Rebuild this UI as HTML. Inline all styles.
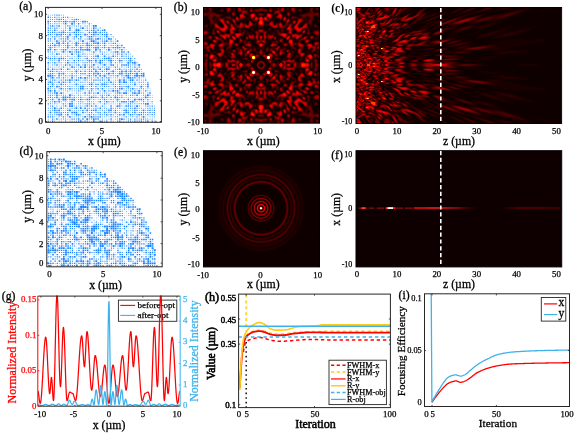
<!DOCTYPE html>
<html><head><meta charset="utf-8"><title>Figure</title>
<style>html,body{margin:0;padding:0;background:#fff}svg{display:block}text{font-family:"Liberation Serif", "Times New Roman", serif}</style>
</head><body>
<svg width="575" height="433" viewBox="0 0 575 433">
<rect width="575" height="433" fill="#fff"/>
<path fill="#1a84ff" d="M47.98 120.92h.6v.6h-.6zM56.64 120.92h.6v.6h-.6zM63.14 120.92h.6v.6h-.6zM67.47 120.92h.6v.6h-.6zM91.28 120.92h.6v.6h-.6zM108.6 120.92h.6v.6h-.6zM115.1 120.92h.6v.6h-.6zM149.74 120.92h.6v.6h-.6zM50.15 118.75h.6v.6h-.6zM84.79 118.75h.6v.6h-.6zM99.94 118.75h.6v.6h-.6zM104.27 118.75h.6v.6h-.6zM112.93 118.75h.6v.6h-.6zM132.42 118.75h.6v.6h-.6zM154.07 118.75h.6v.6h-.6zM56.64 116.59h.6v.6h-.6zM80.46 116.59h.6v.6h-.6zM119.43 116.59h.6v.6h-.6zM128.09 116.59h.6v.6h-.6zM130.25 116.59h.6v.6h-.6zM147.57 116.59h.6v.6h-.6zM63.14 114.42h.6v.6h-.6zM69.63 114.42h.6v.6h-.6zM82.62 114.42h.6v.6h-.6zM84.79 114.42h.6v.6h-.6zM115.1 114.42h.6v.6h-.6zM125.92 114.42h.6v.6h-.6zM47.98 112.26h.6v.6h-.6zM52.31 112.26h.6v.6h-.6zM69.63 112.26h.6v.6h-.6zM78.29 112.26h.6v.6h-.6zM80.46 112.26h.6v.6h-.6zM93.45 112.26h.6v.6h-.6zM102.11 112.26h.6v.6h-.6zM121.59 112.26h.6v.6h-.6zM130.25 112.26h.6v.6h-.6zM63.14 110.09h.6v.6h-.6zM65.3 110.09h.6v.6h-.6zM112.93 110.09h.6v.6h-.6zM119.43 110.09h.6v.6h-.6zM121.59 110.09h.6v.6h-.6zM138.91 110.09h.6v.6h-.6zM65.3 107.93h.6v.6h-.6zM78.29 107.93h.6v.6h-.6zM82.62 107.93h.6v.6h-.6zM91.28 107.93h.6v.6h-.6zM102.11 107.93h.6v.6h-.6zM108.6 107.93h.6v.6h-.6zM121.59 107.93h.6v.6h-.6zM143.24 107.93h.6v.6h-.6zM47.98 105.76h.6v.6h-.6zM54.48 105.76h.6v.6h-.6zM58.81 105.76h.6v.6h-.6zM67.47 105.76h.6v.6h-.6zM97.78 105.76h.6v.6h-.6zM106.44 105.76h.6v.6h-.6zM108.6 105.76h.6v.6h-.6zM112.93 105.76h.6v.6h-.6zM115.1 105.76h.6v.6h-.6zM141.08 105.76h.6v.6h-.6zM143.24 105.76h.6v.6h-.6zM58.81 103.6h.6v.6h-.6zM60.97 103.6h.6v.6h-.6zM76.13 103.6h.6v.6h-.6zM95.61 103.6h.6v.6h-.6zM97.78 103.6h.6v.6h-.6zM99.94 103.6h.6v.6h-.6zM102.11 103.6h.6v.6h-.6zM115.1 103.6h.6v.6h-.6zM149.74 103.6h.6v.6h-.6zM47.98 101.43h.6v.6h-.6zM63.14 101.43h.6v.6h-.6zM67.47 101.43h.6v.6h-.6zM73.96 101.43h.6v.6h-.6zM76.13 101.43h.6v.6h-.6zM84.79 101.43h.6v.6h-.6zM95.61 101.43h.6v.6h-.6zM102.11 101.43h.6v.6h-.6zM115.1 101.43h.6v.6h-.6zM138.91 101.43h.6v.6h-.6zM141.08 101.43h.6v.6h-.6zM145.41 101.43h.6v.6h-.6zM149.74 101.43h.6v.6h-.6zM54.48 99.27h.6v.6h-.6zM56.64 99.27h.6v.6h-.6zM76.13 99.27h.6v.6h-.6zM91.28 99.27h.6v.6h-.6zM95.61 99.27h.6v.6h-.6zM115.1 99.27h.6v.6h-.6zM121.59 99.27h.6v.6h-.6zM125.92 99.27h.6v.6h-.6zM130.25 99.27h.6v.6h-.6zM132.42 99.27h.6v.6h-.6zM145.41 99.27h.6v.6h-.6zM149.74 99.27h.6v.6h-.6zM151.9 99.27h.6v.6h-.6zM86.95 97.1h.6v.6h-.6zM99.94 97.1h.6v.6h-.6zM108.6 97.1h.6v.6h-.6zM112.93 97.1h.6v.6h-.6zM128.09 97.1h.6v.6h-.6zM134.58 97.1h.6v.6h-.6zM138.91 97.1h.6v.6h-.6zM141.08 97.1h.6v.6h-.6zM67.47 94.94h.6v.6h-.6zM76.13 94.94h.6v.6h-.6zM82.62 94.94h.6v.6h-.6zM91.28 94.94h.6v.6h-.6zM97.78 94.94h.6v.6h-.6zM110.77 94.94h.6v.6h-.6zM123.76 94.94h.6v.6h-.6zM128.09 94.94h.6v.6h-.6zM138.91 94.94h.6v.6h-.6zM141.08 94.94h.6v.6h-.6zM151.9 94.94h.6v.6h-.6zM65.3 92.77h.6v.6h-.6zM67.47 92.77h.6v.6h-.6zM69.63 92.77h.6v.6h-.6zM73.96 92.77h.6v.6h-.6zM86.95 92.77h.6v.6h-.6zM112.93 92.77h.6v.6h-.6zM130.25 92.77h.6v.6h-.6zM145.41 92.77h.6v.6h-.6zM56.64 90.61h.6v.6h-.6zM60.97 90.61h.6v.6h-.6zM86.95 90.61h.6v.6h-.6zM93.45 90.61h.6v.6h-.6zM97.78 90.61h.6v.6h-.6zM121.59 90.61h.6v.6h-.6zM132.42 90.61h.6v.6h-.6zM141.08 90.61h.6v.6h-.6zM52.31 88.44h.6v.6h-.6zM56.64 88.44h.6v.6h-.6zM89.12 88.44h.6v.6h-.6zM99.94 88.44h.6v.6h-.6zM104.27 88.44h.6v.6h-.6zM106.44 88.44h.6v.6h-.6zM145.41 88.44h.6v.6h-.6zM149.74 88.44h.6v.6h-.6zM54.48 86.28h.6v.6h-.6zM60.97 86.28h.6v.6h-.6zM73.96 86.28h.6v.6h-.6zM93.45 86.28h.6v.6h-.6zM97.78 86.28h.6v.6h-.6zM110.77 86.28h.6v.6h-.6zM130.25 86.28h.6v.6h-.6zM132.42 86.28h.6v.6h-.6zM134.58 86.28h.6v.6h-.6zM138.91 86.28h.6v.6h-.6zM143.24 86.28h.6v.6h-.6zM50.15 84.11h.6v.6h-.6zM54.48 84.11h.6v.6h-.6zM67.47 84.11h.6v.6h-.6zM93.45 84.11h.6v.6h-.6zM108.6 84.11h.6v.6h-.6zM117.26 84.11h.6v.6h-.6zM128.09 84.11h.6v.6h-.6zM132.42 84.11h.6v.6h-.6zM136.75 84.11h.6v.6h-.6zM71.8 81.95h.6v.6h-.6zM76.13 81.95h.6v.6h-.6zM78.29 81.95h.6v.6h-.6zM95.61 81.95h.6v.6h-.6zM97.78 81.95h.6v.6h-.6zM102.11 81.95h.6v.6h-.6zM117.26 81.95h.6v.6h-.6zM128.09 81.95h.6v.6h-.6zM136.75 81.95h.6v.6h-.6zM145.41 81.95h.6v.6h-.6zM80.46 79.78h.6v.6h-.6zM110.77 79.78h.6v.6h-.6zM112.93 79.78h.6v.6h-.6zM134.58 79.78h.6v.6h-.6zM47.98 77.62h.6v.6h-.6zM60.97 77.62h.6v.6h-.6zM69.63 77.62h.6v.6h-.6zM73.96 77.62h.6v.6h-.6zM119.43 77.62h.6v.6h-.6zM141.08 77.62h.6v.6h-.6zM143.24 77.62h.6v.6h-.6zM145.41 77.62h.6v.6h-.6zM56.64 75.45h.6v.6h-.6zM78.29 75.45h.6v.6h-.6zM82.62 75.45h.6v.6h-.6zM84.79 75.45h.6v.6h-.6zM97.78 75.45h.6v.6h-.6zM119.43 75.45h.6v.6h-.6zM65.3 73.29h.6v.6h-.6zM67.47 73.29h.6v.6h-.6zM69.63 73.29h.6v.6h-.6zM86.95 73.29h.6v.6h-.6zM102.11 73.29h.6v.6h-.6zM63.14 71.12h.6v.6h-.6zM65.3 71.12h.6v.6h-.6zM73.96 71.12h.6v.6h-.6zM78.29 71.12h.6v.6h-.6zM82.62 71.12h.6v.6h-.6zM86.95 71.12h.6v.6h-.6zM93.45 71.12h.6v.6h-.6zM108.6 71.12h.6v.6h-.6zM115.1 71.12h.6v.6h-.6zM117.26 71.12h.6v.6h-.6zM141.08 71.12h.6v.6h-.6zM50.15 68.96h.6v.6h-.6zM65.3 68.96h.6v.6h-.6zM71.8 68.96h.6v.6h-.6zM80.46 68.96h.6v.6h-.6zM102.11 68.96h.6v.6h-.6zM110.77 68.96h.6v.6h-.6zM112.93 68.96h.6v.6h-.6zM56.64 66.79h.6v.6h-.6zM60.97 66.79h.6v.6h-.6zM65.3 66.79h.6v.6h-.6zM67.47 66.79h.6v.6h-.6zM86.95 66.79h.6v.6h-.6zM95.61 66.79h.6v.6h-.6zM99.94 66.79h.6v.6h-.6zM112.93 66.79h.6v.6h-.6zM119.43 66.79h.6v.6h-.6zM123.76 66.79h.6v.6h-.6zM50.15 64.63h.6v.6h-.6zM80.46 64.63h.6v.6h-.6zM115.1 64.63h.6v.6h-.6zM119.43 64.63h.6v.6h-.6zM63.14 62.46h.6v.6h-.6zM80.46 62.46h.6v.6h-.6zM112.93 62.46h.6v.6h-.6zM123.76 62.46h.6v.6h-.6zM125.92 62.46h.6v.6h-.6zM47.98 60.3h.6v.6h-.6zM60.97 60.3h.6v.6h-.6zM63.14 60.3h.6v.6h-.6zM71.8 60.3h.6v.6h-.6zM84.79 60.3h.6v.6h-.6zM97.78 60.3h.6v.6h-.6zM117.26 60.3h.6v.6h-.6zM123.76 60.3h.6v.6h-.6zM134.58 60.3h.6v.6h-.6zM73.96 58.13h.6v.6h-.6zM82.62 58.13h.6v.6h-.6zM89.12 58.13h.6v.6h-.6zM99.94 58.13h.6v.6h-.6zM115.1 58.13h.6v.6h-.6zM132.42 58.13h.6v.6h-.6zM50.15 55.97h.6v.6h-.6zM58.81 55.97h.6v.6h-.6zM63.14 55.97h.6v.6h-.6zM71.8 55.97h.6v.6h-.6zM76.13 55.97h.6v.6h-.6zM89.12 55.97h.6v.6h-.6zM99.94 55.97h.6v.6h-.6zM102.11 55.97h.6v.6h-.6zM106.44 55.97h.6v.6h-.6zM119.43 55.97h.6v.6h-.6zM130.25 55.97h.6v.6h-.6zM47.98 53.8h.6v.6h-.6zM54.48 53.8h.6v.6h-.6zM63.14 53.8h.6v.6h-.6zM65.3 53.8h.6v.6h-.6zM67.47 53.8h.6v.6h-.6zM69.63 53.8h.6v.6h-.6zM97.78 53.8h.6v.6h-.6zM104.27 53.8h.6v.6h-.6zM110.77 53.8h.6v.6h-.6zM84.79 51.64h.6v.6h-.6zM86.95 51.64h.6v.6h-.6zM97.78 51.64h.6v.6h-.6zM108.6 51.64h.6v.6h-.6zM119.43 51.64h.6v.6h-.6zM125.92 51.64h.6v.6h-.6zM52.31 49.47h.6v.6h-.6zM58.81 49.47h.6v.6h-.6zM91.28 49.47h.6v.6h-.6zM93.45 49.47h.6v.6h-.6zM102.11 49.47h.6v.6h-.6zM104.27 49.47h.6v.6h-.6zM112.93 49.47h.6v.6h-.6zM117.26 49.47h.6v.6h-.6zM125.92 49.47h.6v.6h-.6zM56.64 47.31h.6v.6h-.6zM58.81 47.31h.6v.6h-.6zM60.97 47.31h.6v.6h-.6zM69.63 47.31h.6v.6h-.6zM78.29 47.31h.6v.6h-.6zM73.96 45.14h.6v.6h-.6zM102.11 45.14h.6v.6h-.6zM106.44 45.14h.6v.6h-.6zM108.6 45.14h.6v.6h-.6zM54.48 42.98h.6v.6h-.6zM69.63 42.98h.6v.6h-.6zM106.44 42.98h.6v.6h-.6zM117.26 42.98h.6v.6h-.6zM119.43 42.98h.6v.6h-.6zM52.31 40.81h.6v.6h-.6zM71.8 40.81h.6v.6h-.6zM73.96 40.81h.6v.6h-.6zM84.79 40.81h.6v.6h-.6zM86.95 40.81h.6v.6h-.6zM52.31 38.65h.6v.6h-.6zM56.64 38.65h.6v.6h-.6zM69.63 38.65h.6v.6h-.6zM76.13 38.65h.6v.6h-.6zM82.62 38.65h.6v.6h-.6zM112.93 38.65h.6v.6h-.6zM50.15 36.48h.6v.6h-.6zM69.63 36.48h.6v.6h-.6zM78.29 36.48h.6v.6h-.6zM82.62 36.48h.6v.6h-.6zM84.79 36.48h.6v.6h-.6zM110.77 36.48h.6v.6h-.6zM71.8 34.32h.6v.6h-.6zM82.62 34.32h.6v.6h-.6zM89.12 34.32h.6v.6h-.6zM108.6 34.32h.6v.6h-.6zM84.79 32.15h.6v.6h-.6zM86.95 32.15h.6v.6h-.6zM58.81 29.99h.6v.6h-.6zM67.47 29.99h.6v.6h-.6zM71.8 29.99h.6v.6h-.6zM73.96 29.99h.6v.6h-.6zM82.62 29.99h.6v.6h-.6zM63.14 27.82h.6v.6h-.6zM67.47 27.82h.6v.6h-.6zM71.8 27.82h.6v.6h-.6zM73.96 27.82h.6v.6h-.6zM78.29 27.82h.6v.6h-.6zM91.28 27.82h.6v.6h-.6zM97.78 27.82h.6v.6h-.6zM60.97 25.66h.6v.6h-.6zM63.14 25.66h.6v.6h-.6zM82.62 25.66h.6v.6h-.6zM91.28 25.66h.6v.6h-.6zM67.47 23.49h.6v.6h-.6zM69.63 23.49h.6v.6h-.6zM76.13 23.49h.6v.6h-.6zM80.46 23.49h.6v.6h-.6zM86.95 23.49h.6v.6h-.6zM91.28 23.49h.6v.6h-.6zM52.31 21.33h.6v.6h-.6zM47.98 19.16h.6v.6h-.6zM65.3 19.16h.6v.6h-.6zM67.47 19.16h.6v.6h-.6zM69.63 19.16h.6v.6h-.6zM80.46 19.16h.6v.6h-.6zM69.63 17h.6v.6h-.6zM73.96 17h.6v.6h-.6zM50.15 14.83h.6v.6h-.6z"/>
<path fill="#1a84ff" d="M50.07 120.84h.8v.8h-.8zM82.55 120.84h.8v.8h-.8zM89.04 120.84h.8v.8h-.8zM95.54 120.84h.8v.8h-.8zM97.7 120.84h.8v.8h-.8zM121.52 120.84h.8v.8h-.8zM125.85 120.84h.8v.8h-.8zM132.34 120.84h.8v.8h-.8zM47.91 118.68h.8v.8h-.8zM54.4 118.68h.8v.8h-.8zM58.73 118.68h.8v.8h-.8zM67.39 118.68h.8v.8h-.8zM69.56 118.68h.8v.8h-.8zM80.38 118.68h.8v.8h-.8zM106.36 118.68h.8v.8h-.8zM108.53 118.68h.8v.8h-.8zM115.02 118.68h.8v.8h-.8zM125.85 118.68h.8v.8h-.8zM149.66 118.68h.8v.8h-.8zM60.9 116.51h.8v.8h-.8zM102.03 116.51h.8v.8h-.8zM108.53 116.51h.8v.8h-.8zM112.86 116.51h.8v.8h-.8zM138.84 116.51h.8v.8h-.8zM141 116.51h.8v.8h-.8zM145.33 116.51h.8v.8h-.8zM149.66 116.51h.8v.8h-.8zM151.83 116.51h.8v.8h-.8zM153.99 116.51h.8v.8h-.8zM50.07 114.35h.8v.8h-.8zM73.89 114.35h.8v.8h-.8zM91.21 114.35h.8v.8h-.8zM97.7 114.35h.8v.8h-.8zM102.03 114.35h.8v.8h-.8zM149.66 114.35h.8v.8h-.8zM86.88 112.18h.8v.8h-.8zM112.86 112.18h.8v.8h-.8zM117.19 112.18h.8v.8h-.8zM136.67 112.18h.8v.8h-.8zM50.07 110.02h.8v.8h-.8zM60.9 110.02h.8v.8h-.8zM71.72 110.02h.8v.8h-.8zM73.89 110.02h.8v.8h-.8zM76.05 110.02h.8v.8h-.8zM84.71 110.02h.8v.8h-.8zM104.2 110.02h.8v.8h-.8zM117.19 110.02h.8v.8h-.8zM141 110.02h.8v.8h-.8zM52.24 107.85h.8v.8h-.8zM58.73 107.85h.8v.8h-.8zM63.06 107.85h.8v.8h-.8zM69.56 107.85h.8v.8h-.8zM86.88 107.85h.8v.8h-.8zM115.02 107.85h.8v.8h-.8zM117.19 107.85h.8v.8h-.8zM123.68 107.85h.8v.8h-.8zM125.85 107.85h.8v.8h-.8zM128.01 107.85h.8v.8h-.8zM138.84 107.85h.8v.8h-.8zM141 107.85h.8v.8h-.8zM145.33 107.85h.8v.8h-.8zM151.83 107.85h.8v.8h-.8zM60.9 105.69h.8v.8h-.8zM78.22 105.69h.8v.8h-.8zM82.55 105.69h.8v.8h-.8zM93.37 105.69h.8v.8h-.8zM99.87 105.69h.8v.8h-.8zM104.2 105.69h.8v.8h-.8zM123.68 105.69h.8v.8h-.8zM153.99 105.69h.8v.8h-.8zM73.89 103.52h.8v.8h-.8zM91.21 103.52h.8v.8h-.8zM112.86 103.52h.8v.8h-.8zM117.19 103.52h.8v.8h-.8zM121.52 103.52h.8v.8h-.8zM125.85 103.52h.8v.8h-.8zM50.07 101.36h.8v.8h-.8zM69.56 101.36h.8v.8h-.8zM86.88 101.36h.8v.8h-.8zM93.37 101.36h.8v.8h-.8zM97.7 101.36h.8v.8h-.8zM110.69 101.36h.8v.8h-.8zM119.35 101.36h.8v.8h-.8zM50.07 99.19h.8v.8h-.8zM60.9 99.19h.8v.8h-.8zM67.39 99.19h.8v.8h-.8zM97.7 99.19h.8v.8h-.8zM102.03 99.19h.8v.8h-.8zM108.53 99.19h.8v.8h-.8zM112.86 99.19h.8v.8h-.8zM119.35 99.19h.8v.8h-.8zM58.73 97.03h.8v.8h-.8zM76.05 97.03h.8v.8h-.8zM82.55 97.03h.8v.8h-.8zM84.71 97.03h.8v.8h-.8zM123.68 97.03h.8v.8h-.8zM130.18 97.03h.8v.8h-.8zM132.34 97.03h.8v.8h-.8zM143.17 97.03h.8v.8h-.8zM151.83 97.03h.8v.8h-.8zM54.4 94.86h.8v.8h-.8zM58.73 94.86h.8v.8h-.8zM65.23 94.86h.8v.8h-.8zM80.38 94.86h.8v.8h-.8zM95.54 94.86h.8v.8h-.8zM104.2 94.86h.8v.8h-.8zM112.86 94.86h.8v.8h-.8zM115.02 94.86h.8v.8h-.8zM125.85 94.86h.8v.8h-.8zM134.51 94.86h.8v.8h-.8zM58.73 92.7h.8v.8h-.8zM71.72 92.7h.8v.8h-.8zM78.22 92.7h.8v.8h-.8zM80.38 92.7h.8v.8h-.8zM82.55 92.7h.8v.8h-.8zM99.87 92.7h.8v.8h-.8zM102.03 92.7h.8v.8h-.8zM108.53 92.7h.8v.8h-.8zM110.69 92.7h.8v.8h-.8zM128.01 92.7h.8v.8h-.8zM63.06 90.53h.8v.8h-.8zM76.05 90.53h.8v.8h-.8zM82.55 90.53h.8v.8h-.8zM84.71 90.53h.8v.8h-.8zM95.54 90.53h.8v.8h-.8zM102.03 90.53h.8v.8h-.8zM106.36 90.53h.8v.8h-.8zM123.68 90.53h.8v.8h-.8zM50.07 88.37h.8v.8h-.8zM73.89 88.37h.8v.8h-.8zM76.05 88.37h.8v.8h-.8zM84.71 88.37h.8v.8h-.8zM110.69 88.37h.8v.8h-.8zM115.02 88.37h.8v.8h-.8zM125.85 88.37h.8v.8h-.8zM138.84 88.37h.8v.8h-.8zM147.5 88.37h.8v.8h-.8zM47.91 86.2h.8v.8h-.8zM63.06 86.2h.8v.8h-.8zM71.72 86.2h.8v.8h-.8zM76.05 86.2h.8v.8h-.8zM78.22 86.2h.8v.8h-.8zM112.86 86.2h.8v.8h-.8zM136.67 86.2h.8v.8h-.8zM58.73 84.04h.8v.8h-.8zM71.72 84.04h.8v.8h-.8zM78.22 84.04h.8v.8h-.8zM80.38 84.04h.8v.8h-.8zM99.87 84.04h.8v.8h-.8zM123.68 84.04h.8v.8h-.8zM138.84 84.04h.8v.8h-.8zM141 84.04h.8v.8h-.8zM145.33 84.04h.8v.8h-.8zM56.57 81.87h.8v.8h-.8zM60.9 81.87h.8v.8h-.8zM67.39 81.87h.8v.8h-.8zM86.88 81.87h.8v.8h-.8zM99.87 81.87h.8v.8h-.8zM47.91 79.71h.8v.8h-.8zM115.02 79.71h.8v.8h-.8zM117.19 79.71h.8v.8h-.8zM128.01 79.71h.8v.8h-.8zM141 79.71h.8v.8h-.8zM143.17 79.71h.8v.8h-.8zM54.4 77.54h.8v.8h-.8zM65.23 77.54h.8v.8h-.8zM99.87 77.54h.8v.8h-.8zM112.86 77.54h.8v.8h-.8zM115.02 77.54h.8v.8h-.8zM117.19 77.54h.8v.8h-.8zM136.67 77.54h.8v.8h-.8zM63.06 75.38h.8v.8h-.8zM67.39 75.38h.8v.8h-.8zM106.36 75.38h.8v.8h-.8zM47.91 73.21h.8v.8h-.8zM73.89 73.21h.8v.8h-.8zM78.22 73.21h.8v.8h-.8zM104.2 73.21h.8v.8h-.8zM115.02 73.21h.8v.8h-.8zM117.19 73.21h.8v.8h-.8zM47.91 71.05h.8v.8h-.8zM54.4 71.05h.8v.8h-.8zM67.39 71.05h.8v.8h-.8zM69.56 71.05h.8v.8h-.8zM104.2 71.05h.8v.8h-.8zM128.01 71.05h.8v.8h-.8zM132.34 71.05h.8v.8h-.8zM136.67 71.05h.8v.8h-.8zM63.06 68.88h.8v.8h-.8zM76.05 68.88h.8v.8h-.8zM84.71 68.88h.8v.8h-.8zM86.88 68.88h.8v.8h-.8zM91.21 68.88h.8v.8h-.8zM121.52 68.88h.8v.8h-.8zM128.01 68.88h.8v.8h-.8zM138.84 68.88h.8v.8h-.8zM52.24 66.72h.8v.8h-.8zM54.4 66.72h.8v.8h-.8zM69.56 66.72h.8v.8h-.8zM76.05 66.72h.8v.8h-.8zM78.22 66.72h.8v.8h-.8zM104.2 66.72h.8v.8h-.8zM110.69 66.72h.8v.8h-.8zM132.34 66.72h.8v.8h-.8zM136.67 66.72h.8v.8h-.8zM58.73 64.55h.8v.8h-.8zM63.06 64.55h.8v.8h-.8zM73.89 64.55h.8v.8h-.8zM95.54 64.55h.8v.8h-.8zM97.7 64.55h.8v.8h-.8zM102.03 64.55h.8v.8h-.8zM106.36 64.55h.8v.8h-.8zM108.53 64.55h.8v.8h-.8zM50.07 62.39h.8v.8h-.8zM78.22 62.39h.8v.8h-.8zM93.37 62.39h.8v.8h-.8zM104.2 62.39h.8v.8h-.8zM106.36 62.39h.8v.8h-.8zM108.53 62.39h.8v.8h-.8zM117.19 62.39h.8v.8h-.8zM50.07 60.22h.8v.8h-.8zM52.24 60.22h.8v.8h-.8zM69.56 60.22h.8v.8h-.8zM76.05 60.22h.8v.8h-.8zM104.2 60.22h.8v.8h-.8zM106.36 60.22h.8v.8h-.8zM128.01 60.22h.8v.8h-.8zM132.34 60.22h.8v.8h-.8zM67.39 58.06h.8v.8h-.8zM76.05 58.06h.8v.8h-.8zM80.38 58.06h.8v.8h-.8zM102.03 58.06h.8v.8h-.8zM112.86 58.06h.8v.8h-.8zM52.24 55.89h.8v.8h-.8zM56.57 55.89h.8v.8h-.8zM65.23 55.89h.8v.8h-.8zM69.56 55.89h.8v.8h-.8zM73.89 55.89h.8v.8h-.8zM82.55 55.89h.8v.8h-.8zM91.21 55.89h.8v.8h-.8zM110.69 55.89h.8v.8h-.8zM50.07 53.73h.8v.8h-.8zM60.9 53.73h.8v.8h-.8zM73.89 53.73h.8v.8h-.8zM80.38 53.73h.8v.8h-.8zM89.04 53.73h.8v.8h-.8zM91.21 53.73h.8v.8h-.8zM95.54 53.73h.8v.8h-.8zM123.68 53.73h.8v.8h-.8zM128.01 53.73h.8v.8h-.8zM56.57 51.56h.8v.8h-.8zM58.73 51.56h.8v.8h-.8zM60.9 51.56h.8v.8h-.8zM65.23 51.56h.8v.8h-.8zM89.04 51.56h.8v.8h-.8zM91.21 51.56h.8v.8h-.8zM95.54 51.56h.8v.8h-.8zM106.36 51.56h.8v.8h-.8zM67.39 49.4h.8v.8h-.8zM69.56 49.4h.8v.8h-.8zM123.68 49.4h.8v.8h-.8zM47.91 47.23h.8v.8h-.8zM65.23 47.23h.8v.8h-.8zM99.87 47.23h.8v.8h-.8zM60.9 45.07h.8v.8h-.8zM63.06 45.07h.8v.8h-.8zM71.72 45.07h.8v.8h-.8zM78.22 45.07h.8v.8h-.8zM84.71 45.07h.8v.8h-.8zM115.02 45.07h.8v.8h-.8zM119.35 45.07h.8v.8h-.8zM47.91 42.9h.8v.8h-.8zM50.07 42.9h.8v.8h-.8zM60.9 42.9h.8v.8h-.8zM65.23 42.9h.8v.8h-.8zM73.89 42.9h.8v.8h-.8zM80.38 42.9h.8v.8h-.8zM60.9 40.74h.8v.8h-.8zM76.05 40.74h.8v.8h-.8zM89.04 40.74h.8v.8h-.8zM97.7 40.74h.8v.8h-.8zM99.87 40.74h.8v.8h-.8zM108.53 40.74h.8v.8h-.8zM115.02 40.74h.8v.8h-.8zM71.72 38.57h.8v.8h-.8zM47.91 36.41h.8v.8h-.8zM71.72 36.41h.8v.8h-.8zM97.7 36.41h.8v.8h-.8zM102.03 36.41h.8v.8h-.8zM108.53 36.41h.8v.8h-.8zM73.89 34.24h.8v.8h-.8zM56.57 32.08h.8v.8h-.8zM82.55 32.08h.8v.8h-.8zM91.21 32.08h.8v.8h-.8zM97.7 32.08h.8v.8h-.8zM102.03 32.08h.8v.8h-.8zM52.24 29.91h.8v.8h-.8zM60.9 29.91h.8v.8h-.8zM80.38 29.91h.8v.8h-.8zM84.71 29.91h.8v.8h-.8zM99.87 29.91h.8v.8h-.8zM52.24 27.75h.8v.8h-.8zM58.73 27.75h.8v.8h-.8zM60.9 27.75h.8v.8h-.8zM84.71 27.75h.8v.8h-.8zM89.04 27.75h.8v.8h-.8zM71.72 25.58h.8v.8h-.8zM89.04 25.58h.8v.8h-.8zM52.24 23.42h.8v.8h-.8zM60.9 23.42h.8v.8h-.8zM84.71 23.42h.8v.8h-.8zM80.38 21.25h.8v.8h-.8zM50.07 19.09h.8v.8h-.8zM52.24 19.09h.8v.8h-.8zM54.4 19.09h.8v.8h-.8zM52.24 16.92h.8v.8h-.8zM60.9 16.92h.8v.8h-.8zM71.72 16.92h.8v.8h-.8zM52.24 14.76h.8v.8h-.8zM63.06 14.76h.8v.8h-.8z"/>
<path fill="#1a84ff" d="M58.66 120.77h.9v.9h-.9zM60.82 120.77h.9v.9h-.9zM69.48 120.77h.9v.9h-.9zM73.81 120.77h.9v.9h-.9zM104.12 120.77h.9v.9h-.9zM112.78 120.77h.9v.9h-.9zM143.09 120.77h.9v.9h-.9zM153.92 120.77h.9v.9h-.9zM62.99 118.6h.9v.9h-.9zM101.96 118.6h.9v.9h-.9zM117.11 118.6h.9v.9h-.9zM136.6 118.6h.9v.9h-.9zM151.75 118.6h.9v.9h-.9zM54.33 116.44h.9v.9h-.9zM65.15 116.44h.9v.9h-.9zM67.32 116.44h.9v.9h-.9zM71.65 116.44h.9v.9h-.9zM73.81 116.44h.9v.9h-.9zM75.98 116.44h.9v.9h-.9zM78.14 116.44h.9v.9h-.9zM104.12 116.44h.9v.9h-.9zM106.29 116.44h.9v.9h-.9zM121.44 116.44h.9v.9h-.9zM123.61 116.44h.9v.9h-.9zM134.43 116.44h.9v.9h-.9zM52.16 114.27h.9v.9h-.9zM54.33 114.27h.9v.9h-.9zM86.8 114.27h.9v.9h-.9zM95.46 114.27h.9v.9h-.9zM104.12 114.27h.9v.9h-.9zM108.45 114.27h.9v.9h-.9zM117.11 114.27h.9v.9h-.9zM127.94 114.27h.9v.9h-.9zM62.99 112.11h.9v.9h-.9zM65.15 112.11h.9v.9h-.9zM84.64 112.11h.9v.9h-.9zM88.97 112.11h.9v.9h-.9zM95.46 112.11h.9v.9h-.9zM106.29 112.11h.9v.9h-.9zM108.45 112.11h.9v.9h-.9zM138.76 112.11h.9v.9h-.9zM145.26 112.11h.9v.9h-.9zM151.75 112.11h.9v.9h-.9zM47.83 109.94h.9v.9h-.9zM80.31 109.94h.9v.9h-.9zM88.97 109.94h.9v.9h-.9zM97.63 109.94h.9v.9h-.9zM130.1 109.94h.9v.9h-.9zM145.26 109.94h.9v.9h-.9zM47.83 107.78h.9v.9h-.9zM67.32 107.78h.9v.9h-.9zM71.65 107.78h.9v.9h-.9zM73.81 107.78h.9v.9h-.9zM93.3 107.78h.9v.9h-.9zM104.12 107.78h.9v.9h-.9zM112.78 107.78h.9v.9h-.9zM153.92 107.78h.9v.9h-.9zM50 105.61h.9v.9h-.9zM56.49 105.61h.9v.9h-.9zM73.81 105.61h.9v.9h-.9zM75.98 105.61h.9v.9h-.9zM121.44 105.61h.9v.9h-.9zM52.16 103.45h.9v.9h-.9zM56.49 103.45h.9v.9h-.9zM65.15 103.45h.9v.9h-.9zM67.32 103.45h.9v.9h-.9zM78.14 103.45h.9v.9h-.9zM82.47 103.45h.9v.9h-.9zM106.29 103.45h.9v.9h-.9zM108.45 103.45h.9v.9h-.9zM110.62 103.45h.9v.9h-.9zM123.61 103.45h.9v.9h-.9zM132.27 103.45h.9v.9h-.9zM136.6 103.45h.9v.9h-.9zM151.75 103.45h.9v.9h-.9zM52.16 101.28h.9v.9h-.9zM60.82 101.28h.9v.9h-.9zM65.15 101.28h.9v.9h-.9zM91.13 101.28h.9v.9h-.9zM117.11 101.28h.9v.9h-.9zM127.94 101.28h.9v.9h-.9zM134.43 101.28h.9v.9h-.9zM47.83 99.12h.9v.9h-.9zM78.14 99.12h.9v.9h-.9zM84.64 99.12h.9v.9h-.9zM106.29 99.12h.9v.9h-.9zM123.61 99.12h.9v.9h-.9zM52.16 96.95h.9v.9h-.9zM60.82 96.95h.9v.9h-.9zM71.65 96.95h.9v.9h-.9zM78.14 96.95h.9v.9h-.9zM104.12 96.95h.9v.9h-.9zM125.77 96.95h.9v.9h-.9zM136.6 96.95h.9v.9h-.9zM149.59 96.95h.9v.9h-.9zM47.83 94.79h.9v.9h-.9zM52.16 94.79h.9v.9h-.9zM60.82 94.79h.9v.9h-.9zM62.99 94.79h.9v.9h-.9zM73.81 94.79h.9v.9h-.9zM78.14 94.79h.9v.9h-.9zM84.64 94.79h.9v.9h-.9zM86.8 94.79h.9v.9h-.9zM93.3 94.79h.9v.9h-.9zM99.79 94.79h.9v.9h-.9zM119.28 94.79h.9v.9h-.9zM143.09 94.79h.9v.9h-.9zM52.16 92.62h.9v.9h-.9zM62.99 92.62h.9v.9h-.9zM75.98 92.62h.9v.9h-.9zM91.13 92.62h.9v.9h-.9zM121.44 92.62h.9v.9h-.9zM140.93 92.62h.9v.9h-.9zM147.42 92.62h.9v.9h-.9zM52.16 90.46h.9v.9h-.9zM65.15 90.46h.9v.9h-.9zM69.48 90.46h.9v.9h-.9zM71.65 90.46h.9v.9h-.9zM73.81 90.46h.9v.9h-.9zM127.94 90.46h.9v.9h-.9zM136.6 90.46h.9v.9h-.9zM143.09 90.46h.9v.9h-.9zM147.42 90.46h.9v.9h-.9zM149.59 90.46h.9v.9h-.9zM58.66 88.29h.9v.9h-.9zM93.3 88.29h.9v.9h-.9zM108.45 88.29h.9v.9h-.9zM123.61 88.29h.9v.9h-.9zM136.6 88.29h.9v.9h-.9zM65.15 86.13h.9v.9h-.9zM84.64 86.13h.9v.9h-.9zM86.8 86.13h.9v.9h-.9zM88.97 86.13h.9v.9h-.9zM99.79 86.13h.9v.9h-.9zM101.96 86.13h.9v.9h-.9zM117.11 86.13h.9v.9h-.9zM145.26 86.13h.9v.9h-.9zM56.49 83.96h.9v.9h-.9zM69.48 83.96h.9v.9h-.9zM73.81 83.96h.9v.9h-.9zM82.47 83.96h.9v.9h-.9zM84.64 83.96h.9v.9h-.9zM86.8 83.96h.9v.9h-.9zM110.62 83.96h.9v.9h-.9zM121.44 83.96h.9v.9h-.9zM125.77 83.96h.9v.9h-.9zM130.1 83.96h.9v.9h-.9zM143.09 83.96h.9v.9h-.9zM54.33 81.8h.9v.9h-.9zM73.81 81.8h.9v.9h-.9zM82.47 81.8h.9v.9h-.9zM84.64 81.8h.9v.9h-.9zM104.12 81.8h.9v.9h-.9zM112.78 81.8h.9v.9h-.9zM114.95 81.8h.9v.9h-.9zM132.27 81.8h.9v.9h-.9zM143.09 81.8h.9v.9h-.9zM56.49 79.63h.9v.9h-.9zM58.66 79.63h.9v.9h-.9zM82.47 79.63h.9v.9h-.9zM88.97 79.63h.9v.9h-.9zM106.29 79.63h.9v.9h-.9zM67.32 77.47h.9v.9h-.9zM75.98 77.47h.9v.9h-.9zM93.3 77.47h.9v.9h-.9zM95.46 77.47h.9v.9h-.9zM104.12 77.47h.9v.9h-.9zM110.62 77.47h.9v.9h-.9zM121.44 77.47h.9v.9h-.9zM125.77 77.47h.9v.9h-.9zM60.82 75.3h.9v.9h-.9zM73.81 75.3h.9v.9h-.9zM80.31 75.3h.9v.9h-.9zM91.13 75.3h.9v.9h-.9zM108.45 75.3h.9v.9h-.9zM123.61 75.3h.9v.9h-.9zM130.1 75.3h.9v.9h-.9zM132.27 75.3h.9v.9h-.9zM54.33 73.14h.9v.9h-.9zM56.49 73.14h.9v.9h-.9zM91.13 73.14h.9v.9h-.9zM123.61 73.14h.9v.9h-.9zM138.76 73.14h.9v.9h-.9zM58.66 70.97h.9v.9h-.9zM99.79 70.97h.9v.9h-.9zM73.81 68.81h.9v.9h-.9zM82.47 68.81h.9v.9h-.9zM97.63 68.81h.9v.9h-.9zM104.12 68.81h.9v.9h-.9zM114.95 68.81h.9v.9h-.9zM123.61 68.81h.9v.9h-.9zM125.77 68.81h.9v.9h-.9zM134.43 68.81h.9v.9h-.9zM50 66.64h.9v.9h-.9zM82.47 66.64h.9v.9h-.9zM125.77 66.64h.9v.9h-.9zM47.83 64.48h.9v.9h-.9zM52.16 64.48h.9v.9h-.9zM54.33 64.48h.9v.9h-.9zM60.82 64.48h.9v.9h-.9zM71.65 64.48h.9v.9h-.9zM86.8 64.48h.9v.9h-.9zM91.13 64.48h.9v.9h-.9zM99.79 64.48h.9v.9h-.9zM117.11 64.48h.9v.9h-.9zM130.1 64.48h.9v.9h-.9zM132.27 64.48h.9v.9h-.9zM136.6 64.48h.9v.9h-.9zM52.16 62.31h.9v.9h-.9zM56.49 62.31h.9v.9h-.9zM65.15 62.31h.9v.9h-.9zM69.48 62.31h.9v.9h-.9zM88.97 62.31h.9v.9h-.9zM114.95 62.31h.9v.9h-.9zM121.44 62.31h.9v.9h-.9zM54.33 60.15h.9v.9h-.9zM56.49 60.15h.9v.9h-.9zM65.15 60.15h.9v.9h-.9zM80.31 60.15h.9v.9h-.9zM93.3 60.15h.9v.9h-.9zM114.95 60.15h.9v.9h-.9zM125.77 60.15h.9v.9h-.9zM65.15 57.98h.9v.9h-.9zM84.64 57.98h.9v.9h-.9zM91.13 57.98h.9v.9h-.9zM117.11 57.98h.9v.9h-.9zM121.44 57.98h.9v.9h-.9zM125.77 57.98h.9v.9h-.9zM47.83 55.82h.9v.9h-.9zM60.82 55.82h.9v.9h-.9zM86.8 55.82h.9v.9h-.9zM123.61 55.82h.9v.9h-.9zM127.94 55.82h.9v.9h-.9zM132.27 55.82h.9v.9h-.9zM86.8 53.65h.9v.9h-.9zM99.79 53.65h.9v.9h-.9zM106.29 53.65h.9v.9h-.9zM108.45 53.65h.9v.9h-.9zM114.95 53.65h.9v.9h-.9zM130.1 53.65h.9v.9h-.9zM50 51.49h.9v.9h-.9zM54.33 51.49h.9v.9h-.9zM67.32 51.49h.9v.9h-.9zM82.47 51.49h.9v.9h-.9zM104.12 51.49h.9v.9h-.9zM110.62 51.49h.9v.9h-.9zM73.81 49.32h.9v.9h-.9zM119.28 49.32h.9v.9h-.9zM52.16 47.16h.9v.9h-.9zM62.99 47.16h.9v.9h-.9zM75.98 47.16h.9v.9h-.9zM84.64 47.16h.9v.9h-.9zM91.13 47.16h.9v.9h-.9zM106.29 47.16h.9v.9h-.9zM110.62 47.16h.9v.9h-.9zM121.44 47.16h.9v.9h-.9zM52.16 44.99h.9v.9h-.9zM65.15 44.99h.9v.9h-.9zM69.48 44.99h.9v.9h-.9zM80.31 44.99h.9v.9h-.9zM93.3 44.99h.9v.9h-.9zM95.46 44.99h.9v.9h-.9zM99.79 44.99h.9v.9h-.9zM112.78 44.99h.9v.9h-.9zM71.65 42.83h.9v.9h-.9zM84.64 42.83h.9v.9h-.9zM91.13 42.83h.9v.9h-.9zM99.79 42.83h.9v.9h-.9zM101.96 42.83h.9v.9h-.9zM108.45 42.83h.9v.9h-.9zM110.62 42.83h.9v.9h-.9zM54.33 40.66h.9v.9h-.9zM67.32 40.66h.9v.9h-.9zM78.14 40.66h.9v.9h-.9zM112.78 40.66h.9v.9h-.9zM58.66 38.5h.9v.9h-.9zM84.64 38.5h.9v.9h-.9zM93.3 38.5h.9v.9h-.9zM104.12 38.5h.9v.9h-.9zM114.95 38.5h.9v.9h-.9zM65.15 36.33h.9v.9h-.9zM86.8 36.33h.9v.9h-.9zM93.3 36.33h.9v.9h-.9zM104.12 36.33h.9v.9h-.9zM112.78 36.33h.9v.9h-.9zM52.16 34.17h.9v.9h-.9zM67.32 34.17h.9v.9h-.9zM99.79 34.17h.9v.9h-.9zM50 32h.9v.9h-.9zM65.15 32h.9v.9h-.9zM71.65 32h.9v.9h-.9zM78.14 32h.9v.9h-.9zM80.31 32h.9v.9h-.9zM104.12 32h.9v.9h-.9zM56.49 29.84h.9v.9h-.9zM95.46 29.84h.9v.9h-.9zM75.98 27.67h.9v.9h-.9zM47.83 25.51h.9v.9h-.9zM73.81 25.51h.9v.9h-.9zM78.14 25.51h.9v.9h-.9zM84.64 25.51h.9v.9h-.9zM86.8 25.51h.9v.9h-.9zM56.49 23.34h.9v.9h-.9zM58.66 23.34h.9v.9h-.9zM82.47 23.34h.9v.9h-.9zM75.98 21.18h.9v.9h-.9zM78.14 21.18h.9v.9h-.9zM71.65 19.01h.9v.9h-.9zM78.14 19.01h.9v.9h-.9zM50 16.85h.9v.9h-.9zM56.49 16.85h.9v.9h-.9zM65.15 16.85h.9v.9h-.9zM47.83 14.68h.9v.9h-.9zM60.82 14.68h.9v.9h-.9z"/>
<path fill="#1a84ff" d="M54.25 120.69h1v1h-1zM71.57 120.69h1v1h-1zM75.9 120.69h1v1h-1zM101.88 120.69h1v1h-1zM123.53 120.69h1v1h-1zM60.75 118.53h1v1h-1zM65.08 118.53h1v1h-1zM75.9 118.53h1v1h-1zM88.89 118.53h1v1h-1zM91.06 118.53h1v1h-1zM127.86 118.53h1v1h-1zM138.69 118.53h1v1h-1zM145.18 118.53h1v1h-1zM147.35 118.53h1v1h-1zM58.58 116.36h1v1h-1zM82.4 116.36h1v1h-1zM86.73 116.36h1v1h-1zM110.54 116.36h1v1h-1zM114.87 116.36h1v1h-1zM117.04 116.36h1v1h-1zM132.19 116.36h1v1h-1zM47.76 114.2h1v1h-1zM65.08 114.2h1v1h-1zM71.57 114.2h1v1h-1zM80.23 114.2h1v1h-1zM112.71 114.2h1v1h-1zM121.37 114.2h1v1h-1zM134.36 114.2h1v1h-1zM143.02 114.2h1v1h-1zM145.18 114.2h1v1h-1zM153.84 114.2h1v1h-1zM110.54 112.03h1v1h-1zM119.2 112.03h1v1h-1zM123.53 112.03h1v1h-1zM132.19 112.03h1v1h-1zM147.35 112.03h1v1h-1zM52.09 109.87h1v1h-1zM78.07 109.87h1v1h-1zM99.72 109.87h1v1h-1zM101.88 109.87h1v1h-1zM106.21 109.87h1v1h-1zM127.86 109.87h1v1h-1zM132.19 109.87h1v1h-1zM151.68 109.87h1v1h-1zM49.92 107.7h1v1h-1zM97.55 107.7h1v1h-1zM106.21 107.7h1v1h-1zM132.19 107.7h1v1h-1zM147.35 107.7h1v1h-1zM62.91 105.54h1v1h-1zM80.23 105.54h1v1h-1zM84.56 105.54h1v1h-1zM88.89 105.54h1v1h-1zM132.19 105.54h1v1h-1zM134.36 105.54h1v1h-1zM138.69 105.54h1v1h-1zM145.18 105.54h1v1h-1zM149.51 105.54h1v1h-1zM49.92 103.37h1v1h-1zM54.25 103.37h1v1h-1zM80.23 103.37h1v1h-1zM84.56 103.37h1v1h-1zM134.36 103.37h1v1h-1zM138.69 103.37h1v1h-1zM140.85 103.37h1v1h-1zM143.02 103.37h1v1h-1zM78.07 101.21h1v1h-1zM82.4 101.21h1v1h-1zM104.05 101.21h1v1h-1zM136.52 101.21h1v1h-1zM147.35 101.21h1v1h-1zM82.4 99.04h1v1h-1zM93.22 99.04h1v1h-1zM99.72 99.04h1v1h-1zM110.54 99.04h1v1h-1zM136.52 99.04h1v1h-1zM47.76 96.88h1v1h-1zM54.25 96.88h1v1h-1zM97.55 96.88h1v1h-1zM119.2 96.88h1v1h-1zM88.89 94.71h1v1h-1zM117.04 94.71h1v1h-1zM121.37 94.71h1v1h-1zM149.51 94.71h1v1h-1zM47.76 92.55h1v1h-1zM49.92 92.55h1v1h-1zM95.39 92.55h1v1h-1zM104.05 92.55h1v1h-1zM106.21 92.55h1v1h-1zM114.87 92.55h1v1h-1zM143.02 92.55h1v1h-1zM58.58 90.38h1v1h-1zM67.24 90.38h1v1h-1zM80.23 90.38h1v1h-1zM99.72 90.38h1v1h-1zM110.54 90.38h1v1h-1zM119.2 90.38h1v1h-1zM54.25 88.22h1v1h-1zM62.91 88.22h1v1h-1zM65.08 88.22h1v1h-1zM78.07 88.22h1v1h-1zM117.04 88.22h1v1h-1zM127.86 88.22h1v1h-1zM134.36 88.22h1v1h-1zM143.02 88.22h1v1h-1zM52.09 86.05h1v1h-1zM67.24 86.05h1v1h-1zM69.41 86.05h1v1h-1zM91.06 86.05h1v1h-1zM104.05 86.05h1v1h-1zM106.21 86.05h1v1h-1zM108.38 86.05h1v1h-1zM121.37 86.05h1v1h-1zM123.53 86.05h1v1h-1zM62.91 83.89h1v1h-1zM65.08 83.89h1v1h-1zM114.87 83.89h1v1h-1zM52.09 81.72h1v1h-1zM88.89 81.72h1v1h-1zM108.38 81.72h1v1h-1zM130.03 81.72h1v1h-1zM140.85 81.72h1v1h-1zM49.92 79.56h1v1h-1zM62.91 79.56h1v1h-1zM73.74 79.56h1v1h-1zM86.73 79.56h1v1h-1zM91.06 79.56h1v1h-1zM104.05 79.56h1v1h-1zM121.37 79.56h1v1h-1zM125.7 79.56h1v1h-1zM138.69 79.56h1v1h-1zM49.92 77.39h1v1h-1zM82.4 77.39h1v1h-1zM88.89 77.39h1v1h-1zM91.06 77.39h1v1h-1zM69.41 75.23h1v1h-1zM93.22 75.23h1v1h-1zM101.88 75.23h1v1h-1zM112.71 75.23h1v1h-1zM114.87 75.23h1v1h-1zM75.9 73.06h1v1h-1zM110.54 73.06h1v1h-1zM132.19 73.06h1v1h-1zM60.75 70.9h1v1h-1zM71.57 70.9h1v1h-1zM97.55 70.9h1v1h-1zM106.21 70.9h1v1h-1zM110.54 70.9h1v1h-1zM119.2 70.9h1v1h-1zM123.53 70.9h1v1h-1zM58.58 68.73h1v1h-1zM69.41 68.73h1v1h-1zM78.07 68.73h1v1h-1zM132.19 68.73h1v1h-1zM140.85 68.73h1v1h-1zM47.76 66.57h1v1h-1zM58.58 66.57h1v1h-1zM93.22 66.57h1v1h-1zM101.88 66.57h1v1h-1zM106.21 66.57h1v1h-1zM117.04 66.57h1v1h-1zM121.37 66.57h1v1h-1zM130.03 66.57h1v1h-1zM67.24 64.4h1v1h-1zM75.9 64.4h1v1h-1zM82.4 64.4h1v1h-1zM88.89 64.4h1v1h-1zM58.58 62.24h1v1h-1zM60.75 62.24h1v1h-1zM75.9 62.24h1v1h-1zM82.4 62.24h1v1h-1zM97.55 62.24h1v1h-1zM101.88 62.24h1v1h-1zM119.2 62.24h1v1h-1zM130.03 62.24h1v1h-1zM136.52 62.24h1v1h-1zM82.4 60.07h1v1h-1zM86.73 60.07h1v1h-1zM112.71 60.07h1v1h-1zM52.09 57.91h1v1h-1zM56.42 57.91h1v1h-1zM69.41 57.91h1v1h-1zM78.07 57.91h1v1h-1zM95.39 57.91h1v1h-1zM97.55 57.91h1v1h-1zM119.2 57.91h1v1h-1zM123.53 57.91h1v1h-1zM134.36 57.91h1v1h-1zM54.25 55.74h1v1h-1zM93.22 55.74h1v1h-1zM108.38 55.74h1v1h-1zM114.87 55.74h1v1h-1zM117.04 55.74h1v1h-1zM52.09 53.58h1v1h-1zM75.9 53.58h1v1h-1zM84.56 53.58h1v1h-1zM93.22 53.58h1v1h-1zM112.71 53.58h1v1h-1zM119.2 53.58h1v1h-1zM52.09 51.41h1v1h-1zM73.74 51.41h1v1h-1zM80.23 51.41h1v1h-1zM101.88 51.41h1v1h-1zM112.71 51.41h1v1h-1zM56.42 49.25h1v1h-1zM71.57 49.25h1v1h-1zM78.07 49.25h1v1h-1zM97.55 49.25h1v1h-1zM106.21 49.25h1v1h-1zM110.54 49.25h1v1h-1zM114.87 49.25h1v1h-1zM54.25 47.08h1v1h-1zM73.74 47.08h1v1h-1zM82.4 47.08h1v1h-1zM88.89 47.08h1v1h-1zM101.88 47.08h1v1h-1zM47.76 44.92h1v1h-1zM56.42 44.92h1v1h-1zM82.4 44.92h1v1h-1zM97.55 44.92h1v1h-1zM110.54 44.92h1v1h-1zM88.89 42.75h1v1h-1zM49.92 40.59h1v1h-1zM58.58 40.59h1v1h-1zM80.23 40.59h1v1h-1zM86.73 38.42h1v1h-1zM101.88 38.42h1v1h-1zM106.21 38.42h1v1h-1zM52.09 36.26h1v1h-1zM56.42 36.26h1v1h-1zM58.58 36.26h1v1h-1zM60.75 36.26h1v1h-1zM62.91 36.26h1v1h-1zM95.39 36.26h1v1h-1zM99.72 36.26h1v1h-1zM54.25 34.09h1v1h-1zM62.91 34.09h1v1h-1zM65.08 34.09h1v1h-1zM80.23 34.09h1v1h-1zM110.54 34.09h1v1h-1zM67.24 31.93h1v1h-1zM69.41 31.93h1v1h-1zM106.21 31.93h1v1h-1zM49.92 29.76h1v1h-1zM62.91 29.76h1v1h-1zM65.08 29.76h1v1h-1zM88.89 29.76h1v1h-1zM65.08 27.6h1v1h-1zM86.73 27.6h1v1h-1zM99.72 27.6h1v1h-1zM54.25 25.43h1v1h-1zM65.08 25.43h1v1h-1zM75.9 25.43h1v1h-1zM80.23 25.43h1v1h-1zM49.92 23.27h1v1h-1zM54.25 23.27h1v1h-1zM62.91 23.27h1v1h-1zM49.92 21.1h1v1h-1zM56.42 21.1h1v1h-1zM60.75 21.1h1v1h-1zM67.24 21.1h1v1h-1zM62.91 18.94h1v1h-1zM73.74 18.94h1v1h-1zM58.58 16.77h1v1h-1zM54.25 14.61h1v1h-1z"/>
<path fill="#1a84ff" d="M65 120.62h1.2v1.2h-1.2zM77.99 120.62h1.2v1.2h-1.2zM84.49 120.62h1.2v1.2h-1.2zM86.65 120.62h1.2v1.2h-1.2zM110.47 120.62h1.2v1.2h-1.2zM116.96 120.62h1.2v1.2h-1.2zM127.79 120.62h1.2v1.2h-1.2zM129.95 120.62h1.2v1.2h-1.2zM136.45 120.62h1.2v1.2h-1.2zM138.61 120.62h1.2v1.2h-1.2zM145.11 120.62h1.2v1.2h-1.2zM52.01 118.45h1.2v1.2h-1.2zM71.5 118.45h1.2v1.2h-1.2zM73.66 118.45h1.2v1.2h-1.2zM123.46 118.45h1.2v1.2h-1.2zM129.95 118.45h1.2v1.2h-1.2zM134.28 118.45h1.2v1.2h-1.2zM140.78 118.45h1.2v1.2h-1.2zM142.94 118.45h1.2v1.2h-1.2zM49.85 116.29h1.2v1.2h-1.2zM62.84 116.29h1.2v1.2h-1.2zM88.82 116.29h1.2v1.2h-1.2zM95.31 116.29h1.2v1.2h-1.2zM125.62 116.29h1.2v1.2h-1.2zM136.45 116.29h1.2v1.2h-1.2zM56.34 114.12h1.2v1.2h-1.2zM93.15 114.12h1.2v1.2h-1.2zM99.64 114.12h1.2v1.2h-1.2zM132.12 114.12h1.2v1.2h-1.2zM136.45 114.12h1.2v1.2h-1.2zM140.78 114.12h1.2v1.2h-1.2zM147.27 114.12h1.2v1.2h-1.2zM151.6 114.12h1.2v1.2h-1.2zM54.18 111.96h1.2v1.2h-1.2zM58.51 111.96h1.2v1.2h-1.2zM60.67 111.96h1.2v1.2h-1.2zM67.17 111.96h1.2v1.2h-1.2zM90.98 111.96h1.2v1.2h-1.2zM97.48 111.96h1.2v1.2h-1.2zM99.64 111.96h1.2v1.2h-1.2zM140.78 111.96h1.2v1.2h-1.2zM142.94 111.96h1.2v1.2h-1.2zM149.44 111.96h1.2v1.2h-1.2zM153.77 111.96h1.2v1.2h-1.2zM56.34 109.79h1.2v1.2h-1.2zM114.8 109.79h1.2v1.2h-1.2zM136.45 109.79h1.2v1.2h-1.2zM147.27 109.79h1.2v1.2h-1.2zM153.77 109.79h1.2v1.2h-1.2zM56.34 107.63h1.2v1.2h-1.2zM88.82 107.63h1.2v1.2h-1.2zM95.31 107.63h1.2v1.2h-1.2zM119.13 107.63h1.2v1.2h-1.2zM129.95 107.63h1.2v1.2h-1.2zM136.45 107.63h1.2v1.2h-1.2zM149.44 107.63h1.2v1.2h-1.2zM52.01 105.46h1.2v1.2h-1.2zM101.81 105.46h1.2v1.2h-1.2zM129.95 105.46h1.2v1.2h-1.2zM147.27 105.46h1.2v1.2h-1.2zM151.6 105.46h1.2v1.2h-1.2zM47.68 103.3h1.2v1.2h-1.2zM86.65 103.3h1.2v1.2h-1.2zM93.15 103.3h1.2v1.2h-1.2zM127.79 103.3h1.2v1.2h-1.2zM129.95 103.3h1.2v1.2h-1.2zM56.34 101.13h1.2v1.2h-1.2zM80.16 101.13h1.2v1.2h-1.2zM88.82 101.13h1.2v1.2h-1.2zM108.3 101.13h1.2v1.2h-1.2zM112.63 101.13h1.2v1.2h-1.2zM142.94 101.13h1.2v1.2h-1.2zM151.6 101.13h1.2v1.2h-1.2zM69.33 98.97h1.2v1.2h-1.2zM142.94 98.97h1.2v1.2h-1.2zM147.27 98.97h1.2v1.2h-1.2zM49.85 96.8h1.2v1.2h-1.2zM73.66 96.8h1.2v1.2h-1.2zM80.16 96.8h1.2v1.2h-1.2zM95.31 96.8h1.2v1.2h-1.2zM106.14 96.8h1.2v1.2h-1.2zM110.47 96.8h1.2v1.2h-1.2zM116.96 96.8h1.2v1.2h-1.2zM121.29 96.8h1.2v1.2h-1.2zM147.27 96.8h1.2v1.2h-1.2zM49.85 94.64h1.2v1.2h-1.2zM71.5 94.64h1.2v1.2h-1.2zM101.81 94.64h1.2v1.2h-1.2zM106.14 94.64h1.2v1.2h-1.2zM129.95 94.64h1.2v1.2h-1.2zM132.12 94.64h1.2v1.2h-1.2zM145.11 94.64h1.2v1.2h-1.2zM93.15 92.47h1.2v1.2h-1.2zM136.45 92.47h1.2v1.2h-1.2zM47.68 90.31h1.2v1.2h-1.2zM77.99 90.31h1.2v1.2h-1.2zM88.82 90.31h1.2v1.2h-1.2zM90.98 90.31h1.2v1.2h-1.2zM108.3 90.31h1.2v1.2h-1.2zM114.8 90.31h1.2v1.2h-1.2zM125.62 90.31h1.2v1.2h-1.2zM129.95 90.31h1.2v1.2h-1.2zM134.28 90.31h1.2v1.2h-1.2zM67.17 88.14h1.2v1.2h-1.2zM71.5 88.14h1.2v1.2h-1.2zM86.65 88.14h1.2v1.2h-1.2zM95.31 88.14h1.2v1.2h-1.2zM112.63 88.14h1.2v1.2h-1.2zM129.95 88.14h1.2v1.2h-1.2zM140.78 88.14h1.2v1.2h-1.2zM95.31 85.98h1.2v1.2h-1.2zM114.8 85.98h1.2v1.2h-1.2zM125.62 85.98h1.2v1.2h-1.2zM47.68 83.81h1.2v1.2h-1.2zM88.82 83.81h1.2v1.2h-1.2zM106.14 83.81h1.2v1.2h-1.2zM112.63 83.81h1.2v1.2h-1.2zM47.68 81.65h1.2v1.2h-1.2zM65 81.65h1.2v1.2h-1.2zM80.16 81.65h1.2v1.2h-1.2zM90.98 81.65h1.2v1.2h-1.2zM93.15 81.65h1.2v1.2h-1.2zM106.14 81.65h1.2v1.2h-1.2zM121.29 81.65h1.2v1.2h-1.2zM134.28 81.65h1.2v1.2h-1.2zM138.61 81.65h1.2v1.2h-1.2zM147.27 81.65h1.2v1.2h-1.2zM52.01 79.48h1.2v1.2h-1.2zM60.67 79.48h1.2v1.2h-1.2zM67.17 79.48h1.2v1.2h-1.2zM77.99 79.48h1.2v1.2h-1.2zM84.49 79.48h1.2v1.2h-1.2zM97.48 79.48h1.2v1.2h-1.2zM99.64 79.48h1.2v1.2h-1.2zM101.81 79.48h1.2v1.2h-1.2zM145.11 79.48h1.2v1.2h-1.2zM56.34 77.32h1.2v1.2h-1.2zM77.99 77.32h1.2v1.2h-1.2zM86.65 77.32h1.2v1.2h-1.2zM106.14 77.32h1.2v1.2h-1.2zM123.46 77.32h1.2v1.2h-1.2zM138.61 77.32h1.2v1.2h-1.2zM54.18 75.15h1.2v1.2h-1.2zM65 75.15h1.2v1.2h-1.2zM75.83 75.15h1.2v1.2h-1.2zM86.65 75.15h1.2v1.2h-1.2zM110.47 75.15h1.2v1.2h-1.2zM121.29 75.15h1.2v1.2h-1.2zM52.01 72.99h1.2v1.2h-1.2zM60.67 72.99h1.2v1.2h-1.2zM71.5 72.99h1.2v1.2h-1.2zM80.16 72.99h1.2v1.2h-1.2zM82.32 72.99h1.2v1.2h-1.2zM95.31 72.99h1.2v1.2h-1.2zM99.64 72.99h1.2v1.2h-1.2zM106.14 72.99h1.2v1.2h-1.2zM127.79 72.99h1.2v1.2h-1.2zM134.28 72.99h1.2v1.2h-1.2zM140.78 72.99h1.2v1.2h-1.2zM56.34 70.82h1.2v1.2h-1.2zM88.82 70.82h1.2v1.2h-1.2zM54.18 68.66h1.2v1.2h-1.2zM56.34 68.66h1.2v1.2h-1.2zM88.82 68.66h1.2v1.2h-1.2zM95.31 68.66h1.2v1.2h-1.2zM116.96 68.66h1.2v1.2h-1.2zM129.95 68.66h1.2v1.2h-1.2zM62.84 66.49h1.2v1.2h-1.2zM73.66 66.49h1.2v1.2h-1.2zM88.82 66.49h1.2v1.2h-1.2zM108.3 66.49h1.2v1.2h-1.2zM114.8 66.49h1.2v1.2h-1.2zM127.79 66.49h1.2v1.2h-1.2zM138.61 66.49h1.2v1.2h-1.2zM134.28 64.33h1.2v1.2h-1.2zM71.5 62.16h1.2v1.2h-1.2zM73.66 62.16h1.2v1.2h-1.2zM84.49 62.16h1.2v1.2h-1.2zM86.65 62.16h1.2v1.2h-1.2zM90.98 62.16h1.2v1.2h-1.2zM95.31 62.16h1.2v1.2h-1.2zM67.17 60h1.2v1.2h-1.2zM77.99 60h1.2v1.2h-1.2zM101.81 60h1.2v1.2h-1.2zM47.68 57.83h1.2v1.2h-1.2zM71.5 57.83h1.2v1.2h-1.2zM93.15 57.83h1.2v1.2h-1.2zM110.47 57.83h1.2v1.2h-1.2zM127.79 57.83h1.2v1.2h-1.2zM67.17 55.67h1.2v1.2h-1.2zM80.16 55.67h1.2v1.2h-1.2zM84.49 55.67h1.2v1.2h-1.2zM125.62 55.67h1.2v1.2h-1.2zM58.51 53.5h1.2v1.2h-1.2zM77.99 53.5h1.2v1.2h-1.2zM82.32 53.5h1.2v1.2h-1.2zM101.81 53.5h1.2v1.2h-1.2zM125.62 53.5h1.2v1.2h-1.2zM47.68 51.34h1.2v1.2h-1.2zM71.5 51.34h1.2v1.2h-1.2zM99.64 51.34h1.2v1.2h-1.2zM60.67 49.17h1.2v1.2h-1.2zM71.5 47.01h1.2v1.2h-1.2zM86.65 47.01h1.2v1.2h-1.2zM93.15 47.01h1.2v1.2h-1.2zM49.85 44.84h1.2v1.2h-1.2zM90.98 44.84h1.2v1.2h-1.2zM52.01 42.68h1.2v1.2h-1.2zM77.99 42.68h1.2v1.2h-1.2zM82.32 42.68h1.2v1.2h-1.2zM112.63 42.68h1.2v1.2h-1.2zM114.8 42.68h1.2v1.2h-1.2zM47.68 40.51h1.2v1.2h-1.2zM65 40.51h1.2v1.2h-1.2zM95.31 40.51h1.2v1.2h-1.2zM101.81 40.51h1.2v1.2h-1.2zM110.47 40.51h1.2v1.2h-1.2zM47.68 38.35h1.2v1.2h-1.2zM49.85 38.35h1.2v1.2h-1.2zM60.67 38.35h1.2v1.2h-1.2zM62.84 38.35h1.2v1.2h-1.2zM65 38.35h1.2v1.2h-1.2zM73.66 38.35h1.2v1.2h-1.2zM77.99 38.35h1.2v1.2h-1.2zM80.16 38.35h1.2v1.2h-1.2zM99.64 38.35h1.2v1.2h-1.2zM54.18 36.18h1.2v1.2h-1.2zM73.66 36.18h1.2v1.2h-1.2zM49.85 34.02h1.2v1.2h-1.2zM77.99 34.02h1.2v1.2h-1.2zM86.65 34.02h1.2v1.2h-1.2zM95.31 34.02h1.2v1.2h-1.2zM103.97 34.02h1.2v1.2h-1.2zM47.68 31.85h1.2v1.2h-1.2zM52.01 31.85h1.2v1.2h-1.2zM54.18 31.85h1.2v1.2h-1.2zM58.51 31.85h1.2v1.2h-1.2zM60.67 31.85h1.2v1.2h-1.2zM75.83 31.85h1.2v1.2h-1.2zM47.68 29.69h1.2v1.2h-1.2zM86.65 29.69h1.2v1.2h-1.2zM90.98 29.69h1.2v1.2h-1.2zM101.81 29.69h1.2v1.2h-1.2zM49.85 27.52h1.2v1.2h-1.2zM54.18 27.52h1.2v1.2h-1.2zM56.34 27.52h1.2v1.2h-1.2zM80.16 27.52h1.2v1.2h-1.2zM95.31 27.52h1.2v1.2h-1.2zM49.85 25.36h1.2v1.2h-1.2zM56.34 25.36h1.2v1.2h-1.2zM67.17 25.36h1.2v1.2h-1.2zM69.33 25.36h1.2v1.2h-1.2zM47.68 23.19h1.2v1.2h-1.2zM73.66 23.19h1.2v1.2h-1.2zM88.82 23.19h1.2v1.2h-1.2zM54.18 21.03h1.2v1.2h-1.2zM58.51 21.03h1.2v1.2h-1.2zM62.84 21.03h1.2v1.2h-1.2zM69.33 21.03h1.2v1.2h-1.2zM71.5 21.03h1.2v1.2h-1.2zM86.65 21.03h1.2v1.2h-1.2zM56.34 18.86h1.2v1.2h-1.2zM60.67 18.86h1.2v1.2h-1.2zM54.18 16.7h1.2v1.2h-1.2zM62.84 16.7h1.2v1.2h-1.2zM67.17 16.7h1.2v1.2h-1.2zM56.34 14.53h1.2v1.2h-1.2zM58.51 14.53h1.2v1.2h-1.2z"/>
<path fill="#1a84ff" d="M51.91 120.52h1.4v1.4h-1.4zM106.04 120.52h1.4v1.4h-1.4zM134.18 120.52h1.4v1.4h-1.4zM140.68 120.52h1.4v1.4h-1.4zM151.5 120.52h1.4v1.4h-1.4zM82.22 118.35h1.4v1.4h-1.4zM95.21 118.35h1.4v1.4h-1.4zM97.38 118.35h1.4v1.4h-1.4zM110.37 118.35h1.4v1.4h-1.4zM119.03 118.35h1.4v1.4h-1.4zM47.58 116.19h1.4v1.4h-1.4zM51.91 116.19h1.4v1.4h-1.4zM93.05 116.19h1.4v1.4h-1.4zM97.38 116.19h1.4v1.4h-1.4zM99.54 116.19h1.4v1.4h-1.4zM75.73 114.02h1.4v1.4h-1.4zM88.72 114.02h1.4v1.4h-1.4zM106.04 114.02h1.4v1.4h-1.4zM110.37 114.02h1.4v1.4h-1.4zM129.85 114.02h1.4v1.4h-1.4zM56.24 111.86h1.4v1.4h-1.4zM103.87 111.86h1.4v1.4h-1.4zM67.07 109.69h1.4v1.4h-1.4zM82.22 109.69h1.4v1.4h-1.4zM90.88 109.69h1.4v1.4h-1.4zM93.05 109.69h1.4v1.4h-1.4zM123.36 109.69h1.4v1.4h-1.4zM134.18 109.69h1.4v1.4h-1.4zM149.34 109.69h1.4v1.4h-1.4zM99.54 107.53h1.4v1.4h-1.4zM110.37 107.53h1.4v1.4h-1.4zM64.9 105.36h1.4v1.4h-1.4zM90.88 105.36h1.4v1.4h-1.4zM110.37 105.36h1.4v1.4h-1.4zM119.03 105.36h1.4v1.4h-1.4zM127.69 105.36h1.4v1.4h-1.4zM62.74 103.2h1.4v1.4h-1.4zM88.72 103.2h1.4v1.4h-1.4zM103.87 103.2h1.4v1.4h-1.4zM119.03 103.2h1.4v1.4h-1.4zM58.41 101.03h1.4v1.4h-1.4zM71.4 101.03h1.4v1.4h-1.4zM125.52 101.03h1.4v1.4h-1.4zM129.85 101.03h1.4v1.4h-1.4zM86.55 98.87h1.4v1.4h-1.4zM103.87 98.87h1.4v1.4h-1.4zM127.69 98.87h1.4v1.4h-1.4zM67.07 96.7h1.4v1.4h-1.4zM88.72 96.7h1.4v1.4h-1.4zM93.05 96.7h1.4v1.4h-1.4zM108.2 94.54h1.4v1.4h-1.4zM54.08 92.37h1.4v1.4h-1.4zM116.86 92.37h1.4v1.4h-1.4zM132.02 92.37h1.4v1.4h-1.4zM145.01 90.21h1.4v1.4h-1.4zM97.38 88.04h1.4v1.4h-1.4zM119.03 88.04h1.4v1.4h-1.4zM49.75 85.88h1.4v1.4h-1.4zM58.41 85.88h1.4v1.4h-1.4zM119.03 85.88h1.4v1.4h-1.4zM95.21 83.71h1.4v1.4h-1.4zM97.38 83.71h1.4v1.4h-1.4zM119.03 83.71h1.4v1.4h-1.4zM69.23 81.55h1.4v1.4h-1.4zM54.08 79.38h1.4v1.4h-1.4zM64.9 79.38h1.4v1.4h-1.4zM71.4 79.38h1.4v1.4h-1.4zM93.05 79.38h1.4v1.4h-1.4zM95.21 79.38h1.4v1.4h-1.4zM136.35 79.38h1.4v1.4h-1.4zM58.41 77.22h1.4v1.4h-1.4zM62.74 77.22h1.4v1.4h-1.4zM97.38 77.22h1.4v1.4h-1.4zM101.71 77.22h1.4v1.4h-1.4zM108.2 77.22h1.4v1.4h-1.4zM132.02 77.22h1.4v1.4h-1.4zM134.18 77.22h1.4v1.4h-1.4zM51.91 75.05h1.4v1.4h-1.4zM58.41 75.05h1.4v1.4h-1.4zM71.4 75.05h1.4v1.4h-1.4zM88.72 75.05h1.4v1.4h-1.4zM138.51 75.05h1.4v1.4h-1.4zM49.75 72.89h1.4v1.4h-1.4zM84.39 72.89h1.4v1.4h-1.4zM88.72 72.89h1.4v1.4h-1.4zM112.53 72.89h1.4v1.4h-1.4zM125.52 72.89h1.4v1.4h-1.4zM129.85 72.89h1.4v1.4h-1.4zM49.75 70.72h1.4v1.4h-1.4zM51.91 70.72h1.4v1.4h-1.4zM80.06 70.72h1.4v1.4h-1.4zM84.39 70.72h1.4v1.4h-1.4zM90.88 70.72h1.4v1.4h-1.4zM101.71 70.72h1.4v1.4h-1.4zM134.18 70.72h1.4v1.4h-1.4zM138.51 70.72h1.4v1.4h-1.4zM51.91 68.56h1.4v1.4h-1.4zM60.57 68.56h1.4v1.4h-1.4zM119.03 68.56h1.4v1.4h-1.4zM136.35 68.56h1.4v1.4h-1.4zM90.88 66.39h1.4v1.4h-1.4zM97.38 66.39h1.4v1.4h-1.4zM134.18 66.39h1.4v1.4h-1.4zM56.24 64.23h1.4v1.4h-1.4zM64.9 64.23h1.4v1.4h-1.4zM69.23 64.23h1.4v1.4h-1.4zM121.19 64.23h1.4v1.4h-1.4zM123.36 64.23h1.4v1.4h-1.4zM127.69 64.23h1.4v1.4h-1.4zM47.58 62.06h1.4v1.4h-1.4zM54.08 62.06h1.4v1.4h-1.4zM110.37 62.06h1.4v1.4h-1.4zM73.56 59.9h1.4v1.4h-1.4zM90.88 59.9h1.4v1.4h-1.4zM108.2 59.9h1.4v1.4h-1.4zM121.19 59.9h1.4v1.4h-1.4zM49.75 57.73h1.4v1.4h-1.4zM54.08 57.73h1.4v1.4h-1.4zM60.57 57.73h1.4v1.4h-1.4zM62.74 57.73h1.4v1.4h-1.4zM106.04 57.73h1.4v1.4h-1.4zM95.21 55.57h1.4v1.4h-1.4zM121.19 55.57h1.4v1.4h-1.4zM116.86 53.4h1.4v1.4h-1.4zM121.19 53.4h1.4v1.4h-1.4zM75.73 51.24h1.4v1.4h-1.4zM114.7 51.24h1.4v1.4h-1.4zM123.36 51.24h1.4v1.4h-1.4zM49.75 49.07h1.4v1.4h-1.4zM62.74 49.07h1.4v1.4h-1.4zM64.9 49.07h1.4v1.4h-1.4zM80.06 49.07h1.4v1.4h-1.4zM82.22 49.07h1.4v1.4h-1.4zM84.39 49.07h1.4v1.4h-1.4zM99.54 49.07h1.4v1.4h-1.4zM121.19 49.07h1.4v1.4h-1.4zM103.87 46.91h1.4v1.4h-1.4zM108.2 46.91h1.4v1.4h-1.4zM112.53 46.91h1.4v1.4h-1.4zM114.7 46.91h1.4v1.4h-1.4zM119.03 46.91h1.4v1.4h-1.4zM123.36 46.91h1.4v1.4h-1.4zM58.41 44.74h1.4v1.4h-1.4zM103.87 44.74h1.4v1.4h-1.4zM116.86 44.74h1.4v1.4h-1.4zM121.19 44.74h1.4v1.4h-1.4zM67.07 42.58h1.4v1.4h-1.4zM95.21 42.58h1.4v1.4h-1.4zM62.74 40.41h1.4v1.4h-1.4zM69.23 40.41h1.4v1.4h-1.4zM103.87 40.41h1.4v1.4h-1.4zM54.08 38.25h1.4v1.4h-1.4zM67.07 38.25h1.4v1.4h-1.4zM95.21 38.25h1.4v1.4h-1.4zM75.73 36.08h1.4v1.4h-1.4zM90.88 36.08h1.4v1.4h-1.4zM47.58 33.92h1.4v1.4h-1.4zM58.41 33.92h1.4v1.4h-1.4zM90.88 33.92h1.4v1.4h-1.4zM97.38 33.92h1.4v1.4h-1.4zM101.71 33.92h1.4v1.4h-1.4zM88.72 31.75h1.4v1.4h-1.4zM99.54 31.75h1.4v1.4h-1.4zM93.05 29.59h1.4v1.4h-1.4zM97.38 29.59h1.4v1.4h-1.4zM47.58 27.42h1.4v1.4h-1.4zM77.89 23.09h1.4v1.4h-1.4zM58.41 18.76h1.4v1.4h-1.4zM47.58 16.6h1.4v1.4h-1.4z"/>
<path fill="#1a84ff" d="M99.44 120.42h1.6v1.6h-1.6zM118.93 120.42h1.6v1.6h-1.6zM147.07 120.42h1.6v1.6h-1.6zM56.14 118.25h1.6v1.6h-1.6zM77.79 118.25h1.6v1.6h-1.6zM69.13 116.09h1.6v1.6h-1.6zM84.29 116.09h1.6v1.6h-1.6zM142.74 116.09h1.6v1.6h-1.6zM58.31 113.92h1.6v1.6h-1.6zM66.97 113.92h1.6v1.6h-1.6zM77.79 113.92h1.6v1.6h-1.6zM118.93 113.92h1.6v1.6h-1.6zM138.41 113.92h1.6v1.6h-1.6zM49.65 111.76h1.6v1.6h-1.6zM71.3 111.76h1.6v1.6h-1.6zM73.46 111.76h1.6v1.6h-1.6zM82.12 111.76h1.6v1.6h-1.6zM114.6 111.76h1.6v1.6h-1.6zM125.42 111.76h1.6v1.6h-1.6zM127.59 111.76h1.6v1.6h-1.6zM134.08 111.76h1.6v1.6h-1.6zM53.98 109.59h1.6v1.6h-1.6zM58.31 109.59h1.6v1.6h-1.6zM86.45 109.59h1.6v1.6h-1.6zM95.11 109.59h1.6v1.6h-1.6zM108.1 109.59h1.6v1.6h-1.6zM110.27 109.59h1.6v1.6h-1.6zM142.74 109.59h1.6v1.6h-1.6zM60.47 107.43h1.6v1.6h-1.6zM84.29 107.43h1.6v1.6h-1.6zM134.08 107.43h1.6v1.6h-1.6zM86.45 105.26h1.6v1.6h-1.6zM95.11 105.26h1.6v1.6h-1.6zM125.42 105.26h1.6v1.6h-1.6zM71.3 103.1h1.6v1.6h-1.6zM144.91 103.1h1.6v1.6h-1.6zM53.98 100.93h1.6v1.6h-1.6zM99.44 100.93h1.6v1.6h-1.6zM105.94 100.93h1.6v1.6h-1.6zM121.09 100.93h1.6v1.6h-1.6zM123.26 100.93h1.6v1.6h-1.6zM51.81 98.77h1.6v1.6h-1.6zM71.3 98.77h1.6v1.6h-1.6zM79.96 98.77h1.6v1.6h-1.6zM88.62 98.77h1.6v1.6h-1.6zM138.41 98.77h1.6v1.6h-1.6zM140.58 98.77h1.6v1.6h-1.6zM56.14 96.6h1.6v1.6h-1.6zM64.8 96.6h1.6v1.6h-1.6zM69.13 96.6h1.6v1.6h-1.6zM90.78 96.6h1.6v1.6h-1.6zM101.61 96.6h1.6v1.6h-1.6zM56.14 94.44h1.6v1.6h-1.6zM136.25 94.44h1.6v1.6h-1.6zM84.29 92.27h1.6v1.6h-1.6zM88.62 92.27h1.6v1.6h-1.6zM118.93 92.27h1.6v1.6h-1.6zM149.24 92.27h1.6v1.6h-1.6zM49.65 90.11h1.6v1.6h-1.6zM53.98 90.11h1.6v1.6h-1.6zM103.77 90.11h1.6v1.6h-1.6zM116.76 90.11h1.6v1.6h-1.6zM69.13 87.94h1.6v1.6h-1.6zM79.96 87.94h1.6v1.6h-1.6zM82.12 87.94h1.6v1.6h-1.6zM90.78 87.94h1.6v1.6h-1.6zM101.61 87.94h1.6v1.6h-1.6zM131.92 87.94h1.6v1.6h-1.6zM56.14 85.78h1.6v1.6h-1.6zM79.96 85.78h1.6v1.6h-1.6zM147.07 85.78h1.6v1.6h-1.6zM51.81 83.61h1.6v1.6h-1.6zM60.47 83.61h1.6v1.6h-1.6zM75.63 83.61h1.6v1.6h-1.6zM103.77 83.61h1.6v1.6h-1.6zM147.07 83.61h1.6v1.6h-1.6zM58.31 81.45h1.6v1.6h-1.6zM62.64 81.45h1.6v1.6h-1.6zM110.27 81.45h1.6v1.6h-1.6zM125.42 81.45h1.6v1.6h-1.6zM69.13 79.28h1.6v1.6h-1.6zM75.63 79.28h1.6v1.6h-1.6zM108.1 79.28h1.6v1.6h-1.6zM123.26 79.28h1.6v1.6h-1.6zM129.75 79.28h1.6v1.6h-1.6zM131.92 79.28h1.6v1.6h-1.6zM71.3 77.12h1.6v1.6h-1.6zM79.96 77.12h1.6v1.6h-1.6zM129.75 77.12h1.6v1.6h-1.6zM95.11 74.95h1.6v1.6h-1.6zM99.44 74.95h1.6v1.6h-1.6zM116.76 74.95h1.6v1.6h-1.6zM125.42 74.95h1.6v1.6h-1.6zM134.08 74.95h1.6v1.6h-1.6zM140.58 74.95h1.6v1.6h-1.6zM58.31 72.79h1.6v1.6h-1.6zM62.64 72.79h1.6v1.6h-1.6zM92.95 72.79h1.6v1.6h-1.6zM121.09 72.79h1.6v1.6h-1.6zM121.09 70.62h1.6v1.6h-1.6zM47.48 68.46h1.6v1.6h-1.6zM66.97 68.46h1.6v1.6h-1.6zM92.95 68.46h1.6v1.6h-1.6zM99.44 68.46h1.6v1.6h-1.6zM108.1 68.46h1.6v1.6h-1.6zM71.3 66.29h1.6v1.6h-1.6zM79.96 66.29h1.6v1.6h-1.6zM77.79 64.13h1.6v1.6h-1.6zM84.29 64.13h1.6v1.6h-1.6zM110.27 64.13h1.6v1.6h-1.6zM112.43 64.13h1.6v1.6h-1.6zM125.42 64.13h1.6v1.6h-1.6zM66.97 61.96h1.6v1.6h-1.6zM131.92 61.96h1.6v1.6h-1.6zM58.31 59.8h1.6v1.6h-1.6zM88.62 59.8h1.6v1.6h-1.6zM99.44 59.8h1.6v1.6h-1.6zM58.31 57.63h1.6v1.6h-1.6zM86.45 57.63h1.6v1.6h-1.6zM103.77 57.63h1.6v1.6h-1.6zM129.75 57.63h1.6v1.6h-1.6zM103.77 55.47h1.6v1.6h-1.6zM112.43 55.47h1.6v1.6h-1.6zM56.14 53.3h1.6v1.6h-1.6zM77.79 51.14h1.6v1.6h-1.6zM92.95 51.14h1.6v1.6h-1.6zM121.09 51.14h1.6v1.6h-1.6zM127.59 51.14h1.6v1.6h-1.6zM47.48 48.97h1.6v1.6h-1.6zM53.98 48.97h1.6v1.6h-1.6zM75.63 48.97h1.6v1.6h-1.6zM66.97 46.81h1.6v1.6h-1.6zM95.11 46.81h1.6v1.6h-1.6zM97.28 46.81h1.6v1.6h-1.6zM116.76 46.81h1.6v1.6h-1.6zM66.97 44.64h1.6v1.6h-1.6zM88.62 44.64h1.6v1.6h-1.6zM56.14 42.48h1.6v1.6h-1.6zM62.64 42.48h1.6v1.6h-1.6zM86.45 42.48h1.6v1.6h-1.6zM92.95 42.48h1.6v1.6h-1.6zM103.77 42.48h1.6v1.6h-1.6zM56.14 40.31h1.6v1.6h-1.6zM116.76 40.31h1.6v1.6h-1.6zM88.62 38.15h1.6v1.6h-1.6zM90.78 38.15h1.6v1.6h-1.6zM110.27 38.15h1.6v1.6h-1.6zM79.96 35.98h1.6v1.6h-1.6zM88.62 35.98h1.6v1.6h-1.6zM105.94 35.98h1.6v1.6h-1.6zM56.14 33.82h1.6v1.6h-1.6zM60.47 33.82h1.6v1.6h-1.6zM92.95 33.82h1.6v1.6h-1.6zM73.46 31.65h1.6v1.6h-1.6zM53.98 29.49h1.6v1.6h-1.6zM69.13 29.49h1.6v1.6h-1.6zM69.13 27.32h1.6v1.6h-1.6zM92.95 27.32h1.6v1.6h-1.6zM51.81 25.16h1.6v1.6h-1.6zM58.31 25.16h1.6v1.6h-1.6zM64.8 22.99h1.6v1.6h-1.6zM47.48 20.83h1.6v1.6h-1.6zM82.12 20.83h1.6v1.6h-1.6zM84.29 20.83h1.6v1.6h-1.6zM75.63 18.66h1.6v1.6h-1.6z"/>
<path fill="#1a84ff" d="M79.83 120.29h1.8v1.8h-1.8zM92.82 120.29h1.8v1.8h-1.8zM86.33 118.13h1.8v1.8h-1.8zM92.82 118.13h1.8v1.8h-1.8zM120.97 118.13h1.8v1.8h-1.8zM90.66 115.96h1.8v1.8h-1.8zM60.35 113.8h1.8v1.8h-1.8zM123.13 113.8h1.8v1.8h-1.8zM75.5 111.63h1.8v1.8h-1.8zM69.01 109.47h1.8v1.8h-1.8zM125.3 109.47h1.8v1.8h-1.8zM53.85 107.3h1.8v1.8h-1.8zM75.5 107.3h1.8v1.8h-1.8zM79.83 107.3h1.8v1.8h-1.8zM69.01 105.14h1.8v1.8h-1.8zM71.17 105.14h1.8v1.8h-1.8zM116.64 105.14h1.8v1.8h-1.8zM136.12 105.14h1.8v1.8h-1.8zM69.01 102.97h1.8v1.8h-1.8zM146.95 102.97h1.8v1.8h-1.8zM131.79 100.81h1.8v1.8h-1.8zM58.18 98.64h1.8v1.8h-1.8zM62.51 98.64h1.8v1.8h-1.8zM64.68 98.64h1.8v1.8h-1.8zM73.34 98.64h1.8v1.8h-1.8zM116.64 98.64h1.8v1.8h-1.8zM133.96 98.64h1.8v1.8h-1.8zM62.51 96.48h1.8v1.8h-1.8zM114.47 96.48h1.8v1.8h-1.8zM144.78 96.48h1.8v1.8h-1.8zM69.01 94.31h1.8v1.8h-1.8zM146.95 94.31h1.8v1.8h-1.8zM56.02 92.15h1.8v1.8h-1.8zM60.35 92.15h1.8v1.8h-1.8zM97.15 92.15h1.8v1.8h-1.8zM123.13 92.15h1.8v1.8h-1.8zM125.3 92.15h1.8v1.8h-1.8zM133.96 92.15h1.8v1.8h-1.8zM138.29 92.15h1.8v1.8h-1.8zM112.31 89.98h1.8v1.8h-1.8zM138.29 89.98h1.8v1.8h-1.8zM47.36 87.82h1.8v1.8h-1.8zM60.35 87.82h1.8v1.8h-1.8zM120.97 87.82h1.8v1.8h-1.8zM82 85.65h1.8v1.8h-1.8zM127.46 85.65h1.8v1.8h-1.8zM140.45 85.65h1.8v1.8h-1.8zM90.66 83.49h1.8v1.8h-1.8zM101.48 83.49h1.8v1.8h-1.8zM133.96 83.49h1.8v1.8h-1.8zM49.52 81.32h1.8v1.8h-1.8zM118.8 81.32h1.8v1.8h-1.8zM123.13 81.32h1.8v1.8h-1.8zM118.8 79.16h1.8v1.8h-1.8zM51.69 76.99h1.8v1.8h-1.8zM84.16 76.99h1.8v1.8h-1.8zM127.46 76.99h1.8v1.8h-1.8zM47.36 74.83h1.8v1.8h-1.8zM49.52 74.83h1.8v1.8h-1.8zM103.65 74.83h1.8v1.8h-1.8zM127.46 74.83h1.8v1.8h-1.8zM136.12 74.83h1.8v1.8h-1.8zM142.62 74.83h1.8v1.8h-1.8zM97.15 72.66h1.8v1.8h-1.8zM107.98 72.66h1.8v1.8h-1.8zM118.8 72.66h1.8v1.8h-1.8zM136.12 72.66h1.8v1.8h-1.8zM142.62 72.66h1.8v1.8h-1.8zM75.5 70.5h1.8v1.8h-1.8zM94.99 70.5h1.8v1.8h-1.8zM112.31 70.5h1.8v1.8h-1.8zM125.3 70.5h1.8v1.8h-1.8zM129.63 70.5h1.8v1.8h-1.8zM105.81 68.33h1.8v1.8h-1.8zM84.16 66.17h1.8v1.8h-1.8zM92.82 64h1.8v1.8h-1.8zM103.65 64h1.8v1.8h-1.8zM138.29 64h1.8v1.8h-1.8zM99.32 61.84h1.8v1.8h-1.8zM127.46 61.84h1.8v1.8h-1.8zM133.96 61.84h1.8v1.8h-1.8zM94.99 59.67h1.8v1.8h-1.8zM110.14 59.67h1.8v1.8h-1.8zM118.8 59.67h1.8v1.8h-1.8zM129.63 59.67h1.8v1.8h-1.8zM107.98 57.51h1.8v1.8h-1.8zM77.67 55.34h1.8v1.8h-1.8zM97.15 55.34h1.8v1.8h-1.8zM71.17 53.18h1.8v1.8h-1.8zM62.51 51.01h1.8v1.8h-1.8zM69.01 51.01h1.8v1.8h-1.8zM116.64 51.01h1.8v1.8h-1.8zM86.33 48.85h1.8v1.8h-1.8zM88.49 48.85h1.8v1.8h-1.8zM94.99 48.85h1.8v1.8h-1.8zM107.98 48.85h1.8v1.8h-1.8zM49.52 46.68h1.8v1.8h-1.8zM79.83 46.68h1.8v1.8h-1.8zM53.85 44.52h1.8v1.8h-1.8zM75.5 44.52h1.8v1.8h-1.8zM86.33 44.52h1.8v1.8h-1.8zM58.18 42.35h1.8v1.8h-1.8zM75.5 42.35h1.8v1.8h-1.8zM97.15 42.35h1.8v1.8h-1.8zM82 40.19h1.8v1.8h-1.8zM90.66 40.19h1.8v1.8h-1.8zM92.82 40.19h1.8v1.8h-1.8zM105.81 40.19h1.8v1.8h-1.8zM97.15 38.02h1.8v1.8h-1.8zM107.98 38.02h1.8v1.8h-1.8zM66.84 35.86h1.8v1.8h-1.8zM69.01 33.69h1.8v1.8h-1.8zM75.5 33.69h1.8v1.8h-1.8zM84.16 33.69h1.8v1.8h-1.8zM105.81 33.69h1.8v1.8h-1.8zM62.51 31.53h1.8v1.8h-1.8zM92.82 31.53h1.8v1.8h-1.8zM94.99 31.53h1.8v1.8h-1.8zM75.5 29.36h1.8v1.8h-1.8zM77.67 29.36h1.8v1.8h-1.8zM103.65 29.36h1.8v1.8h-1.8zM82 27.2h1.8v1.8h-1.8zM92.82 25.03h1.8v1.8h-1.8zM94.99 25.03h1.8v1.8h-1.8zM71.17 22.87h1.8v1.8h-1.8zM64.68 20.7h1.8v1.8h-1.8zM73.34 20.7h1.8v1.8h-1.8z"/>
<rect x="45.5" y="7.4" width="115.9" height="114.9" fill="none" stroke="#262626" stroke-width="1"/>
<path d="M48.2 122.3v-1.6M48.2 7.4v1.6M102.05 122.3v-1.6M102.05 7.4v1.6M155.9 122.3v-1.6M155.9 7.4v1.6M45.5 121.5h1.6M161.4 121.5h-1.6M45.5 100.8h1.6M161.4 100.8h-1.6M45.5 79.5h1.6M161.4 79.5h-1.6M45.5 57.8h1.6M161.4 57.8h-1.6M45.5 35.7h1.6M161.4 35.7h-1.6M45.5 14.3h1.6M161.4 14.3h-1.6" stroke="#262626" stroke-width=".8" fill="none"/>
<text x="48.2" y="133.5" font-size="8.8" text-anchor="middle" fill="#000" stroke="#000" stroke-width="0.25">0</text>
<text x="102.05" y="133.5" font-size="8.8" text-anchor="middle" fill="#000" stroke="#000" stroke-width="0.25">5</text>
<text x="155.9" y="133.5" font-size="8.8" text-anchor="middle" fill="#000" stroke="#000" stroke-width="0.25">10</text>
<text x="42.8" y="124.4" font-size="8.8" text-anchor="end" fill="#000" stroke="#000" stroke-width="0.25">0</text>
<text x="42.8" y="103.7" font-size="8.8" text-anchor="end" fill="#000" stroke="#000" stroke-width="0.25">2</text>
<text x="42.8" y="82.4" font-size="8.8" text-anchor="end" fill="#000" stroke="#000" stroke-width="0.25">4</text>
<text x="42.8" y="60.7" font-size="8.8" text-anchor="end" fill="#000" stroke="#000" stroke-width="0.25">6</text>
<text x="42.8" y="38.6" font-size="8.8" text-anchor="end" fill="#000" stroke="#000" stroke-width="0.25">8</text>
<text x="42.8" y="17.2" font-size="8.8" text-anchor="end" fill="#000" stroke="#000" stroke-width="0.25">10</text>
<text x="19.2" y="10.39" font-size="11.8" text-anchor="start" fill="#000" stroke="#000" stroke-width="0.28">(a)</text>
<text x="30.99" y="64.8" font-size="11.8" text-anchor="middle" fill="#000" transform="rotate(-90 30.99 64.8)" stroke="#000" stroke-width="0.28">y (µm)</text>
<text x="104.45" y="144.69" font-size="11.8" text-anchor="middle" fill="#000" stroke="#000" stroke-width="0.28">x (µm)</text>
<path fill="#1a84ff" d="M52.79 265.29h.4v.4h-.4zM54.95 265.29h.4v.4h-.4zM59.28 265.29h.4v.4h-.4zM89.59 265.29h.4v.4h-.4zM102.58 265.29h.4v.4h-.4zM104.75 265.29h.4v.4h-.4zM141.55 265.29h.4v.4h-.4zM109.08 263.13h.4v.4h-.4zM128.56 263.13h.4v.4h-.4zM130.73 263.13h.4v.4h-.4zM139.39 263.13h.4v.4h-.4zM141.55 263.13h.4v.4h-.4zM48.46 260.96h.4v.4h-.4zM52.79 260.96h.4v.4h-.4zM57.12 260.96h.4v.4h-.4zM74.44 260.96h.4v.4h-.4zM91.76 260.96h.4v.4h-.4zM98.25 260.96h.4v.4h-.4zM111.24 260.96h.4v.4h-.4zM126.4 260.96h.4v.4h-.4zM135.06 260.96h.4v.4h-.4zM48.46 258.8h.4v.4h-.4zM59.28 258.8h.4v.4h-.4zM74.44 258.8h.4v.4h-.4zM83.1 258.8h.4v.4h-.4zM87.43 258.8h.4v.4h-.4zM102.58 258.8h.4v.4h-.4zM104.75 258.8h.4v.4h-.4zM124.23 258.8h.4v.4h-.4zM132.89 258.8h.4v.4h-.4zM141.55 258.8h.4v.4h-.4zM52.79 256.63h.4v.4h-.4zM61.45 256.63h.4v.4h-.4zM89.59 256.63h.4v.4h-.4zM91.76 256.63h.4v.4h-.4zM96.09 256.63h.4v.4h-.4zM98.25 256.63h.4v.4h-.4zM132.89 256.63h.4v.4h-.4zM137.22 256.63h.4v.4h-.4zM48.46 254.47h.4v.4h-.4zM54.95 254.47h.4v.4h-.4zM59.28 254.47h.4v.4h-.4zM70.11 254.47h.4v.4h-.4zM72.27 254.47h.4v.4h-.4zM87.43 254.47h.4v.4h-.4zM91.76 254.47h.4v.4h-.4zM100.42 254.47h.4v.4h-.4zM117.74 254.47h.4v.4h-.4zM124.23 254.47h.4v.4h-.4zM135.06 254.47h.4v.4h-.4zM141.55 254.47h.4v.4h-.4zM57.12 252.3h.4v.4h-.4zM111.24 252.3h.4v.4h-.4zM113.41 252.3h.4v.4h-.4zM124.23 252.3h.4v.4h-.4zM141.55 252.3h.4v.4h-.4zM74.44 250.14h.4v.4h-.4zM80.93 250.14h.4v.4h-.4zM89.59 250.14h.4v.4h-.4zM91.76 250.14h.4v.4h-.4zM113.41 250.14h.4v.4h-.4zM115.57 250.14h.4v.4h-.4zM119.9 250.14h.4v.4h-.4zM122.07 250.14h.4v.4h-.4zM124.23 250.14h.4v.4h-.4zM130.73 250.14h.4v.4h-.4zM74.44 247.97h.4v.4h-.4zM91.76 247.97h.4v.4h-.4zM93.92 247.97h.4v.4h-.4zM96.09 247.97h.4v.4h-.4zM109.08 247.97h.4v.4h-.4zM115.57 247.97h.4v.4h-.4zM126.4 247.97h.4v.4h-.4zM145.88 247.97h.4v.4h-.4zM150.21 247.97h.4v.4h-.4zM76.6 245.81h.4v.4h-.4zM78.77 245.81h.4v.4h-.4zM91.76 245.81h.4v.4h-.4zM98.25 245.81h.4v.4h-.4zM141.55 245.81h.4v.4h-.4zM143.72 245.81h.4v.4h-.4zM59.28 243.64h.4v.4h-.4zM70.11 243.64h.4v.4h-.4zM113.41 243.64h.4v.4h-.4zM126.4 243.64h.4v.4h-.4zM59.28 241.48h.4v.4h-.4zM72.27 241.48h.4v.4h-.4zM76.6 241.48h.4v.4h-.4zM83.1 241.48h.4v.4h-.4zM111.24 241.48h.4v.4h-.4zM128.56 241.48h.4v.4h-.4zM52.79 239.31h.4v.4h-.4zM54.95 239.31h.4v.4h-.4zM63.61 239.31h.4v.4h-.4zM65.78 239.31h.4v.4h-.4zM124.23 239.31h.4v.4h-.4zM126.4 239.31h.4v.4h-.4zM67.94 237.15h.4v.4h-.4zM72.27 237.15h.4v.4h-.4zM85.26 237.15h.4v.4h-.4zM100.42 237.15h.4v.4h-.4zM102.58 237.15h.4v.4h-.4zM109.08 237.15h.4v.4h-.4zM124.23 237.15h.4v.4h-.4zM141.55 237.15h.4v.4h-.4zM150.21 237.15h.4v.4h-.4zM67.94 234.98h.4v.4h-.4zM78.77 234.98h.4v.4h-.4zM80.93 234.98h.4v.4h-.4zM113.41 234.98h.4v.4h-.4zM124.23 234.98h.4v.4h-.4zM139.39 234.98h.4v.4h-.4zM150.21 234.98h.4v.4h-.4zM63.61 232.82h.4v.4h-.4zM78.77 232.82h.4v.4h-.4zM113.41 232.82h.4v.4h-.4zM122.07 232.82h.4v.4h-.4zM128.56 232.82h.4v.4h-.4zM132.89 232.82h.4v.4h-.4zM135.06 232.82h.4v.4h-.4zM54.95 230.65h.4v.4h-.4zM72.27 230.65h.4v.4h-.4zM98.25 230.65h.4v.4h-.4zM122.07 230.65h.4v.4h-.4zM124.23 230.65h.4v.4h-.4zM143.72 230.65h.4v.4h-.4zM76.6 228.49h.4v.4h-.4zM100.42 228.49h.4v.4h-.4zM102.58 228.49h.4v.4h-.4zM126.4 228.49h.4v.4h-.4zM128.56 228.49h.4v.4h-.4zM135.06 228.49h.4v.4h-.4zM137.22 228.49h.4v.4h-.4zM141.55 228.49h.4v.4h-.4zM54.95 226.32h.4v.4h-.4zM59.28 226.32h.4v.4h-.4zM122.07 226.32h.4v.4h-.4zM128.56 226.32h.4v.4h-.4zM135.06 226.32h.4v.4h-.4zM48.46 224.16h.4v.4h-.4zM57.12 224.16h.4v.4h-.4zM63.61 224.16h.4v.4h-.4zM89.59 224.16h.4v.4h-.4zM91.76 224.16h.4v.4h-.4zM104.75 224.16h.4v.4h-.4zM106.91 224.16h.4v.4h-.4zM124.23 224.16h.4v.4h-.4zM126.4 224.16h.4v.4h-.4zM52.79 221.99h.4v.4h-.4zM57.12 221.99h.4v.4h-.4zM59.28 221.99h.4v.4h-.4zM63.61 221.99h.4v.4h-.4zM65.78 221.99h.4v.4h-.4zM67.94 221.99h.4v.4h-.4zM89.59 221.99h.4v.4h-.4zM93.92 221.99h.4v.4h-.4zM98.25 221.99h.4v.4h-.4zM102.58 221.99h.4v.4h-.4zM104.75 221.99h.4v.4h-.4zM119.9 221.99h.4v.4h-.4zM124.23 221.99h.4v.4h-.4zM128.56 221.99h.4v.4h-.4zM139.39 221.99h.4v.4h-.4zM65.78 219.83h.4v.4h-.4zM91.76 219.83h.4v.4h-.4zM96.09 219.83h.4v.4h-.4zM98.25 219.83h.4v.4h-.4zM115.57 219.83h.4v.4h-.4zM117.74 219.83h.4v.4h-.4zM126.4 219.83h.4v.4h-.4zM135.06 219.83h.4v.4h-.4zM139.39 219.83h.4v.4h-.4zM57.12 217.66h.4v.4h-.4zM65.78 217.66h.4v.4h-.4zM93.92 217.66h.4v.4h-.4zM98.25 217.66h.4v.4h-.4zM109.08 217.66h.4v.4h-.4zM111.24 217.66h.4v.4h-.4zM115.57 217.66h.4v.4h-.4zM117.74 217.66h.4v.4h-.4zM119.9 217.66h.4v.4h-.4zM122.07 217.66h.4v.4h-.4zM126.4 217.66h.4v.4h-.4zM128.56 217.66h.4v.4h-.4zM52.79 215.5h.4v.4h-.4zM57.12 215.5h.4v.4h-.4zM67.94 215.5h.4v.4h-.4zM83.1 215.5h.4v.4h-.4zM91.76 215.5h.4v.4h-.4zM93.92 215.5h.4v.4h-.4zM96.09 215.5h.4v.4h-.4zM111.24 215.5h.4v.4h-.4zM124.23 215.5h.4v.4h-.4zM126.4 215.5h.4v.4h-.4zM137.22 215.5h.4v.4h-.4zM139.39 215.5h.4v.4h-.4zM141.55 215.5h.4v.4h-.4zM59.28 213.33h.4v.4h-.4zM76.6 213.33h.4v.4h-.4zM85.26 213.33h.4v.4h-.4zM109.08 213.33h.4v.4h-.4zM111.24 213.33h.4v.4h-.4zM124.23 213.33h.4v.4h-.4zM126.4 213.33h.4v.4h-.4zM135.06 213.33h.4v.4h-.4zM48.46 211.17h.4v.4h-.4zM54.95 211.17h.4v.4h-.4zM76.6 211.17h.4v.4h-.4zM85.26 211.17h.4v.4h-.4zM91.76 211.17h.4v.4h-.4zM124.23 211.17h.4v.4h-.4zM128.56 211.17h.4v.4h-.4zM132.89 211.17h.4v.4h-.4zM135.06 211.17h.4v.4h-.4zM48.46 209h.4v.4h-.4zM54.95 209h.4v.4h-.4zM89.59 209h.4v.4h-.4zM91.76 209h.4v.4h-.4zM117.74 209h.4v.4h-.4zM122.07 209h.4v.4h-.4zM126.4 209h.4v.4h-.4zM135.06 209h.4v.4h-.4zM89.59 206.84h.4v.4h-.4zM111.24 206.84h.4v.4h-.4zM117.74 206.84h.4v.4h-.4zM137.22 206.84h.4v.4h-.4zM50.62 204.67h.4v.4h-.4zM65.78 204.67h.4v.4h-.4zM76.6 204.67h.4v.4h-.4zM96.09 204.67h.4v.4h-.4zM100.42 204.67h.4v.4h-.4zM111.24 204.67h.4v.4h-.4zM113.41 204.67h.4v.4h-.4zM135.06 204.67h.4v.4h-.4zM52.79 202.51h.4v.4h-.4zM61.45 202.51h.4v.4h-.4zM72.27 202.51h.4v.4h-.4zM96.09 202.51h.4v.4h-.4zM98.25 202.51h.4v.4h-.4zM100.42 202.51h.4v.4h-.4zM106.91 202.51h.4v.4h-.4zM109.08 202.51h.4v.4h-.4zM115.57 202.51h.4v.4h-.4zM124.23 202.51h.4v.4h-.4zM130.73 202.51h.4v.4h-.4zM135.06 202.51h.4v.4h-.4zM61.45 200.34h.4v.4h-.4zM63.61 200.34h.4v.4h-.4zM70.11 200.34h.4v.4h-.4zM78.77 200.34h.4v.4h-.4zM80.93 200.34h.4v.4h-.4zM109.08 200.34h.4v.4h-.4zM63.61 198.18h.4v.4h-.4zM65.78 198.18h.4v.4h-.4zM93.92 198.18h.4v.4h-.4zM96.09 198.18h.4v.4h-.4zM111.24 198.18h.4v.4h-.4zM115.57 198.18h.4v.4h-.4zM59.28 196.01h.4v.4h-.4zM93.92 196.01h.4v.4h-.4zM96.09 196.01h.4v.4h-.4zM104.75 196.01h.4v.4h-.4zM106.91 196.01h.4v.4h-.4zM63.61 193.85h.4v.4h-.4zM91.76 193.85h.4v.4h-.4zM96.09 193.85h.4v.4h-.4zM63.61 191.68h.4v.4h-.4zM80.93 191.68h.4v.4h-.4zM83.1 191.68h.4v.4h-.4zM87.43 191.68h.4v.4h-.4zM96.09 191.68h.4v.4h-.4zM104.75 191.68h.4v.4h-.4zM54.95 189.52h.4v.4h-.4zM59.28 189.52h.4v.4h-.4zM61.45 189.52h.4v.4h-.4zM63.61 189.52h.4v.4h-.4zM74.44 189.52h.4v.4h-.4zM76.6 189.52h.4v.4h-.4zM78.77 189.52h.4v.4h-.4zM83.1 189.52h.4v.4h-.4zM89.59 189.52h.4v.4h-.4zM91.76 189.52h.4v.4h-.4zM98.25 189.52h.4v.4h-.4zM100.42 189.52h.4v.4h-.4zM102.58 189.52h.4v.4h-.4zM111.24 189.52h.4v.4h-.4zM52.79 187.35h.4v.4h-.4zM65.78 187.35h.4v.4h-.4zM70.11 187.35h.4v.4h-.4zM74.44 187.35h.4v.4h-.4zM85.26 187.35h.4v.4h-.4zM89.59 187.35h.4v.4h-.4zM93.92 187.35h.4v.4h-.4zM96.09 187.35h.4v.4h-.4zM98.25 187.35h.4v.4h-.4zM100.42 187.35h.4v.4h-.4zM104.75 187.35h.4v.4h-.4zM50.62 185.19h.4v.4h-.4zM72.27 185.19h.4v.4h-.4zM80.93 185.19h.4v.4h-.4zM85.26 185.19h.4v.4h-.4zM87.43 185.19h.4v.4h-.4zM91.76 185.19h.4v.4h-.4zM96.09 185.19h.4v.4h-.4zM102.58 185.19h.4v.4h-.4zM50.62 183.02h.4v.4h-.4zM63.61 183.02h.4v.4h-.4zM111.24 183.02h.4v.4h-.4zM54.95 180.86h.4v.4h-.4zM57.12 180.86h.4v.4h-.4zM80.93 180.86h.4v.4h-.4zM102.58 180.86h.4v.4h-.4zM52.79 178.69h.4v.4h-.4zM59.28 178.69h.4v.4h-.4zM80.93 178.69h.4v.4h-.4zM85.26 178.69h.4v.4h-.4zM87.43 178.69h.4v.4h-.4zM93.92 178.69h.4v.4h-.4zM100.42 178.69h.4v.4h-.4zM102.58 178.69h.4v.4h-.4zM104.75 178.69h.4v.4h-.4zM109.08 178.69h.4v.4h-.4zM111.24 178.69h.4v.4h-.4zM57.12 176.53h.4v.4h-.4zM85.26 176.53h.4v.4h-.4zM98.25 176.53h.4v.4h-.4zM106.91 176.53h.4v.4h-.4zM50.62 174.36h.4v.4h-.4zM78.77 174.36h.4v.4h-.4zM91.76 174.36h.4v.4h-.4zM93.92 174.36h.4v.4h-.4zM98.25 174.36h.4v.4h-.4zM48.46 172.2h.4v.4h-.4zM50.62 172.2h.4v.4h-.4zM54.95 172.2h.4v.4h-.4zM59.28 172.2h.4v.4h-.4zM61.45 172.2h.4v.4h-.4zM67.94 172.2h.4v.4h-.4zM76.6 172.2h.4v.4h-.4zM85.26 172.2h.4v.4h-.4zM98.25 172.2h.4v.4h-.4zM67.94 170.03h.4v.4h-.4zM83.1 170.03h.4v.4h-.4zM65.78 167.87h.4v.4h-.4zM65.78 163.54h.4v.4h-.4zM76.6 163.54h.4v.4h-.4zM78.77 163.54h.4v.4h-.4z"/>
<path fill="#1a84ff" d="M78.67 265.19h.6v.6h-.6zM85.16 265.19h.6v.6h-.6zM91.66 265.19h.6v.6h-.6zM113.31 265.19h.6v.6h-.6zM119.8 265.19h.6v.6h-.6zM137.12 265.19h.6v.6h-.6zM139.29 265.19h.6v.6h-.6zM54.85 263.03h.6v.6h-.6zM59.18 263.03h.6v.6h-.6zM76.5 263.03h.6v.6h-.6zM91.66 263.03h.6v.6h-.6zM102.48 263.03h.6v.6h-.6zM117.64 263.03h.6v.6h-.6zM126.3 263.03h.6v.6h-.6zM85.16 260.86h.6v.6h-.6zM108.98 260.86h.6v.6h-.6zM113.31 260.86h.6v.6h-.6zM124.13 260.86h.6v.6h-.6zM152.28 260.86h.6v.6h-.6zM50.52 258.7h.6v.6h-.6zM78.67 258.7h.6v.6h-.6zM85.16 258.7h.6v.6h-.6zM117.64 258.7h.6v.6h-.6zM126.3 258.7h.6v.6h-.6zM150.11 258.7h.6v.6h-.6zM76.5 256.53h.6v.6h-.6zM87.33 256.53h.6v.6h-.6zM115.47 256.53h.6v.6h-.6zM126.3 256.53h.6v.6h-.6zM130.63 256.53h.6v.6h-.6zM139.29 256.53h.6v.6h-.6zM143.62 256.53h.6v.6h-.6zM154.44 256.53h.6v.6h-.6zM50.52 254.37h.6v.6h-.6zM83 254.37h.6v.6h-.6zM89.49 254.37h.6v.6h-.6zM93.82 254.37h.6v.6h-.6zM95.99 254.37h.6v.6h-.6zM98.15 254.37h.6v.6h-.6zM104.65 254.37h.6v.6h-.6zM128.46 254.37h.6v.6h-.6zM143.62 254.37h.6v.6h-.6zM152.28 254.37h.6v.6h-.6zM85.16 252.2h.6v.6h-.6zM102.48 252.2h.6v.6h-.6zM115.47 252.2h.6v.6h-.6zM132.79 252.2h.6v.6h-.6zM139.29 252.2h.6v.6h-.6zM70.01 250.04h.6v.6h-.6zM76.5 250.04h.6v.6h-.6zM126.3 250.04h.6v.6h-.6zM143.62 250.04h.6v.6h-.6zM147.95 250.04h.6v.6h-.6zM150.11 250.04h.6v.6h-.6zM106.81 247.87h.6v.6h-.6zM137.12 247.87h.6v.6h-.6zM85.16 245.71h.6v.6h-.6zM87.33 245.71h.6v.6h-.6zM104.65 245.71h.6v.6h-.6zM132.79 245.71h.6v.6h-.6zM137.12 245.71h.6v.6h-.6zM63.51 243.54h.6v.6h-.6zM145.78 243.54h.6v.6h-.6zM80.83 241.38h.6v.6h-.6zM102.48 241.38h.6v.6h-.6zM108.98 241.38h.6v.6h-.6zM113.31 241.38h.6v.6h-.6zM141.45 241.38h.6v.6h-.6zM143.62 241.38h.6v.6h-.6zM152.28 241.38h.6v.6h-.6zM113.31 239.21h.6v.6h-.6zM147.95 239.21h.6v.6h-.6zM50.52 237.05h.6v.6h-.6zM57.02 237.05h.6v.6h-.6zM63.51 237.05h.6v.6h-.6zM83 237.05h.6v.6h-.6zM106.81 237.05h.6v.6h-.6zM132.79 237.05h.6v.6h-.6zM139.29 237.05h.6v.6h-.6zM143.62 237.05h.6v.6h-.6zM48.36 234.88h.6v.6h-.6zM54.85 234.88h.6v.6h-.6zM83 234.88h.6v.6h-.6zM85.16 234.88h.6v.6h-.6zM95.99 234.88h.6v.6h-.6zM119.8 234.88h.6v.6h-.6zM128.46 234.88h.6v.6h-.6zM134.96 234.88h.6v.6h-.6zM72.17 232.72h.6v.6h-.6zM87.33 232.72h.6v.6h-.6zM102.48 232.72h.6v.6h-.6zM147.95 232.72h.6v.6h-.6zM59.18 230.55h.6v.6h-.6zM76.5 230.55h.6v.6h-.6zM78.67 230.55h.6v.6h-.6zM95.99 230.55h.6v.6h-.6zM128.46 230.55h.6v.6h-.6zM134.96 230.55h.6v.6h-.6zM48.36 228.39h.6v.6h-.6zM52.69 228.39h.6v.6h-.6zM54.85 228.39h.6v.6h-.6zM61.35 228.39h.6v.6h-.6zM67.84 228.39h.6v.6h-.6zM78.67 228.39h.6v.6h-.6zM104.65 228.39h.6v.6h-.6zM130.63 228.39h.6v.6h-.6zM143.62 228.39h.6v.6h-.6zM57.02 226.22h.6v.6h-.6zM67.84 226.22h.6v.6h-.6zM80.83 226.22h.6v.6h-.6zM100.32 226.22h.6v.6h-.6zM130.63 226.22h.6v.6h-.6zM137.12 226.22h.6v.6h-.6zM59.18 224.06h.6v.6h-.6zM48.36 221.89h.6v.6h-.6zM50.52 221.89h.6v.6h-.6zM108.98 221.89h.6v.6h-.6zM117.64 221.89h.6v.6h-.6zM59.18 219.73h.6v.6h-.6zM104.65 219.73h.6v.6h-.6zM108.98 219.73h.6v.6h-.6zM128.46 219.73h.6v.6h-.6zM132.79 219.73h.6v.6h-.6zM59.18 217.56h.6v.6h-.6zM78.67 217.56h.6v.6h-.6zM83 217.56h.6v.6h-.6zM95.99 217.56h.6v.6h-.6zM130.63 217.56h.6v.6h-.6zM59.18 215.4h.6v.6h-.6zM87.33 213.23h.6v.6h-.6zM102.48 213.23h.6v.6h-.6zM132.79 213.23h.6v.6h-.6zM50.52 211.07h.6v.6h-.6zM61.35 211.07h.6v.6h-.6zM72.17 211.07h.6v.6h-.6zM80.83 211.07h.6v.6h-.6zM100.32 211.07h.6v.6h-.6zM108.98 211.07h.6v.6h-.6zM59.18 208.9h.6v.6h-.6zM67.84 208.9h.6v.6h-.6zM85.16 208.9h.6v.6h-.6zM93.82 208.9h.6v.6h-.6zM108.98 208.9h.6v.6h-.6zM65.68 206.74h.6v.6h-.6zM76.5 206.74h.6v.6h-.6zM52.69 204.57h.6v.6h-.6zM72.17 204.57h.6v.6h-.6zM91.66 204.57h.6v.6h-.6zM93.82 204.57h.6v.6h-.6zM102.48 204.57h.6v.6h-.6zM104.65 204.57h.6v.6h-.6zM108.98 204.57h.6v.6h-.6zM130.63 204.57h.6v.6h-.6zM48.36 200.24h.6v.6h-.6zM52.69 200.24h.6v.6h-.6zM72.17 200.24h.6v.6h-.6zM74.34 200.24h.6v.6h-.6zM115.47 200.24h.6v.6h-.6zM117.64 200.24h.6v.6h-.6zM57.02 198.08h.6v.6h-.6zM61.35 198.08h.6v.6h-.6zM113.31 198.08h.6v.6h-.6zM126.3 198.08h.6v.6h-.6zM50.52 195.91h.6v.6h-.6zM54.85 195.91h.6v.6h-.6zM91.66 195.91h.6v.6h-.6zM113.31 195.91h.6v.6h-.6zM48.36 193.75h.6v.6h-.6zM78.67 193.75h.6v.6h-.6zM52.69 189.42h.6v.6h-.6zM50.52 187.25h.6v.6h-.6zM54.85 187.25h.6v.6h-.6zM57.02 187.25h.6v.6h-.6zM63.51 187.25h.6v.6h-.6zM115.47 187.25h.6v.6h-.6zM59.18 185.09h.6v.6h-.6zM78.67 185.09h.6v.6h-.6zM83 185.09h.6v.6h-.6zM93.82 185.09h.6v.6h-.6zM57.02 182.92h.6v.6h-.6zM85.16 182.92h.6v.6h-.6zM87.33 182.92h.6v.6h-.6zM95.99 182.92h.6v.6h-.6zM108.98 182.92h.6v.6h-.6zM61.35 180.76h.6v.6h-.6zM67.84 180.76h.6v.6h-.6zM76.5 180.76h.6v.6h-.6zM93.82 180.76h.6v.6h-.6zM100.32 180.76h.6v.6h-.6zM78.67 178.59h.6v.6h-.6zM83 178.59h.6v.6h-.6zM48.36 176.43h.6v.6h-.6zM65.68 176.43h.6v.6h-.6zM67.84 176.43h.6v.6h-.6zM87.33 176.43h.6v.6h-.6zM48.36 174.26h.6v.6h-.6zM57.02 174.26h.6v.6h-.6zM61.35 174.26h.6v.6h-.6zM76.5 174.26h.6v.6h-.6zM72.17 172.1h.6v.6h-.6zM57.02 169.93h.6v.6h-.6zM59.18 169.93h.6v.6h-.6zM63.51 169.93h.6v.6h-.6zM72.17 169.93h.6v.6h-.6zM76.5 169.93h.6v.6h-.6zM85.16 169.93h.6v.6h-.6zM70.01 167.77h.6v.6h-.6zM63.51 165.6h.6v.6h-.6zM74.34 165.6h.6v.6h-.6zM80.83 165.6h.6v.6h-.6zM54.85 163.44h.6v.6h-.6zM63.51 163.44h.6v.6h-.6zM52.69 161.27h.6v.6h-.6zM59.18 161.27h.6v.6h-.6zM72.17 161.27h.6v.6h-.6zM57.02 159.11h.6v.6h-.6z"/>
<path fill="#1a84ff" d="M82.9 265.09h.8v.8h-.8zM117.54 265.09h.8v.8h-.8zM126.2 265.09h.8v.8h-.8zM154.34 265.09h.8v.8h-.8zM67.74 262.93h.8v.8h-.8zM85.06 262.93h.8v.8h-.8zM61.25 260.76h.8v.8h-.8zM145.68 260.76h.8v.8h-.8zM65.58 256.43h.8v.8h-.8zM104.55 256.43h.8v.8h-.8zM111.04 256.43h.8v.8h-.8zM147.85 256.43h.8v.8h-.8zM74.24 254.27h.8v.8h-.8zM115.37 254.27h.8v.8h-.8zM145.68 254.27h.8v.8h-.8zM147.85 254.27h.8v.8h-.8zM52.59 252.1h.8v.8h-.8zM100.22 252.1h.8v.8h-.8zM143.52 252.1h.8v.8h-.8zM147.85 252.1h.8v.8h-.8zM67.74 249.94h.8v.8h-.8zM102.38 249.94h.8v.8h-.8zM152.18 249.94h.8v.8h-.8zM56.92 247.77h.8v.8h-.8zM76.4 247.77h.8v.8h-.8zM102.38 247.77h.8v.8h-.8zM119.7 247.77h.8v.8h-.8zM50.42 245.61h.8v.8h-.8zM63.41 245.61h.8v.8h-.8zM74.24 243.44h.8v.8h-.8zM76.4 243.44h.8v.8h-.8zM98.05 243.44h.8v.8h-.8zM134.86 243.44h.8v.8h-.8zM95.89 241.28h.8v.8h-.8zM117.54 241.28h.8v.8h-.8zM126.2 241.28h.8v.8h-.8zM130.53 241.28h.8v.8h-.8zM147.85 241.28h.8v.8h-.8zM59.08 239.11h.8v.8h-.8zM69.91 239.11h.8v.8h-.8zM80.73 239.11h.8v.8h-.8zM115.37 239.11h.8v.8h-.8zM65.58 236.95h.8v.8h-.8zM69.91 236.95h.8v.8h-.8zM78.57 236.95h.8v.8h-.8zM98.05 236.95h.8v.8h-.8zM128.36 236.95h.8v.8h-.8zM76.4 234.78h.8v.8h-.8zM91.56 234.78h.8v.8h-.8zM108.88 234.78h.8v.8h-.8zM74.24 232.62h.8v.8h-.8zM93.72 232.62h.8v.8h-.8zM98.05 232.62h.8v.8h-.8zM111.04 232.62h.8v.8h-.8zM48.26 230.45h.8v.8h-.8zM111.04 230.45h.8v.8h-.8zM145.68 230.45h.8v.8h-.8zM50.42 228.29h.8v.8h-.8zM108.88 228.29h.8v.8h-.8zM121.87 228.29h.8v.8h-.8zM89.39 226.12h.8v.8h-.8zM145.68 226.12h.8v.8h-.8zM87.23 223.96h.8v.8h-.8zM130.53 223.96h.8v.8h-.8zM78.57 221.79h.8v.8h-.8zM100.22 221.79h.8v.8h-.8zM121.87 221.79h.8v.8h-.8zM80.73 219.63h.8v.8h-.8zM93.72 219.63h.8v.8h-.8zM100.22 219.63h.8v.8h-.8zM124.03 219.63h.8v.8h-.8zM72.07 217.46h.8v.8h-.8zM69.91 215.3h.8v.8h-.8zM76.4 215.3h.8v.8h-.8zM80.73 215.3h.8v.8h-.8zM106.71 215.3h.8v.8h-.8zM128.36 215.3h.8v.8h-.8zM61.25 213.13h.8v.8h-.8zM91.56 213.13h.8v.8h-.8zM93.72 213.13h.8v.8h-.8zM128.36 213.13h.8v.8h-.8zM63.41 210.97h.8v.8h-.8zM65.58 210.97h.8v.8h-.8zM126.2 210.97h.8v.8h-.8zM56.92 208.8h.8v.8h-.8zM128.36 208.8h.8v.8h-.8zM130.53 208.8h.8v.8h-.8zM98.05 206.64h.8v.8h-.8zM78.57 204.47h.8v.8h-.8zM85.06 204.47h.8v.8h-.8zM56.92 202.31h.8v.8h-.8zM80.73 202.31h.8v.8h-.8zM82.9 202.31h.8v.8h-.8zM119.7 200.14h.8v.8h-.8zM59.08 197.98h.8v.8h-.8zM74.24 197.98h.8v.8h-.8zM128.36 197.98h.8v.8h-.8zM48.26 195.81h.8v.8h-.8zM72.07 195.81h.8v.8h-.8zM65.58 193.65h.8v.8h-.8zM113.21 193.65h.8v.8h-.8zM85.06 191.48h.8v.8h-.8zM91.56 191.48h.8v.8h-.8zM93.72 189.32h.8v.8h-.8zM48.26 187.15h.8v.8h-.8zM72.07 187.15h.8v.8h-.8zM102.38 187.15h.8v.8h-.8zM76.4 184.99h.8v.8h-.8zM98.05 184.99h.8v.8h-.8zM100.22 184.99h.8v.8h-.8zM104.55 184.99h.8v.8h-.8zM115.37 184.99h.8v.8h-.8zM72.07 182.82h.8v.8h-.8zM89.39 182.82h.8v.8h-.8zM104.55 182.82h.8v.8h-.8zM69.91 178.49h.8v.8h-.8zM61.25 169.83h.8v.8h-.8zM52.59 167.67h.8v.8h-.8zM59.08 167.67h.8v.8h-.8zM82.9 167.67h.8v.8h-.8zM87.23 167.67h.8v.8h-.8zM56.92 165.5h.8v.8h-.8zM59.08 165.5h.8v.8h-.8zM61.25 165.5h.8v.8h-.8zM72.07 165.5h.8v.8h-.8zM63.41 161.17h.8v.8h-.8zM48.26 159.01h.8v.8h-.8z"/>
<path fill="#1a84ff" d="M56.82 264.99h1v1h-1zM134.76 264.99h1v1h-1zM143.42 264.99h1v1h-1zM149.91 264.99h1v1h-1zM152.08 264.99h1v1h-1zM61.15 262.83h1v1h-1zM71.97 262.83h1v1h-1zM104.45 262.83h1v1h-1zM71.97 260.66h1v1h-1zM102.28 260.66h1v1h-1zM104.45 260.66h1v1h-1zM132.59 260.66h1v1h-1zM154.24 260.66h1v1h-1zM54.65 258.5h1v1h-1zM56.82 258.5h1v1h-1zM65.48 258.5h1v1h-1zM69.81 258.5h1v1h-1zM71.97 258.5h1v1h-1zM95.79 258.5h1v1h-1zM97.95 258.5h1v1h-1zM115.27 258.5h1v1h-1zM134.76 258.5h1v1h-1zM48.16 256.33h1v1h-1zM54.65 256.33h1v1h-1zM67.64 256.33h1v1h-1zM78.47 256.33h1v1h-1zM152.08 256.33h1v1h-1zM61.15 254.17h1v1h-1zM67.64 254.17h1v1h-1zM78.47 254.17h1v1h-1zM102.28 254.17h1v1h-1zM110.94 254.17h1v1h-1zM50.32 252h1v1h-1zM58.98 252h1v1h-1zM61.15 252h1v1h-1zM74.14 252h1v1h-1zM78.47 252h1v1h-1zM91.46 252h1v1h-1zM93.62 252h1v1h-1zM121.77 252h1v1h-1zM136.92 252h1v1h-1zM154.24 252h1v1h-1zM110.94 249.84h1v1h-1zM54.65 247.67h1v1h-1zM65.48 247.67h1v1h-1zM71.97 247.67h1v1h-1zM113.11 247.67h1v1h-1zM117.44 247.67h1v1h-1zM123.93 247.67h1v1h-1zM56.82 245.51h1v1h-1zM58.98 245.51h1v1h-1zM110.94 245.51h1v1h-1zM115.27 245.51h1v1h-1zM123.93 245.51h1v1h-1zM128.26 245.51h1v1h-1zM54.65 243.34h1v1h-1zM80.63 243.34h1v1h-1zM50.32 241.18h1v1h-1zM52.49 241.18h1v1h-1zM54.65 241.18h1v1h-1zM65.48 241.18h1v1h-1zM74.14 241.18h1v1h-1zM78.47 241.18h1v1h-1zM87.13 241.18h1v1h-1zM97.95 241.18h1v1h-1zM145.58 241.18h1v1h-1zM61.15 239.01h1v1h-1zM71.97 239.01h1v1h-1zM84.96 239.01h1v1h-1zM100.12 239.01h1v1h-1zM139.09 239.01h1v1h-1zM104.45 236.85h1v1h-1zM56.82 234.68h1v1h-1zM58.98 234.68h1v1h-1zM61.15 234.68h1v1h-1zM71.97 234.68h1v1h-1zM102.28 234.68h1v1h-1zM106.61 234.68h1v1h-1zM69.81 232.52h1v1h-1zM80.63 232.52h1v1h-1zM89.29 232.52h1v1h-1zM100.12 232.52h1v1h-1zM126.1 232.52h1v1h-1zM130.43 232.52h1v1h-1zM145.58 232.52h1v1h-1zM130.43 230.35h1v1h-1zM74.14 228.19h1v1h-1zM89.29 228.19h1v1h-1zM132.59 228.19h1v1h-1zM71.97 226.02h1v1h-1zM119.6 226.02h1v1h-1zM147.75 226.02h1v1h-1zM80.63 223.86h1v1h-1zM84.96 223.86h1v1h-1zM93.62 223.86h1v1h-1zM102.28 223.86h1v1h-1zM108.78 223.86h1v1h-1zM110.94 223.86h1v1h-1zM145.58 223.86h1v1h-1zM61.15 221.69h1v1h-1zM91.46 221.69h1v1h-1zM136.92 221.69h1v1h-1zM61.15 219.53h1v1h-1zM89.29 219.53h1v1h-1zM119.6 219.53h1v1h-1zM136.92 219.53h1v1h-1zM54.65 217.36h1v1h-1zM100.12 217.36h1v1h-1zM123.93 217.36h1v1h-1zM141.25 217.36h1v1h-1zM54.65 215.2h1v1h-1zM71.97 215.2h1v1h-1zM97.95 215.2h1v1h-1zM117.44 215.2h1v1h-1zM130.43 215.2h1v1h-1zM74.14 213.03h1v1h-1zM80.63 213.03h1v1h-1zM95.79 213.03h1v1h-1zM119.6 213.03h1v1h-1zM121.77 213.03h1v1h-1zM136.92 213.03h1v1h-1zM52.49 210.87h1v1h-1zM58.98 210.87h1v1h-1zM78.47 210.87h1v1h-1zM89.29 210.87h1v1h-1zM117.44 210.87h1v1h-1zM121.77 210.87h1v1h-1zM139.09 210.87h1v1h-1zM50.32 208.7h1v1h-1zM52.49 208.7h1v1h-1zM76.3 208.7h1v1h-1zM113.11 208.7h1v1h-1zM115.27 208.7h1v1h-1zM119.6 208.7h1v1h-1zM78.47 206.54h1v1h-1zM113.11 206.54h1v1h-1zM121.77 206.54h1v1h-1zM123.93 206.54h1v1h-1zM89.29 204.37h1v1h-1zM117.44 204.37h1v1h-1zM58.98 202.21h1v1h-1zM63.31 202.21h1v1h-1zM67.64 202.21h1v1h-1zM89.29 202.21h1v1h-1zM128.26 202.21h1v1h-1zM132.59 202.21h1v1h-1zM65.48 200.04h1v1h-1zM104.45 200.04h1v1h-1zM106.61 200.04h1v1h-1zM54.65 197.88h1v1h-1zM67.64 197.88h1v1h-1zM104.45 197.88h1v1h-1zM119.6 197.88h1v1h-1zM65.48 195.71h1v1h-1zM97.95 195.71h1v1h-1zM102.28 195.71h1v1h-1zM108.78 195.71h1v1h-1zM87.13 193.55h1v1h-1zM93.62 193.55h1v1h-1zM100.12 193.55h1v1h-1zM104.45 193.55h1v1h-1zM115.27 193.55h1v1h-1zM61.15 191.38h1v1h-1zM100.12 191.38h1v1h-1zM102.28 191.38h1v1h-1zM106.61 191.38h1v1h-1zM65.48 189.22h1v1h-1zM67.64 189.22h1v1h-1zM95.79 189.22h1v1h-1zM106.61 189.22h1v1h-1zM80.63 187.05h1v1h-1zM67.64 184.89h1v1h-1zM110.94 184.89h1v1h-1zM80.63 182.72h1v1h-1zM82.8 182.72h1v1h-1zM97.95 182.72h1v1h-1zM52.49 180.56h1v1h-1zM84.96 180.56h1v1h-1zM110.94 180.56h1v1h-1zM48.16 178.39h1v1h-1zM54.65 178.39h1v1h-1zM61.15 176.23h1v1h-1zM91.46 176.23h1v1h-1zM93.62 176.23h1v1h-1zM100.12 176.23h1v1h-1zM74.14 174.06h1v1h-1zM102.28 174.06h1v1h-1zM95.79 171.9h1v1h-1zM48.16 169.73h1v1h-1zM71.97 167.57h1v1h-1zM80.63 167.57h1v1h-1zM89.29 167.57h1v1h-1zM87.13 165.4h1v1h-1zM48.16 163.24h1v1h-1zM48.16 161.07h1v1h-1zM56.82 161.07h1v1h-1zM52.49 158.91h1v1h-1zM61.15 158.91h1v1h-1z"/>
<path fill="#1a84ff" d="M48.06 264.89h1.2v1.2h-1.2zM65.38 264.89h1.2v1.2h-1.2zM69.71 264.89h1.2v1.2h-1.2zM71.87 264.89h1.2v1.2h-1.2zM74.04 264.89h1.2v1.2h-1.2zM115.17 264.89h1.2v1.2h-1.2zM145.48 264.89h1.2v1.2h-1.2zM56.72 262.73h1.2v1.2h-1.2zM65.38 262.73h1.2v1.2h-1.2zM78.37 262.73h1.2v1.2h-1.2zM80.53 262.73h1.2v1.2h-1.2zM93.52 262.73h1.2v1.2h-1.2zM95.69 262.73h1.2v1.2h-1.2zM113.01 262.73h1.2v1.2h-1.2zM121.67 262.73h1.2v1.2h-1.2zM132.49 262.73h1.2v1.2h-1.2zM69.71 260.56h1.2v1.2h-1.2zM93.52 260.56h1.2v1.2h-1.2zM106.51 260.56h1.2v1.2h-1.2zM115.17 260.56h1.2v1.2h-1.2zM119.5 260.56h1.2v1.2h-1.2zM130.33 260.56h1.2v1.2h-1.2zM136.82 260.56h1.2v1.2h-1.2zM141.15 260.56h1.2v1.2h-1.2zM76.2 258.4h1.2v1.2h-1.2zM93.52 258.4h1.2v1.2h-1.2zM100.02 258.4h1.2v1.2h-1.2zM108.68 258.4h1.2v1.2h-1.2zM113.01 258.4h1.2v1.2h-1.2zM121.67 258.4h1.2v1.2h-1.2zM136.82 258.4h1.2v1.2h-1.2zM50.22 256.23h1.2v1.2h-1.2zM56.72 256.23h1.2v1.2h-1.2zM108.68 256.23h1.2v1.2h-1.2zM117.34 256.23h1.2v1.2h-1.2zM80.53 254.07h1.2v1.2h-1.2zM84.86 254.07h1.2v1.2h-1.2zM126 254.07h1.2v1.2h-1.2zM138.99 254.07h1.2v1.2h-1.2zM63.21 251.9h1.2v1.2h-1.2zM87.03 251.9h1.2v1.2h-1.2zM95.69 251.9h1.2v1.2h-1.2zM134.66 251.9h1.2v1.2h-1.2zM61.05 249.74h1.2v1.2h-1.2zM63.21 249.74h1.2v1.2h-1.2zM71.87 249.74h1.2v1.2h-1.2zM93.52 249.74h1.2v1.2h-1.2zM134.66 249.74h1.2v1.2h-1.2zM48.06 247.57h1.2v1.2h-1.2zM50.22 247.57h1.2v1.2h-1.2zM97.85 247.57h1.2v1.2h-1.2zM100.02 247.57h1.2v1.2h-1.2zM110.84 247.57h1.2v1.2h-1.2zM134.66 247.57h1.2v1.2h-1.2zM147.65 247.57h1.2v1.2h-1.2zM69.71 245.41h1.2v1.2h-1.2zM71.87 245.41h1.2v1.2h-1.2zM74.04 245.41h1.2v1.2h-1.2zM82.7 245.41h1.2v1.2h-1.2zM95.69 245.41h1.2v1.2h-1.2zM106.51 245.41h1.2v1.2h-1.2zM108.68 245.41h1.2v1.2h-1.2zM117.34 245.41h1.2v1.2h-1.2zM126 245.41h1.2v1.2h-1.2zM134.66 245.41h1.2v1.2h-1.2zM138.99 245.41h1.2v1.2h-1.2zM48.06 243.24h1.2v1.2h-1.2zM52.39 243.24h1.2v1.2h-1.2zM67.54 243.24h1.2v1.2h-1.2zM82.7 243.24h1.2v1.2h-1.2zM84.86 243.24h1.2v1.2h-1.2zM89.19 243.24h1.2v1.2h-1.2zM91.36 243.24h1.2v1.2h-1.2zM95.69 243.24h1.2v1.2h-1.2zM108.68 243.24h1.2v1.2h-1.2zM123.83 243.24h1.2v1.2h-1.2zM141.15 243.24h1.2v1.2h-1.2zM48.06 241.08h1.2v1.2h-1.2zM63.21 241.08h1.2v1.2h-1.2zM67.54 241.08h1.2v1.2h-1.2zM84.86 241.08h1.2v1.2h-1.2zM89.19 241.08h1.2v1.2h-1.2zM48.06 238.91h1.2v1.2h-1.2zM67.54 238.91h1.2v1.2h-1.2zM82.7 238.91h1.2v1.2h-1.2zM87.03 238.91h1.2v1.2h-1.2zM102.18 238.91h1.2v1.2h-1.2zM104.35 238.91h1.2v1.2h-1.2zM119.5 238.91h1.2v1.2h-1.2zM54.55 236.75h1.2v1.2h-1.2zM76.2 236.75h1.2v1.2h-1.2zM110.84 236.75h1.2v1.2h-1.2zM113.01 236.75h1.2v1.2h-1.2zM126 236.75h1.2v1.2h-1.2zM130.33 236.75h1.2v1.2h-1.2zM50.22 234.58h1.2v1.2h-1.2zM130.33 234.58h1.2v1.2h-1.2zM132.49 234.58h1.2v1.2h-1.2zM141.15 234.58h1.2v1.2h-1.2zM143.32 234.58h1.2v1.2h-1.2zM50.22 232.42h1.2v1.2h-1.2zM58.88 232.42h1.2v1.2h-1.2zM95.69 232.42h1.2v1.2h-1.2zM119.5 232.42h1.2v1.2h-1.2zM123.83 232.42h1.2v1.2h-1.2zM136.82 232.42h1.2v1.2h-1.2zM67.54 230.25h1.2v1.2h-1.2zM69.71 230.25h1.2v1.2h-1.2zM74.04 230.25h1.2v1.2h-1.2zM89.19 230.25h1.2v1.2h-1.2zM126 230.25h1.2v1.2h-1.2zM132.49 230.25h1.2v1.2h-1.2zM136.82 230.25h1.2v1.2h-1.2zM58.88 228.09h1.2v1.2h-1.2zM69.71 228.09h1.2v1.2h-1.2zM71.87 228.09h1.2v1.2h-1.2zM97.85 228.09h1.2v1.2h-1.2zM117.34 228.09h1.2v1.2h-1.2zM119.5 228.09h1.2v1.2h-1.2zM123.83 228.09h1.2v1.2h-1.2zM61.05 225.92h1.2v1.2h-1.2zM74.04 225.92h1.2v1.2h-1.2zM102.18 225.92h1.2v1.2h-1.2zM138.99 225.92h1.2v1.2h-1.2zM69.71 223.76h1.2v1.2h-1.2zM71.87 223.76h1.2v1.2h-1.2zM82.7 223.76h1.2v1.2h-1.2zM97.85 223.76h1.2v1.2h-1.2zM100.02 223.76h1.2v1.2h-1.2zM121.67 223.76h1.2v1.2h-1.2zM132.49 223.76h1.2v1.2h-1.2zM136.82 223.76h1.2v1.2h-1.2zM143.32 223.76h1.2v1.2h-1.2zM69.71 221.59h1.2v1.2h-1.2zM95.69 221.59h1.2v1.2h-1.2zM132.49 221.59h1.2v1.2h-1.2zM134.66 221.59h1.2v1.2h-1.2zM143.32 221.59h1.2v1.2h-1.2zM50.22 219.43h1.2v1.2h-1.2zM52.39 219.43h1.2v1.2h-1.2zM54.55 219.43h1.2v1.2h-1.2zM63.21 219.43h1.2v1.2h-1.2zM102.18 219.43h1.2v1.2h-1.2zM121.67 219.43h1.2v1.2h-1.2zM130.33 219.43h1.2v1.2h-1.2zM143.32 219.43h1.2v1.2h-1.2zM50.22 217.26h1.2v1.2h-1.2zM61.05 217.26h1.2v1.2h-1.2zM67.54 217.26h1.2v1.2h-1.2zM69.71 217.26h1.2v1.2h-1.2zM80.53 217.26h1.2v1.2h-1.2zM91.36 217.26h1.2v1.2h-1.2zM136.82 217.26h1.2v1.2h-1.2zM143.32 217.26h1.2v1.2h-1.2zM65.38 215.1h1.2v1.2h-1.2zM84.86 215.1h1.2v1.2h-1.2zM89.19 215.1h1.2v1.2h-1.2zM108.68 215.1h1.2v1.2h-1.2zM115.17 215.1h1.2v1.2h-1.2zM119.5 215.1h1.2v1.2h-1.2zM121.67 215.1h1.2v1.2h-1.2zM132.49 215.1h1.2v1.2h-1.2zM54.55 212.93h1.2v1.2h-1.2zM65.38 212.93h1.2v1.2h-1.2zM89.19 212.93h1.2v1.2h-1.2zM100.02 212.93h1.2v1.2h-1.2zM130.33 212.93h1.2v1.2h-1.2zM74.04 210.77h1.2v1.2h-1.2zM87.03 210.77h1.2v1.2h-1.2zM93.52 210.77h1.2v1.2h-1.2zM113.01 210.77h1.2v1.2h-1.2zM74.04 208.6h1.2v1.2h-1.2zM123.83 208.6h1.2v1.2h-1.2zM52.39 206.44h1.2v1.2h-1.2zM67.54 206.44h1.2v1.2h-1.2zM108.68 206.44h1.2v1.2h-1.2zM126 206.44h1.2v1.2h-1.2zM54.55 204.27h1.2v1.2h-1.2zM56.72 204.27h1.2v1.2h-1.2zM67.54 204.27h1.2v1.2h-1.2zM69.71 204.27h1.2v1.2h-1.2zM97.85 204.27h1.2v1.2h-1.2zM106.51 204.27h1.2v1.2h-1.2zM115.17 204.27h1.2v1.2h-1.2zM119.5 204.27h1.2v1.2h-1.2zM121.67 204.27h1.2v1.2h-1.2zM126 204.27h1.2v1.2h-1.2zM128.16 204.27h1.2v1.2h-1.2zM132.49 204.27h1.2v1.2h-1.2zM65.38 202.11h1.2v1.2h-1.2zM76.2 202.11h1.2v1.2h-1.2zM110.84 202.11h1.2v1.2h-1.2zM113.01 202.11h1.2v1.2h-1.2zM50.22 199.94h1.2v1.2h-1.2zM54.55 199.94h1.2v1.2h-1.2zM76.2 199.94h1.2v1.2h-1.2zM102.18 199.94h1.2v1.2h-1.2zM110.84 199.94h1.2v1.2h-1.2zM113.01 199.94h1.2v1.2h-1.2zM48.06 197.78h1.2v1.2h-1.2zM52.39 197.78h1.2v1.2h-1.2zM97.85 197.78h1.2v1.2h-1.2zM108.68 197.78h1.2v1.2h-1.2zM56.72 195.61h1.2v1.2h-1.2zM67.54 195.61h1.2v1.2h-1.2zM84.86 195.61h1.2v1.2h-1.2zM128.16 195.61h1.2v1.2h-1.2zM52.39 193.45h1.2v1.2h-1.2zM74.04 193.45h1.2v1.2h-1.2zM80.53 193.45h1.2v1.2h-1.2zM84.86 193.45h1.2v1.2h-1.2zM97.85 193.45h1.2v1.2h-1.2zM108.68 193.45h1.2v1.2h-1.2zM50.22 191.28h1.2v1.2h-1.2zM54.55 191.28h1.2v1.2h-1.2zM89.19 191.28h1.2v1.2h-1.2zM93.52 191.28h1.2v1.2h-1.2zM97.85 191.28h1.2v1.2h-1.2zM108.68 191.28h1.2v1.2h-1.2zM123.83 191.28h1.2v1.2h-1.2zM69.71 189.12h1.2v1.2h-1.2zM80.53 189.12h1.2v1.2h-1.2zM84.86 189.12h1.2v1.2h-1.2zM104.35 189.12h1.2v1.2h-1.2zM121.67 189.12h1.2v1.2h-1.2zM58.88 186.95h1.2v1.2h-1.2zM67.54 186.95h1.2v1.2h-1.2zM76.2 186.95h1.2v1.2h-1.2zM82.7 186.95h1.2v1.2h-1.2zM106.51 186.95h1.2v1.2h-1.2zM108.68 186.95h1.2v1.2h-1.2zM108.68 184.79h1.2v1.2h-1.2zM117.34 184.79h1.2v1.2h-1.2zM52.39 182.62h1.2v1.2h-1.2zM76.2 182.62h1.2v1.2h-1.2zM78.37 182.62h1.2v1.2h-1.2zM93.52 182.62h1.2v1.2h-1.2zM100.02 182.62h1.2v1.2h-1.2zM50.22 180.46h1.2v1.2h-1.2zM78.37 180.46h1.2v1.2h-1.2zM82.7 180.46h1.2v1.2h-1.2zM89.19 180.46h1.2v1.2h-1.2zM91.36 180.46h1.2v1.2h-1.2zM97.85 180.46h1.2v1.2h-1.2zM108.68 180.46h1.2v1.2h-1.2zM61.05 178.29h1.2v1.2h-1.2zM63.21 178.29h1.2v1.2h-1.2zM65.38 178.29h1.2v1.2h-1.2zM67.54 178.29h1.2v1.2h-1.2zM91.36 178.29h1.2v1.2h-1.2zM52.39 176.13h1.2v1.2h-1.2zM54.55 176.13h1.2v1.2h-1.2zM80.53 176.13h1.2v1.2h-1.2zM82.7 176.13h1.2v1.2h-1.2zM89.19 176.13h1.2v1.2h-1.2zM95.69 176.13h1.2v1.2h-1.2zM58.88 173.96h1.2v1.2h-1.2zM67.54 173.96h1.2v1.2h-1.2zM87.03 173.96h1.2v1.2h-1.2zM52.39 171.8h1.2v1.2h-1.2zM69.71 171.8h1.2v1.2h-1.2zM78.37 171.8h1.2v1.2h-1.2zM78.37 169.63h1.2v1.2h-1.2zM89.19 169.63h1.2v1.2h-1.2zM91.36 169.63h1.2v1.2h-1.2zM93.52 169.63h1.2v1.2h-1.2zM95.69 169.63h1.2v1.2h-1.2zM48.06 167.47h1.2v1.2h-1.2zM65.38 165.3h1.2v1.2h-1.2z"/>
<path fill="#1a84ff" d="M93.42 264.79h1.4v1.4h-1.4zM99.92 264.79h1.4v1.4h-1.4zM106.41 264.79h1.4v1.4h-1.4zM108.58 264.79h1.4v1.4h-1.4zM50.12 262.63h1.4v1.4h-1.4zM52.29 262.63h1.4v1.4h-1.4zM73.94 262.63h1.4v1.4h-1.4zM99.92 262.63h1.4v1.4h-1.4zM106.41 262.63h1.4v1.4h-1.4zM110.74 262.63h1.4v1.4h-1.4zM123.73 262.63h1.4v1.4h-1.4zM136.72 262.63h1.4v1.4h-1.4zM145.38 262.63h1.4v1.4h-1.4zM50.12 260.46h1.4v1.4h-1.4zM54.45 260.46h1.4v1.4h-1.4zM78.27 260.46h1.4v1.4h-1.4zM89.09 260.46h1.4v1.4h-1.4zM99.92 260.46h1.4v1.4h-1.4zM117.24 260.46h1.4v1.4h-1.4zM121.57 260.46h1.4v1.4h-1.4zM128.06 260.46h1.4v1.4h-1.4zM138.89 260.46h1.4v1.4h-1.4zM149.71 260.46h1.4v1.4h-1.4zM52.29 258.3h1.4v1.4h-1.4zM67.44 258.3h1.4v1.4h-1.4zM80.43 258.3h1.4v1.4h-1.4zM106.41 258.3h1.4v1.4h-1.4zM110.74 258.3h1.4v1.4h-1.4zM119.4 258.3h1.4v1.4h-1.4zM130.23 258.3h1.4v1.4h-1.4zM143.22 258.3h1.4v1.4h-1.4zM151.88 258.3h1.4v1.4h-1.4zM58.78 256.13h1.4v1.4h-1.4zM71.77 256.13h1.4v1.4h-1.4zM80.43 256.13h1.4v1.4h-1.4zM93.42 256.13h1.4v1.4h-1.4zM99.92 256.13h1.4v1.4h-1.4zM102.08 256.13h1.4v1.4h-1.4zM112.91 256.13h1.4v1.4h-1.4zM119.4 256.13h1.4v1.4h-1.4zM128.06 256.13h1.4v1.4h-1.4zM141.05 256.13h1.4v1.4h-1.4zM145.38 256.13h1.4v1.4h-1.4zM56.62 253.97h1.4v1.4h-1.4zM63.11 253.97h1.4v1.4h-1.4zM119.4 253.97h1.4v1.4h-1.4zM121.57 253.97h1.4v1.4h-1.4zM136.72 253.97h1.4v1.4h-1.4zM69.61 251.8h1.4v1.4h-1.4zM71.77 251.8h1.4v1.4h-1.4zM76.1 251.8h1.4v1.4h-1.4zM104.25 251.8h1.4v1.4h-1.4zM108.58 251.8h1.4v1.4h-1.4zM117.24 251.8h1.4v1.4h-1.4zM119.4 251.8h1.4v1.4h-1.4zM125.9 251.8h1.4v1.4h-1.4zM130.23 251.8h1.4v1.4h-1.4zM151.88 251.8h1.4v1.4h-1.4zM58.78 249.64h1.4v1.4h-1.4zM78.27 249.64h1.4v1.4h-1.4zM84.76 249.64h1.4v1.4h-1.4zM106.41 249.64h1.4v1.4h-1.4zM117.24 249.64h1.4v1.4h-1.4zM145.38 249.64h1.4v1.4h-1.4zM78.27 247.47h1.4v1.4h-1.4zM80.43 247.47h1.4v1.4h-1.4zM86.93 247.47h1.4v1.4h-1.4zM89.09 247.47h1.4v1.4h-1.4zM121.57 247.47h1.4v1.4h-1.4zM143.22 247.47h1.4v1.4h-1.4zM54.45 245.31h1.4v1.4h-1.4zM67.44 245.31h1.4v1.4h-1.4zM93.42 245.31h1.4v1.4h-1.4zM145.38 245.31h1.4v1.4h-1.4zM60.95 243.14h1.4v1.4h-1.4zM78.27 243.14h1.4v1.4h-1.4zM106.41 243.14h1.4v1.4h-1.4zM117.24 243.14h1.4v1.4h-1.4zM128.06 243.14h1.4v1.4h-1.4zM136.72 243.14h1.4v1.4h-1.4zM138.89 243.14h1.4v1.4h-1.4zM143.22 243.14h1.4v1.4h-1.4zM147.55 243.14h1.4v1.4h-1.4zM56.62 240.98h1.4v1.4h-1.4zM60.95 240.98h1.4v1.4h-1.4zM115.07 240.98h1.4v1.4h-1.4zM121.57 240.98h1.4v1.4h-1.4zM123.73 240.98h1.4v1.4h-1.4zM138.89 240.98h1.4v1.4h-1.4zM50.12 238.81h1.4v1.4h-1.4zM78.27 238.81h1.4v1.4h-1.4zM93.42 238.81h1.4v1.4h-1.4zM106.41 238.81h1.4v1.4h-1.4zM128.06 238.81h1.4v1.4h-1.4zM132.39 238.81h1.4v1.4h-1.4zM141.05 238.81h1.4v1.4h-1.4zM149.71 238.81h1.4v1.4h-1.4zM151.88 238.81h1.4v1.4h-1.4zM60.95 236.65h1.4v1.4h-1.4zM145.38 236.65h1.4v1.4h-1.4zM52.29 234.48h1.4v1.4h-1.4zM63.11 234.48h1.4v1.4h-1.4zM65.28 234.48h1.4v1.4h-1.4zM69.61 234.48h1.4v1.4h-1.4zM73.94 234.48h1.4v1.4h-1.4zM89.09 234.48h1.4v1.4h-1.4zM93.42 234.48h1.4v1.4h-1.4zM97.75 234.48h1.4v1.4h-1.4zM99.92 234.48h1.4v1.4h-1.4zM110.74 234.48h1.4v1.4h-1.4zM115.07 234.48h1.4v1.4h-1.4zM121.57 234.48h1.4v1.4h-1.4zM125.9 234.48h1.4v1.4h-1.4zM136.72 234.48h1.4v1.4h-1.4zM147.55 234.48h1.4v1.4h-1.4zM54.45 232.32h1.4v1.4h-1.4zM56.62 232.32h1.4v1.4h-1.4zM65.28 232.32h1.4v1.4h-1.4zM82.6 232.32h1.4v1.4h-1.4zM84.76 232.32h1.4v1.4h-1.4zM108.58 232.32h1.4v1.4h-1.4zM115.07 232.32h1.4v1.4h-1.4zM143.22 232.32h1.4v1.4h-1.4zM80.43 230.15h1.4v1.4h-1.4zM86.93 230.15h1.4v1.4h-1.4zM99.92 230.15h1.4v1.4h-1.4zM104.25 230.15h1.4v1.4h-1.4zM115.07 230.15h1.4v1.4h-1.4zM117.24 230.15h1.4v1.4h-1.4zM138.89 230.15h1.4v1.4h-1.4zM141.05 230.15h1.4v1.4h-1.4zM147.55 230.15h1.4v1.4h-1.4zM63.11 227.99h1.4v1.4h-1.4zM80.43 227.99h1.4v1.4h-1.4zM138.89 227.99h1.4v1.4h-1.4zM65.28 225.82h1.4v1.4h-1.4zM82.6 225.82h1.4v1.4h-1.4zM91.26 225.82h1.4v1.4h-1.4zM97.75 225.82h1.4v1.4h-1.4zM123.73 225.82h1.4v1.4h-1.4zM132.39 225.82h1.4v1.4h-1.4zM141.05 225.82h1.4v1.4h-1.4zM52.29 223.66h1.4v1.4h-1.4zM65.28 223.66h1.4v1.4h-1.4zM78.27 223.66h1.4v1.4h-1.4zM95.59 223.66h1.4v1.4h-1.4zM128.06 223.66h1.4v1.4h-1.4zM86.93 221.49h1.4v1.4h-1.4zM106.41 221.49h1.4v1.4h-1.4zM125.9 221.49h1.4v1.4h-1.4zM141.05 221.49h1.4v1.4h-1.4zM145.38 221.49h1.4v1.4h-1.4zM47.96 219.33h1.4v1.4h-1.4zM56.62 219.33h1.4v1.4h-1.4zM67.44 219.33h1.4v1.4h-1.4zM73.94 219.33h1.4v1.4h-1.4zM78.27 219.33h1.4v1.4h-1.4zM112.91 219.33h1.4v1.4h-1.4zM89.09 217.16h1.4v1.4h-1.4zM104.25 217.16h1.4v1.4h-1.4zM112.91 217.16h1.4v1.4h-1.4zM132.39 217.16h1.4v1.4h-1.4zM134.56 217.16h1.4v1.4h-1.4zM78.27 215h1.4v1.4h-1.4zM86.93 215h1.4v1.4h-1.4zM99.92 215h1.4v1.4h-1.4zM102.08 215h1.4v1.4h-1.4zM47.96 212.83h1.4v1.4h-1.4zM50.12 212.83h1.4v1.4h-1.4zM52.29 212.83h1.4v1.4h-1.4zM56.62 212.83h1.4v1.4h-1.4zM78.27 212.83h1.4v1.4h-1.4zM82.6 212.83h1.4v1.4h-1.4zM97.75 212.83h1.4v1.4h-1.4zM106.41 212.83h1.4v1.4h-1.4zM141.05 212.83h1.4v1.4h-1.4zM56.62 210.67h1.4v1.4h-1.4zM97.75 210.67h1.4v1.4h-1.4zM110.74 210.67h1.4v1.4h-1.4zM115.07 210.67h1.4v1.4h-1.4zM119.4 210.67h1.4v1.4h-1.4zM136.72 210.67h1.4v1.4h-1.4zM60.95 208.5h1.4v1.4h-1.4zM82.6 208.5h1.4v1.4h-1.4zM95.59 208.5h1.4v1.4h-1.4zM132.39 208.5h1.4v1.4h-1.4zM136.72 208.5h1.4v1.4h-1.4zM47.96 206.34h1.4v1.4h-1.4zM50.12 206.34h1.4v1.4h-1.4zM54.45 206.34h1.4v1.4h-1.4zM63.11 206.34h1.4v1.4h-1.4zM69.61 206.34h1.4v1.4h-1.4zM73.94 206.34h1.4v1.4h-1.4zM91.26 206.34h1.4v1.4h-1.4zM99.92 206.34h1.4v1.4h-1.4zM106.41 206.34h1.4v1.4h-1.4zM115.07 206.34h1.4v1.4h-1.4zM119.4 206.34h1.4v1.4h-1.4zM130.23 206.34h1.4v1.4h-1.4zM47.96 204.17h1.4v1.4h-1.4zM60.95 204.17h1.4v1.4h-1.4zM80.43 204.17h1.4v1.4h-1.4zM50.12 202.01h1.4v1.4h-1.4zM54.45 202.01h1.4v1.4h-1.4zM78.27 202.01h1.4v1.4h-1.4zM102.08 202.01h1.4v1.4h-1.4zM56.62 199.84h1.4v1.4h-1.4zM93.42 199.84h1.4v1.4h-1.4zM95.59 199.84h1.4v1.4h-1.4zM125.9 199.84h1.4v1.4h-1.4zM128.06 199.84h1.4v1.4h-1.4zM130.23 199.84h1.4v1.4h-1.4zM132.39 199.84h1.4v1.4h-1.4zM71.77 197.68h1.4v1.4h-1.4zM78.27 197.68h1.4v1.4h-1.4zM80.43 197.68h1.4v1.4h-1.4zM82.6 197.68h1.4v1.4h-1.4zM102.08 197.68h1.4v1.4h-1.4zM106.41 197.68h1.4v1.4h-1.4zM117.24 197.68h1.4v1.4h-1.4zM130.23 197.68h1.4v1.4h-1.4zM52.29 195.51h1.4v1.4h-1.4zM60.95 195.51h1.4v1.4h-1.4zM63.11 195.51h1.4v1.4h-1.4zM69.61 195.51h1.4v1.4h-1.4zM82.6 195.51h1.4v1.4h-1.4zM115.07 195.51h1.4v1.4h-1.4zM54.45 193.35h1.4v1.4h-1.4zM56.62 193.35h1.4v1.4h-1.4zM58.78 193.35h1.4v1.4h-1.4zM60.95 193.35h1.4v1.4h-1.4zM102.08 193.35h1.4v1.4h-1.4zM106.41 193.35h1.4v1.4h-1.4zM123.73 193.35h1.4v1.4h-1.4zM125.9 193.35h1.4v1.4h-1.4zM52.29 191.18h1.4v1.4h-1.4zM58.78 191.18h1.4v1.4h-1.4zM65.28 191.18h1.4v1.4h-1.4zM71.77 191.18h1.4v1.4h-1.4zM78.27 191.18h1.4v1.4h-1.4zM121.57 191.18h1.4v1.4h-1.4zM50.12 189.02h1.4v1.4h-1.4zM71.77 189.02h1.4v1.4h-1.4zM86.93 189.02h1.4v1.4h-1.4zM119.4 189.02h1.4v1.4h-1.4zM60.95 186.85h1.4v1.4h-1.4zM78.27 186.85h1.4v1.4h-1.4zM91.26 186.85h1.4v1.4h-1.4zM112.91 186.85h1.4v1.4h-1.4zM119.4 186.85h1.4v1.4h-1.4zM52.29 184.69h1.4v1.4h-1.4zM56.62 184.69h1.4v1.4h-1.4zM69.61 184.69h1.4v1.4h-1.4zM73.94 184.69h1.4v1.4h-1.4zM89.09 184.69h1.4v1.4h-1.4zM112.91 184.69h1.4v1.4h-1.4zM54.45 182.52h1.4v1.4h-1.4zM60.95 182.52h1.4v1.4h-1.4zM106.41 182.52h1.4v1.4h-1.4zM112.91 182.52h1.4v1.4h-1.4zM115.07 182.52h1.4v1.4h-1.4zM73.94 180.36h1.4v1.4h-1.4zM86.93 180.36h1.4v1.4h-1.4zM95.59 180.36h1.4v1.4h-1.4zM104.25 180.36h1.4v1.4h-1.4zM112.91 180.36h1.4v1.4h-1.4zM95.59 178.19h1.4v1.4h-1.4zM50.12 176.03h1.4v1.4h-1.4zM58.78 176.03h1.4v1.4h-1.4zM69.61 176.03h1.4v1.4h-1.4zM78.27 176.03h1.4v1.4h-1.4zM102.08 176.03h1.4v1.4h-1.4zM104.25 176.03h1.4v1.4h-1.4zM52.29 173.86h1.4v1.4h-1.4zM69.61 173.86h1.4v1.4h-1.4zM71.77 173.86h1.4v1.4h-1.4zM82.6 173.86h1.4v1.4h-1.4zM84.76 173.86h1.4v1.4h-1.4zM56.62 171.7h1.4v1.4h-1.4zM73.94 171.7h1.4v1.4h-1.4zM82.6 171.7h1.4v1.4h-1.4zM86.93 171.7h1.4v1.4h-1.4zM91.26 171.7h1.4v1.4h-1.4zM99.92 171.7h1.4v1.4h-1.4zM54.45 169.53h1.4v1.4h-1.4zM65.28 169.53h1.4v1.4h-1.4zM69.61 169.53h1.4v1.4h-1.4zM80.43 169.53h1.4v1.4h-1.4zM50.12 167.37h1.4v1.4h-1.4zM56.62 167.37h1.4v1.4h-1.4zM63.11 167.37h1.4v1.4h-1.4zM67.44 167.37h1.4v1.4h-1.4zM76.1 167.37h1.4v1.4h-1.4zM91.26 167.37h1.4v1.4h-1.4zM69.61 165.2h1.4v1.4h-1.4zM78.27 165.2h1.4v1.4h-1.4zM82.6 165.2h1.4v1.4h-1.4zM52.29 163.04h1.4v1.4h-1.4zM73.94 163.04h1.4v1.4h-1.4zM54.45 160.87h1.4v1.4h-1.4zM60.95 160.87h1.4v1.4h-1.4zM73.94 160.87h1.4v1.4h-1.4z"/>
<path fill="#1a84ff" d="M50.02 264.69h1.6v1.6h-1.6zM80.33 264.69h1.6v1.6h-1.6zM97.65 264.69h1.6v1.6h-1.6zM110.64 264.69h1.6v1.6h-1.6zM121.47 264.69h1.6v1.6h-1.6zM123.63 264.69h1.6v1.6h-1.6zM127.96 264.69h1.6v1.6h-1.6zM130.13 264.69h1.6v1.6h-1.6zM132.29 264.69h1.6v1.6h-1.6zM147.45 264.69h1.6v1.6h-1.6zM47.86 262.53h1.6v1.6h-1.6zM63.01 262.53h1.6v1.6h-1.6zM69.51 262.53h1.6v1.6h-1.6zM88.99 262.53h1.6v1.6h-1.6zM114.97 262.53h1.6v1.6h-1.6zM58.68 260.36h1.6v1.6h-1.6zM67.34 260.36h1.6v1.6h-1.6zM82.5 260.36h1.6v1.6h-1.6zM86.83 260.36h1.6v1.6h-1.6zM143.12 260.36h1.6v1.6h-1.6zM60.85 258.2h1.6v1.6h-1.6zM88.99 258.2h1.6v1.6h-1.6zM91.16 258.2h1.6v1.6h-1.6zM138.79 258.2h1.6v1.6h-1.6zM145.28 258.2h1.6v1.6h-1.6zM153.94 258.2h1.6v1.6h-1.6zM63.01 256.03h1.6v1.6h-1.6zM69.51 256.03h1.6v1.6h-1.6zM82.5 256.03h1.6v1.6h-1.6zM106.31 256.03h1.6v1.6h-1.6zM121.47 256.03h1.6v1.6h-1.6zM123.63 256.03h1.6v1.6h-1.6zM52.19 253.87h1.6v1.6h-1.6zM76 253.87h1.6v1.6h-1.6zM106.31 253.87h1.6v1.6h-1.6zM108.48 253.87h1.6v1.6h-1.6zM112.81 253.87h1.6v1.6h-1.6zM130.13 253.87h1.6v1.6h-1.6zM132.29 253.87h1.6v1.6h-1.6zM149.61 253.87h1.6v1.6h-1.6zM54.35 251.7h1.6v1.6h-1.6zM67.34 251.7h1.6v1.6h-1.6zM80.33 251.7h1.6v1.6h-1.6zM88.99 251.7h1.6v1.6h-1.6zM127.96 251.7h1.6v1.6h-1.6zM145.28 251.7h1.6v1.6h-1.6zM149.61 251.7h1.6v1.6h-1.6zM50.02 249.54h1.6v1.6h-1.6zM56.52 249.54h1.6v1.6h-1.6zM82.5 249.54h1.6v1.6h-1.6zM86.83 249.54h1.6v1.6h-1.6zM95.49 249.54h1.6v1.6h-1.6zM99.82 249.54h1.6v1.6h-1.6zM104.15 249.54h1.6v1.6h-1.6zM127.96 249.54h1.6v1.6h-1.6zM132.29 249.54h1.6v1.6h-1.6zM136.62 249.54h1.6v1.6h-1.6zM138.79 249.54h1.6v1.6h-1.6zM67.34 247.37h1.6v1.6h-1.6zM69.51 247.37h1.6v1.6h-1.6zM82.5 247.37h1.6v1.6h-1.6zM104.15 247.37h1.6v1.6h-1.6zM127.96 247.37h1.6v1.6h-1.6zM130.13 247.37h1.6v1.6h-1.6zM138.79 247.37h1.6v1.6h-1.6zM140.95 247.37h1.6v1.6h-1.6zM52.19 245.21h1.6v1.6h-1.6zM60.85 245.21h1.6v1.6h-1.6zM65.18 245.21h1.6v1.6h-1.6zM80.33 245.21h1.6v1.6h-1.6zM88.99 245.21h1.6v1.6h-1.6zM121.47 245.21h1.6v1.6h-1.6zM130.13 245.21h1.6v1.6h-1.6zM151.78 245.21h1.6v1.6h-1.6zM50.02 243.04h1.6v1.6h-1.6zM56.52 243.04h1.6v1.6h-1.6zM65.18 243.04h1.6v1.6h-1.6zM71.67 243.04h1.6v1.6h-1.6zM86.83 243.04h1.6v1.6h-1.6zM101.98 243.04h1.6v1.6h-1.6zM104.15 243.04h1.6v1.6h-1.6zM110.64 243.04h1.6v1.6h-1.6zM114.97 243.04h1.6v1.6h-1.6zM130.13 243.04h1.6v1.6h-1.6zM149.61 243.04h1.6v1.6h-1.6zM69.51 240.88h1.6v1.6h-1.6zM93.32 240.88h1.6v1.6h-1.6zM99.82 240.88h1.6v1.6h-1.6zM119.3 240.88h1.6v1.6h-1.6zM136.62 240.88h1.6v1.6h-1.6zM149.61 240.88h1.6v1.6h-1.6zM73.84 238.71h1.6v1.6h-1.6zM108.48 238.71h1.6v1.6h-1.6zM110.64 238.71h1.6v1.6h-1.6zM121.47 238.71h1.6v1.6h-1.6zM130.13 238.71h1.6v1.6h-1.6zM134.46 238.71h1.6v1.6h-1.6zM136.62 238.71h1.6v1.6h-1.6zM143.12 238.71h1.6v1.6h-1.6zM145.28 238.71h1.6v1.6h-1.6zM58.68 236.55h1.6v1.6h-1.6zM86.83 236.55h1.6v1.6h-1.6zM91.16 236.55h1.6v1.6h-1.6zM95.49 236.55h1.6v1.6h-1.6zM114.97 236.55h1.6v1.6h-1.6zM119.3 236.55h1.6v1.6h-1.6zM136.62 236.55h1.6v1.6h-1.6zM145.28 234.38h1.6v1.6h-1.6zM47.86 232.22h1.6v1.6h-1.6zM60.85 232.22h1.6v1.6h-1.6zM67.34 232.22h1.6v1.6h-1.6zM117.14 232.22h1.6v1.6h-1.6zM138.79 232.22h1.6v1.6h-1.6zM149.61 232.22h1.6v1.6h-1.6zM52.19 230.05h1.6v1.6h-1.6zM56.52 230.05h1.6v1.6h-1.6zM63.01 230.05h1.6v1.6h-1.6zM65.18 230.05h1.6v1.6h-1.6zM84.66 230.05h1.6v1.6h-1.6zM91.16 230.05h1.6v1.6h-1.6zM93.32 230.05h1.6v1.6h-1.6zM108.48 230.05h1.6v1.6h-1.6zM112.81 230.05h1.6v1.6h-1.6zM119.3 230.05h1.6v1.6h-1.6zM82.5 227.89h1.6v1.6h-1.6zM84.66 227.89h1.6v1.6h-1.6zM86.83 227.89h1.6v1.6h-1.6zM52.19 225.72h1.6v1.6h-1.6zM63.01 225.72h1.6v1.6h-1.6zM69.51 225.72h1.6v1.6h-1.6zM76 225.72h1.6v1.6h-1.6zM84.66 225.72h1.6v1.6h-1.6zM108.48 225.72h1.6v1.6h-1.6zM114.97 225.72h1.6v1.6h-1.6zM117.14 225.72h1.6v1.6h-1.6zM125.8 225.72h1.6v1.6h-1.6zM143.12 225.72h1.6v1.6h-1.6zM50.02 223.56h1.6v1.6h-1.6zM54.35 223.56h1.6v1.6h-1.6zM60.85 223.56h1.6v1.6h-1.6zM67.34 223.56h1.6v1.6h-1.6zM114.97 223.56h1.6v1.6h-1.6zM117.14 223.56h1.6v1.6h-1.6zM134.46 223.56h1.6v1.6h-1.6zM138.79 223.56h1.6v1.6h-1.6zM140.95 223.56h1.6v1.6h-1.6zM54.35 221.39h1.6v1.6h-1.6zM76 221.39h1.6v1.6h-1.6zM82.5 221.39h1.6v1.6h-1.6zM110.64 221.39h1.6v1.6h-1.6zM112.81 221.39h1.6v1.6h-1.6zM114.97 221.39h1.6v1.6h-1.6zM71.67 219.23h1.6v1.6h-1.6zM82.5 219.23h1.6v1.6h-1.6zM106.31 219.23h1.6v1.6h-1.6zM110.64 219.23h1.6v1.6h-1.6zM140.95 219.23h1.6v1.6h-1.6zM63.01 217.06h1.6v1.6h-1.6zM76 217.06h1.6v1.6h-1.6zM101.98 217.06h1.6v1.6h-1.6zM138.79 217.06h1.6v1.6h-1.6zM47.86 214.9h1.6v1.6h-1.6zM112.81 214.9h1.6v1.6h-1.6zM134.46 214.9h1.6v1.6h-1.6zM63.01 212.73h1.6v1.6h-1.6zM71.67 212.73h1.6v1.6h-1.6zM104.15 212.73h1.6v1.6h-1.6zM114.97 212.73h1.6v1.6h-1.6zM117.14 212.73h1.6v1.6h-1.6zM69.51 210.57h1.6v1.6h-1.6zM95.49 210.57h1.6v1.6h-1.6zM101.98 210.57h1.6v1.6h-1.6zM104.15 210.57h1.6v1.6h-1.6zM130.13 210.57h1.6v1.6h-1.6zM63.01 208.4h1.6v1.6h-1.6zM65.18 208.4h1.6v1.6h-1.6zM69.51 208.4h1.6v1.6h-1.6zM99.82 208.4h1.6v1.6h-1.6zM101.98 208.4h1.6v1.6h-1.6zM106.31 208.4h1.6v1.6h-1.6zM110.64 208.4h1.6v1.6h-1.6zM56.52 206.24h1.6v1.6h-1.6zM58.68 206.24h1.6v1.6h-1.6zM93.32 206.24h1.6v1.6h-1.6zM104.15 206.24h1.6v1.6h-1.6zM132.29 206.24h1.6v1.6h-1.6zM134.46 206.24h1.6v1.6h-1.6zM58.68 204.07h1.6v1.6h-1.6zM73.84 204.07h1.6v1.6h-1.6zM82.5 204.07h1.6v1.6h-1.6zM86.83 204.07h1.6v1.6h-1.6zM47.86 201.91h1.6v1.6h-1.6zM69.51 201.91h1.6v1.6h-1.6zM73.84 201.91h1.6v1.6h-1.6zM91.16 201.91h1.6v1.6h-1.6zM93.32 201.91h1.6v1.6h-1.6zM104.15 201.91h1.6v1.6h-1.6zM121.47 201.91h1.6v1.6h-1.6zM125.8 201.91h1.6v1.6h-1.6zM58.68 199.74h1.6v1.6h-1.6zM82.5 199.74h1.6v1.6h-1.6zM91.16 199.74h1.6v1.6h-1.6zM97.65 199.74h1.6v1.6h-1.6zM121.47 199.74h1.6v1.6h-1.6zM123.63 199.74h1.6v1.6h-1.6zM50.02 197.58h1.6v1.6h-1.6zM69.51 197.58h1.6v1.6h-1.6zM76 197.58h1.6v1.6h-1.6zM86.83 197.58h1.6v1.6h-1.6zM88.99 197.58h1.6v1.6h-1.6zM91.16 197.58h1.6v1.6h-1.6zM99.82 197.58h1.6v1.6h-1.6zM80.33 195.41h1.6v1.6h-1.6zM86.83 195.41h1.6v1.6h-1.6zM88.99 195.41h1.6v1.6h-1.6zM99.82 195.41h1.6v1.6h-1.6zM117.14 195.41h1.6v1.6h-1.6zM123.63 195.41h1.6v1.6h-1.6zM71.67 193.25h1.6v1.6h-1.6zM76 193.25h1.6v1.6h-1.6zM82.5 193.25h1.6v1.6h-1.6zM119.3 193.25h1.6v1.6h-1.6zM47.86 191.08h1.6v1.6h-1.6zM56.52 191.08h1.6v1.6h-1.6zM67.34 191.08h1.6v1.6h-1.6zM73.84 191.08h1.6v1.6h-1.6zM110.64 191.08h1.6v1.6h-1.6zM112.81 191.08h1.6v1.6h-1.6zM47.86 188.92h1.6v1.6h-1.6zM56.52 188.92h1.6v1.6h-1.6zM112.81 188.92h1.6v1.6h-1.6zM117.14 188.92h1.6v1.6h-1.6zM86.83 186.75h1.6v1.6h-1.6zM110.64 186.75h1.6v1.6h-1.6zM47.86 184.59h1.6v1.6h-1.6zM60.85 184.59h1.6v1.6h-1.6zM63.01 184.59h1.6v1.6h-1.6zM65.18 184.59h1.6v1.6h-1.6zM47.86 182.42h1.6v1.6h-1.6zM58.68 182.42h1.6v1.6h-1.6zM65.18 182.42h1.6v1.6h-1.6zM67.34 182.42h1.6v1.6h-1.6zM69.51 182.42h1.6v1.6h-1.6zM73.84 182.42h1.6v1.6h-1.6zM101.98 182.42h1.6v1.6h-1.6zM47.86 180.26h1.6v1.6h-1.6zM58.68 180.26h1.6v1.6h-1.6zM63.01 180.26h1.6v1.6h-1.6zM106.31 180.26h1.6v1.6h-1.6zM73.84 178.09h1.6v1.6h-1.6zM88.99 178.09h1.6v1.6h-1.6zM97.65 178.09h1.6v1.6h-1.6zM106.31 178.09h1.6v1.6h-1.6zM63.01 175.93h1.6v1.6h-1.6zM71.67 175.93h1.6v1.6h-1.6zM73.84 175.93h1.6v1.6h-1.6zM76 175.93h1.6v1.6h-1.6zM54.35 173.76h1.6v1.6h-1.6zM63.01 173.76h1.6v1.6h-1.6zM65.18 173.76h1.6v1.6h-1.6zM80.33 173.76h1.6v1.6h-1.6zM88.99 173.76h1.6v1.6h-1.6zM95.49 173.76h1.6v1.6h-1.6zM65.18 171.6h1.6v1.6h-1.6zM88.99 171.6h1.6v1.6h-1.6zM93.32 171.6h1.6v1.6h-1.6zM52.19 169.43h1.6v1.6h-1.6zM73.84 169.43h1.6v1.6h-1.6zM86.83 169.43h1.6v1.6h-1.6zM54.35 167.27h1.6v1.6h-1.6zM60.85 167.27h1.6v1.6h-1.6zM73.84 167.27h1.6v1.6h-1.6zM78.17 167.27h1.6v1.6h-1.6zM47.86 165.1h1.6v1.6h-1.6zM58.68 162.94h1.6v1.6h-1.6zM60.85 162.94h1.6v1.6h-1.6zM69.51 162.94h1.6v1.6h-1.6zM71.67 162.94h1.6v1.6h-1.6zM80.33 162.94h1.6v1.6h-1.6zM67.34 160.77h1.6v1.6h-1.6zM54.35 158.61h1.6v1.6h-1.6z"/>
<path fill="#1a84ff" d="M67.24 264.59h1.8v1.8h-1.8zM75.9 264.59h1.8v1.8h-1.8zM95.39 264.59h1.8v1.8h-1.8zM82.4 262.43h1.8v1.8h-1.8zM86.73 262.43h1.8v1.8h-1.8zM119.2 262.43h1.8v1.8h-1.8zM134.36 262.43h1.8v1.8h-1.8zM149.51 262.43h1.8v1.8h-1.8zM151.68 262.43h1.8v1.8h-1.8zM153.84 262.43h1.8v1.8h-1.8zM62.91 260.26h1.8v1.8h-1.8zM80.23 260.26h1.8v1.8h-1.8zM95.39 260.26h1.8v1.8h-1.8zM147.35 260.26h1.8v1.8h-1.8zM127.86 258.1h1.8v1.8h-1.8zM147.35 258.1h1.8v1.8h-1.8zM73.74 255.93h1.8v1.8h-1.8zM84.56 255.93h1.8v1.8h-1.8zM134.36 255.93h1.8v1.8h-1.8zM149.51 255.93h1.8v1.8h-1.8zM65.08 253.77h1.8v1.8h-1.8zM65.08 251.6h1.8v1.8h-1.8zM82.4 251.6h1.8v1.8h-1.8zM97.55 251.6h1.8v1.8h-1.8zM52.09 249.44h1.8v1.8h-1.8zM65.08 249.44h1.8v1.8h-1.8zM108.38 249.44h1.8v1.8h-1.8zM140.85 249.44h1.8v1.8h-1.8zM58.58 247.27h1.8v1.8h-1.8zM60.75 247.27h1.8v1.8h-1.8zM62.91 247.27h1.8v1.8h-1.8zM84.56 247.27h1.8v1.8h-1.8zM47.76 245.11h1.8v1.8h-1.8zM99.72 245.11h1.8v1.8h-1.8zM101.88 245.11h1.8v1.8h-1.8zM112.71 245.11h1.8v1.8h-1.8zM119.2 245.11h1.8v1.8h-1.8zM93.22 242.94h1.8v1.8h-1.8zM119.2 242.94h1.8v1.8h-1.8zM132.19 242.94h1.8v1.8h-1.8zM151.68 242.94h1.8v1.8h-1.8zM104.05 240.78h1.8v1.8h-1.8zM106.21 240.78h1.8v1.8h-1.8zM132.19 240.78h1.8v1.8h-1.8zM134.36 240.78h1.8v1.8h-1.8zM56.42 238.61h1.8v1.8h-1.8zM95.39 238.61h1.8v1.8h-1.8zM97.55 238.61h1.8v1.8h-1.8zM117.04 238.61h1.8v1.8h-1.8zM47.76 236.45h1.8v1.8h-1.8zM80.23 236.45h1.8v1.8h-1.8zM88.89 236.45h1.8v1.8h-1.8zM93.22 236.45h1.8v1.8h-1.8zM134.36 236.45h1.8v1.8h-1.8zM147.35 236.45h1.8v1.8h-1.8zM104.05 234.28h1.8v1.8h-1.8zM117.04 234.28h1.8v1.8h-1.8zM52.09 232.12h1.8v1.8h-1.8zM75.9 232.12h1.8v1.8h-1.8zM91.06 232.12h1.8v1.8h-1.8zM104.05 232.12h1.8v1.8h-1.8zM140.85 232.12h1.8v1.8h-1.8zM49.92 229.95h1.8v1.8h-1.8zM60.75 229.95h1.8v1.8h-1.8zM101.88 229.95h1.8v1.8h-1.8zM56.42 227.79h1.8v1.8h-1.8zM65.08 227.79h1.8v1.8h-1.8zM95.39 227.79h1.8v1.8h-1.8zM110.54 227.79h1.8v1.8h-1.8zM112.71 227.79h1.8v1.8h-1.8zM114.87 227.79h1.8v1.8h-1.8zM145.18 227.79h1.8v1.8h-1.8zM147.35 227.79h1.8v1.8h-1.8zM49.92 225.62h1.8v1.8h-1.8zM86.73 225.62h1.8v1.8h-1.8zM104.05 225.62h1.8v1.8h-1.8zM106.21 225.62h1.8v1.8h-1.8zM75.9 223.46h1.8v1.8h-1.8zM119.2 223.46h1.8v1.8h-1.8zM80.23 221.29h1.8v1.8h-1.8zM130.03 221.29h1.8v1.8h-1.8zM69.41 219.13h1.8v1.8h-1.8zM75.9 219.13h1.8v1.8h-1.8zM47.76 216.96h1.8v1.8h-1.8zM52.09 216.96h1.8v1.8h-1.8zM73.74 216.96h1.8v1.8h-1.8zM84.56 216.96h1.8v1.8h-1.8zM60.75 214.8h1.8v1.8h-1.8zM73.74 214.8h1.8v1.8h-1.8zM104.05 214.8h1.8v1.8h-1.8zM67.24 212.63h1.8v1.8h-1.8zM112.71 212.63h1.8v1.8h-1.8zM138.69 212.63h1.8v1.8h-1.8zM67.24 210.47h1.8v1.8h-1.8zM82.4 210.47h1.8v1.8h-1.8zM71.57 208.3h1.8v1.8h-1.8zM78.07 208.3h1.8v1.8h-1.8zM80.23 208.3h1.8v1.8h-1.8zM86.73 208.3h1.8v1.8h-1.8zM97.55 208.3h1.8v1.8h-1.8zM104.05 208.3h1.8v1.8h-1.8zM71.57 206.14h1.8v1.8h-1.8zM86.73 206.14h1.8v1.8h-1.8zM127.86 206.14h1.8v1.8h-1.8zM62.91 203.97h1.8v1.8h-1.8zM123.53 203.97h1.8v1.8h-1.8zM84.56 201.81h1.8v1.8h-1.8zM119.2 201.81h1.8v1.8h-1.8zM67.24 199.64h1.8v1.8h-1.8zM84.56 199.64h1.8v1.8h-1.8zM99.72 199.64h1.8v1.8h-1.8zM84.56 197.48h1.8v1.8h-1.8zM121.37 197.48h1.8v1.8h-1.8zM73.74 195.31h1.8v1.8h-1.8zM78.07 195.31h1.8v1.8h-1.8zM119.2 195.31h1.8v1.8h-1.8zM125.7 195.31h1.8v1.8h-1.8zM49.92 193.15h1.8v1.8h-1.8zM67.24 193.15h1.8v1.8h-1.8zM69.41 193.15h1.8v1.8h-1.8zM88.89 193.15h1.8v1.8h-1.8zM110.54 193.15h1.8v1.8h-1.8zM117.04 193.15h1.8v1.8h-1.8zM114.87 190.98h1.8v1.8h-1.8zM108.38 188.82h1.8v1.8h-1.8zM117.04 186.65h1.8v1.8h-1.8zM54.25 184.49h1.8v1.8h-1.8zM106.21 184.49h1.8v1.8h-1.8zM91.06 182.32h1.8v1.8h-1.8zM69.41 180.16h1.8v1.8h-1.8zM71.57 180.16h1.8v1.8h-1.8zM49.92 177.99h1.8v1.8h-1.8zM56.42 177.99h1.8v1.8h-1.8zM71.57 177.99h1.8v1.8h-1.8zM75.9 177.99h1.8v1.8h-1.8zM99.72 173.66h1.8v1.8h-1.8zM62.91 171.5h1.8v1.8h-1.8zM80.23 171.5h1.8v1.8h-1.8zM84.56 167.17h1.8v1.8h-1.8zM52.09 165h1.8v1.8h-1.8zM54.25 165h1.8v1.8h-1.8zM75.9 165h1.8v1.8h-1.8zM84.56 165h1.8v1.8h-1.8zM49.92 162.84h1.8v1.8h-1.8zM56.42 162.84h1.8v1.8h-1.8zM49.92 160.67h1.8v1.8h-1.8zM69.41 160.67h1.8v1.8h-1.8zM49.92 158.51h1.8v1.8h-1.8z"/>
<path fill="#1a84ff" d="M60.65 264.49h2v2h-2zM62.81 264.49h2v2h-2zM86.63 264.49h2v2h-2zM97.45 262.33h2v2h-2zM142.92 262.33h2v2h-2zM147.25 262.33h2v2h-2zM64.98 260.16h2v2h-2zM75.8 260.16h2v2h-2zM62.81 258h2v2h-2zM153.74 253.67h2v2h-2zM47.66 251.5h2v2h-2zM106.11 251.5h2v2h-2zM47.66 249.34h2v2h-2zM54.15 249.34h2v2h-2zM97.45 249.34h2v2h-2zM153.74 249.34h2v2h-2zM51.99 247.17h2v2h-2zM132.09 247.17h2v2h-2zM151.58 247.17h2v2h-2zM147.25 245.01h2v2h-2zM149.41 245.01h2v2h-2zM99.62 242.84h2v2h-2zM121.27 242.84h2v2h-2zM90.96 240.68h2v2h-2zM75.8 238.51h2v2h-2zM88.79 238.51h2v2h-2zM90.96 238.51h2v2h-2zM51.99 236.35h2v2h-2zM73.64 236.35h2v2h-2zM116.94 236.35h2v2h-2zM121.27 236.35h2v2h-2zM86.63 234.18h2v2h-2zM106.11 232.02h2v2h-2zM82.3 229.85h2v2h-2zM106.11 229.85h2v2h-2zM90.96 227.69h2v2h-2zM93.12 227.69h2v2h-2zM106.11 227.69h2v2h-2zM47.66 225.52h2v2h-2zM77.97 225.52h2v2h-2zM93.12 225.52h2v2h-2zM95.29 225.52h2v2h-2zM110.44 225.52h2v2h-2zM112.61 225.52h2v2h-2zM73.64 223.36h2v2h-2zM112.61 223.36h2v2h-2zM71.47 221.19h2v2h-2zM73.64 221.19h2v2h-2zM84.46 221.19h2v2h-2zM84.46 219.03h2v2h-2zM86.63 219.03h2v2h-2zM86.63 216.86h2v2h-2zM106.11 216.86h2v2h-2zM49.82 214.7h2v2h-2zM62.81 214.7h2v2h-2zM69.31 212.53h2v2h-2zM106.11 210.37h2v2h-2zM138.59 208.2h2v2h-2zM60.65 206.04h2v2h-2zM80.13 206.04h2v2h-2zM82.3 206.04h2v2h-2zM84.46 206.04h2v2h-2zM95.29 206.04h2v2h-2zM101.78 206.04h2v2h-2zM86.63 201.71h2v2h-2zM116.94 201.71h2v2h-2zM86.63 199.54h2v2h-2zM88.79 199.54h2v2h-2zM123.43 197.38h2v2h-2zM75.8 195.21h2v2h-2zM110.44 195.21h2v2h-2zM121.27 195.21h2v2h-2zM121.27 193.05h2v2h-2zM69.31 190.88h2v2h-2zM75.8 190.88h2v2h-2zM116.94 190.88h2v2h-2zM119.1 190.88h2v2h-2zM114.77 188.72h2v2h-2zM64.98 180.06h2v2h-2zM103.95 173.56h2v2h-2zM49.82 169.23h2v2h-2zM49.82 164.9h2v2h-2zM67.14 164.9h2v2h-2zM67.14 162.74h2v2h-2zM64.98 160.57h2v2h-2zM58.48 158.41h2v2h-2zM62.81 158.41h2v2h-2z"/>
<rect x="46.8" y="151.6" width="115.4" height="115.2" fill="none" stroke="#262626" stroke-width="1"/>
<path d="M49.4 266.8v-1.6M49.4 151.6v1.6M103.15 266.8v-1.6M103.15 151.6v1.6M156.9 266.8v-1.6M156.9 151.6v1.6M46.8 263.1h1.6M162.2 263.1h-1.6M46.8 243.6h1.6M162.2 243.6h-1.6M46.8 221.8h1.6M162.2 221.8h-1.6M46.8 200h1.6M162.2 200h-1.6M46.8 178.2h1.6M162.2 178.2h-1.6M46.8 155.7h1.6M162.2 155.7h-1.6" stroke="#262626" stroke-width=".8" fill="none"/>
<text x="49.4" y="277.4" font-size="8.8" text-anchor="middle" fill="#000" stroke="#000" stroke-width="0.25">0</text>
<text x="103.15" y="277.4" font-size="8.8" text-anchor="middle" fill="#000" stroke="#000" stroke-width="0.25">5</text>
<text x="156.9" y="277.4" font-size="8.8" text-anchor="middle" fill="#000" stroke="#000" stroke-width="0.25">10</text>
<text x="43.4" y="266" font-size="8.8" text-anchor="end" fill="#000" stroke="#000" stroke-width="0.25">0</text>
<text x="43.4" y="246.5" font-size="8.8" text-anchor="end" fill="#000" stroke="#000" stroke-width="0.25">2</text>
<text x="43.4" y="224.7" font-size="8.8" text-anchor="end" fill="#000" stroke="#000" stroke-width="0.25">4</text>
<text x="43.4" y="202.9" font-size="8.8" text-anchor="end" fill="#000" stroke="#000" stroke-width="0.25">6</text>
<text x="43.4" y="181.1" font-size="8.8" text-anchor="end" fill="#000" stroke="#000" stroke-width="0.25">8</text>
<text x="43.4" y="158.6" font-size="8.8" text-anchor="end" fill="#000" stroke="#000" stroke-width="0.25">10</text>
<text x="19.4" y="155.49" font-size="11.8" text-anchor="start" fill="#000" stroke="#000" stroke-width="0.28">(d)</text>
<text x="30.99" y="206.5" font-size="11.8" text-anchor="middle" fill="#000" transform="rotate(-90 30.99 206.5)" stroke="#000" stroke-width="0.28">y (µm)</text>
<text x="105.5" y="288.69" font-size="11.8" text-anchor="middle" fill="#000" stroke="#000" stroke-width="0.28">x (µm)</text>
<rect x="203" y="7" width="116" height="116" fill="#0f0000"/>
<defs><g id="qb" shape-rendering="crispEdges" stroke-width="1" fill="none">
<path stroke="#190000" d="M1 0.5h1M5 0.5h1M30 0.5h2M0 1.5h1M4 1.5h3M30 1.5h1M5 2.5h2M14 2.5h2M18 2.5h1M48 2.5h1M57 2.5h1M3 3.5h4M14 3.5h1M18 3.5h2M35 3.5h1M37 3.5h1M41 3.5h1M43 3.5h1M49 3.5h1M52 3.5h1M1 4.5h1M3 4.5h3M15 4.5h1M34 4.5h1M38 4.5h1M42 4.5h1M50 4.5h3M0 5.5h5M18 5.5h1M21 5.5h1M24 5.5h2M30 5.5h1M37 5.5h1M42 5.5h2M52 5.5h1M56 5.5h1M1 6.5h3M19 6.5h1M22 6.5h1M30 6.5h1M35 6.5h2M38 6.5h1M57 6.5h1M11 7.5h2M19 7.5h1M23 7.5h1M31 7.5h1M33 7.5h1M52 7.5h1M55 7.5h2M12 8.5h2M18 8.5h1M32 8.5h2M37 8.5h2M43 8.5h1M52 8.5h1M12 9.5h1M22 9.5h2M33 9.5h1M44 9.5h1M17 10.5h1M24 10.5h1M35 10.5h2M45 10.5h1M51 10.5h1M7 11.5h1M24 11.5h2M32 11.5h1M36 11.5h1M45 11.5h3M51 11.5h2M7 12.5h3M15 12.5h1M25 12.5h1M33 12.5h1M43 12.5h2M52 12.5h1M55 12.5h1M8 13.5h1M15 13.5h1M17 13.5h1M24 13.5h1M29 13.5h1M44 13.5h1M48 13.5h2M2 14.5h2M29 14.5h1M32 14.5h1M35 14.5h1M42 14.5h1M46 14.5h3M56 14.5h1M2 15.5h1M4 15.5h1M12 15.5h2M32 15.5h1M50 15.5h1M55 15.5h2M25 16.5h1M29 16.5h1M42 16.5h1M10 17.5h1M13 17.5h1M25 17.5h4M36 17.5h2M42 17.5h1M2 18.5h2M5 18.5h1M8 18.5h1M21 18.5h1M27 18.5h1M34 18.5h2M43 18.5h2M3 19.5h1M6 19.5h2M19 19.5h1M21 20.5h1M27 20.5h1M43 20.5h2M52 20.5h1M5 21.5h1M18 21.5h1M20 21.5h1M44 21.5h1M52 21.5h1M6 22.5h1M9 22.5h1M23 22.5h2M40 22.5h1M48 22.5h1M52 22.5h1M7 23.5h1M9 23.5h1M22 23.5h1M26 23.5h1M32 23.5h1M34 23.5h1M36 23.5h1M40 23.5h1M53 23.5h1M5 24.5h1M10 24.5h2M13 24.5h1M22 24.5h1M25 24.5h1M32 24.5h2M35 24.5h1M54 24.5h1M5 25.5h1M11 25.5h2M16 25.5h2M24 25.5h1M32 25.5h2M37 25.5h1M48 25.5h2M52 25.5h2M56 25.5h1M17 26.5h1M23 26.5h1M48 26.5h1M17 27.5h2M20 27.5h1M47 27.5h1M17 28.5h1M42 28.5h1M47 28.5h1M53 28.5h1M13 29.5h2M16 29.5h1M43 29.5h3M47 29.5h1M49 29.5h1M52 29.5h1M54 29.5h1M0 30.5h2M5 30.5h2M45 30.5h1M49 30.5h1M0 31.5h1M7 31.5h1M37 31.5h2M44 31.5h1M50 31.5h2M8 32.5h1M11 32.5h1M14 32.5h2M23 32.5h3M39 32.5h1M50 32.5h1M7 33.5h3M12 33.5h1M24 33.5h2M51 33.5h1M4 34.5h1M18 34.5h1M23 34.5h1M51 34.5h1M3 35.5h1M6 35.5h1M10 35.5h1M14 35.5h1M18 35.5h1M24 35.5h1M45 35.5h1M50 35.5h1M52 35.5h4M6 36.5h1M10 36.5h2M17 36.5h1M23 36.5h1M48 36.5h1M51 36.5h7M3 37.5h1M5 37.5h1M8 37.5h1M17 37.5h1M25 37.5h1M31 37.5h1M48 37.5h3M57 37.5h1M4 38.5h1M6 38.5h1M8 38.5h1M31 38.5h1M47 38.5h2M57 38.5h1M32 39.5h1M41 39.5h1M47 39.5h2M51 39.5h2M57 39.5h1M22 40.5h2M3 41.5h1M39 41.5h1M42 41.5h1M51 41.5h1M53 41.5h2M4 42.5h2M14 42.5h1M16 42.5h2M28 42.5h1M41 42.5h1M43 42.5h1M51 42.5h1M57 42.5h1M3 43.5h1M5 43.5h1M8 43.5h1M12 43.5h1M18 43.5h1M20 43.5h1M29 43.5h1M42 43.5h3M56 43.5h1M9 44.5h1M12 44.5h2M18 44.5h1M20 44.5h2M29 44.5h1M31 44.5h1M43 44.5h1M56 44.5h1M10 45.5h2M29 45.5h2M35 45.5h1M52 45.5h1M56 45.5h1M11 46.5h1M14 46.5h1M47 46.5h1M57 46.5h1M11 47.5h1M14 47.5h1M27 47.5h3M38 47.5h2M46 47.5h1M53 47.5h1M55 47.5h3M2 48.5h1M13 48.5h2M22 48.5h1M25 48.5h2M36 48.5h4M3 49.5h1M13 49.5h1M25 49.5h1M29 49.5h2M37 49.5h1M4 50.5h1M15 50.5h1M31 50.5h2M35 50.5h1M37 50.5h1M4 51.5h1M10 51.5h2M31 51.5h1M33 51.5h2M36 51.5h1M39 51.5h1M41 51.5h2M3 52.5h3M7 52.5h2M11 52.5h2M20 52.5h3M25 52.5h1M29 52.5h1M35 52.5h2M39 52.5h1M45 52.5h1M23 53.5h1M25 53.5h1M28 53.5h1M35 53.5h2M41 53.5h1M47 53.5h1M56 53.5h2M24 54.5h1M29 54.5h1M35 54.5h2M41 54.5h1M54 54.5h1M57 54.5h1M7 55.5h1M12 55.5h1M15 55.5h1M35 55.5h2M47 55.5h1M5 56.5h1M7 56.5h1M14 56.5h2M25 56.5h1M36 56.5h1M43 56.5h3M47 56.5h1M53 56.5h1M2 57.5h1M6 57.5h1M36 57.5h4M42 57.5h1M46 57.5h2M53 57.5h2"/>
<path stroke="#220000" d="M6 0.5h1M53 0.5h1M8 1.5h1M17 1.5h1M31 1.5h1M11 2.5h1M13 2.5h1M36 2.5h2M13 3.5h1M16 3.5h1M38 3.5h1M40 3.5h1M51 3.5h1M56 3.5h1M11 4.5h1M14 4.5h1M20 4.5h1M39 4.5h1M41 4.5h1M56 4.5h1M10 5.5h1M34 5.5h1M38 5.5h1M0 6.5h1M23 6.5h3M32 6.5h1M34 6.5h1M41 6.5h1M43 6.5h1M52 6.5h1M55 6.5h1M13 7.5h1M17 7.5h2M24 7.5h1M36 7.5h1M43 7.5h1M1 8.5h1M19 8.5h1M13 9.5h1M34 9.5h1M37 9.5h1M52 9.5h1M5 10.5h1M25 10.5h1M31 10.5h2M37 10.5h1M46 10.5h1M52 10.5h1M2 11.5h1M4 11.5h1M17 11.5h1M48 11.5h1M53 11.5h1M55 11.5h2M17 12.5h1M45 12.5h1M48 12.5h2M2 13.5h2M7 13.5h1M9 13.5h1M23 13.5h1M30 13.5h1M34 13.5h1M40 13.5h1M45 13.5h1M47 13.5h1M4 14.5h1M17 14.5h1M24 14.5h1M30 14.5h2M33 14.5h1M41 14.5h1M55 14.5h1M18 15.5h1M25 15.5h1M28 15.5h2M31 15.5h1M35 15.5h2M42 15.5h1M46 15.5h1M49 15.5h1M57 15.5h1M3 16.5h1M35 16.5h1M50 16.5h1M1 17.5h1M7 17.5h1M11 17.5h2M14 17.5h1M19 17.5h1M21 17.5h1M24 17.5h1M29 17.5h1M35 17.5h1M7 18.5h1M15 18.5h1M19 18.5h1M22 18.5h1M25 18.5h1M28 18.5h1M33 18.5h1M36 18.5h1M45 18.5h1M8 19.5h1M17 19.5h2M28 19.5h1M33 19.5h3M44 19.5h1M4 20.5h1M17 21.5h1M21 21.5h1M27 21.5h1M41 21.5h1M45 21.5h1M18 22.5h1M22 22.5h1M25 22.5h2M33 22.5h1M35 22.5h1M43 22.5h1M6 23.5h1M13 23.5h1M6 24.5h2M14 24.5h1M17 24.5h1M26 24.5h1M34 24.5h1M37 24.5h1M42 24.5h1M6 25.5h1M10 25.5h1M15 25.5h1M18 25.5h1M22 25.5h1M38 25.5h1M50 25.5h2M54 25.5h2M22 26.5h1M24 26.5h1M38 26.5h2M46 26.5h1M21 27.5h1M30 27.5h1M41 27.5h1M15 28.5h1M18 28.5h2M41 28.5h1M48 28.5h1M56 28.5h1M15 29.5h1M17 29.5h1M42 29.5h1M46 29.5h1M55 29.5h2M13 30.5h2M27 30.5h1M42 30.5h1M53 30.5h1M1 31.5h1M10 31.5h1M14 31.5h2M32 31.5h2M6 32.5h1M10 32.5h1M31 32.5h1M35 32.5h1M38 32.5h1M45 32.5h1M49 32.5h1M51 32.5h1M14 33.5h1M18 33.5h2M22 33.5h1M31 33.5h1M40 33.5h1M5 34.5h2M9 34.5h1M13 34.5h1M19 34.5h1M24 34.5h1M34 34.5h1M41 34.5h1M52 34.5h1M15 35.5h3M19 35.5h1M22 35.5h1M32 35.5h1M44 35.5h1M51 35.5h1M56 35.5h2M2 36.5h1M7 36.5h1M15 36.5h1M18 36.5h1M2 37.5h1M9 37.5h2M24 37.5h1M47 37.5h1M56 37.5h1M3 38.5h1M5 38.5h1M25 38.5h2M32 38.5h1M40 38.5h1M4 39.5h1M26 39.5h1M56 39.5h1M3 40.5h1M13 40.5h1M33 40.5h1M38 40.5h1M42 40.5h1M55 40.5h1M4 41.5h1M6 41.5h1M14 41.5h1M21 41.5h1M27 41.5h2M34 41.5h1M15 42.5h1M24 42.5h1M29 42.5h2M40 42.5h1M6 43.5h2M22 43.5h1M45 43.5h1M51 43.5h1M19 44.5h1M35 44.5h1M44 44.5h1M12 45.5h2M18 45.5h1M21 45.5h1M32 45.5h1M43 45.5h1M57 45.5h1M10 46.5h1M15 46.5h1M26 46.5h1M29 46.5h1M46 46.5h1M13 47.5h1M37 47.5h1M47 47.5h1M11 48.5h2M28 48.5h1M54 48.5h1M12 49.5h1M15 49.5h1M32 49.5h1M16 50.5h1M25 50.5h1M3 51.5h1M25 51.5h1M32 51.5h1M35 51.5h1M43 51.5h1M6 52.5h1M9 52.5h2M34 52.5h1M54 52.5h2M0 53.5h1M11 53.5h1M30 53.5h1M25 54.5h1M48 54.5h1M52 54.5h1M6 55.5h1M11 55.5h1M14 55.5h1M25 55.5h1M29 55.5h1M40 55.5h1M52 55.5h1M3 56.5h2M11 56.5h1M28 56.5h2M35 56.5h1M37 56.5h1M39 56.5h1M15 57.5h1M35 57.5h1M45 57.5h1"/>
<path stroke="#2c0000" d="M4 0.5h1M9 0.5h1M16 0.5h1M36 0.5h1M15 1.5h2M25 1.5h1M29 1.5h1M36 1.5h1M48 1.5h1M53 1.5h1M7 2.5h1M17 2.5h1M26 2.5h1M44 2.5h1M49 2.5h1M51 2.5h1M56 2.5h1M11 3.5h1M17 3.5h1M34 3.5h1M39 3.5h1M48 3.5h1M50 3.5h1M0 4.5h1M6 4.5h1M12 4.5h2M40 4.5h1M43 4.5h1M13 5.5h1M17 5.5h1M23 5.5h1M51 5.5h1M4 6.5h1M10 6.5h1M18 6.5h1M26 6.5h1M33 6.5h1M39 6.5h1M53 6.5h1M2 7.5h1M34 7.5h2M39 7.5h1M41 7.5h1M46 7.5h1M53 7.5h1M14 8.5h1M16 8.5h1M31 8.5h1M34 8.5h1M42 8.5h1M44 8.5h1M0 9.5h1M18 9.5h1M25 9.5h1M30 9.5h3M43 9.5h1M51 9.5h1M6 10.5h1M12 10.5h1M22 10.5h2M30 10.5h1M44 10.5h1M57 10.5h1M3 11.5h1M31 11.5h1M44 11.5h1M49 11.5h2M54 11.5h1M57 11.5h1M4 12.5h1M10 12.5h1M16 12.5h1M36 12.5h1M42 12.5h1M47 12.5h1M50 12.5h2M56 12.5h1M4 13.5h2M33 13.5h1M46 13.5h1M54 13.5h4M8 14.5h1M14 14.5h1M18 14.5h1M34 14.5h1M36 14.5h1M50 14.5h1M1 15.5h1M26 15.5h2M30 15.5h1M33 15.5h1M0 16.5h2M8 16.5h1M12 16.5h1M19 16.5h2M30 16.5h1M37 16.5h1M2 17.5h2M5 17.5h1M23 17.5h1M6 18.5h1M9 18.5h1M14 18.5h1M16 19.5h1M26 19.5h1M43 19.5h1M57 19.5h1M16 20.5h1M28 20.5h1M51 20.5h1M46 21.5h1M50 21.5h1M10 22.5h1M32 22.5h1M34 22.5h1M5 23.5h1M10 23.5h1M17 23.5h1M43 23.5h1M48 23.5h1M54 23.5h1M57 23.5h1M41 24.5h1M43 24.5h1M1 25.5h1M9 25.5h1M34 25.5h1M2 26.5h1M6 26.5h1M15 26.5h1M19 26.5h1M29 26.5h1M32 26.5h1M53 26.5h1M15 27.5h1M40 27.5h1M48 27.5h1M53 27.5h3M20 28.5h1M1 29.5h1M26 29.5h1M50 29.5h2M9 30.5h2M15 30.5h2M48 30.5h1M8 31.5h2M11 31.5h1M39 31.5h1M43 31.5h1M45 31.5h1M49 31.5h1M52 31.5h1M9 32.5h1M22 32.5h1M26 32.5h1M40 32.5h1M44 32.5h1M6 33.5h1M13 33.5h1M15 33.5h1M3 34.5h1M7 34.5h2M14 34.5h1M22 34.5h1M25 34.5h1M53 34.5h1M7 35.5h1M42 35.5h2M48 35.5h1M0 36.5h2M12 36.5h1M14 36.5h1M16 37.5h1M53 37.5h1M49 38.5h2M56 38.5h1M3 39.5h1M6 39.5h2M31 39.5h1M50 39.5h1M4 40.5h1M27 40.5h1M32 40.5h1M47 40.5h1M53 40.5h1M7 41.5h1M24 41.5h1M43 41.5h1M8 42.5h1M12 42.5h1M35 42.5h1M44 42.5h1M4 43.5h1M9 43.5h1M19 43.5h1M23 43.5h2M31 43.5h1M35 43.5h1M41 43.5h1M46 43.5h1M57 43.5h1M2 44.5h1M8 44.5h1M10 44.5h2M32 44.5h1M42 44.5h1M51 44.5h1M31 45.5h1M46 45.5h2M7 46.5h1M13 46.5h1M21 46.5h1M43 46.5h1M45 46.5h1M48 46.5h1M52 46.5h1M12 47.5h1M40 47.5h1M45 47.5h1M1 48.5h1M3 48.5h1M23 48.5h1M27 48.5h1M30 48.5h1M35 48.5h1M46 48.5h1M53 48.5h1M55 48.5h3M2 49.5h1M11 49.5h1M31 49.5h1M38 49.5h1M3 50.5h1M11 50.5h2M14 50.5h1M21 50.5h1M29 50.5h1M38 50.5h2M2 51.5h1M5 51.5h1M9 51.5h1M12 51.5h1M20 51.5h1M29 51.5h1M44 51.5h1M31 52.5h1M46 52.5h1M53 52.5h1M1 53.5h1M6 53.5h2M26 53.5h2M34 53.5h1M37 53.5h1M40 53.5h1M48 53.5h1M52 53.5h1M11 54.5h1M13 54.5h1M23 54.5h1M27 54.5h1M55 54.5h2M13 55.5h1M27 55.5h1M48 55.5h1M54 55.5h1M2 56.5h1M12 56.5h2M38 56.5h1M48 56.5h1M54 56.5h1M10 57.5h2M13 57.5h1M19 57.5h1M23 57.5h1M43 57.5h1M48 57.5h1"/>
<path stroke="#350000" d="M17 0.5h1M22 0.5h1M1 1.5h1M9 1.5h1M14 1.5h1M26 1.5h1M37 1.5h1M57 1.5h1M3 2.5h1M10 2.5h1M12 2.5h1M16 2.5h1M19 2.5h1M27 2.5h1M38 2.5h1M53 2.5h1M2 3.5h1M12 3.5h1M20 3.5h1M10 4.5h1M22 5.5h1M26 5.5h1M29 5.5h1M31 5.5h1M39 5.5h1M41 5.5h1M13 6.5h1M40 6.5h1M14 7.5h1M16 7.5h1M54 7.5h1M25 8.5h1M1 9.5h1M20 9.5h1M36 9.5h1M38 9.5h1M45 9.5h1M2 10.5h1M4 10.5h1M56 10.5h1M16 11.5h1M26 11.5h1M2 12.5h2M23 12.5h1M32 12.5h1M46 12.5h1M6 13.5h1M16 13.5h1M32 13.5h1M36 13.5h1M50 13.5h1M1 14.5h1M7 14.5h1M23 14.5h1M24 15.5h1M2 16.5h1M7 16.5h1M11 16.5h1M13 16.5h1M21 16.5h1M24 16.5h1M41 16.5h1M46 16.5h1M0 17.5h1M22 17.5h1M34 17.5h1M38 17.5h1M46 17.5h1M23 18.5h1M42 18.5h1M2 19.5h1M22 19.5h1M32 19.5h1M36 19.5h1M56 19.5h1M3 20.5h1M9 20.5h1M45 20.5h1M16 21.5h1M26 21.5h1M47 21.5h1M0 22.5h1M5 22.5h1M17 22.5h1M19 22.5h1M36 22.5h1M12 23.5h1M14 23.5h1M18 23.5h1M55 23.5h2M15 24.5h2M48 24.5h1M8 25.5h1M47 25.5h1M1 26.5h1M5 26.5h1M11 26.5h1M21 26.5h1M30 26.5h1M54 26.5h1M56 26.5h2M2 27.5h1M29 27.5h1M39 27.5h1M30 28.5h1M46 28.5h1M5 29.5h1M27 29.5h1M29 29.5h1M57 29.5h1M26 30.5h1M28 30.5h1M5 31.5h1M36 31.5h1M12 32.5h2M19 32.5h1M37 32.5h1M35 33.5h1M48 33.5h1M52 33.5h1M17 34.5h1M46 34.5h1M48 34.5h1M54 34.5h1M33 35.5h1M46 35.5h1M9 36.5h1M13 36.5h1M19 36.5h1M22 36.5h1M31 36.5h1M45 36.5h1M47 36.5h1M1 37.5h1M32 37.5h1M38 37.5h1M54 37.5h2M2 38.5h1M9 38.5h1M17 38.5h1M37 38.5h1M53 38.5h1M5 39.5h1M27 39.5h1M49 39.5h1M6 40.5h1M48 40.5h1M50 40.5h1M54 40.5h1M5 41.5h1M16 41.5h1M18 42.5h1M45 42.5h2M45 44.5h2M57 44.5h1M9 45.5h1M20 45.5h1M36 45.5h1M42 45.5h1M44 45.5h2M12 46.5h1M16 46.5h2M28 46.5h1M34 46.5h2M42 46.5h1M44 46.5h1M21 47.5h1M25 47.5h1M36 47.5h1M52 47.5h1M24 48.5h1M33 48.5h2M40 48.5h1M39 49.5h1M13 50.5h1M40 50.5h1M33 52.5h1M47 52.5h1M56 52.5h2M2 53.5h1M38 53.5h1M7 54.5h1M26 54.5h1M34 54.5h1M37 54.5h1M40 54.5h1M23 55.5h1M37 55.5h1M10 56.5h1M19 56.5h1M23 56.5h1M26 56.5h1M52 56.5h1M1 57.5h1M26 57.5h1M29 57.5h1M44 57.5h1M52 57.5h1"/>
<path stroke="#3f0000" d="M15 0.5h1M37 0.5h2M10 1.5h1M38 1.5h1M49 1.5h1M51 1.5h1M25 2.5h1M35 2.5h1M39 2.5h1M53 3.5h1M21 4.5h1M24 4.5h1M5 5.5h1M16 5.5h1M33 5.5h1M40 5.5h1M49 5.5h2M53 5.5h1M17 6.5h1M29 6.5h1M54 6.5h1M15 7.5h1M25 7.5h1M30 7.5h1M40 7.5h1M57 7.5h1M36 8.5h1M56 8.5h1M16 9.5h1M35 9.5h1M1 10.5h1M16 10.5h1M21 10.5h1M11 11.5h1M23 11.5h1M30 11.5h1M26 12.5h1M30 12.5h1M41 12.5h1M57 12.5h1M14 13.5h1M18 13.5h1M28 13.5h1M31 13.5h1M53 13.5h1M13 14.5h1M22 14.5h1M28 14.5h1M54 14.5h1M0 15.5h1M7 15.5h1M17 15.5h1M34 15.5h1M41 15.5h1M54 15.5h1M5 16.5h1M9 16.5h2M31 16.5h1M55 16.5h1M6 17.5h1M15 17.5h1M30 17.5h1M41 17.5h1M13 18.5h1M24 18.5h1M37 18.5h1M55 18.5h2M52 19.5h1M32 20.5h2M42 20.5h1M4 21.5h1M10 21.5h1M22 21.5h1M32 21.5h2M14 22.5h1M21 22.5h1M39 22.5h1M11 23.5h1M39 23.5h1M4 24.5h1M18 24.5h1M2 25.5h1M7 25.5h1M36 25.5h1M45 25.5h1M12 26.5h1M31 26.5h1M34 26.5h1M52 26.5h1M55 26.5h1M33 27.5h1M46 27.5h1M56 27.5h1M13 28.5h2M6 29.5h1M41 29.5h1M7 30.5h1M11 30.5h2M17 30.5h1M37 30.5h1M41 30.5h1M46 30.5h1M13 31.5h1M16 31.5h1M26 31.5h1M31 31.5h1M34 31.5h1M40 31.5h1M20 32.5h2M36 32.5h1M5 33.5h1M20 33.5h2M27 33.5h1M39 33.5h1M46 33.5h1M15 34.5h1M26 34.5h1M31 34.5h1M44 34.5h1M55 34.5h3M2 35.5h1M9 35.5h1M8 36.5h1M25 36.5h1M32 36.5h1M44 36.5h1M46 36.5h1M0 37.5h1M18 37.5h1M30 37.5h1M0 38.5h2M2 39.5h1M22 39.5h2M33 39.5h1M53 39.5h1M55 39.5h1M5 40.5h1M7 40.5h1M31 40.5h1M12 41.5h1M15 41.5h1M17 41.5h1M29 41.5h2M50 41.5h1M20 42.5h1M47 43.5h1M34 44.5h1M36 44.5h1M47 44.5h1M25 45.5h1M48 45.5h1M27 46.5h1M30 46.5h1M33 46.5h1M36 46.5h1M43 47.5h2M48 47.5h1M45 48.5h1M47 48.5h1M52 48.5h1M1 49.5h1M5 49.5h1M5 50.5h1M41 50.5h1M1 51.5h1M19 52.5h1M26 52.5h1M48 52.5h1M52 52.5h1M3 53.5h1M5 53.5h1M13 53.5h1M39 53.5h1M6 54.5h1M14 54.5h2M16 55.5h1M18 55.5h1M26 55.5h1M34 55.5h1M39 55.5h1M8 56.5h1M18 56.5h1M27 56.5h1M34 56.5h1M7 57.5h1M12 57.5h1M34 57.5h1"/>
<path stroke="#490000" d="M51 0.5h1M27 1.5h2M21 2.5h1M28 2.5h1M43 2.5h1M47 2.5h1M7 3.5h1M44 3.5h1M48 4.5h1M53 4.5h1M27 6.5h1M46 6.5h2M3 7.5h1M10 7.5h1M15 8.5h1M30 8.5h1M35 8.5h1M39 8.5h1M55 8.5h1M56 9.5h2M7 10.5h1M47 10.5h1M15 11.5h1M29 12.5h1M31 12.5h1M22 13.5h1M40 14.5h1M8 15.5h1M11 15.5h1M47 15.5h1M51 15.5h1M18 16.5h1M32 16.5h1M34 16.5h1M51 16.5h1M33 17.5h1M16 18.5h1M29 18.5h1M32 18.5h1M45 19.5h1M22 20.5h1M26 20.5h1M35 20.5h2M2 21.5h1M23 21.5h1M35 21.5h2M40 21.5h1M48 21.5h2M13 22.5h1M20 22.5h1M47 22.5h1M53 22.5h1M21 23.5h1M37 23.5h1M27 24.5h1M40 24.5h1M35 25.5h1M44 25.5h1M46 25.5h1M20 26.5h1M40 26.5h1M49 26.5h1M1 27.5h1M6 27.5h1M24 27.5h1M1 28.5h2M29 28.5h1M43 28.5h1M52 28.5h1M57 28.5h1M12 29.5h1M18 29.5h1M28 29.5h1M30 29.5h1M8 30.5h1M29 30.5h1M38 30.5h1M47 30.5h1M12 31.5h1M35 31.5h1M41 31.5h2M16 32.5h1M18 32.5h1M48 32.5h1M52 32.5h1M17 33.5h1M16 34.5h1M40 34.5h1M8 35.5h1M20 35.5h2M25 35.5h1M31 35.5h1M41 35.5h1M47 35.5h1M20 36.5h2M23 37.5h1M39 37.5h1M46 37.5h1M30 38.5h1M46 38.5h1M55 38.5h1M8 39.5h1M37 39.5h1M14 40.5h1M21 40.5h1M24 40.5h1M26 40.5h1M34 40.5h1M49 40.5h1M31 41.5h1M35 41.5h1M47 41.5h1M31 42.5h1M47 42.5h1M50 42.5h1M2 43.5h1M28 43.5h1M3 44.5h1M25 44.5h1M19 45.5h1M51 45.5h1M6 46.5h1M25 46.5h1M37 46.5h2M2 47.5h1M6 47.5h1M10 47.5h1M15 47.5h1M22 47.5h1M30 47.5h1M35 47.5h1M41 47.5h2M4 48.5h1M21 48.5h1M32 48.5h1M21 49.5h1M26 49.5h1M40 49.5h1M52 49.5h3M57 49.5h1M42 50.5h1M0 51.5h1M15 51.5h2M45 51.5h1M53 51.5h2M28 52.5h1M32 52.5h1M49 52.5h1M4 53.5h1M22 53.5h1M49 53.5h1M51 53.5h1M49 54.5h1M51 54.5h1M8 55.5h1M38 55.5h1M57 55.5h1M9 56.5h1M9 57.5h1M28 57.5h1M49 57.5h1M55 57.5h1"/>
<path stroke="#520000" d="M29 0.5h1M32 0.5h1M49 0.5h1M57 0.5h1M18 1.5h1M22 1.5h1M32 1.5h1M39 1.5h1M56 1.5h1M20 2.5h1M50 2.5h1M10 3.5h1M25 4.5h1M32 5.5h1M48 5.5h1M55 5.5h1M45 7.5h1M45 8.5h1M53 8.5h1M3 10.5h1M11 10.5h1M18 10.5h1M50 10.5h1M10 11.5h1M37 11.5h1M27 12.5h1M25 13.5h1M51 13.5h2M15 14.5h1M21 14.5h1M25 14.5h1M14 15.5h1M21 15.5h3M48 15.5h1M22 16.5h2M33 16.5h1M49 16.5h1M56 16.5h1M39 17.5h1M55 17.5h1M1 18.5h1M10 18.5h1M53 19.5h1M55 19.5h1M2 20.5h1M34 20.5h1M57 20.5h1M14 21.5h2M25 21.5h1M1 22.5h1M15 22.5h2M27 22.5h1M15 23.5h2M38 24.5h1M44 24.5h1M4 25.5h1M13 25.5h2M21 25.5h1M31 25.5h1M39 25.5h1M12 27.5h1M22 27.5h1M42 27.5h1M57 27.5h1M49 28.5h1M0 29.5h1M54 30.5h1M25 31.5h1M48 31.5h1M0 32.5h2M5 32.5h1M16 33.5h1M44 33.5h1M20 34.5h1M47 34.5h1M11 37.5h1M24 38.5h1M54 38.5h1M1 39.5h1M17 39.5h1M25 39.5h1M46 39.5h1M54 39.5h1M46 41.5h1M27 42.5h1M50 43.5h1M24 44.5h1M33 44.5h1M7 45.5h2M39 46.5h1M41 46.5h1M49 46.5h1M51 46.5h1M34 47.5h1M51 47.5h1M5 48.5h1M15 48.5h1M31 48.5h1M51 48.5h1M0 49.5h1M16 49.5h1M28 49.5h1M46 49.5h1M51 49.5h1M55 49.5h2M2 50.5h1M10 50.5h1M43 50.5h1M52 50.5h2M13 51.5h1M46 51.5h4M52 51.5h1M13 52.5h1M50 52.5h2M8 53.5h1M19 53.5h1M50 53.5h1M30 54.5h1M38 54.5h2M5 55.5h1M17 55.5h1M19 55.5h1M49 55.5h1M1 56.5h1M16 56.5h1M49 56.5h1M0 57.5h1M20 57.5h1M27 57.5h1M57 57.5h1"/>
<path stroke="#5c0000" d="M2 0.5h1M10 0.5h1M25 0.5h1M39 0.5h1M48 0.5h1M35 1.5h1M0 2.5h1M30 2.5h1M34 2.5h1M45 2.5h1M55 2.5h1M21 3.5h1M55 3.5h1M22 4.5h2M33 4.5h1M9 5.5h1M14 5.5h2M27 5.5h2M16 6.5h1M28 6.5h1M51 6.5h1M44 7.5h1M11 8.5h1M57 8.5h1M5 9.5h1M14 9.5h1M19 9.5h1M0 10.5h1M55 10.5h1M8 11.5h1M43 11.5h1M18 12.5h1M28 12.5h1M40 12.5h1M5 14.5h1M9 14.5h1M5 15.5h1M19 15.5h1M6 16.5h1M40 16.5h1M40 17.5h1M12 18.5h1M46 18.5h1M54 18.5h1M9 19.5h1M15 19.5h1M42 19.5h1M53 20.5h1M3 21.5h1M24 21.5h1M34 21.5h1M4 22.5h1M37 22.5h1M44 22.5h1M4 23.5h1M38 23.5h1M21 24.5h1M39 24.5h1M0 25.5h1M28 25.5h1M41 26.5h1M45 26.5h1M5 27.5h1M31 27.5h1M52 27.5h1M5 28.5h2M12 28.5h1M25 28.5h1M40 28.5h1M45 28.5h1M2 30.5h1M27 31.5h1M53 31.5h1M46 32.5h1M4 33.5h1M41 33.5h1M47 33.5h1M53 33.5h1M2 34.5h1M21 34.5h1M1 35.5h1M43 36.5h1M22 37.5h1M23 38.5h1M41 38.5h1M0 39.5h1M24 39.5h1M12 40.5h1M16 40.5h2M28 40.5h1M46 40.5h1M26 41.5h1M33 41.5h1M38 41.5h1M44 41.5h1M48 41.5h1M19 42.5h1M11 43.5h1M36 43.5h1M48 43.5h1M7 44.5h1M22 44.5h1M41 44.5h1M48 44.5h1M50 44.5h1M2 45.5h1M26 45.5h1M28 45.5h1M18 46.5h1M32 46.5h1M40 46.5h1M33 47.5h1M49 47.5h1M0 48.5h1M41 48.5h1M43 48.5h2M48 48.5h1M47 49.5h1M44 50.5h1M51 50.5h1M6 51.5h1M50 51.5h2M55 51.5h1M57 51.5h1M27 52.5h1M20 53.5h1M31 53.5h1M33 53.5h1M18 54.5h1M2 55.5h2M10 55.5h1M51 55.5h1M55 55.5h1M8 57.5h1M51 57.5h1"/>
<path stroke="#650000" d="M35 0.5h1M11 1.5h1M13 1.5h1M21 1.5h1M50 1.5h1M29 2.5h1M31 2.5h1M40 2.5h1M33 3.5h1M7 4.5h1M55 4.5h1M54 5.5h1M14 6.5h1M44 6.5h1M4 7.5h1M26 7.5h1M51 8.5h1M29 9.5h1M13 10.5h1M26 10.5h1M38 10.5h1M1 11.5h1M18 11.5h1M22 11.5h1M22 12.5h1M1 13.5h1M10 13.5h1M21 13.5h1M6 14.5h1M16 14.5h1M51 14.5h1M20 15.5h1M14 16.5h1M38 16.5h1M54 16.5h1M31 17.5h2M11 18.5h1M18 18.5h1M51 19.5h1M54 19.5h1M15 20.5h1M46 20.5h1M1 21.5h1M13 21.5h1M28 21.5h1M53 21.5h1M11 22.5h2M38 22.5h1M57 22.5h1M27 23.5h1M25 25.5h1M7 26.5h1M10 26.5h1M37 26.5h1M51 26.5h1M23 27.5h1M34 27.5h1M21 28.5h1M2 29.5h1M9 29.5h1M30 30.5h1M39 30.5h2M57 30.5h1M2 31.5h1M17 31.5h1M46 31.5h1M17 32.5h1M3 33.5h1M27 34.5h1M42 34.5h1M0 35.5h1M26 37.5h1M10 38.5h1M16 38.5h1M22 38.5h1M30 39.5h1M42 39.5h1M2 40.5h1M30 40.5h1M45 41.5h1M49 41.5h1M34 42.5h1M39 42.5h1M48 42.5h1M6 44.5h1M41 45.5h1M49 45.5h2M20 46.5h1M31 46.5h1M50 46.5h1M50 47.5h1M42 48.5h1M50 48.5h1M41 49.5h1M45 49.5h1M1 50.5h1M45 50.5h4M50 50.5h1M54 50.5h1M57 50.5h1M8 51.5h1M14 51.5h1M19 51.5h1M26 51.5h1M56 51.5h1M21 53.5h1M5 54.5h1M16 54.5h1M19 54.5h1M50 54.5h1M4 55.5h1M56 55.5h1M51 56.5h1M55 56.5h1M57 56.5h1M22 57.5h1M30 57.5h1M50 57.5h1M56 57.5h1"/>
<path stroke="#6f0000" d="M54 0.5h1M3 1.5h1M54 1.5h1M8 2.5h1M32 2.5h2M54 2.5h1M1 3.5h1M30 4.5h1M44 5.5h1M15 6.5h1M2 8.5h1M41 8.5h1M54 8.5h1M46 9.5h1M55 9.5h1M43 10.5h1M53 10.5h1M14 12.5h1M12 14.5h1M53 14.5h1M6 15.5h1M40 15.5h1M50 17.5h1M56 17.5h1M31 18.5h1M38 18.5h1M57 18.5h1M25 19.5h1M29 19.5h1M19 25.5h1M40 25.5h2M43 25.5h1M28 26.5h1M32 27.5h1M38 27.5h1M26 28.5h1M44 28.5h1M19 29.5h1M4 30.5h1M36 30.5h1M55 30.5h2M18 31.5h1M2 32.5h1M27 32.5h1M47 32.5h1M2 33.5h1M57 33.5h1M30 36.5h1M37 37.5h1M18 38.5h1M27 38.5h1M15 40.5h1M25 40.5h1M43 40.5h1M8 41.5h1M25 41.5h1M49 42.5h1M10 43.5h1M25 43.5h1M40 43.5h1M49 43.5h1M5 44.5h1M28 44.5h1M49 44.5h1M9 46.5h1M32 47.5h1M49 48.5h1M42 49.5h3M48 49.5h1M50 49.5h1M17 50.5h1M49 50.5h1M55 50.5h2M10 53.5h1M14 53.5h1M0 54.5h3M8 54.5h1M9 55.5h1M30 55.5h1M50 55.5h1M17 56.5h1M30 56.5h1M50 56.5h1M18 57.5h1M33 57.5h1"/>
<path stroke="#790000" d="M14 0.5h1M23 0.5h2M50 0.5h1M56 0.5h1M12 1.5h1M24 1.5h1M55 1.5h1M46 2.5h1M25 3.5h1M54 3.5h1M45 6.5h1M29 7.5h1M29 8.5h1M46 8.5h1M15 9.5h1M14 10.5h2M48 10.5h1M1 12.5h1M0 14.5h1M10 14.5h1M9 15.5h2M37 15.5h1M39 16.5h1M51 17.5h1M54 17.5h1M30 18.5h1M41 18.5h1M52 18.5h2M31 19.5h1M37 19.5h1M41 20.5h1M37 21.5h1M39 21.5h1M54 22.5h1M0 23.5h1M0 24.5h2M3 25.5h1M42 25.5h1M50 26.5h1M49 27.5h1M7 29.5h2M18 30.5h1M31 30.5h1M19 31.5h1M30 31.5h1M47 31.5h1M41 32.5h1M53 32.5h1M56 33.5h1M35 34.5h1M34 35.5h1M42 36.5h1M15 37.5h1M19 37.5h1M21 37.5h1M45 37.5h1M16 39.5h1M21 39.5h1M18 41.5h1M20 41.5h1M32 41.5h1M25 42.5h1M36 42.5h1M6 45.5h1M37 45.5h1M2 46.5h1M8 46.5h1M31 47.5h1M10 48.5h1M27 49.5h1M49 49.5h1M0 50.5h1M26 50.5h1M17 51.5h1M18 52.5h1M18 53.5h1M32 53.5h1M3 54.5h1M17 54.5h1M22 54.5h1M1 55.5h1M0 56.5h1M33 56.5h1"/>
<path stroke="#820000" d="M3 0.5h1M11 0.5h1M2 1.5h1M47 1.5h1M1 2.5h2M9 2.5h1M0 3.5h1M24 3.5h1M9 4.5h1M31 4.5h1M44 4.5h1M54 4.5h1M9 6.5h1M47 7.5h1M51 7.5h1M40 8.5h1M2 9.5h1M4 9.5h1M6 9.5h1M11 9.5h1M26 9.5h1M42 9.5h1M53 9.5h1M29 10.5h1M54 10.5h1M0 11.5h1M9 11.5h1M14 11.5h1M21 11.5h1M27 11.5h1M27 13.5h1M39 13.5h1M11 14.5h1M19 14.5h1M27 14.5h1M53 15.5h1M47 16.5h1M57 16.5h1M18 17.5h1M17 18.5h1M14 19.5h1M23 19.5h1M50 20.5h1M56 20.5h1M11 21.5h1M57 21.5h1M46 22.5h1M56 22.5h1M19 23.5h1M44 23.5h1M3 24.5h1M31 24.5h1M27 25.5h1M9 26.5h1M11 27.5h1M13 27.5h2M25 27.5h1M51 28.5h1M10 29.5h1M32 30.5h1M4 31.5h1M24 31.5h1M30 32.5h1M36 33.5h1M38 33.5h1M54 33.5h2M43 34.5h1M33 36.5h1M40 37.5h1M33 38.5h1M13 39.5h1M8 40.5h1M37 40.5h1M9 42.5h1M34 43.5h1M4 44.5h1M23 44.5h1M22 46.5h1M1 47.5h1M7 47.5h1M16 47.5h1M20 50.5h1M7 51.5h1M28 51.5h1M9 53.5h1M15 53.5h1M4 54.5h1M10 54.5h1M33 54.5h1M33 55.5h1M20 56.5h1M22 56.5h1M56 56.5h1M16 57.5h1M21 57.5h1"/>
<path stroke="#8c0000" d="M55 0.5h1M22 2.5h1M24 2.5h1M42 2.5h1M47 3.5h1M27 7.5h1M26 8.5h1M39 9.5h1M49 10.5h1M29 11.5h1M21 12.5h1M26 14.5h1M52 14.5h1M52 15.5h1M17 16.5h1M52 16.5h1M16 17.5h1M47 17.5h1M51 18.5h1M46 19.5h1M31 20.5h1M37 20.5h1M12 21.5h1M2 22.5h1M45 22.5h1M55 22.5h1M2 24.5h1M29 25.5h1M8 26.5h1M14 26.5h1M7 27.5h1M45 27.5h1M31 28.5h1M39 28.5h1M50 28.5h1M11 29.5h1M25 29.5h1M40 29.5h1M33 30.5h1M20 31.5h1M28 31.5h1M43 32.5h1M30 33.5h1M20 37.5h1M9 39.5h1M28 39.5h1M29 40.5h1M2 42.5h1M32 43.5h1M22 45.5h1M27 45.5h1M19 46.5h1M3 47.5h1M17 47.5h1M10 49.5h1M28 50.5h1M18 51.5h1M14 52.5h3M0 55.5h1M22 55.5h1"/>
<path stroke="#950000" d="M33 1.5h2M41 2.5h1M22 3.5h1M26 3.5h1M32 3.5h1M8 4.5h1M26 4.5h1M29 4.5h1M32 4.5h1M6 5.5h1M5 6.5h1M28 7.5h1M4 8.5h1M20 10.5h1M37 12.5h1M26 13.5h1M20 14.5h1M48 16.5h1M10 20.5h1M14 20.5h1M23 20.5h1M25 20.5h1M29 20.5h1M38 21.5h1M3 22.5h1M20 23.5h1M20 25.5h1M30 25.5h1M3 26.5h2M13 26.5h1M42 26.5h1M7 28.5h1M4 29.5h1M20 29.5h1M25 30.5h1M35 30.5h1M54 31.5h1M3 32.5h2M1 33.5h1M1 34.5h1M30 35.5h1M12 37.5h1M21 38.5h1M2 41.5h1M26 42.5h1M16 48.5h1M31 54.5h1"/>
<path stroke="#9f0000" d="M12 0.5h2M26 0.5h1M23 1.5h1M8 3.5h1M23 3.5h1M30 3.5h2M47 5.5h1M48 6.5h1M3 8.5h1M54 9.5h1M12 11.5h1M38 11.5h1M42 11.5h1M0 12.5h1M11 12.5h1M39 12.5h1M0 13.5h1M19 13.5h2M39 14.5h1M15 15.5h2M15 16.5h1M53 16.5h1M52 17.5h2M39 18.5h1M13 19.5h1M24 19.5h1M30 19.5h1M13 20.5h1M54 20.5h1M31 21.5h1M1 23.5h1M3 23.5h1M31 23.5h1M47 23.5h1M19 24.5h1M47 24.5h1M26 25.5h1M0 26.5h1M25 26.5h1M51 27.5h1M28 28.5h1M34 28.5h1M31 29.5h1M3 30.5h1M19 30.5h1M34 30.5h1M3 31.5h1M21 31.5h1M23 31.5h1M29 31.5h1M57 31.5h1M54 32.5h1M56 32.5h2M37 33.5h1M28 34.5h1M30 34.5h1M33 37.5h1M11 38.5h1M12 39.5h1M14 39.5h1M18 39.5h1M45 40.5h1M11 42.5h1M40 45.5h1M5 47.5h1M23 47.5h2M6 48.5h1M27 51.5h1M17 52.5h1M16 53.5h2M9 54.5h1M20 54.5h1M32 54.5h1M32 56.5h1M31 57.5h2"/>
<path stroke="#a90000" d="M21 0.5h1M27 3.5h1M45 3.5h1M10 8.5h1M28 8.5h1M8 10.5h1M19 10.5h1M39 10.5h1M37 14.5h1M39 15.5h1M49 17.5h1M40 18.5h1M10 19.5h1M41 19.5h1M47 20.5h1M55 20.5h1M0 21.5h1M31 22.5h1M45 24.5h1M35 26.5h1M44 26.5h1M3 27.5h1M43 27.5h1M50 27.5h1M8 28.5h1M33 28.5h1M38 29.5h2M22 31.5h1M55 31.5h2M55 32.5h1M28 33.5h1M26 35.5h1M41 36.5h1M14 37.5h1M44 37.5h1M29 38.5h1M45 38.5h1M10 39.5h1M15 39.5h1M29 39.5h1M18 40.5h1M44 40.5h1M19 41.5h1M36 41.5h1M27 43.5h1M26 44.5h1M37 44.5h1M40 44.5h1M3 45.5h1M24 45.5h1M38 45.5h1M20 47.5h1M17 49.5h1M27 50.5h1M20 55.5h1M31 55.5h2M31 56.5h1"/>
<path stroke="#b20000" d="M28 0.5h1M33 0.5h2M44 1.5h1M9 3.5h1M29 3.5h1M8 5.5h1M9 7.5h1M5 8.5h1M27 8.5h1M3 9.5h1M7 9.5h1M28 9.5h1M28 11.5h1M39 11.5h1M41 11.5h1M37 13.5h1M16 16.5h1M17 17.5h1M57 17.5h1M47 18.5h1M40 20.5h1M54 21.5h1M56 21.5h1M8 27.5h1M28 27.5h1M0 28.5h1M9 28.5h1M11 28.5h1M27 28.5h1M3 29.5h1M37 29.5h1M42 32.5h1M0 33.5h1M0 34.5h1M39 34.5h1M40 35.5h1M38 36.5h1M13 37.5h1M29 37.5h1M41 37.5h1M36 38.5h1M11 39.5h1M34 39.5h1M45 39.5h1M20 40.5h1M35 40.5h1M11 41.5h1M37 41.5h1M32 42.5h1M1 44.5h1M39 45.5h1M18 47.5h1M21 54.5h1M21 56.5h1M17 57.5h1"/>
<path stroke="#bc0000" d="M18 0.5h1M45 1.5h1M23 2.5h1M28 3.5h1M27 4.5h2M50 6.5h1M27 9.5h1M10 10.5h1M27 10.5h1M42 10.5h1M13 11.5h1M40 11.5h1M19 12.5h2M11 13.5h1M38 15.5h1M48 17.5h1M0 18.5h1M50 18.5h1M12 19.5h1M38 19.5h1M12 20.5h1M24 20.5h1M30 20.5h1M38 20.5h1M2 23.5h1M20 24.5h1M36 26.5h1M43 26.5h1M4 27.5h1M9 27.5h2M44 27.5h1M3 28.5h2M32 28.5h1M38 28.5h1M20 30.5h1M28 32.5h1M26 36.5h1M15 38.5h1M19 38.5h2M28 38.5h1M42 38.5h1M43 39.5h1M11 40.5h1M10 42.5h1M38 42.5h1M26 43.5h1M39 43.5h1M27 44.5h1M1 45.5h1M17 48.5h1M6 50.5h1M18 50.5h1"/>
<path stroke="#c50000" d="M19 1.5h1M46 1.5h1M46 3.5h1M45 5.5h1M40 9.5h2M47 9.5h1M50 9.5h1M28 10.5h1M20 11.5h1M38 12.5h1M13 13.5h1M1 19.5h1M50 19.5h1M11 20.5h1M39 20.5h1M48 20.5h2M55 21.5h1M28 24.5h1M46 24.5h1M10 28.5h1M24 28.5h1M34 29.5h3M42 33.5h2M29 34.5h1M29 35.5h1M29 36.5h1M39 36.5h1M43 37.5h1M12 38.5h1M20 39.5h1M36 39.5h1M9 40.5h1M9 41.5h1M33 42.5h1M33 43.5h1M37 43.5h1M5 45.5h1M1 46.5h1M3 46.5h1M24 46.5h1M9 47.5h1M20 48.5h1M20 49.5h1M9 50.5h1M19 50.5h1M21 55.5h1"/>
<path stroke="#cf0000" d="M27 0.5h1M47 0.5h1M40 1.5h1M47 4.5h1M7 5.5h1M46 5.5h1M5 7.5h1M10 9.5h1M9 10.5h1M19 11.5h1M38 13.5h1M38 14.5h1M11 19.5h1M40 19.5h1M47 19.5h1M29 21.5h1M28 22.5h1M45 23.5h1M0 27.5h1M22 28.5h1M21 29.5h1M32 29.5h2M29 32.5h1M29 33.5h1M36 34.5h1M35 35.5h1M34 36.5h1M37 36.5h1M40 36.5h1M36 37.5h1M42 37.5h1M13 38.5h2M44 39.5h1M1 40.5h1M19 40.5h1M36 40.5h1M37 42.5h1M39 44.5h1M23 45.5h1M5 46.5h1M0 47.5h1M4 47.5h1M19 47.5h1"/>
<path stroke="#d90000" d="M20 1.5h1M49 6.5h1M47 8.5h1M9 9.5h1M40 10.5h2M39 19.5h1M1 20.5h1M46 23.5h1M27 26.5h1M26 27.5h1M35 27.5h1M37 27.5h1M35 28.5h1M38 34.5h1M27 35.5h2M27 37.5h1M34 38.5h1M43 38.5h2M19 39.5h1M10 40.5h1M10 41.5h1M38 43.5h1M38 44.5h1M23 46.5h1M8 47.5h1M6 49.5h1"/>
<path stroke="#e20000" d="M45 4.5h1M9 8.5h1M8 9.5h1M13 12.5h1M12 13.5h1M48 18.5h2M30 21.5h1M37 28.5h1M21 30.5h1M37 34.5h1M39 35.5h1M28 37.5h1M34 37.5h1M35 39.5h1M4 45.5h1M18 48.5h1M18 49.5h1"/>
<path stroke="#ec0000" d="M40 0.5h1M43 1.5h1M12 12.5h1M48 19.5h2M28 23.5h1M30 24.5h1M26 26.5h1M27 27.5h1M23 28.5h1M24 30.5h1M36 35.5h3M35 36.5h2M35 37.5h1M35 38.5h1M0 40.5h1M1 43.5h1M19 48.5h1M19 49.5h1"/>
<path stroke="#f50000" d="M46 4.5h1M48 7.5h1M50 7.5h1M50 8.5h1M48 9.5h2M30 22.5h1M29 24.5h1M36 27.5h1M36 28.5h1M24 29.5h1M22 30.5h1M27 36.5h2M4 46.5h1M7 48.5h1M9 48.5h1M9 49.5h1M7 50.5h2"/>
<path stroke="#ff0000" d="M19 0.5h2M44 0.5h3M41 1.5h2M49 7.5h1M48 8.5h1M0 19.5h1M0 20.5h1M29 22.5h1M29 23.5h2M22 29.5h2M23 30.5h1M1 41.5h1M1 42.5h1M0 44.5h1M0 45.5h1M0 46.5h1M8 48.5h1M7 49.5h1"/>
<path stroke="#ff1f00" d="M41 0.5h3M49 8.5h1M0 41.5h1M0 42.5h1M0 43.5h1M8 49.5h1"/>
<path stroke="#ffa200" d="M8 6.5h1M6 8.5h1M8 8.5h1"/>
<path stroke="#ffce00" d="M6 6.5h1"/>
<path stroke="#ffffbd" d="M8 7.5h1M7 8.5h1"/>
<path stroke="#ffffff" d="M7 6.5h1M6 7.5h2"/>
</g></defs>
<use href="#qb" transform="translate(261 65) scale(1 1)"/>
<use href="#qb" transform="translate(261 65) scale(-1 1)"/>
<use href="#qb" transform="translate(261 65) scale(1 -1)"/>
<use href="#qb" transform="translate(261 65) scale(-1 -1)"/>
<rect x="203.5" y="7.5" width="116" height="115.7" fill="none" stroke="#000" stroke-width="1"/>
<path d="M204.2 123.2v-1.4M204.2 7.5v1.4M261 123.2v-1.4M261 7.5v1.4M318.3 123.2v-1.4M318.3 7.5v1.4M203.5 121.2h1.4M319.5 121.2h-1.4M203.5 93.2h1.4M319.5 93.2h-1.4M203.5 65.2h1.4M319.5 65.2h-1.4M203.5 37.2h1.4M319.5 37.2h-1.4M203.5 9.2h1.4M319.5 9.2h-1.4" stroke="#000" stroke-width=".8" fill="none"/>
<text x="203.1" y="134.2" font-size="8.8" text-anchor="middle" fill="#000" stroke="#000" stroke-width="0.25">-10</text>
<text x="260.4" y="134.2" font-size="8.8" text-anchor="middle" fill="#000" stroke="#000" stroke-width="0.25">0</text>
<text x="317.7" y="134.2" font-size="8.8" text-anchor="middle" fill="#000" stroke="#000" stroke-width="0.25">10</text>
<text x="199.6" y="124.5" font-size="8.8" text-anchor="end" fill="#000" stroke="#000" stroke-width="0.25">-10</text>
<text x="199.6" y="97.7" font-size="8.8" text-anchor="end" fill="#000" stroke="#000" stroke-width="0.25">-5</text>
<text x="199.6" y="69.9" font-size="8.8" text-anchor="end" fill="#000" stroke="#000" stroke-width="0.25">0</text>
<text x="199.6" y="42.6" font-size="8.8" text-anchor="end" fill="#000" stroke="#000" stroke-width="0.25">5</text>
<text x="199.6" y="15.2" font-size="8.8" text-anchor="end" fill="#000" stroke="#000" stroke-width="0.25">10</text>
<text x="173.8" y="11.09" font-size="11.8" text-anchor="start" fill="#000" stroke="#000" stroke-width="0.28">(b)</text>
<text x="186.79" y="66.4" font-size="11.8" text-anchor="middle" fill="#000" transform="rotate(-90 186.79 66.4)" stroke="#000" stroke-width="0.28">y (µm)</text>
<text x="263.3" y="144.79" font-size="11.8" text-anchor="middle" fill="#000" stroke="#000" stroke-width="0.28">x (µm)</text>
<rect x="356" y="7" width="205" height="116" fill="#0f0000"/>
<defs><g id="hc" shape-rendering="crispEdges" stroke-width="1" fill="none">
<path stroke="#190000" d="M15 0.5h1M36 0.5h1M51 0.5h1M127 0.5h5M162 0.5h20M28 1.5h1M39 1.5h2M50 1.5h2M62 1.5h3M115 1.5h11M7 2.5h1M53 2.5h1M62 2.5h3M83 2.5h1M102 2.5h2M47 3.5h2M52 3.5h1M62 3.5h1M66 3.5h1M95 3.5h4M108 3.5h16M18 4.5h1M25 4.5h1M32 4.5h1M47 4.5h1M53 4.5h1M97 4.5h4M108 4.5h17M35 5.5h1M37 5.5h1M48 5.5h1M50 5.5h5M58 5.5h1M64 5.5h4M80 5.5h1M84 5.5h1M105 5.5h3M24 6.5h2M35 6.5h1M38 6.5h2M51 6.5h4M68 6.5h1M71 6.5h2M78 6.5h2M86 6.5h2M105 6.5h3M123 6.5h12M39 7.5h1M42 7.5h1M53 7.5h2M60 7.5h4M65 7.5h6M73 7.5h3M86 7.5h3M99 7.5h6M123 7.5h18M19 8.5h1M41 8.5h2M54 8.5h2M70 8.5h2M79 8.5h5M104 8.5h4M128 8.5h13M19 9.5h2M26 9.5h1M31 9.5h2M45 9.5h6M55 9.5h3M63 9.5h2M74 9.5h1M77 9.5h2M103 9.5h5M15 10.5h1M26 10.5h1M44 10.5h1M52 10.5h1M56 10.5h1M64 10.5h12M78 10.5h2M91 10.5h2M97 10.5h7M138 10.5h10M14 11.5h2M25 11.5h1M31 11.5h2M42 11.5h1M44 11.5h1M49 11.5h1M54 11.5h2M58 11.5h2M63 11.5h2M68 11.5h2M83 11.5h8M95 11.5h3M109 11.5h3M136 11.5h7M151 11.5h10M13 12.5h1M17 12.5h1M23 12.5h1M27 12.5h1M32 12.5h1M34 12.5h1M50 12.5h1M56 12.5h2M60 12.5h2M67 12.5h2M71 12.5h2M84 12.5h3M113 12.5h3M138 12.5h6M161 12.5h8M16 13.5h2M23 13.5h2M50 13.5h1M69 13.5h7M82 13.5h2M87 13.5h2M113 13.5h2M141 13.5h9M164 13.5h8M16 14.5h1M49 14.5h3M53 14.5h2M58 14.5h4M66 14.5h3M70 14.5h3M77 14.5h1M87 14.5h2M93 14.5h13M116 14.5h3M129 14.5h44M12 15.5h1M14 15.5h2M19 15.5h1M31 15.5h1M48 15.5h1M57 15.5h1M59 15.5h2M65 15.5h2M75 15.5h2M79 15.5h2M90 15.5h1M98 15.5h8M126 15.5h8M141 15.5h8M11 16.5h1M30 16.5h4M47 16.5h1M56 16.5h1M62 16.5h8M79 16.5h1M84 16.5h1M91 16.5h1M98 16.5h2M146 16.5h7M1 17.5h1M13 17.5h3M48 17.5h1M76 17.5h4M88 17.5h6M100 17.5h2M144 17.5h12M62 18.5h1M65 18.5h2M70 18.5h7M90 18.5h2M97 18.5h3M102 18.5h3M114 18.5h5M140 18.5h19M24 19.5h2M32 19.5h2M35 19.5h1M80 19.5h2M92 19.5h2M104 19.5h6M114 19.5h3M126 19.5h2M140 19.5h23M26 20.5h1M31 20.5h1M37 20.5h1M48 20.5h1M82 20.5h1M87 20.5h2M92 20.5h5M109 20.5h11M132 20.5h38M12 21.5h1M21 21.5h1M25 21.5h1M28 21.5h1M32 21.5h2M37 21.5h1M45 21.5h3M55 21.5h2M71 21.5h2M85 21.5h1M89 21.5h1M99 21.5h2M113 21.5h4M119 21.5h2M135 21.5h41M25 22.5h2M29 22.5h2M32 22.5h3M39 22.5h1M54 22.5h2M58 22.5h5M72 22.5h1M90 22.5h2M102 22.5h4M115 22.5h2M137 22.5h45M7 23.5h1M30 23.5h1M34 23.5h1M54 23.5h2M61 23.5h1M64 23.5h1M93 23.5h2M104 23.5h2M110 23.5h8M141 23.5h9M151 23.5h36M26 24.5h1M31 24.5h5M43 24.5h2M61 24.5h1M69 24.5h1M75 24.5h2M95 24.5h4M106 24.5h1M147 24.5h43M4 25.5h1M11 25.5h1M35 25.5h4M44 25.5h1M47 25.5h1M71 25.5h1M80 25.5h9M96 25.5h2M102 25.5h6M154 25.5h14M177 25.5h14M17 26.5h1M33 26.5h3M38 26.5h1M46 26.5h1M48 26.5h1M75 26.5h1M91 26.5h2M97 26.5h2M119 26.5h5M135 26.5h8M30 27.5h1M51 27.5h1M54 27.5h1M77 27.5h2M91 27.5h9M119 27.5h10M136 27.5h4M145 27.5h4M21 28.5h2M40 28.5h2M47 28.5h1M53 28.5h5M64 28.5h1M75 28.5h4M91 28.5h10M121 28.5h3M130 28.5h3M137 28.5h4M151 28.5h3M18 29.5h2M27 29.5h1M41 29.5h2M62 29.5h1M73 29.5h1M77 29.5h4M93 29.5h9M112 29.5h3M123 29.5h3M133 29.5h4M139 29.5h5M156 29.5h3M32 30.5h2M38 30.5h2M42 30.5h2M75 30.5h1M84 30.5h1M93 30.5h9M113 30.5h5M126 30.5h2M137 30.5h10M159 30.5h4M23 31.5h1M29 31.5h1M39 31.5h1M42 31.5h5M74 31.5h1M76 31.5h1M87 31.5h1M94 31.5h7M116 31.5h5M128 31.5h3M140 31.5h10M162 31.5h4M20 32.5h1M24 32.5h1M45 32.5h7M88 32.5h1M95 32.5h3M101 32.5h2M118 32.5h5M131 32.5h3M143 32.5h4M149 32.5h5M165 32.5h4M31 33.5h1M39 33.5h1M41 33.5h1M47 33.5h3M52 33.5h1M68 33.5h1M72 33.5h4M79 33.5h1M90 33.5h1M97 33.5h1M104 33.5h2M121 33.5h4M134 33.5h3M145 33.5h4M153 33.5h5M167 33.5h5M8 34.5h1M32 34.5h1M39 34.5h2M43 34.5h4M51 34.5h1M54 34.5h2M58 34.5h1M70 34.5h1M73 34.5h4M81 34.5h1M91 34.5h3M97 34.5h2M108 34.5h1M138 34.5h3M147 34.5h5M158 34.5h5M169 34.5h5M24 35.5h1M31 35.5h4M38 35.5h2M46 35.5h3M54 35.5h4M65 35.5h1M71 35.5h4M78 35.5h2M82 35.5h2M95 35.5h6M111 35.5h1M118 35.5h7M141 35.5h5M149 35.5h5M162 35.5h14M23 36.5h2M30 36.5h1M33 36.5h1M45 36.5h1M51 36.5h3M58 36.5h2M64 36.5h4M72 36.5h1M76 36.5h1M80 36.5h2M85 36.5h1M99 36.5h4M114 36.5h8M124 36.5h5M145 36.5h11M167 36.5h11M13 37.5h1M27 37.5h1M33 37.5h1M48 37.5h1M54 37.5h3M64 37.5h1M73 37.5h1M77 37.5h2M82 37.5h1M88 37.5h3M101 37.5h2M104 37.5h2M117 37.5h5M129 37.5h3M149 37.5h8M173 37.5h7M23 38.5h1M28 38.5h1M30 38.5h1M49 38.5h2M55 38.5h4M66 38.5h1M75 38.5h1M79 38.5h1M84 38.5h1M90 38.5h8M100 38.5h3M108 38.5h2M119 38.5h5M133 38.5h2M155 38.5h2M22 39.5h2M30 39.5h2M51 39.5h1M55 39.5h1M59 39.5h1M67 39.5h2M70 39.5h4M77 39.5h1M80 39.5h1M87 39.5h1M90 39.5h3M100 39.5h3M112 39.5h1M120 39.5h7M136 39.5h2M9 40.5h1M22 40.5h1M32 40.5h2M52 40.5h1M60 40.5h1M69 40.5h1M72 40.5h1M75 40.5h1M79 40.5h3M90 40.5h2M104 40.5h1M113 40.5h10M127 40.5h3M138 40.5h3M22 41.5h1M34 41.5h1M58 41.5h1M61 41.5h3M66 41.5h3M70 41.5h1M74 41.5h1M77 41.5h1M82 41.5h2M107 41.5h1M113 41.5h2M120 41.5h4M130 41.5h4M140 41.5h3M35 42.5h2M43 42.5h2M46 42.5h1M49 42.5h1M55 42.5h1M60 42.5h1M62 42.5h6M70 42.5h1M72 42.5h2M77 42.5h2M84 42.5h3M111 42.5h4M124 42.5h3M132 42.5h13M25 43.5h2M35 43.5h1M37 43.5h1M44 43.5h1M52 43.5h1M62 43.5h1M64 43.5h5M72 43.5h1M75 43.5h1M79 43.5h1M86 43.5h1M88 43.5h1M128 43.5h18M26 44.5h2M31 44.5h1M39 44.5h1M42 44.5h1M64 44.5h1M70 44.5h1M78 44.5h5M88 44.5h1M91 44.5h1M140 44.5h6M12 45.5h1M18 45.5h1M27 45.5h1M30 45.5h1M56 45.5h1M59 45.5h1M66 45.5h1M72 45.5h1M77 45.5h1M81 45.5h5M90 45.5h1M103 45.5h1M144 45.5h3M11 46.5h3M32 46.5h2M60 46.5h1M68 46.5h2M74 46.5h1M88 46.5h1M92 46.5h1M96 46.5h1M105 46.5h3M148 46.5h2M10 47.5h1M16 47.5h1M33 47.5h2M38 47.5h2M42 47.5h1M61 47.5h1M71 47.5h3M76 47.5h1M82 47.5h1M91 47.5h5M99 47.5h1M107 47.5h2M111 47.5h1M124 47.5h3M151 47.5h2M20 48.5h1M24 48.5h3M40 48.5h3M45 48.5h2M52 48.5h1M54 48.5h1M76 48.5h1M79 48.5h1M84 48.5h1M94 48.5h4M102 48.5h2M109 48.5h2M115 48.5h2M126 48.5h1M129 48.5h2M154 48.5h2M1 49.5h1M11 49.5h1M21 49.5h1M53 49.5h1M69 49.5h2M78 49.5h1M81 49.5h1M86 49.5h1M90 49.5h2M97 49.5h5M106 49.5h1M112 49.5h2M119 49.5h2M127 49.5h2M134 49.5h2M157 49.5h2M2 50.5h1M50 50.5h1M59 50.5h1M70 50.5h1M73 50.5h3M80 50.5h1M83 50.5h1M88 50.5h1M91 50.5h2M94 50.5h1M100 50.5h1M103 50.5h2M109 50.5h2M115 50.5h2M124 50.5h3M128 50.5h3M138 50.5h4M160 50.5h2M0 51.5h1M19 51.5h1M28 51.5h1M33 51.5h2M40 51.5h1M45 51.5h2M50 51.5h3M71 51.5h1M76 51.5h2M82 51.5h1M85 51.5h1M89 51.5h1M93 51.5h1M97 51.5h1M102 51.5h1M106 51.5h2M113 51.5h2M119 51.5h2M128 51.5h5M144 51.5h4M163 51.5h2M6 52.5h3M14 52.5h1M28 52.5h2M34 52.5h2M46 52.5h3M50 52.5h1M52 52.5h1M55 52.5h3M60 52.5h1M67 52.5h3M72 52.5h1M80 52.5h1M84 52.5h1M88 52.5h3M94 52.5h1M99 52.5h1M104 52.5h1M110 52.5h1M116 52.5h1M123 52.5h2M133 52.5h3M149 52.5h3M165 52.5h2M7 53.5h1M12 53.5h3M17 53.5h1M34 53.5h1M40 53.5h2M47 53.5h2M51 53.5h1M57 53.5h2M61 53.5h1M72 53.5h2M82 53.5h4M90 53.5h3M96 53.5h1M102 53.5h1M106 53.5h1M112 53.5h1M118 53.5h2M127 53.5h1M135 53.5h7M154 53.5h2M168 53.5h2M182 53.5h3M4 54.5h2M8 54.5h1M13 54.5h1M17 54.5h2M22 54.5h1M26 54.5h1M49 54.5h4M54 54.5h1M58 54.5h2M83 54.5h4M98 54.5h1M104 54.5h1M108 54.5h1M115 54.5h1M121 54.5h2M130 54.5h2M138 54.5h9M157 54.5h3M170 54.5h2M184 54.5h5M6 55.5h1M9 55.5h2M18 55.5h1M23 55.5h2M26 55.5h1M36 55.5h1M51 55.5h6M64 55.5h1M77 55.5h2M84 55.5h4M100 55.5h1M106 55.5h1M110 55.5h1M118 55.5h1M124 55.5h1M134 55.5h1M140 55.5h2M148 55.5h4M160 55.5h5M171 55.5h3M186 55.5h7M5 56.5h1M7 56.5h1M9 56.5h1M11 56.5h1M24 56.5h1M43 56.5h1M54 56.5h1M56 56.5h2M66 56.5h1M71 56.5h1M79 56.5h2M84 56.5h2M88 56.5h2M102 56.5h1M107 56.5h1M112 56.5h1M120 56.5h1M126 56.5h2M137 56.5h1M142 56.5h2M153 56.5h4M163 56.5h13M189 56.5h8M11 57.5h2M18 57.5h1M25 57.5h1M44 57.5h1M55 57.5h1M58 57.5h1M68 57.5h1M72 57.5h4M80 57.5h3M85 57.5h1M90 57.5h1M104 57.5h1M109 57.5h1M114 57.5h1M122 57.5h2M129 57.5h1M139 57.5h2M144 57.5h2M157 57.5h20M192 57.5h8"/>
<path stroke="#220000" d="M21 0.5h1M24 0.5h1M34 0.5h2M37 0.5h1M49 0.5h2M52 0.5h1M124 0.5h3M8 1.5h1M25 1.5h3M38 1.5h1M41 1.5h1M52 1.5h1M61 1.5h1M65 1.5h1M102 1.5h13M0 2.5h1M25 2.5h1M49 2.5h1M54 2.5h1M59 2.5h3M65 2.5h5M81 2.5h2M84 2.5h2M100 2.5h2M0 3.5h1M3 3.5h2M36 3.5h2M45 3.5h2M53 3.5h1M91 3.5h4M37 4.5h1M54 4.5h1M62 4.5h1M80 4.5h5M95 4.5h2M17 5.5h1M25 5.5h1M33 5.5h2M79 5.5h1M85 5.5h1M104 5.5h1M40 6.5h1M50 6.5h1M60 6.5h1M67 6.5h1M73 6.5h5M88 6.5h1M103 6.5h2M3 7.5h1M9 7.5h1M52 7.5h1M64 7.5h1M89 7.5h10M20 8.5h1M38 8.5h1M43 8.5h1M52 8.5h2M56 8.5h3M67 8.5h3M84 8.5h2M101 8.5h3M7 9.5h1M14 9.5h1M51 9.5h4M65 9.5h2M73 9.5h1M79 9.5h1M100 9.5h3M22 10.5h1M25 10.5h1M27 10.5h1M43 10.5h1M53 10.5h3M80 10.5h1M89 10.5h2M12 11.5h1M22 11.5h1M45 11.5h1M48 11.5h1M56 11.5h2M65 11.5h3M98 11.5h2M106 11.5h3M143 11.5h8M9 12.5h1M16 12.5h1M22 12.5h1M35 12.5h1M58 12.5h2M69 12.5h2M87 12.5h11M111 12.5h2M144 12.5h17M25 13.5h2M35 13.5h2M76 13.5h6M89 13.5h3M95 13.5h8M111 13.5h2M150 13.5h14M15 14.5h1M37 14.5h1M52 14.5h1M69 14.5h1M78 14.5h1M86 14.5h1M106 14.5h2M113 14.5h3M0 15.5h1M21 15.5h1M30 15.5h1M47 15.5h1M49 15.5h1M56 15.5h1M61 15.5h4M67 15.5h2M89 15.5h1M106 15.5h2M123 15.5h3M134 15.5h7M1 16.5h1M19 16.5h1M34 16.5h1M48 16.5h1M70 16.5h2M78 16.5h1M85 16.5h2M89 16.5h2M100 16.5h2M132 16.5h14M12 17.5h1M16 17.5h1M54 17.5h1M102 17.5h1M136 17.5h8M26 18.5h2M34 18.5h2M41 18.5h1M46 18.5h1M49 18.5h1M61 18.5h1M67 18.5h3M92 18.5h5M105 18.5h2M111 18.5h3M119 18.5h2M137 18.5h3M23 19.5h1M26 19.5h1M28 19.5h4M36 19.5h2M48 19.5h2M78 19.5h2M94 19.5h1M102 19.5h2M110 19.5h4M128 19.5h3M136 19.5h4M9 20.5h1M16 20.5h1M21 20.5h1M24 20.5h2M27 20.5h1M30 20.5h1M38 20.5h1M47 20.5h1M49 20.5h1M74 20.5h3M81 20.5h1M89 20.5h3M97 20.5h1M107 20.5h2M9 21.5h1M11 21.5h1M18 21.5h1M29 21.5h1M39 21.5h1M48 21.5h1M54 21.5h1M57 21.5h4M70 21.5h1M73 21.5h2M90 21.5h1M97 21.5h2M101 21.5h1M111 21.5h2M2 22.5h1M7 22.5h1M27 22.5h2M31 22.5h1M35 22.5h1M38 22.5h1M52 22.5h1M56 22.5h2M71 22.5h1M73 22.5h1M89 22.5h1M92 22.5h1M101 22.5h1M106 22.5h2M113 22.5h2M27 23.5h1M35 23.5h1M60 23.5h1M65 23.5h1M73 23.5h2M92 23.5h1M95 23.5h1M103 23.5h1M150 23.5h1M12 24.5h1M28 24.5h1M30 24.5h1M36 24.5h1M56 24.5h2M60 24.5h1M70 24.5h2M73 24.5h2M77 24.5h1M94 24.5h1M99 24.5h1M105 24.5h1M33 25.5h2M52 25.5h1M70 25.5h1M89 25.5h1M18 26.5h1M36 26.5h2M47 26.5h1M74 26.5h1M93 26.5h4M17 27.5h1M21 27.5h1M35 27.5h2M38 27.5h1M45 27.5h1M62 27.5h1M76 27.5h1M140 27.5h5M58 28.5h1M62 28.5h1M74 28.5h1M124 28.5h6M141 28.5h4M147 28.5h4M12 29.5h1M20 29.5h2M32 29.5h1M48 29.5h1M61 29.5h1M63 29.5h2M72 29.5h1M126 29.5h2M130 29.5h3M144 29.5h2M153 29.5h3M2 30.5h1M22 30.5h1M29 30.5h1M37 30.5h1M40 30.5h2M44 30.5h1M56 30.5h1M72 30.5h1M76 30.5h1M83 30.5h1M128 30.5h2M134 30.5h3M147 30.5h3M156 30.5h3M19 31.5h3M34 31.5h1M40 31.5h2M47 31.5h1M73 31.5h1M86 31.5h1M131 31.5h2M137 31.5h3M150 31.5h3M159 31.5h3M6 32.5h1M17 32.5h2M31 32.5h3M44 32.5h1M52 32.5h1M68 32.5h2M74 32.5h1M78 32.5h1M98 32.5h3M134 32.5h3M140 32.5h3M154 32.5h5M160 32.5h5M14 33.5h1M25 33.5h1M40 33.5h1M42 33.5h1M46 33.5h1M50 33.5h2M55 33.5h1M67 33.5h1M80 33.5h1M89 33.5h1M98 33.5h2M103 33.5h1M137 33.5h8M158 33.5h9M26 34.5h1M31 34.5h1M52 34.5h2M59 34.5h3M69 34.5h1M90 34.5h1M99 34.5h2M107 34.5h1M141 34.5h6M163 34.5h6M17 35.5h1M22 35.5h1M30 35.5h1M37 35.5h1M40 35.5h1M44 35.5h2M70 35.5h1M75 35.5h3M92 35.5h3M101 35.5h1M110 35.5h1M146 35.5h3M22 36.5h1M25 36.5h1M34 36.5h1M44 36.5h1M46 36.5h1M68 36.5h2M71 36.5h1M77 36.5h3M86 36.5h2M97 36.5h2M103 36.5h1M113 36.5h1M122 36.5h2M7 37.5h1M24 37.5h1M26 37.5h1M28 37.5h1M32 37.5h1M34 37.5h1M46 37.5h1M53 37.5h1M65 37.5h8M79 37.5h3M91 37.5h6M98 37.5h3M106 37.5h1M116 37.5h1M122 37.5h7M31 38.5h1M40 38.5h2M54 38.5h1M67 38.5h8M80 38.5h1M83 38.5h1M98 38.5h2M110 38.5h1M117 38.5h2M124 38.5h3M130 38.5h3M24 39.5h1M32 39.5h1M44 39.5h2M52 39.5h1M69 39.5h1M74 39.5h3M86 39.5h1M93 39.5h7M113 39.5h7M127 39.5h2M133 39.5h3M23 40.5h1M53 40.5h1M56 40.5h1M70 40.5h2M76 40.5h1M78 40.5h1M82 40.5h1M89 40.5h1M92 40.5h2M102 40.5h2M130 40.5h3M135 40.5h3M4 41.5h1M35 41.5h1M46 41.5h2M52 41.5h1M54 41.5h1M71 41.5h3M81 41.5h1M84 41.5h1M93 41.5h1M106 41.5h1M115 41.5h5M134 41.5h6M4 42.5h1M22 42.5h1M34 42.5h1M37 42.5h1M42 42.5h1M45 42.5h1M50 42.5h1M52 42.5h1M68 42.5h2M74 42.5h3M79 42.5h1M83 42.5h1M110 42.5h1M115 42.5h2M122 42.5h2M8 43.5h1M27 43.5h1M31 43.5h1M36 43.5h1M39 43.5h2M51 43.5h1M57 43.5h1M61 43.5h1M69 43.5h1M76 43.5h3M80 43.5h1M85 43.5h1M114 43.5h3M127 43.5h1M28 44.5h1M43 44.5h1M53 44.5h1M58 44.5h1M63 44.5h1M74 44.5h1M83 44.5h1M100 44.5h2M117 44.5h2M131 44.5h9M8 45.5h4M32 45.5h2M40 45.5h1M86 45.5h1M89 45.5h1M94 45.5h1M102 45.5h1M104 45.5h2M119 45.5h3M142 45.5h2M14 46.5h2M18 46.5h2M34 46.5h1M37 46.5h1M58 46.5h1M79 46.5h1M89 46.5h3M97 46.5h1M104 46.5h1M108 46.5h1M121 46.5h4M146 46.5h2M11 47.5h1M19 47.5h1M35 47.5h2M43 47.5h1M51 47.5h1M60 47.5h1M70 47.5h1M77 47.5h1M81 47.5h1M100 47.5h1M106 47.5h1M112 47.5h1M123 47.5h1M127 47.5h2M150 47.5h1M10 48.5h1M18 48.5h2M34 48.5h1M47 48.5h1M68 48.5h1M72 48.5h4M83 48.5h1M104 48.5h1M108 48.5h1M125 48.5h1M131 48.5h2M153 48.5h1M15 49.5h1M26 49.5h1M71 49.5h4M85 49.5h1M107 49.5h5M121 49.5h1M126 49.5h1M136 49.5h2M156 49.5h1M0 50.5h1M15 50.5h2M32 50.5h2M38 50.5h2M43 50.5h1M54 50.5h1M76 50.5h1M84 50.5h1M87 50.5h1M93 50.5h1M101 50.5h2M111 50.5h4M127 50.5h1M142 50.5h4M159 50.5h1M7 51.5h1M27 51.5h1M31 51.5h2M53 51.5h1M55 51.5h1M60 51.5h1M66 51.5h2M78 51.5h1M81 51.5h1M86 51.5h3M94 51.5h3M103 51.5h3M115 51.5h4M148 51.5h2M161 51.5h2M5 52.5h1M15 52.5h1M20 52.5h1M27 52.5h1M30 52.5h4M51 52.5h1M70 52.5h2M81 52.5h3M95 52.5h1M105 52.5h1M109 52.5h1M117 52.5h6M152 52.5h2M164 52.5h1M2 53.5h1M9 53.5h1M15 53.5h1M18 53.5h1M25 53.5h2M32 53.5h2M52 53.5h2M67 53.5h1M97 53.5h1M101 53.5h1M120 53.5h1M126 53.5h1M156 53.5h2M166 53.5h2M7 54.5h1M48 54.5h1M53 54.5h1M63 54.5h1M68 54.5h1M99 54.5h1M103 54.5h1M109 54.5h1M114 54.5h1M123 54.5h1M129 54.5h1M160 54.5h3M167 54.5h3M7 55.5h1M25 55.5h1M41 55.5h1M50 55.5h1M69 55.5h1M101 55.5h1M105 55.5h1M111 55.5h1M117 55.5h1M125 55.5h1M133 55.5h1M142 55.5h6M165 55.5h6M18 56.5h1M37 56.5h1M53 56.5h1M55 56.5h1M70 56.5h1M86 56.5h2M103 56.5h1M106 56.5h1M113 56.5h1M119 56.5h1M136 56.5h1M144 56.5h2M150 56.5h3M7 57.5h1M16 57.5h1M38 57.5h1M42 57.5h1M46 57.5h1M54 57.5h1M56 57.5h2M69 57.5h1M71 57.5h1M86 57.5h1M105 57.5h1M108 57.5h1M115 57.5h1M130 57.5h1M138 57.5h1M146 57.5h2M154 57.5h3"/>
<path stroke="#2c0000" d="M4 0.5h1M7 0.5h1M38 0.5h1M46 0.5h3M53 0.5h1M62 0.5h3M97 0.5h4M121 0.5h3M29 1.5h1M37 1.5h1M49 1.5h1M60 1.5h1M66 1.5h1M100 1.5h2M55 2.5h4M70 2.5h2M79 2.5h2M86 2.5h1M99 2.5h1M5 3.5h1M33 3.5h3M38 3.5h1M43 3.5h2M54 3.5h1M61 3.5h1M67 3.5h1M88 3.5h3M12 4.5h1M27 4.5h1M33 4.5h1M46 4.5h1M66 4.5h1M85 4.5h2M93 4.5h2M18 5.5h1M38 5.5h1M47 5.5h1M59 5.5h1M63 5.5h1M68 5.5h1M86 5.5h1M102 5.5h2M1 6.5h1M23 6.5h1M26 6.5h1M49 6.5h1M61 6.5h1M66 6.5h1M89 6.5h2M101 6.5h2M16 7.5h1M43 7.5h1M16 8.5h1M44 8.5h1M51 8.5h1M59 8.5h8M86 8.5h2M99 8.5h2M15 9.5h2M27 9.5h1M30 9.5h1M44 9.5h1M67 9.5h1M72 9.5h1M93 9.5h7M23 10.5h1M81 10.5h1M88 10.5h1M21 11.5h1M26 11.5h1M33 11.5h1M46 11.5h2M100 11.5h6M14 12.5h2M18 12.5h1M49 12.5h1M98 12.5h2M110 12.5h1M13 13.5h1M37 13.5h1M49 13.5h1M92 13.5h3M103 13.5h8M17 14.5h1M108 14.5h5M9 15.5h1M11 15.5h1M24 15.5h1M32 15.5h1M69 15.5h1M74 15.5h1M81 15.5h1M88 15.5h1M108 15.5h1M122 15.5h1M4 16.5h1M13 16.5h2M23 16.5h1M55 16.5h1M72 16.5h1M77 16.5h1M87 16.5h2M102 16.5h7M130 16.5h2M11 17.5h1M19 17.5h1M24 17.5h2M46 17.5h1M49 17.5h1M103 17.5h2M108 17.5h6M134 17.5h2M36 18.5h1M40 18.5h1M42 18.5h1M56 18.5h3M60 18.5h1M107 18.5h4M121 18.5h2M135 18.5h2M27 19.5h1M38 19.5h2M47 19.5h1M73 19.5h5M95 19.5h1M101 19.5h1M131 19.5h5M5 20.5h2M11 20.5h1M13 20.5h1M15 20.5h1M22 20.5h2M72 20.5h2M77 20.5h4M98 20.5h1M106 20.5h1M2 21.5h1M31 21.5h1M34 21.5h1M36 21.5h1M49 21.5h5M61 21.5h1M69 21.5h1M75 21.5h2M84 21.5h1M91 21.5h1M96 21.5h1M102 21.5h2M110 21.5h1M1 22.5h1M63 22.5h1M70 22.5h1M74 22.5h1M88 22.5h1M93 22.5h1M100 22.5h1M108 22.5h5M41 23.5h1M56 23.5h1M72 23.5h1M75 23.5h1M96 23.5h1M4 24.5h1M11 24.5h1M23 24.5h1M58 24.5h2M72 24.5h1M78 24.5h1M100 24.5h5M10 25.5h1M12 25.5h1M18 25.5h1M24 25.5h1M26 25.5h3M32 25.5h1M48 25.5h1M51 25.5h1M59 25.5h2M95 25.5h1M4 26.5h1M8 26.5h1M14 26.5h1M24 26.5h1M32 26.5h1M40 26.5h1M53 26.5h1M5 27.5h2M15 27.5h1M19 27.5h2M34 27.5h1M37 27.5h1M75 27.5h1M15 28.5h2M31 28.5h1M39 28.5h1M46 28.5h1M145 28.5h2M0 29.5h1M28 29.5h1M55 29.5h1M128 29.5h2M146 29.5h7M5 30.5h1M19 30.5h1M50 30.5h1M55 30.5h1M57 30.5h1M82 30.5h1M130 30.5h4M150 30.5h6M2 31.5h1M5 31.5h1M38 31.5h1M57 31.5h2M77 31.5h1M85 31.5h1M133 31.5h4M153 31.5h6M19 32.5h1M23 32.5h1M34 32.5h3M40 32.5h1M67 32.5h1M70 32.5h1M87 32.5h1M137 32.5h3M159 32.5h1M45 33.5h1M88 33.5h1M100 33.5h3M13 34.5h1M41 34.5h2M62 34.5h1M82 34.5h1M89 34.5h1M101 34.5h1M105 34.5h2M0 35.5h1M8 35.5h2M29 35.5h1M35 35.5h1M41 35.5h1M66 35.5h1M84 35.5h1M91 35.5h1M102 35.5h1M109 35.5h1M35 36.5h1M38 36.5h1M47 36.5h1M50 36.5h1M70 36.5h1M88 36.5h2M91 36.5h6M104 36.5h1M112 36.5h1M12 37.5h1M25 37.5h1M29 37.5h1M97 37.5h1M107 37.5h1M115 37.5h1M21 38.5h1M24 38.5h1M35 38.5h1M51 38.5h1M81 38.5h2M111 38.5h1M116 38.5h1M127 38.5h3M29 39.5h1M43 39.5h1M50 39.5h1M53 39.5h2M81 39.5h1M85 39.5h1M129 39.5h4M10 40.5h1M14 40.5h2M45 40.5h2M54 40.5h2M77 40.5h1M94 40.5h1M101 40.5h1M133 40.5h2M3 41.5h1M8 41.5h1M18 41.5h1M21 41.5h1M33 41.5h1M57 41.5h1M78 41.5h1M80 41.5h1M92 41.5h1M94 41.5h1M8 42.5h1M19 42.5h1M21 42.5h1M23 42.5h1M40 42.5h2M51 42.5h1M56 42.5h1M59 42.5h1M95 42.5h2M109 42.5h1M117 42.5h1M120 42.5h2M7 43.5h1M19 43.5h1M22 43.5h1M24 43.5h1M30 43.5h1M70 43.5h2M81 43.5h1M89 43.5h1M97 43.5h2M113 43.5h1M117 43.5h1M125 43.5h2M2 44.5h1M11 44.5h1M25 44.5h1M32 44.5h1M36 44.5h1M40 44.5h2M71 44.5h1M87 44.5h1M99 44.5h1M102 44.5h1M116 44.5h1M119 44.5h1M129 44.5h2M3 45.5h1M13 45.5h1M17 45.5h1M31 45.5h1M43 45.5h1M60 45.5h1M65 45.5h1M73 45.5h1M76 45.5h1M87 45.5h2M101 45.5h1M118 45.5h1M122 45.5h1M133 45.5h9M4 46.5h1M10 46.5h1M38 46.5h1M41 46.5h1M67 46.5h1M75 46.5h1M78 46.5h1M103 46.5h1M109 46.5h1M125 46.5h1M144 46.5h2M2 47.5h1M17 47.5h1M37 47.5h1M45 47.5h1M69 47.5h1M101 47.5h1M105 47.5h1M113 47.5h1M122 47.5h1M129 47.5h1M148 47.5h2M0 48.5h1M11 48.5h1M35 48.5h3M55 48.5h1M62 48.5h1M67 48.5h1M69 48.5h3M80 48.5h1M105 48.5h3M117 48.5h1M124 48.5h1M133 48.5h1M152 48.5h1M2 49.5h1M10 49.5h1M12 49.5h1M19 49.5h2M27 49.5h1M37 49.5h2M49 49.5h1M58 49.5h1M68 49.5h1M75 49.5h1M77 49.5h1M82 49.5h1M122 49.5h4M138 49.5h6M155 49.5h1M1 50.5h1M20 50.5h1M22 50.5h1M27 50.5h1M31 50.5h1M65 50.5h1M69 50.5h1M77 50.5h1M79 50.5h1M85 50.5h2M146 50.5h2M158 50.5h1M8 51.5h1M18 51.5h1M20 51.5h1M29 51.5h1M44 51.5h1M54 51.5h1M70 51.5h1M79 51.5h2M150 51.5h2M160 51.5h1M17 52.5h1M19 52.5h1M39 52.5h1M41 52.5h1M45 52.5h1M61 52.5h1M66 52.5h1M96 52.5h3M106 52.5h3M154 52.5h2M162 52.5h2M16 53.5h1M21 53.5h1M29 53.5h1M36 53.5h1M46 53.5h1M62 53.5h1M98 53.5h1M100 53.5h1M107 53.5h1M111 53.5h1M121 53.5h5M158 53.5h3M163 53.5h3M6 54.5h1M10 54.5h1M33 54.5h2M100 54.5h3M113 54.5h1M124 54.5h1M128 54.5h1M163 54.5h4M8 55.5h1M13 55.5h2M17 55.5h1M27 55.5h1M37 55.5h1M49 55.5h1M65 55.5h1M102 55.5h3M116 55.5h1M126 55.5h1M132 55.5h1M8 56.5h1M14 56.5h3M27 56.5h1M34 56.5h1M46 56.5h1M51 56.5h2M67 56.5h1M104 56.5h2M128 56.5h1M135 56.5h1M146 56.5h4M15 57.5h1M24 57.5h1M35 57.5h1M45 57.5h1M48 57.5h1M70 57.5h1M87 57.5h3M106 57.5h2M121 57.5h1M131 57.5h1M148 57.5h1M152 57.5h2"/>
<path stroke="#350000" d="M33 0.5h1M39 0.5h1M65 0.5h1M96 0.5h1M101 0.5h2M119 0.5h2M53 1.5h1M98 1.5h2M8 2.5h1M72 2.5h2M78 2.5h1M87 2.5h1M98 2.5h1M39 3.5h1M41 3.5h2M55 3.5h1M85 3.5h3M13 4.5h1M17 4.5h1M19 4.5h1M36 4.5h1M38 4.5h1M55 4.5h1M79 4.5h1M87 4.5h6M5 5.5h1M60 5.5h3M78 5.5h1M87 5.5h1M101 5.5h1M9 6.5h1M17 6.5h1M22 6.5h1M34 6.5h1M41 6.5h1M62 6.5h1M65 6.5h1M91 6.5h2M99 6.5h2M1 7.5h1M15 7.5h1M38 7.5h1M51 7.5h1M18 8.5h1M21 8.5h2M45 8.5h1M50 8.5h1M88 8.5h2M98 8.5h1M10 9.5h1M17 9.5h2M25 9.5h1M33 9.5h1M68 9.5h4M80 9.5h1M89 9.5h4M7 10.5h1M32 10.5h3M82 10.5h2M87 10.5h1M3 11.5h1M16 11.5h1M28 12.5h1M36 12.5h1M100 12.5h1M108 12.5h2M5 13.5h1M34 13.5h1M11 14.5h1M20 14.5h2M24 14.5h1M34 14.5h1M36 14.5h1M48 14.5h1M79 14.5h1M85 14.5h1M13 15.5h1M16 15.5h1M22 15.5h2M25 15.5h1M38 15.5h1M55 15.5h1M70 15.5h4M82 15.5h1M109 15.5h1M120 15.5h2M3 16.5h1M10 16.5h1M46 16.5h1M73 16.5h4M109 16.5h2M128 16.5h2M2 17.5h2M29 17.5h1M53 17.5h1M105 17.5h3M114 17.5h2M132 17.5h2M25 18.5h1M45 18.5h1M55 18.5h1M59 18.5h1M123 18.5h1M133 18.5h2M22 19.5h1M50 19.5h1M65 19.5h2M72 19.5h1M96 19.5h5M12 20.5h1M28 20.5h1M50 20.5h1M70 20.5h2M99 20.5h1M105 20.5h1M30 21.5h1M35 21.5h1M44 21.5h1M77 21.5h1M92 21.5h1M95 21.5h1M104 21.5h1M108 21.5h2M8 22.5h2M19 22.5h1M22 22.5h1M24 22.5h1M40 22.5h1M75 22.5h1M99 22.5h1M6 23.5h1M25 23.5h1M29 23.5h1M42 23.5h1M53 23.5h1M59 23.5h1M66 23.5h1M91 23.5h1M102 23.5h1M3 24.5h1M7 24.5h1M29 24.5h1M37 24.5h1M55 24.5h1M79 24.5h2M93 24.5h1M17 25.5h1M19 25.5h2M25 25.5h1M58 25.5h1M61 25.5h1M69 25.5h1M90 25.5h1M94 25.5h1M1 26.5h1M5 26.5h1M15 26.5h1M30 26.5h1M44 26.5h1M73 26.5h1M16 27.5h1M31 27.5h1M47 27.5h1M50 27.5h1M17 28.5h1M19 28.5h1M28 28.5h1M59 28.5h1M61 28.5h1M73 28.5h1M1 29.5h1M13 29.5h1M17 29.5h1M26 29.5h1M40 29.5h1M49 29.5h1M54 29.5h1M60 29.5h1M65 29.5h1M13 30.5h1M23 30.5h1M51 30.5h1M77 30.5h1M81 30.5h1M17 31.5h1M24 31.5h1M48 31.5h1M52 31.5h2M56 31.5h1M59 31.5h1M2 32.5h1M29 32.5h1M39 32.5h1M43 32.5h1M53 32.5h1M66 32.5h1M71 32.5h1M73 32.5h1M37 33.5h1M43 33.5h2M56 33.5h1M66 33.5h1M38 34.5h1M68 34.5h1M88 34.5h1M102 34.5h3M16 35.5h1M21 35.5h1M28 35.5h1M36 35.5h1M42 35.5h2M67 35.5h1M69 35.5h1M85 35.5h1M89 35.5h2M103 35.5h1M108 35.5h1M8 36.5h1M11 36.5h1M43 36.5h1M48 36.5h2M90 36.5h1M105 36.5h1M111 36.5h1M21 37.5h3M30 37.5h2M35 37.5h1M45 37.5h1M49 37.5h1M52 37.5h1M108 37.5h1M114 37.5h1M1 38.5h1M25 38.5h1M27 38.5h1M39 38.5h1M44 38.5h1M48 38.5h1M53 38.5h1M112 38.5h4M8 39.5h2M42 39.5h1M82 39.5h1M16 40.5h1M31 40.5h1M51 40.5h1M83 40.5h1M88 40.5h1M95 40.5h1M100 40.5h1M5 41.5h2M19 41.5h2M48 41.5h1M55 41.5h2M79 41.5h1M91 41.5h1M95 41.5h1M105 41.5h1M24 42.5h1M30 42.5h1M38 42.5h2M80 42.5h3M87 42.5h1M94 42.5h1M97 42.5h1M118 42.5h2M14 43.5h1M23 43.5h1M48 43.5h1M50 43.5h1M58 43.5h1M60 43.5h1M82 43.5h1M84 43.5h1M99 43.5h1M112 43.5h1M118 43.5h2M124 43.5h1M7 44.5h2M38 44.5h1M59 44.5h1M62 44.5h1M72 44.5h2M84 44.5h3M92 44.5h1M115 44.5h1M120 44.5h1M128 44.5h1M2 45.5h1M55 45.5h1M95 45.5h1M106 45.5h1M132 45.5h1M31 46.5h1M42 46.5h1M61 46.5h1M66 46.5h1M76 46.5h1M98 46.5h1M120 46.5h1M126 46.5h1M135 46.5h9M40 47.5h1M52 47.5h1M62 47.5h1M66 47.5h3M78 47.5h1M80 47.5h1M102 47.5h3M114 47.5h1M130 47.5h1M138 47.5h3M147 47.5h1M1 48.5h1M23 48.5h1M63 48.5h1M82 48.5h1M118 48.5h1M123 48.5h1M134 48.5h9M151 48.5h1M13 49.5h2M63 49.5h2M76 49.5h1M83 49.5h2M144 49.5h2M154 49.5h1M18 50.5h2M34 50.5h1M51 50.5h1M66 50.5h1M78 50.5h1M148 50.5h2M156 50.5h2M1 51.5h1M16 51.5h2M35 51.5h1M65 51.5h1M68 51.5h2M152 51.5h2M159 51.5h1M156 52.5h6M20 53.5h1M27 53.5h2M31 53.5h1M66 53.5h1M99 53.5h1M108 53.5h3M161 53.5h2M12 54.5h1M19 54.5h1M21 54.5h1M23 54.5h1M28 54.5h1M42 54.5h1M47 54.5h1M67 54.5h1M110 54.5h1M112 54.5h1M125 54.5h3M4 55.5h1M11 55.5h1M16 55.5h1M28 55.5h1M34 55.5h2M68 55.5h1M112 55.5h1M115 55.5h1M127 55.5h1M130 55.5h2M47 56.5h1M50 56.5h1M68 56.5h2M114 56.5h1M118 56.5h1M129 56.5h1M134 56.5h1M5 57.5h1M34 57.5h1M51 57.5h3M116 57.5h1M120 57.5h1M137 57.5h1M149 57.5h3"/>
<path stroke="#3f0000" d="M40 0.5h1M45 0.5h1M61 0.5h1M95 0.5h1M103 0.5h2M117 0.5h2M36 1.5h1M59 1.5h1M67 1.5h1M81 1.5h1M97 1.5h1M40 2.5h1M74 2.5h4M88 2.5h1M97 2.5h1M7 3.5h2M16 3.5h1M23 3.5h1M40 3.5h1M60 3.5h1M68 3.5h1M76 3.5h9M6 4.5h1M61 4.5h1M4 5.5h1M29 5.5h1M100 5.5h1M2 6.5h2M21 6.5h1M63 6.5h2M93 6.5h6M0 7.5h1M10 7.5h2M17 8.5h1M31 8.5h1M46 8.5h1M48 8.5h2M90 8.5h2M96 8.5h2M21 9.5h1M36 9.5h1M81 9.5h1M88 9.5h1M24 10.5h1M28 10.5h1M31 10.5h1M84 10.5h3M30 11.5h1M34 11.5h1M41 11.5h1M21 12.5h1M25 12.5h1M37 12.5h1M48 12.5h1M101 12.5h3M106 12.5h2M15 13.5h1M18 13.5h1M27 13.5h1M10 14.5h1M25 14.5h1M35 14.5h1M38 14.5h1M80 14.5h1M84 14.5h1M8 15.5h1M18 15.5h1M33 15.5h1M50 15.5h1M87 15.5h1M110 15.5h2M119 15.5h1M20 16.5h1M24 16.5h1M35 16.5h1M111 16.5h1M127 16.5h1M0 17.5h1M18 17.5h1M33 17.5h2M41 17.5h1M116 17.5h1M131 17.5h1M4 18.5h1M19 18.5h1M23 18.5h2M28 18.5h1M33 18.5h1M39 18.5h1M43 18.5h1M124 18.5h2M131 18.5h2M13 19.5h1M64 19.5h1M67 19.5h1M70 19.5h2M8 20.5h1M17 20.5h1M29 20.5h1M39 20.5h1M46 20.5h1M68 20.5h2M100 20.5h2M103 20.5h2M13 21.5h1M19 21.5h2M22 21.5h1M83 21.5h1M93 21.5h2M105 21.5h3M20 22.5h2M23 22.5h1M36 22.5h2M64 22.5h1M94 22.5h1M17 23.5h2M28 23.5h1M57 23.5h2M71 23.5h1M76 23.5h1M97 23.5h1M101 23.5h1M20 24.5h1M22 24.5h1M25 24.5h1M45 24.5h1M81 24.5h4M5 25.5h1M8 25.5h1M29 25.5h1M31 25.5h1M39 25.5h1M49 25.5h2M53 25.5h1M91 25.5h3M13 26.5h1M25 26.5h1M31 26.5h1M60 26.5h2M27 27.5h1M41 27.5h1M55 27.5h1M61 27.5h1M1 28.5h1M10 28.5h2M38 28.5h1M52 28.5h1M60 28.5h1M65 28.5h1M16 29.5h1M43 29.5h1M56 29.5h1M71 29.5h1M1 30.5h1M21 30.5h1M30 30.5h1M71 30.5h1M78 30.5h1M80 30.5h1M49 31.5h3M54 31.5h2M84 31.5h1M21 32.5h1M41 32.5h1M65 32.5h1M72 32.5h1M79 32.5h1M86 32.5h1M6 33.5h1M30 33.5h1M81 33.5h1M87 33.5h1M1 34.5h1M20 34.5h3M25 34.5h1M33 34.5h1M63 34.5h1M83 34.5h1M25 35.5h1M68 35.5h1M86 35.5h3M104 35.5h1M107 35.5h1M4 36.5h1M9 36.5h2M29 36.5h1M37 36.5h1M39 36.5h1M106 36.5h1M110 36.5h1M6 37.5h1M11 37.5h1M39 37.5h1M44 37.5h1M109 37.5h1M112 37.5h2M5 38.5h1M34 38.5h1M42 38.5h1M52 38.5h1M7 39.5h1M25 39.5h1M83 39.5h2M2 40.5h1M6 40.5h1M21 40.5h1M96 40.5h4M23 41.5h1M85 41.5h1M96 41.5h1M5 42.5h1M20 42.5h1M25 42.5h2M57 42.5h2M108 42.5h1M1 43.5h1M20 43.5h1M45 43.5h1M47 43.5h1M49 43.5h1M59 43.5h1M83 43.5h1M96 43.5h1M100 43.5h1M120 43.5h1M123 43.5h1M10 44.5h1M19 44.5h1M29 44.5h1M44 44.5h1M60 44.5h2M98 44.5h1M103 44.5h1M121 44.5h1M127 44.5h1M19 45.5h1M36 45.5h2M41 45.5h1M61 45.5h4M74 45.5h2M100 45.5h1M117 45.5h1M123 45.5h1M131 45.5h1M3 46.5h1M35 46.5h1M44 46.5h1M64 46.5h2M77 46.5h1M99 46.5h1M102 46.5h1M110 46.5h1M119 46.5h1M127 46.5h1M134 46.5h1M3 47.5h1M20 47.5h1M41 47.5h1M44 47.5h1M46 47.5h1M65 47.5h1M79 47.5h1M121 47.5h1M131 47.5h1M135 47.5h3M141 47.5h6M2 48.5h1M5 48.5h1M9 48.5h1M38 48.5h2M51 48.5h1M56 48.5h1M66 48.5h1M81 48.5h1M119 48.5h4M143 48.5h2M149 48.5h2M4 49.5h1M25 49.5h1M41 49.5h1M146 49.5h2M152 49.5h2M3 50.5h1M13 50.5h1M26 50.5h1M28 50.5h1M53 50.5h1M60 50.5h1M64 50.5h1M150 50.5h2M155 50.5h1M5 51.5h2M14 51.5h1M30 51.5h1M61 51.5h1M154 51.5h5M16 52.5h1M24 52.5h1M30 53.5h1M14 54.5h2M25 54.5h1M64 54.5h1M111 54.5h1M19 55.5h1M22 55.5h1M33 55.5h1M66 55.5h1M113 55.5h2M128 55.5h2M23 56.5h1M44 56.5h1M115 56.5h3M130 56.5h4M117 57.5h3M132 57.5h1M136 57.5h1"/>
<path stroke="#490000" d="M41 0.5h1M44 0.5h1M66 0.5h1M105 0.5h2M114 0.5h3M6 1.5h1M54 1.5h1M79 1.5h2M82 1.5h2M96 1.5h1M9 2.5h1M26 2.5h1M29 2.5h1M39 2.5h1M41 2.5h1M48 2.5h1M89 2.5h1M96 2.5h1M17 3.5h1M26 3.5h2M32 3.5h1M56 3.5h1M69 3.5h1M74 3.5h2M14 4.5h1M24 4.5h1M56 4.5h1M78 4.5h1M7 5.5h1M26 5.5h1M28 5.5h1M32 5.5h1M88 5.5h1M99 5.5h1M0 6.5h1M7 6.5h1M42 6.5h1M48 6.5h1M4 7.5h1M44 7.5h1M50 7.5h1M3 8.5h1M15 8.5h1M47 8.5h1M92 8.5h4M34 9.5h2M37 9.5h1M82 9.5h2M86 9.5h2M30 10.5h1M42 10.5h1M11 11.5h1M13 11.5h1M8 12.5h1M11 12.5h1M19 12.5h1M31 12.5h1M44 12.5h2M104 12.5h2M2 13.5h1M10 13.5h1M12 13.5h1M0 14.5h1M23 14.5h1M33 14.5h1M81 14.5h1M83 14.5h1M29 15.5h1M39 15.5h1M46 15.5h1M54 15.5h1M83 15.5h2M86 15.5h1M112 15.5h2M116 15.5h3M5 16.5h1M29 16.5h1M54 16.5h1M112 16.5h1M126 16.5h1M30 17.5h1M32 17.5h1M42 17.5h1M117 17.5h1M130 17.5h1M18 18.5h1M37 18.5h2M44 18.5h1M50 18.5h1M54 18.5h1M126 18.5h5M5 19.5h1M40 19.5h1M68 19.5h2M7 20.5h1M14 20.5h1M18 20.5h1M20 20.5h1M51 20.5h2M67 20.5h1M102 20.5h1M0 21.5h2M10 21.5h1M24 21.5h1M40 21.5h1M62 21.5h1M68 21.5h1M78 21.5h1M69 22.5h1M76 22.5h1M87 22.5h1M95 22.5h1M97 22.5h2M3 23.5h1M13 23.5h1M36 23.5h1M67 23.5h1M70 23.5h1M77 23.5h1M98 23.5h3M8 24.5h1M9 25.5h1M23 25.5h1M62 25.5h2M68 25.5h1M6 26.5h1M12 26.5h1M23 26.5h1M26 26.5h1M29 26.5h1M63 27.5h1M74 27.5h1M20 28.5h1M26 28.5h1M37 28.5h1M72 28.5h1M22 29.5h1M38 29.5h2M59 29.5h1M66 29.5h1M18 30.5h1M20 30.5h1M28 30.5h1M31 30.5h1M45 30.5h1M49 30.5h1M54 30.5h1M64 30.5h1M79 30.5h1M1 31.5h1M16 31.5h1M60 31.5h1M72 31.5h1M7 32.5h1M22 32.5h1M25 32.5h1M37 32.5h1M42 32.5h1M54 32.5h1M64 32.5h1M1 33.5h1M19 33.5h3M32 33.5h1M57 33.5h1M67 34.5h1M84 34.5h1M87 34.5h1M27 35.5h1M105 35.5h2M12 36.5h1M26 36.5h1M36 36.5h1M42 36.5h1M107 36.5h3M36 37.5h1M51 37.5h1M110 37.5h2M6 38.5h1M26 38.5h1M38 38.5h1M43 38.5h1M45 38.5h1M21 39.5h1M41 39.5h1M46 39.5h1M87 40.5h1M43 41.5h1M45 41.5h1M51 41.5h1M104 41.5h1M93 42.5h1M98 42.5h1M28 43.5h1M46 43.5h1M90 43.5h1M111 43.5h1M121 43.5h2M20 44.5h1M23 44.5h2M35 44.5h1M37 44.5h1M114 44.5h1M122 44.5h1M126 44.5h1M4 45.5h1M26 45.5h1M44 45.5h1M96 45.5h1M107 45.5h1M124 45.5h1M130 45.5h1M16 46.5h1M36 46.5h1M62 46.5h2M100 46.5h2M128 46.5h1M132 46.5h2M1 47.5h1M5 47.5h1M9 47.5h1M18 47.5h1M22 47.5h1M50 47.5h1M115 47.5h1M120 47.5h1M132 47.5h3M12 48.5h1M17 48.5h1M61 48.5h1M145 48.5h4M35 49.5h2M52 49.5h1M65 49.5h1M148 49.5h4M14 50.5h1M17 50.5h1M52 50.5h1M67 50.5h2M152 50.5h3M23 51.5h1M26 51.5h1M12 52.5h1M18 52.5h1M44 52.5h1M62 52.5h1M65 52.5h1M45 53.5h1M63 53.5h1M32 54.5h1M43 55.5h1M46 55.5h1M48 55.5h1M67 55.5h1M45 56.5h1M9 57.5h1M28 57.5h1M133 57.5h3"/>
<path stroke="#520000" d="M25 0.5h1M27 0.5h2M42 0.5h2M54 0.5h1M94 0.5h1M107 0.5h7M24 1.5h1M35 1.5h1M42 1.5h1M55 1.5h1M58 1.5h1M68 1.5h1M78 1.5h1M84 1.5h1M95 1.5h1M6 2.5h1M15 2.5h2M28 2.5h1M38 2.5h1M42 2.5h1M90 2.5h2M93 2.5h3M2 3.5h1M57 3.5h1M59 3.5h1M70 3.5h1M72 3.5h2M34 4.5h2M45 4.5h1M16 5.5h1M46 5.5h1M69 5.5h1M77 5.5h1M89 5.5h1M98 5.5h1M6 6.5h1M10 6.5h1M32 8.5h1M43 9.5h1M84 9.5h2M13 10.5h1M29 10.5h1M35 10.5h1M35 11.5h1M20 12.5h1M26 12.5h1M38 12.5h1M43 12.5h1M46 12.5h2M1 13.5h1M11 13.5h1M22 13.5h1M38 13.5h1M48 13.5h1M14 14.5h1M18 14.5h2M22 14.5h1M82 14.5h1M1 15.5h1M51 15.5h1M85 15.5h1M114 15.5h2M0 16.5h1M18 16.5h1M49 16.5h1M113 16.5h1M125 16.5h1M4 17.5h1M28 17.5h1M45 17.5h1M50 17.5h1M52 17.5h1M118 17.5h1M129 17.5h1M20 18.5h1M63 19.5h1M1 20.5h1M58 20.5h2M79 21.5h1M82 21.5h1M51 22.5h1M77 22.5h1M96 22.5h1M19 23.5h1M21 23.5h2M40 23.5h1M68 23.5h2M90 23.5h1M2 24.5h1M9 24.5h2M24 24.5h1M42 24.5h1M54 24.5h1M85 24.5h1M92 24.5h1M7 25.5h1M30 25.5h1M64 25.5h1M22 26.5h1M72 26.5h1M0 27.5h2M7 27.5h1M11 27.5h1M28 27.5h2M33 27.5h1M42 28.5h1M37 29.5h1M70 29.5h1M3 30.5h1M7 30.5h1M52 30.5h1M58 30.5h1M65 30.5h1M6 31.5h2M18 31.5h1M66 31.5h2M78 31.5h1M38 32.5h1M62 32.5h2M85 32.5h1M24 33.5h1M65 33.5h1M82 33.5h1M86 33.5h1M0 34.5h1M9 34.5h1M14 34.5h1M64 34.5h1M85 34.5h2M13 36.5h1M20 36.5h2M5 37.5h1M10 37.5h1M50 37.5h1M20 38.5h1M32 38.5h1M36 38.5h1M26 39.5h1M36 39.5h1M11 40.5h1M13 40.5h1M34 40.5h1M47 40.5h1M84 40.5h1M44 41.5h1M90 41.5h1M97 41.5h1M103 41.5h1M27 42.5h1M88 42.5h1M5 43.5h2M9 43.5h1M21 43.5h1M95 43.5h1M101 43.5h1M12 44.5h1M14 44.5h1M18 44.5h1M21 44.5h2M30 44.5h1M93 44.5h1M97 44.5h1M104 44.5h1M123 44.5h3M15 45.5h1M42 45.5h1M99 45.5h1M116 45.5h1M125 45.5h1M128 45.5h2M2 46.5h1M20 46.5h1M45 46.5h1M57 46.5h1M111 46.5h1M118 46.5h1M129 46.5h3M4 47.5h1M15 47.5h1M21 47.5h1M23 47.5h1M59 47.5h1M63 47.5h2M116 47.5h1M119 47.5h1M3 48.5h1M21 48.5h1M64 48.5h1M67 49.5h1M30 50.5h1M35 50.5h1M38 51.5h1M41 51.5h1M43 51.5h1M13 52.5h1M11 53.5h1M65 53.5h1M40 54.5h1M46 54.5h1M65 54.5h2M0 55.5h1M15 55.5h1M20 55.5h1M45 55.5h1M12 56.5h1M41 56.5h1M49 56.5h1M21 57.5h1M50 57.5h1"/>
<path stroke="#5c0000" d="M10 0.5h1M60 0.5h1M67 0.5h1M7 1.5h1M9 1.5h1M30 1.5h1M33 1.5h2M48 1.5h1M56 1.5h2M77 1.5h1M85 1.5h1M94 1.5h1M20 2.5h1M24 2.5h1M92 2.5h1M6 3.5h1M58 3.5h1M71 3.5h1M7 4.5h1M60 4.5h1M67 4.5h1M2 5.5h1M39 5.5h1M90 5.5h1M96 5.5h2M8 6.5h1M43 6.5h1M2 7.5h1M23 7.5h2M37 7.5h1M9 8.5h1M30 8.5h1M37 8.5h1M13 9.5h1M28 9.5h2M21 10.5h1M10 12.5h1M33 13.5h1M10 15.5h1M17 15.5h1M52 15.5h2M114 16.5h1M124 16.5h1M17 17.5h1M31 17.5h1M51 17.5h1M119 17.5h2M127 17.5h2M14 18.5h1M14 19.5h1M46 19.5h1M51 19.5h1M57 19.5h2M0 20.5h1M10 20.5h1M53 20.5h1M3 21.5h1M8 21.5h1M43 21.5h1M80 21.5h2M65 22.5h1M78 23.5h1M86 24.5h1M21 25.5h1M65 25.5h3M2 26.5h1M7 26.5h1M16 26.5h1M19 26.5h1M21 26.5h1M3 27.5h2M22 27.5h1M32 27.5h1M73 27.5h1M0 28.5h1M36 28.5h1M48 28.5h1M2 29.5h1M33 29.5h1M47 29.5h1M57 29.5h2M67 29.5h1M0 30.5h1M12 30.5h1M14 30.5h1M24 30.5h1M53 30.5h1M63 30.5h1M66 30.5h1M70 30.5h1M25 31.5h1M28 31.5h1M65 31.5h1M68 31.5h1M83 31.5h1M0 32.5h1M8 32.5h1M55 32.5h2M60 32.5h2M18 33.5h1M58 33.5h2M85 33.5h1M24 34.5h1M30 34.5h1M65 34.5h2M18 35.5h1M26 35.5h1M3 36.5h1M18 36.5h2M40 37.5h1M43 37.5h1M8 38.5h1M37 38.5h1M13 39.5h2M28 39.5h1M40 39.5h1M7 40.5h2M44 40.5h1M85 40.5h2M17 41.5h1M36 41.5h1M42 41.5h1M49 41.5h1M86 41.5h1M98 41.5h1M102 41.5h1M18 42.5h1M92 42.5h1M99 42.5h1M107 42.5h1M18 43.5h1M34 43.5h1M45 44.5h1M14 45.5h1M39 45.5h1M97 45.5h2M126 45.5h2M9 46.5h1M30 46.5h1M43 46.5h1M12 47.5h2M53 47.5h1M117 47.5h2M57 48.5h1M65 48.5h1M39 49.5h1M59 49.5h1M66 49.5h1M9 50.5h1M21 50.5h1M37 50.5h1M40 50.5h1M42 50.5h1M15 51.5h1M62 51.5h1M64 51.5h1M4 52.5h1M9 52.5h1M21 52.5h1M42 52.5h2M63 52.5h2M19 53.5h1M42 53.5h1M44 53.5h1M64 53.5h1M16 54.5h1M29 54.5h2M37 54.5h1M45 54.5h1M47 55.5h1M19 56.5h2M33 56.5h1M35 56.5h2M38 56.5h1M48 56.5h1M8 57.5h1M14 57.5h1M33 57.5h1M49 57.5h1"/>
<path stroke="#650000" d="M14 0.5h1M93 0.5h1M32 1.5h1M69 1.5h1M86 1.5h1M93 1.5h1M12 2.5h1M27 2.5h1M37 2.5h1M19 3.5h1M39 4.5h1M57 4.5h1M91 5.5h5M18 6.5h1M47 6.5h1M8 7.5h1M45 7.5h1M49 7.5h1M0 8.5h1M11 8.5h1M38 9.5h1M8 10.5h1M16 10.5h1M4 11.5h1M17 11.5h1M27 11.5h1M39 12.5h1M42 12.5h1M9 14.5h1M47 14.5h1M34 15.5h1M53 16.5h1M115 16.5h1M122 16.5h2M35 17.5h1M43 17.5h1M121 17.5h1M125 17.5h2M22 18.5h1M51 18.5h1M59 19.5h1M62 19.5h1M4 20.5h1M40 20.5h1M45 20.5h1M54 20.5h1M60 20.5h1M66 20.5h1M5 21.5h1M17 21.5h1M63 21.5h1M67 21.5h1M68 22.5h1M78 22.5h1M43 23.5h1M79 23.5h1M53 24.5h1M91 24.5h1M6 25.5h1M43 25.5h1M57 25.5h1M27 26.5h1M54 26.5h1M62 26.5h1M48 27.5h2M15 29.5h1M36 29.5h1M68 29.5h2M15 30.5h1M61 31.5h1M71 31.5h1M16 32.5h1M57 32.5h3M80 32.5h1M13 33.5h1M16 33.5h1M60 33.5h1M64 33.5h1M83 33.5h2M4 34.5h1M7 34.5h1M10 34.5h1M23 34.5h1M40 36.5h2M38 37.5h1M0 39.5h1M27 39.5h1M7 41.5h1M9 41.5h1M29 41.5h1M50 41.5h1M89 41.5h1M99 41.5h1M101 41.5h1M7 42.5h1M91 43.5h1M94 43.5h1M110 43.5h1M9 44.5h1M15 44.5h1M52 44.5h1M94 44.5h1M96 44.5h1M113 44.5h1M7 45.5h1M16 45.5h1M108 45.5h1M5 46.5h1M29 46.5h1M40 46.5h1M49 46.5h2M112 46.5h1M117 46.5h1M48 48.5h1M31 49.5h2M34 49.5h1M7 50.5h1M11 50.5h1M29 50.5h1M42 51.5h1M1 52.5h1M25 52.5h2M36 52.5h1M1 53.5h1M10 53.5h1M22 53.5h1M11 54.5h1M24 54.5h1M29 55.5h1M32 56.5h1M13 57.5h1M19 57.5h1"/>
<path stroke="#6f0000" d="M9 0.5h1M55 0.5h1M68 0.5h1M31 1.5h1M76 1.5h1M87 1.5h1M92 1.5h1M2 2.5h1M36 2.5h1M1 3.5h1M20 3.5h1M4 4.5h1M58 4.5h2M77 4.5h1M12 5.5h1M30 5.5h1M70 5.5h1M20 6.5h1M27 6.5h1M14 7.5h1M21 7.5h1M23 8.5h1M6 9.5h1M22 9.5h1M24 9.5h1M6 10.5h1M11 10.5h1M9 11.5h2M36 11.5h1M40 11.5h1M4 12.5h1M39 13.5h1M26 14.5h1M26 15.5h1M2 16.5h1M16 16.5h1M22 16.5h1M39 16.5h1M116 16.5h3M120 16.5h2M23 17.5h1M26 17.5h1M44 17.5h1M122 17.5h3M13 18.5h1M21 18.5h1M29 18.5h1M53 18.5h1M4 19.5h1M21 19.5h1M56 19.5h1M60 19.5h2M19 20.5h1M57 20.5h1M23 21.5h1M41 21.5h1M66 22.5h2M79 22.5h1M86 22.5h1M4 23.5h1M12 23.5h1M80 23.5h1M89 23.5h1M52 24.5h1M87 24.5h1M3 26.5h1M7 28.5h1M23 28.5h1M30 28.5h1M71 28.5h1M25 29.5h1M31 29.5h1M8 30.5h1M11 30.5h1M36 30.5h1M62 30.5h1M67 30.5h1M9 31.5h1M64 31.5h1M69 31.5h2M79 31.5h1M82 31.5h1M5 32.5h1M84 32.5h1M4 33.5h1M61 33.5h1M11 34.5h2M15 34.5h1M17 34.5h1M37 34.5h1M1 35.5h1M10 35.5h1M20 35.5h1M7 36.5h1M28 36.5h1M3 37.5h2M37 37.5h1M9 38.5h1M33 38.5h1M46 38.5h2M5 39.5h1M12 39.5h1M33 39.5h1M49 39.5h1M50 40.5h1M38 41.5h2M87 41.5h2M100 41.5h1M29 42.5h1M89 42.5h1M91 42.5h1M100 42.5h1M106 42.5h1M29 43.5h1M92 43.5h1M102 43.5h1M95 44.5h1M105 44.5h1M54 45.5h1M115 45.5h1M39 46.5h1M113 46.5h1M8 47.5h1M32 47.5h1M4 48.5h1M6 48.5h1M22 48.5h1M27 48.5h1M3 49.5h1M9 49.5h1M22 49.5h1M24 49.5h1M28 49.5h1M40 49.5h1M50 49.5h1M62 49.5h1M8 50.5h1M12 50.5h1M61 50.5h1M63 50.5h1M21 51.5h1M63 51.5h1M0 52.5h1M11 52.5h1M43 53.5h1M31 54.5h1M44 54.5h1M31 55.5h1M44 55.5h1M21 56.5h1M28 56.5h2M32 57.5h1"/>
<path stroke="#790000" d="M59 0.5h1M69 0.5h1M92 0.5h1M70 1.5h1M75 1.5h1M88 1.5h4M35 2.5h1M43 2.5h1M47 2.5h1M9 3.5h1M31 4.5h1M13 5.5h1M27 5.5h1M31 5.5h1M76 5.5h1M33 6.5h1M44 6.5h1M20 7.5h1M46 7.5h1M48 7.5h1M33 8.5h1M8 9.5h1M12 9.5h1M42 9.5h1M20 10.5h1M36 10.5h1M41 10.5h1M40 12.5h2M6 13.5h1M14 13.5h1M1 14.5h1M37 15.5h1M21 16.5h1M40 16.5h1M119 16.5h1M40 17.5h1M0 18.5h1M7 18.5h1M17 18.5h1M32 18.5h1M52 18.5h1M41 19.5h1M55 20.5h2M42 21.5h1M12 22.5h1M18 22.5h1M41 22.5h1M5 23.5h1M8 23.5h1M20 23.5h1M52 23.5h1M81 23.5h1M1 24.5h1M13 24.5h1M19 24.5h1M21 24.5h1M88 24.5h3M3 25.5h1M16 25.5h1M54 25.5h1M28 26.5h1M59 26.5h1M71 26.5h1M44 27.5h1M56 27.5h1M60 27.5h1M32 28.5h1M66 28.5h1M14 29.5h1M53 29.5h1M6 30.5h1M25 30.5h1M46 30.5h1M48 30.5h1M59 30.5h1M68 30.5h2M8 31.5h1M35 31.5h1M37 31.5h1M62 31.5h2M80 31.5h2M1 32.5h1M81 32.5h1M8 33.5h1M62 33.5h2M2 35.5h1M0 36.5h1M27 36.5h1M8 37.5h2M15 39.5h1M12 40.5h1M24 40.5h2M37 40.5h1M43 40.5h1M24 41.5h1M90 42.5h1M105 42.5h1M13 43.5h1M93 43.5h1M109 43.5h1M3 44.5h1M6 44.5h1M13 44.5h1M112 44.5h1M34 45.5h1M109 45.5h1M17 46.5h1M51 46.5h1M56 46.5h1M114 46.5h3M6 47.5h2M14 47.5h1M8 48.5h1M14 48.5h1M16 49.5h3M33 49.5h1M10 50.5h1M25 50.5h1M36 50.5h1M41 50.5h1M4 51.5h1M36 51.5h1M39 53.5h1M3 54.5h1M20 54.5h1M43 54.5h1M12 55.5h1M30 55.5h1M32 55.5h1M13 56.5h1M31 56.5h1M22 57.5h1M37 57.5h1"/>
<path stroke="#820000" d="M16 0.5h1M22 0.5h2M32 0.5h1M71 1.5h4M19 2.5h1M21 2.5h1M30 2.5h1M18 3.5h1M22 3.5h1M1 4.5h1M23 4.5h1M44 4.5h1M3 5.5h1M11 5.5h1M19 5.5h1M21 5.5h1M24 5.5h1M45 5.5h1M45 6.5h2M22 7.5h1M25 7.5h1M47 7.5h1M5 8.5h2M25 8.5h1M23 9.5h1M2 10.5h1M10 10.5h1M29 11.5h1M37 11.5h1M40 13.5h1M47 13.5h1M8 14.5h1M12 14.5h1M39 14.5h1M28 15.5h1M36 16.5h1M50 16.5h1M52 16.5h1M5 17.5h1M20 17.5h1M8 19.5h1M41 20.5h1M61 20.5h1M65 20.5h1M16 21.5h1M64 21.5h1M66 21.5h1M0 22.5h1M80 22.5h1M85 22.5h1M37 23.5h1M82 23.5h1M17 24.5h1M51 24.5h1M0 26.5h1M9 26.5h1M20 26.5h1M41 26.5h1M2 27.5h1M26 27.5h1M72 27.5h1M6 28.5h1M35 28.5h1M45 28.5h1M10 29.5h1M23 29.5h1M4 30.5h1M27 30.5h1M34 30.5h1M0 31.5h1M11 31.5h1M26 31.5h1M3 32.5h1M82 32.5h2M0 33.5h1M3 33.5h1M7 33.5h1M19 34.5h1M27 34.5h1M11 35.5h1M2 38.5h2M1 39.5h1M20 39.5h1M0 40.5h1M28 40.5h1M30 40.5h1M42 40.5h1M48 40.5h1M32 41.5h1M3 42.5h1M101 42.5h2M104 42.5h1M103 43.5h1M0 44.5h1M17 44.5h1M46 44.5h1M106 44.5h1M38 45.5h1M45 45.5h1M114 45.5h1M1 46.5h1M54 47.5h1M58 47.5h1M16 48.5h1M33 48.5h1M58 48.5h1M60 48.5h1M5 49.5h1M51 49.5h1M62 50.5h1M9 51.5h1M13 51.5h1M10 52.5h1M23 57.5h1M30 57.5h1M39 57.5h1"/>
<path stroke="#8c0000" d="M26 0.5h1M56 0.5h1M58 0.5h1M70 0.5h1M91 0.5h1M12 1.5h1M17 2.5h1M34 2.5h1M12 3.5h1M16 4.5h1M20 5.5h1M40 5.5h1M71 5.5h1M75 5.5h1M5 7.5h1M12 7.5h2M36 7.5h1M8 8.5h1M14 8.5h1M24 8.5h1M0 9.5h1M4 9.5h1M39 9.5h1M38 11.5h2M29 12.5h2M17 16.5h1M51 16.5h1M27 17.5h1M15 18.5h1M12 19.5h1M18 19.5h1M45 19.5h1M52 19.5h1M44 20.5h1M4 21.5h1M15 21.5h1M65 21.5h1M50 22.5h1M9 23.5h1M16 23.5h1M24 23.5h1M88 23.5h1M18 24.5h1M38 24.5h1M46 24.5h1M14 25.5h1M56 25.5h1M11 26.5h1M42 27.5h1M64 27.5h1M29 28.5h1M44 29.5h1M50 29.5h1M16 30.5h1M47 30.5h1M60 30.5h2M27 31.5h1M15 33.5h1M33 33.5h1M36 33.5h1M2 34.5h1M5 34.5h1M34 34.5h1M5 35.5h1M17 36.5h1M14 37.5h1M4 38.5h1M10 38.5h1M6 39.5h1M10 39.5h1M35 39.5h1M37 39.5h1M39 39.5h1M47 39.5h1M5 40.5h1M26 40.5h2M16 41.5h1M37 41.5h1M33 42.5h1M103 42.5h1M104 43.5h1M108 43.5h1M48 44.5h1M111 44.5h1M110 45.5h1M113 45.5h1M48 46.5h1M49 47.5h1M55 47.5h1M7 48.5h1M60 49.5h1M4 50.5h1M23 50.5h1M2 51.5h1M24 53.5h1M21 55.5h1M38 55.5h1M40 55.5h1M30 56.5h1M20 57.5h1M31 57.5h1M41 57.5h1"/>
<path stroke="#950000" d="M57 0.5h1M71 0.5h2M0 1.5h1M23 1.5h1M43 1.5h1M10 2.5h2M44 2.5h1M46 2.5h1M24 3.5h1M31 3.5h1M11 4.5h1M40 4.5h1M68 4.5h1M76 4.5h1M1 5.5h1M16 6.5h1M29 7.5h3M12 8.5h2M29 8.5h1M36 8.5h1M11 9.5h1M40 9.5h2M1 10.5h1M3 10.5h2M17 10.5h1M19 10.5h1M28 11.5h1M0 13.5h1M3 13.5h1M2 14.5h1M27 15.5h1M35 15.5h1M28 16.5h1M38 16.5h1M10 17.5h1M3 18.5h1M5 18.5h1M30 18.5h2M3 19.5h1M6 19.5h1M19 19.5h1M55 19.5h1M62 20.5h1M64 20.5h1M6 21.5h1M3 22.5h1M10 22.5h2M81 22.5h1M84 22.5h1M2 23.5h1M15 23.5h1M39 23.5h1M83 23.5h1M0 24.5h1M2 25.5h1M22 25.5h1M55 25.5h1M43 26.5h1M70 26.5h1M2 28.5h1M51 28.5h1M70 28.5h1M24 29.5h1M29 29.5h1M35 29.5h1M17 30.5h1M26 30.5h1M17 33.5h1M16 34.5h1M3 35.5h1M12 35.5h1M15 35.5h1M41 37.5h2M14 38.5h1M11 39.5h1M41 40.5h1M49 40.5h1M15 41.5h1M26 41.5h1M41 41.5h1M0 42.5h1M28 42.5h1M105 43.5h1M107 43.5h1M47 44.5h1M49 44.5h1M107 44.5h1M110 44.5h1M35 45.5h1M46 45.5h2M111 45.5h2M21 46.5h1M28 46.5h1M47 47.5h1M56 47.5h2M13 48.5h1M50 48.5h1M6 49.5h1M30 49.5h1M61 49.5h1M6 50.5h1M3 51.5h1M24 51.5h1M37 51.5h1M38 52.5h1M37 53.5h1M4 56.5h1M22 56.5h1M0 57.5h1M36 57.5h1"/>
<path stroke="#9f0000" d="M20 0.5h1M73 0.5h2M3 1.5h1M47 1.5h1M1 2.5h1M22 2.5h2M45 2.5h1M13 3.5h1M10 4.5h1M22 4.5h1M6 5.5h1M72 5.5h3M28 6.5h1M7 7.5h1M26 7.5h1M28 7.5h1M34 8.5h1M0 10.5h1M37 10.5h1M6 12.5h1M4 13.5h1M19 13.5h1M28 13.5h1M13 14.5h1M27 14.5h3M32 14.5h1M3 15.5h1M45 15.5h1M6 16.5h1M45 16.5h1M36 17.5h1M20 19.5h1M42 19.5h1M53 19.5h2M3 20.5h1M42 20.5h2M63 20.5h1M82 22.5h2M14 23.5h1M23 23.5h1M84 23.5h1M87 23.5h1M16 24.5h1M13 25.5h1M63 26.5h1M12 27.5h1M14 27.5h1M71 27.5h1M14 28.5h1M43 28.5h1M11 29.5h1M4 31.5h1M12 31.5h1M15 31.5h1M13 32.5h1M22 33.5h2M6 34.5h1M20 37.5h1M4 39.5h1M48 39.5h1M3 40.5h1M29 40.5h1M28 41.5h1M40 41.5h1M6 42.5h1M31 42.5h1M32 43.5h1M106 43.5h1M33 44.5h1M51 44.5h1M108 44.5h2M20 45.5h1M25 45.5h1M48 45.5h2M46 46.5h1M55 46.5h1M24 47.5h1M59 48.5h1M29 49.5h1M10 51.5h1M22 51.5h1M2 52.5h2M29 57.5h1"/>
<path stroke="#a90000" d="M8 0.5h1M75 0.5h1M90 0.5h1M10 1.5h1M15 1.5h1M33 2.5h1M25 3.5h1M43 4.5h1M41 5.5h1M44 5.5h1M4 6.5h2M19 6.5h1M27 7.5h1M32 7.5h1M4 8.5h1M26 8.5h1M35 8.5h1M40 10.5h1M20 11.5h1M7 12.5h1M41 13.5h1M46 13.5h1M3 14.5h1M46 14.5h1M36 15.5h1M40 15.5h1M37 16.5h1M16 18.5h1M14 21.5h1M4 22.5h1M6 22.5h1M42 22.5h1M47 22.5h1M49 22.5h1M10 23.5h1M44 23.5h1M85 23.5h2M6 24.5h1M50 24.5h1M15 25.5h1M10 26.5h1M43 27.5h1M25 28.5h1M67 28.5h1M34 29.5h1M46 29.5h1M36 31.5h1M4 32.5h1M2 33.5h1M36 34.5h1M6 36.5h1M7 38.5h1M13 38.5h1M1 40.5h1M38 40.5h1M25 41.5h1M10 43.5h1M16 44.5h1M50 44.5h1M50 45.5h1M52 46.5h1M25 47.5h1M15 48.5h1M49 48.5h1M0 49.5h1M25 51.5h1M37 52.5h1M0 53.5h1M40 56.5h1"/>
<path stroke="#b20000" d="M76 0.5h1M5 2.5h1M18 2.5h1M31 2.5h1M11 3.5h1M15 3.5h1M21 3.5h1M15 4.5h1M20 4.5h1M41 4.5h1M75 4.5h1M32 6.5h1M35 7.5h1M5 10.5h1M18 10.5h1M21 13.5h1M32 13.5h1M6 17.5h1M12 18.5h1M15 19.5h1M44 19.5h1M2 20.5h1M46 22.5h1M48 22.5h1M11 23.5h1M38 23.5h1M51 23.5h1M40 25.5h1M55 26.5h1M69 26.5h1M57 27.5h1M59 27.5h1M34 28.5h1M44 28.5h1M49 28.5h1M69 28.5h1M6 29.5h1M45 29.5h1M52 29.5h1M35 30.5h1M15 32.5h1M26 32.5h1M5 33.5h1M34 33.5h2M3 34.5h1M29 34.5h1M35 34.5h1M19 35.5h1M5 36.5h1M34 39.5h1M38 39.5h1M17 40.5h1M35 40.5h2M1 41.5h2M2 42.5h1M9 42.5h1M4 43.5h1M34 44.5h1M6 45.5h1M21 45.5h1M53 45.5h1M47 46.5h1M23 49.5h1M11 51.5h2M22 52.5h2M23 53.5h1M0 54.5h1M38 54.5h2M2 55.5h1M39 55.5h1M39 56.5h1"/>
<path stroke="#bc0000" d="M17 0.5h1M77 0.5h1M89 0.5h1M3 2.5h1M32 2.5h1M21 4.5h1M28 4.5h1M42 4.5h1M69 4.5h1M15 5.5h1M42 5.5h2M15 6.5h1M29 6.5h1M6 7.5h1M33 7.5h2M7 8.5h1M9 10.5h1M38 10.5h1M2 11.5h1M5 12.5h1M40 14.5h1M2 15.5h1M22 17.5h1M39 17.5h1M6 18.5h1M17 19.5h1M43 19.5h1M45 22.5h1M0 23.5h1M41 24.5h1M42 26.5h1M58 26.5h1M70 27.5h1M24 28.5h1M33 28.5h1M50 28.5h1M68 28.5h1M51 29.5h1M10 31.5h1M13 31.5h1M9 32.5h1M28 32.5h1M26 33.5h1M4 35.5h1M13 35.5h1M2 36.5h1M0 38.5h1M11 38.5h2M2 39.5h1M27 41.5h1M30 41.5h1M17 42.5h1M15 43.5h1M17 43.5h1M33 43.5h1M1 45.5h1M22 46.5h1M27 46.5h1M54 46.5h1M26 47.5h1M31 47.5h1M48 47.5h1M31 48.5h1M8 49.5h1M38 53.5h1M3 55.5h1M1 57.5h1"/>
<path stroke="#c50000" d="M1 0.5h1M5 0.5h1M29 0.5h1M78 0.5h1M88 0.5h1M2 1.5h1M11 1.5h1M44 1.5h1M46 1.5h1M14 2.5h1M10 3.5h1M28 3.5h1M3 4.5h1M0 5.5h1M8 5.5h1M30 6.5h1M19 7.5h1M10 8.5h1M28 8.5h1M5 9.5h1M9 9.5h1M12 10.5h1M39 10.5h1M18 11.5h1M42 13.5h1M7 14.5h1M30 14.5h1M41 16.5h1M9 17.5h1M21 17.5h1M7 21.5h1M43 22.5h2M1 23.5h1M47 24.5h1M42 25.5h1M64 26.5h1M68 26.5h1M25 27.5h1M58 27.5h1M65 27.5h1M30 29.5h1M10 30.5h1M14 31.5h1M14 32.5h1M14 35.5h1M3 39.5h1M4 40.5h1M40 40.5h1M13 42.5h1M1 44.5h1M24 45.5h1M53 46.5h1M0 47.5h1M30 47.5h1M32 48.5h1M5 50.5h1M24 50.5h1M2 54.5h1M40 57.5h1"/>
<path stroke="#cf0000" d="M2 0.5h1M79 0.5h1M87 0.5h1M22 1.5h1M45 1.5h1M14 3.5h1M2 4.5h1M74 4.5h1M14 5.5h1M22 5.5h1M11 6.5h1M31 6.5h1M17 7.5h1M2 8.5h1M27 8.5h1M9 13.5h1M20 13.5h1M45 13.5h1M31 14.5h1M45 14.5h1M7 15.5h1M9 16.5h1M37 17.5h1M1 18.5h1M9 19.5h1M11 19.5h1M5 22.5h1M17 22.5h1M50 23.5h1M5 24.5h1M49 24.5h1M1 25.5h1M65 26.5h1M67 26.5h1M8 27.5h1M10 27.5h1M13 27.5h1M23 27.5h1M4 28.5h2M12 28.5h1M3 29.5h1M9 30.5h1M3 31.5h1M12 32.5h1M18 34.5h1M28 34.5h1M16 36.5h1M19 38.5h1M20 40.5h1M32 42.5h1M5 45.5h1M22 45.5h1M51 45.5h1M8 46.5h1M30 48.5h1M1 55.5h1"/>
<path stroke="#d90000" d="M18 0.5h1M31 0.5h1M80 0.5h2M86 0.5h1M13 2.5h1M8 4.5h1M70 4.5h1M73 4.5h1M12 6.5h1M2 12.5h1M43 13.5h2M41 14.5h1M4 15.5h1M27 16.5h1M38 17.5h1M2 18.5h1M8 18.5h1M2 19.5h1M7 19.5h1M45 23.5h1M39 24.5h1M0 25.5h1M41 25.5h1M56 26.5h2M66 26.5h1M69 27.5h1M29 33.5h1M1 36.5h1M39 40.5h1M14 41.5h1M31 41.5h1M1 42.5h1M16 42.5h1M0 43.5h1M2 43.5h1M0 45.5h1M23 45.5h1M52 45.5h1M6 46.5h1M0 56.5h1"/>
<path stroke="#e20000" d="M3 0.5h1M82 0.5h4M16 1.5h1M4 2.5h1M30 3.5h1M71 4.5h2M10 5.5h1M23 5.5h1M1 8.5h1M0 12.5h1M3 12.5h1M5 14.5h1M44 14.5h1M44 15.5h1M44 16.5h1M7 17.5h2M16 19.5h1M49 23.5h1M14 24.5h2M48 24.5h1M24 27.5h1M66 27.5h1M68 27.5h1M9 29.5h1M11 32.5h1M27 32.5h1M7 35.5h1M14 36.5h2M2 37.5h1M19 37.5h1M18 40.5h1M12 41.5h2M14 42.5h1M16 43.5h1M5 44.5h1M26 46.5h1M29 47.5h1M28 48.5h1M7 49.5h1M3 56.5h1M4 57.5h1"/>
<path stroke="#ec0000" d="M19 0.5h1M30 0.5h1M5 1.5h1M20 1.5h2M29 3.5h1M0 4.5h1M30 4.5h1M9 5.5h1M18 7.5h1M1 9.5h1M0 11.5h2M8 11.5h1M19 11.5h1M8 13.5h1M42 14.5h2M41 15.5h1M7 16.5h1M42 16.5h1M0 19.5h2M10 19.5h1M13 22.5h1M16 22.5h1M46 23.5h1M48 23.5h1M40 24.5h1M67 27.5h1M3 28.5h1M9 28.5h1M13 28.5h1M5 29.5h1M0 37.5h2M19 40.5h1M10 41.5h1M11 43.5h2M0 46.5h1M7 46.5h1M23 46.5h1M25 46.5h1M27 47.5h1M29 48.5h1M3 57.5h1"/>
<path stroke="#f50000" d="M4 1.5h1M13 1.5h2M19 1.5h1M9 4.5h1M29 4.5h1M7 11.5h1M29 13.5h1M31 13.5h1M4 14.5h1M6 14.5h1M8 16.5h1M43 16.5h1M14 22.5h2M47 23.5h1M9 27.5h1M7 29.5h2M6 35.5h1M0 41.5h1M11 41.5h1M15 42.5h1M4 44.5h1M24 46.5h1M28 47.5h1M2 56.5h1M2 57.5h1"/>
<path stroke="#ff0000" d="M6 0.5h1M1 1.5h1M14 6.5h1M5 11.5h2M7 13.5h1M42 15.5h2M9 18.5h1M10 32.5h1M27 33.5h1M16 39.5h1M19 39.5h1M12 42.5h1M3 43.5h1M1 54.5h1M1 56.5h1"/>
<path stroke="#ff1f00" d="M0 0.5h1M13 6.5h1M1 12.5h1M30 13.5h1M6 15.5h1M11 18.5h1M8 28.5h1M4 29.5h1M9 33.5h1M28 33.5h1M15 38.5h1M10 42.5h1"/>
<path stroke="#ff4a00" d="M11 0.5h3M17 1.5h2M5 15.5h1M10 18.5h1M10 33.5h1M15 37.5h4M16 38.5h3M17 39.5h2M11 42.5h1"/>
<path stroke="#ffa200" d="M3 9.5h1M26 16.5h1M12 33.5h1"/>
<path stroke="#ffffbd" d="M2 9.5h1M25 16.5h1M11 33.5h1"/>
</g></defs>
<use href="#hc" transform="translate(356 65)"/>
<use href="#hc" transform="translate(356 65) scale(1 -1)"/>
<rect x="356" y="7.5" width="205.6" height="116" fill="none" stroke="#000" stroke-width="1"/>
<path d="M396.9 123.5v-1.4M396.9 7.5v1.4M436.8 123.5v-1.4M436.8 7.5v1.4M476.7 123.5v-1.4M476.7 7.5v1.4M516.6 123.5v-1.4M516.6 7.5v1.4M556.5 123.5v-1.4M556.5 7.5v1.4M356 121.2h1.4M561.6 121.2h-1.4M356 65.2h1.4M561.6 65.2h-1.4M356 9.2h1.4M561.6 9.2h-1.4" stroke="#000" stroke-width=".8" fill="none"/>
<path d="M440.8 8v115.5" stroke="#fff" stroke-width="1.6" stroke-dasharray="4.2 2.6" fill="none"/>
<text x="357" y="134.1" font-size="8.8" text-anchor="middle" fill="#000" stroke="#000" stroke-width="0.25">0</text>
<text x="396.9" y="134.1" font-size="8.8" text-anchor="middle" fill="#000" stroke="#000" stroke-width="0.25">10</text>
<text x="436.8" y="134.1" font-size="8.8" text-anchor="middle" fill="#000" stroke="#000" stroke-width="0.25">20</text>
<text x="476.7" y="134.1" font-size="8.8" text-anchor="middle" fill="#000" stroke="#000" stroke-width="0.25">30</text>
<text x="516.6" y="134.1" font-size="8.8" text-anchor="middle" fill="#000" stroke="#000" stroke-width="0.25">40</text>
<text x="556.5" y="134.1" font-size="8.8" text-anchor="middle" fill="#000" stroke="#000" stroke-width="0.25">50</text>
<text x="352.3" y="123.94" font-size="8" text-anchor="end" fill="#000" stroke="#000" stroke-width="0.25">-10</text>
<text x="352.3" y="68.14" font-size="8" text-anchor="end" fill="#000" stroke="#000" stroke-width="0.25">0</text>
<text x="352.3" y="14.54" font-size="8" text-anchor="end" fill="#000" stroke="#000" stroke-width="0.25">10</text>
<text x="331.2" y="12.49" font-size="11.8" text-anchor="start" fill="#000" font-weight="bold">(c)</text>
<text x="340.49" y="66.7" font-size="11.8" text-anchor="middle" fill="#000" transform="rotate(-90 340.49 66.7)" stroke="#000" stroke-width="0.28">x (µm)</text>
<text x="459" y="145.49" font-size="11.8" text-anchor="middle" fill="#000" stroke="#000" stroke-width="0.28">z (µm)</text>
<defs><filter id="bl1" x="-20%" y="-20%" width="140%" height="140%"><feGaussianBlur stdDeviation="0.55"/></filter><filter id="bl2" x="-20%" y="-20%" width="140%" height="140%"><feGaussianBlur stdDeviation="0.8"/></filter><clipPath id="clipE"><rect x="203.5" y="150.7" width="116" height="116.2"/></clipPath><clipPath id="clipF"><rect x="356" y="150.7" width="205.6" height="116.2"/></clipPath></defs>
<rect x="203.5" y="150.7" width="116" height="116.2" fill="#0e0000"/>
<defs><radialGradient id="rgE" gradientUnits="userSpaceOnUse" cx="261.0" cy="208.3" r="46.0"><stop offset="0" stop-color="#ffffff"/><stop offset=".0050" stop-color="#ffffff"/><stop offset=".0100" stop-color="#ffffff"/><stop offset=".0150" stop-color="#ffffac"/><stop offset=".0200" stop-color="#ffd800"/><stop offset=".0250" stop-color="#ff4b00"/><stop offset=".0300" stop-color="#d70000"/><stop offset=".0350" stop-color="#840000"/><stop offset=".0400" stop-color="#4e0000"/><stop offset=".0450" stop-color="#310000"/><stop offset=".0500" stop-color="#270000"/><stop offset=".0550" stop-color="#310000"/><stop offset=".0600" stop-color="#500000"/><stop offset=".0650" stop-color="#840000"/><stop offset=".0700" stop-color="#c00000"/><stop offset=".0750" stop-color="#ed0000"/><stop offset=".0800" stop-color="#f30000"/><stop offset=".0850" stop-color="#d10000"/><stop offset=".0900" stop-color="#960000"/><stop offset=".0950" stop-color="#5c0000"/><stop offset=".1000" stop-color="#330000"/><stop offset=".1050" stop-color="#1d0000"/><stop offset=".1100" stop-color="#140000"/><stop offset=".1150" stop-color="#130000"/><stop offset=".1200" stop-color="#180000"/><stop offset=".1250" stop-color="#260000"/><stop offset=".1300" stop-color="#420000"/><stop offset=".1350" stop-color="#6c0000"/><stop offset=".1400" stop-color="#9a0000"/><stop offset=".1450" stop-color="#ba0000"/><stop offset=".1500" stop-color="#bd0000"/><stop offset=".1550" stop-color="#a00000"/><stop offset=".1600" stop-color="#720000"/><stop offset=".1650" stop-color="#470000"/><stop offset=".1700" stop-color="#290000"/><stop offset=".1750" stop-color="#190000"/><stop offset=".1800" stop-color="#130000"/><stop offset=".1850" stop-color="#130000"/><stop offset=".1900" stop-color="#1a0000"/><stop offset=".1950" stop-color="#280000"/><stop offset=".2000" stop-color="#420000"/><stop offset=".2050" stop-color="#630000"/><stop offset=".2100" stop-color="#800000"/><stop offset=".2150" stop-color="#8d0000"/><stop offset=".2200" stop-color="#820000"/><stop offset=".2250" stop-color="#650000"/><stop offset=".2300" stop-color="#440000"/><stop offset=".2350" stop-color="#2a0000"/><stop offset=".2400" stop-color="#1b0000"/><stop offset=".2450" stop-color="#140000"/><stop offset=".2500" stop-color="#140000"/><stop offset=".2550" stop-color="#190000"/><stop offset=".2600" stop-color="#240000"/><stop offset=".2650" stop-color="#340000"/><stop offset=".2700" stop-color="#450000"/><stop offset=".2750" stop-color="#500000"/><stop offset=".2800" stop-color="#520000"/><stop offset=".2850" stop-color="#490000"/><stop offset=".2900" stop-color="#390000"/><stop offset=".2950" stop-color="#280000"/><stop offset=".3000" stop-color="#1c0000"/><stop offset=".3050" stop-color="#150000"/><stop offset=".3100" stop-color="#110000"/><stop offset=".3150" stop-color="#100000"/><stop offset=".3200" stop-color="#0f0000"/><stop offset=".3250" stop-color="#0f0000"/><stop offset=".3300" stop-color="#0f0000"/><stop offset=".3350" stop-color="#0f0000"/><stop offset=".3400" stop-color="#0f0000"/><stop offset=".3450" stop-color="#0f0000"/><stop offset=".3500" stop-color="#0f0000"/><stop offset=".3550" stop-color="#0f0000"/><stop offset=".3600" stop-color="#0f0000"/><stop offset=".3650" stop-color="#0f0000"/><stop offset=".3700" stop-color="#0f0000"/><stop offset=".3750" stop-color="#0f0000"/><stop offset=".3800" stop-color="#0f0000"/><stop offset=".3850" stop-color="#0f0000"/><stop offset=".3900" stop-color="#0f0000"/><stop offset=".3950" stop-color="#0f0000"/><stop offset=".4000" stop-color="#0f0000"/><stop offset=".4050" stop-color="#0f0000"/><stop offset=".4100" stop-color="#0f0000"/><stop offset=".4150" stop-color="#0f0000"/><stop offset=".4200" stop-color="#0f0000"/><stop offset=".4250" stop-color="#0f0000"/><stop offset=".4300" stop-color="#0f0000"/><stop offset=".4350" stop-color="#0f0000"/><stop offset=".4400" stop-color="#0f0000"/><stop offset=".4450" stop-color="#0f0000"/><stop offset=".4500" stop-color="#0f0000"/><stop offset=".4550" stop-color="#0f0000"/><stop offset=".4600" stop-color="#0f0000"/><stop offset=".4650" stop-color="#0f0000"/><stop offset=".4700" stop-color="#0f0000"/><stop offset=".4750" stop-color="#0f0000"/><stop offset=".4800" stop-color="#0f0000"/><stop offset=".4850" stop-color="#0f0000"/><stop offset=".4900" stop-color="#0f0000"/><stop offset=".4950" stop-color="#0f0000"/><stop offset=".5000" stop-color="#0f0000"/><stop offset=".5050" stop-color="#0f0000"/><stop offset=".5100" stop-color="#0f0000"/><stop offset=".5150" stop-color="#0f0000"/><stop offset=".5200" stop-color="#0f0000"/><stop offset=".5250" stop-color="#100000"/><stop offset=".5300" stop-color="#110000"/><stop offset=".5350" stop-color="#140000"/><stop offset=".5400" stop-color="#190000"/><stop offset=".5450" stop-color="#210000"/><stop offset=".5500" stop-color="#2d0000"/><stop offset=".5550" stop-color="#3b0000"/><stop offset=".5600" stop-color="#4b0000"/><stop offset=".5650" stop-color="#5a0000"/><stop offset=".5700" stop-color="#640000"/><stop offset=".5750" stop-color="#660000"/><stop offset=".5800" stop-color="#600000"/><stop offset=".5850" stop-color="#540000"/><stop offset=".5900" stop-color="#440000"/><stop offset=".5950" stop-color="#350000"/><stop offset=".6000" stop-color="#270000"/><stop offset=".6050" stop-color="#1d0000"/><stop offset=".6100" stop-color="#170000"/><stop offset=".6150" stop-color="#130000"/><stop offset=".6200" stop-color="#120000"/><stop offset=".6250" stop-color="#120000"/><stop offset=".6300" stop-color="#140000"/><stop offset=".6350" stop-color="#170000"/><stop offset=".6400" stop-color="#1d0000"/><stop offset=".6450" stop-color="#230000"/><stop offset=".6500" stop-color="#2a0000"/><stop offset=".6550" stop-color="#300000"/><stop offset=".6600" stop-color="#320000"/><stop offset=".6650" stop-color="#310000"/><stop offset=".6700" stop-color="#2d0000"/><stop offset=".6750" stop-color="#260000"/><stop offset=".6800" stop-color="#200000"/><stop offset=".6850" stop-color="#1a0000"/><stop offset=".6900" stop-color="#180000"/><stop offset=".6950" stop-color="#180000"/><stop offset=".7000" stop-color="#1c0000"/><stop offset=".7050" stop-color="#230000"/><stop offset=".7100" stop-color="#2d0000"/><stop offset=".7150" stop-color="#380000"/><stop offset=".7200" stop-color="#440000"/><stop offset=".7250" stop-color="#4c0000"/><stop offset=".7300" stop-color="#500000"/><stop offset=".7350" stop-color="#4d0000"/><stop offset=".7400" stop-color="#450000"/><stop offset=".7450" stop-color="#3a0000"/><stop offset=".7500" stop-color="#2f0000"/><stop offset=".7550" stop-color="#240000"/><stop offset=".7600" stop-color="#1c0000"/><stop offset=".7650" stop-color="#170000"/><stop offset=".7700" stop-color="#140000"/><stop offset=".7750" stop-color="#130000"/><stop offset=".7800" stop-color="#130000"/><stop offset=".7850" stop-color="#150000"/><stop offset=".7900" stop-color="#170000"/><stop offset=".7950" stop-color="#1a0000"/><stop offset=".8000" stop-color="#1d0000"/><stop offset=".8050" stop-color="#210000"/><stop offset=".8100" stop-color="#240000"/><stop offset=".8150" stop-color="#260000"/><stop offset=".8200" stop-color="#270000"/><stop offset=".8250" stop-color="#270000"/><stop offset=".8300" stop-color="#250000"/><stop offset=".8350" stop-color="#230000"/><stop offset=".8400" stop-color="#200000"/><stop offset=".8450" stop-color="#1d0000"/><stop offset=".8500" stop-color="#1a0000"/><stop offset=".8550" stop-color="#180000"/><stop offset=".8600" stop-color="#170000"/><stop offset=".8650" stop-color="#160000"/><stop offset=".8700" stop-color="#160000"/><stop offset=".8750" stop-color="#180000"/><stop offset=".8800" stop-color="#190000"/><stop offset=".8850" stop-color="#1b0000"/><stop offset=".8900" stop-color="#1d0000"/><stop offset=".8950" stop-color="#1e0000"/><stop offset=".9000" stop-color="#1f0000"/><stop offset=".9050" stop-color="#1f0000"/><stop offset=".9100" stop-color="#1e0000"/><stop offset=".9150" stop-color="#1d0000"/><stop offset=".9200" stop-color="#1b0000"/><stop offset=".9250" stop-color="#180000"/><stop offset=".9300" stop-color="#160000"/><stop offset=".9350" stop-color="#140000"/><stop offset=".9400" stop-color="#130000"/><stop offset=".9450" stop-color="#110000"/><stop offset=".9500" stop-color="#100000"/><stop offset=".9550" stop-color="#100000"/><stop offset=".9600" stop-color="#0f0000"/><stop offset=".9650" stop-color="#0f0000"/><stop offset=".9700" stop-color="#0f0000"/><stop offset=".9750" stop-color="#0f0000"/><stop offset=".9800" stop-color="#0f0000"/><stop offset=".9850" stop-color="#0f0000"/><stop offset=".9900" stop-color="#0f0000"/><stop offset=".9950" stop-color="#0f0000"/><stop offset="1.0000" stop-color="#0f0000"/></radialGradient></defs>
<circle cx="261.0" cy="208.3" r="46.0" fill="url(#rgE)" clip-path="url(#clipE)"/>
<rect x="203.5" y="150.7" width="116" height="116.2" fill="none" stroke="#000" stroke-width="1"/>
<path d="M204.2 266.9v-1.4M204.2 150.7v1.4M261 266.9v-1.4M261 150.7v1.4M318.3 266.9v-1.4M318.3 150.7v1.4M203.5 264.2h1.4M319.5 264.2h-1.4M203.5 236.2h1.4M319.5 236.2h-1.4M203.5 208.2h1.4M319.5 208.2h-1.4M203.5 180.2h1.4M319.5 180.2h-1.4M203.5 152.2h1.4M319.5 152.2h-1.4" stroke="#000" stroke-width=".8" fill="none"/>
<text x="203.1" y="277.5" font-size="8.8" text-anchor="middle" fill="#000" stroke="#000" stroke-width="0.25">-10</text>
<text x="260.4" y="277.5" font-size="8.8" text-anchor="middle" fill="#000" stroke="#000" stroke-width="0.25">0</text>
<text x="317.7" y="277.5" font-size="8.8" text-anchor="middle" fill="#000" stroke="#000" stroke-width="0.25">10</text>
<text x="199.6" y="266.7" font-size="8.8" text-anchor="end" fill="#000" stroke="#000" stroke-width="0.25">-10</text>
<text x="199.6" y="240.9" font-size="8.8" text-anchor="end" fill="#000" stroke="#000" stroke-width="0.25">-5</text>
<text x="199.6" y="212.4" font-size="8.8" text-anchor="end" fill="#000" stroke="#000" stroke-width="0.25">0</text>
<text x="199.6" y="185.5" font-size="8.8" text-anchor="end" fill="#000" stroke="#000" stroke-width="0.25">5</text>
<text x="199.6" y="157.9" font-size="8.8" text-anchor="end" fill="#000" stroke="#000" stroke-width="0.25">10</text>
<text x="174" y="156.19" font-size="11.8" text-anchor="start" fill="#000" stroke="#000" stroke-width="0.28">(e)</text>
<text x="186.59" y="209.1" font-size="11.8" text-anchor="middle" fill="#000" transform="rotate(-90 186.59 209.1)" stroke="#000" stroke-width="0.28">y (µm)</text>
<text x="263.3" y="288.39" font-size="11.8" text-anchor="middle" fill="#000" stroke="#000" stroke-width="0.28">x (µm)</text>
<rect x="356" y="150.7" width="205.6" height="116.2" fill="#0e0000"/>
<defs><linearGradient id="gf1" x1="0" x2="1" y1="0" y2="0"><stop offset="0" stop-color="#c01010" stop-opacity=".9"/><stop offset=".38" stop-color="#c81414"/><stop offset=".7" stop-color="#7a0808" stop-opacity=".8"/><stop offset="1" stop-color="#300000" stop-opacity="0"/></linearGradient><linearGradient id="gf2" x1="0" x2="1" y1="0" y2="0"><stop offset="0" stop-color="#400303" stop-opacity="0"/><stop offset=".35" stop-color="#4c0404"/><stop offset="1" stop-color="#3a0303"/></linearGradient></defs>
<g clip-path="url(#clipF)"><g filter="url(#bl1)">
<rect x="357" y="207.5" width="58" height="1.2" fill="#3a0303"/>
<rect x="359" y="207.4" width="8" height="1.4" fill="#7c0909"/>
<rect x="369" y="207.4" width="5" height="1.4" fill="#7c0909"/>
<rect x="377" y="207.4" width="7" height="1.4" fill="#7c0909"/>
<rect x="396" y="207.4" width="7" height="1.4" fill="#7c0909"/>
<rect x="405" y="207.4" width="8" height="1.4" fill="#7c0909"/>
<rect x="414" y="207.0" width="66" height="2.2" fill="url(#gf1)"/>
<rect x="498" y="206.9" width="64" height="2.4" fill="url(#gf2)"/>
<rect x="361.5" y="207.2" width="4" height="1.8" fill="#ff3a2a"/>
<rect x="385.5" y="207.1" width="10" height="2" fill="#e01c1c"/>
<rect x="387.6" y="207.25" width="5.4" height="1.7" fill="#fff"/>
</g></g>
<rect x="356" y="150.7" width="205.7" height="116.2" fill="none" stroke="#000" stroke-width="1"/>
<path d="M396.9 266.9v-1.4M396.9 150.7v1.4M436.8 266.9v-1.4M436.8 150.7v1.4M476.7 266.9v-1.4M476.7 150.7v1.4M516.6 266.9v-1.4M516.6 150.7v1.4M556.5 266.9v-1.4M556.5 150.7v1.4M356 264.2h1.4M561.7 264.2h-1.4M356 208.2h1.4M561.7 208.2h-1.4M356 152.2h1.4M561.7 152.2h-1.4" stroke="#000" stroke-width=".8" fill="none"/>
<path d="M440.8 151v115.5" stroke="#fff" stroke-width="1.6" stroke-dasharray="4.2 2.6" fill="none"/>
<text x="357" y="277.1" font-size="8.8" text-anchor="middle" fill="#000" stroke="#000" stroke-width="0.25">0</text>
<text x="396.9" y="277.1" font-size="8.8" text-anchor="middle" fill="#000" stroke="#000" stroke-width="0.25">10</text>
<text x="436.8" y="277.1" font-size="8.8" text-anchor="middle" fill="#000" stroke="#000" stroke-width="0.25">20</text>
<text x="476.7" y="277.1" font-size="8.8" text-anchor="middle" fill="#000" stroke="#000" stroke-width="0.25">30</text>
<text x="516.6" y="277.1" font-size="8.8" text-anchor="middle" fill="#000" stroke="#000" stroke-width="0.25">40</text>
<text x="556.5" y="277.1" font-size="8.8" text-anchor="middle" fill="#000" stroke="#000" stroke-width="0.25">50</text>
<text x="352.3" y="267.14" font-size="8" text-anchor="end" fill="#000" stroke="#000" stroke-width="0.25">-10</text>
<text x="352.3" y="211.04" font-size="8" text-anchor="end" fill="#000" stroke="#000" stroke-width="0.25">0</text>
<text x="352.3" y="157.24" font-size="8" text-anchor="end" fill="#000" stroke="#000" stroke-width="0.25">10</text>
<text x="331.2" y="159.19" font-size="11.8" text-anchor="start" fill="#000" stroke="#000" stroke-width="0.28">(f)</text>
<text x="340.49" y="209.3" font-size="11.8" text-anchor="middle" fill="#000" transform="rotate(-90 340.49 209.3)" stroke="#000" stroke-width="0.28">x (µm)</text>
<text x="459" y="288.49" font-size="11.8" text-anchor="middle" fill="#000" stroke="#000" stroke-width="0.28">z (µm)</text>
<defs><clipPath id="clipG"><rect x="37.8" y="295.6" width="142" height="111"/></clipPath></defs>
<rect x="118.4" y="300.1" width="58.4" height="21.2" fill="#fff" stroke="#262626" stroke-width=".9"/>
<path d="M120.3 305.4h14.8" stroke="#ff0000" stroke-width="1.1"/><path d="M120.3 315.4h14.8" stroke="#3db3ec" stroke-width="1.1"/>
<text x="137.6" y="308.1" font-size="9" text-anchor="start" fill="#000" stroke="#000" stroke-width="0.25">before-opt</text>
<text x="137.6" y="318.1" font-size="9" text-anchor="start" fill="#000" stroke="#000" stroke-width="0.25">after-opt</text>
<path d="M40.9 406.2v-1.5M40.9 296.1v1.5M74.9 406.2v-1.5M74.9 296.1v1.5M108.9 406.2v-1.5M108.9 296.1v1.5M142.9 406.2v-1.5M142.9 296.1v1.5M176.9 406.2v-1.5M176.9 296.1v1.5" stroke="#262626" stroke-width=".8"/>
<g clip-path="url(#clipG)">
<path d="M37.77 391.07L37.98 391.28L38.18 391.89L38.38 392.86L38.59 394.13L38.79 395.62L38.99 397.2L39.2 398.8L39.4 400.28L39.6 401.56L39.81 402.54L40.01 403.17L40.21 403.39L40.42 403.18L40.62 402.53L40.82 401.44L41.03 399.93L41.23 398.03L41.44 395.75L41.64 393.13L41.84 390.21L42.05 387.01L42.25 383.59L42.45 379.99L42.66 376.26L42.86 372.45L43.06 368.61L43.27 364.8L43.47 361.06L43.67 357.44L43.88 354L44.08 350.77L44.28 347.81L44.49 345.15L44.69 342.83L44.89 340.88L45.1 339.32L45.3 338.18L45.51 337.48L45.71 337.21L45.91 337.51L46.12 338.51L46.32 340.19L46.52 342.51L46.73 345.41L46.93 348.82L47.13 352.65L47.34 356.81L47.54 361.18L47.74 365.67L47.95 370.14L48.15 374.5L48.35 378.63L48.56 382.42L48.76 385.79L48.97 388.64L49.17 390.9L49.37 392.51L49.58 393.44L49.78 393.65L49.98 392.86L50.19 391.05L50.39 388.46L50.59 385.46L50.8 382.46L51 379.89L51.2 378.11L51.41 377.35L51.61 377.74L51.81 379.22L52.02 381.65L52.22 384.78L52.42 388.33L52.63 391.94L52.83 395.25L53.04 397.96L53.24 399.78L53.44 400.55L53.65 399.99L53.85 397.72L54.05 393.81L54.26 388.37L54.46 381.6L54.66 373.7L54.87 364.95L55.07 355.61L55.27 346L55.48 336.44L55.68 327.22L55.88 318.66L56.09 311.03L56.29 304.58L56.5 299.52L56.7 296.02L56.9 294.19L57.11 294.08L57.31 295.61L57.51 298.72L57.72 303.3L57.92 309.18L58.12 316.16L58.33 323.99L58.53 332.39L58.73 341.08L58.94 349.73L59.14 358.06L59.34 365.76L59.55 372.56L59.75 378.23L59.95 382.56L60.16 385.4L60.36 386.65L60.57 386.34L60.77 384.69L60.97 381.78L61.18 377.74L61.38 372.77L61.58 367.08L61.79 360.93L61.99 354.6L62.19 348.38L62.4 342.56L62.6 337.39L62.8 333.12L63.01 329.94L63.21 327.99L63.41 327.36L63.62 327.97L63.82 329.71L64.03 332.53L64.23 336.33L64.43 341L64.64 346.4L64.84 352.34L65.04 358.65L65.25 365.12L65.45 371.56L65.65 377.76L65.86 383.53L66.06 388.68L66.26 393.06L66.47 396.52L66.67 398.97L66.87 400.31L67.08 400.56L67.28 400.37L67.48 399.96L67.69 399.35L67.89 398.57L68.1 397.67L68.3 396.7L68.5 395.71L68.71 394.76L68.91 393.89L69.11 393.16L69.32 392.6L69.52 392.25L69.72 392.12L69.93 392.14L70.13 392.18L70.33 392.25L70.54 392.34L70.74 392.46L70.94 392.58L71.15 392.71L71.35 392.85L71.56 392.97L71.76 393.09L71.96 393.18L72.17 393.26L72.37 393.3L72.57 393.32L72.78 393.39L72.98 393.62L73.18 394.01L73.39 394.52L73.59 395.15L73.79 395.86L74 396.62L74.2 397.39L74.4 398.14L74.61 398.84L74.81 399.45L75.01 399.95L75.22 400.31L75.42 400.52L75.63 400.56L75.83 400.31L76.03 399.7L76.24 398.75L76.44 397.47L76.64 395.87L76.85 393.96L77.05 391.78L77.25 389.34L77.46 386.67L77.66 383.79L77.86 380.75L78.07 377.57L78.27 374.28L78.47 370.93L78.68 367.55L78.88 364.18L79.09 360.85L79.29 357.6L79.49 354.47L79.7 351.48L79.9 348.68L80.1 346.09L80.31 343.74L80.51 341.66L80.71 339.87L80.92 338.39L81.12 337.23L81.32 336.41L81.53 335.93L81.73 335.81L81.93 336.37L82.14 337.74L82.34 339.86L82.54 342.61L82.75 345.84L82.95 349.37L83.16 353L83.36 356.54L83.56 359.79L83.77 362.57L83.97 364.73L84.17 366.15L84.38 366.76L84.58 366.45L84.78 365.09L84.99 362.76L85.19 359.6L85.39 355.81L85.6 351.62L85.8 347.27L86 343.05L86.21 339.19L86.41 335.95L86.62 333.51L86.82 332.02L87.02 331.58L87.23 331.9L87.43 332.76L87.63 334.14L87.84 336.02L88.04 338.35L88.24 341.11L88.45 344.23L88.65 347.66L88.85 351.34L89.06 355.19L89.26 359.15L89.46 363.15L89.67 367.1L89.87 370.93L90.07 374.58L90.28 377.98L90.48 381.06L90.69 383.76L90.89 386.05L91.09 387.86L91.3 389.18L91.5 389.97L91.7 390.22L91.91 389.92L92.11 389.06L92.31 387.68L92.52 385.81L92.72 383.52L92.92 380.88L93.13 377.98L93.33 374.91L93.53 371.78L93.74 368.68L93.94 365.72L94.15 363L94.35 360.59L94.55 358.59L94.76 357.05L94.96 356.02L95.16 355.55L95.37 355.58L95.57 355.95L95.77 356.61L95.98 357.57L96.18 358.82L96.38 360.32L96.59 362.06L96.79 364.02L96.99 366.15L97.2 368.44L97.4 370.84L97.6 373.32L97.81 375.84L98.01 378.36L98.22 380.84L98.42 383.25L98.62 385.55L98.83 387.69L99.03 389.66L99.23 391.42L99.44 392.95L99.64 394.21L99.84 395.19L100.05 395.88L100.25 396.26L100.45 396.34L100.66 396.09L100.86 395.51L101.06 394.63L101.27 393.46L101.47 392.02L101.68 390.34L101.88 388.46L102.08 386.42L102.29 384.26L102.49 382.03L102.69 379.76L102.9 377.52L103.1 375.34L103.3 373.27L103.51 371.36L103.71 369.64L103.91 368.16L104.12 366.93L104.32 366L104.52 365.36L104.73 365.05L104.93 365.09L105.13 365.58L105.34 366.53L105.54 367.91L105.75 369.69L105.95 371.82L106.15 374.26L106.36 376.95L106.56 379.81L106.76 382.77L106.97 385.78L107.17 388.74L107.37 391.6L107.58 394.27L107.78 396.69L107.98 398.81L108.19 400.57L108.39 401.93L108.59 402.86L108.8 403.33L109 403.33L109.21 402.86L109.41 401.93L109.61 400.57L109.82 398.81L110.02 396.69L110.22 394.27L110.43 391.6L110.63 388.74L110.83 385.78L111.04 382.77L111.24 379.81L111.44 376.95L111.65 374.26L111.85 371.82L112.05 369.69L112.26 367.91L112.46 366.53L112.67 365.58L112.87 365.09L113.07 365.05L113.28 365.36L113.48 366L113.68 366.93L113.89 368.16L114.09 369.64L114.29 371.36L114.5 373.27L114.7 375.34L114.9 377.52L115.11 379.76L115.31 382.03L115.51 384.26L115.72 386.42L115.92 388.46L116.12 390.34L116.33 392.02L116.53 393.46L116.74 394.63L116.94 395.51L117.14 396.09L117.35 396.34L117.55 396.26L117.75 395.88L117.96 395.19L118.16 394.21L118.36 392.95L118.57 391.42L118.77 389.66L118.97 387.69L119.18 385.55L119.38 383.25L119.58 380.84L119.79 378.36L119.99 375.84L120.2 373.32L120.4 370.84L120.6 368.44L120.81 366.15L121.01 364.02L121.21 362.06L121.42 360.32L121.62 358.82L121.82 357.57L122.03 356.61L122.23 355.95L122.43 355.58L122.64 355.55L122.84 356.02L123.04 357.05L123.25 358.59L123.45 360.59L123.65 363L123.86 365.72L124.06 368.68L124.27 371.78L124.47 374.91L124.67 377.98L124.88 380.88L125.08 383.52L125.28 385.81L125.49 387.68L125.69 389.06L125.89 389.92L126.1 390.22L126.3 389.97L126.5 389.18L126.71 387.86L126.91 386.05L127.11 383.76L127.32 381.06L127.52 377.98L127.73 374.58L127.93 370.93L128.13 367.1L128.34 363.15L128.54 359.15L128.74 355.19L128.95 351.34L129.15 347.66L129.35 344.23L129.56 341.11L129.76 338.35L129.96 336.02L130.17 334.14L130.37 332.76L130.57 331.9L130.78 331.58L130.98 332.02L131.18 333.51L131.39 335.95L131.59 339.19L131.8 343.05L132 347.27L132.2 351.62L132.41 355.81L132.61 359.6L132.81 362.76L133.02 365.09L133.22 366.45L133.42 366.76L133.63 366.15L133.83 364.73L134.03 362.57L134.24 359.79L134.44 356.54L134.64 353L134.85 349.37L135.05 345.84L135.26 342.61L135.46 339.86L135.66 337.74L135.87 336.37L136.07 335.81L136.27 335.93L136.48 336.41L136.68 337.23L136.88 338.39L137.09 339.87L137.29 341.66L137.49 343.74L137.7 346.09L137.9 348.68L138.1 351.48L138.31 354.47L138.51 357.6L138.71 360.85L138.92 364.18L139.12 367.55L139.33 370.93L139.53 374.28L139.73 377.57L139.94 380.75L140.14 383.79L140.34 386.67L140.55 389.34L140.75 391.78L140.95 393.96L141.16 395.87L141.36 397.47L141.56 398.75L141.77 399.7L141.97 400.31L142.17 400.56L142.38 400.52L142.58 400.31L142.79 399.95L142.99 399.45L143.19 398.84L143.4 398.14L143.6 397.39L143.8 396.62L144.01 395.86L144.21 395.15L144.41 394.52L144.62 394.01L144.82 393.62L145.02 393.39L145.23 393.32L145.43 393.3L145.63 393.26L145.84 393.18L146.04 393.09L146.24 392.97L146.45 392.85L146.65 392.71L146.86 392.58L147.06 392.46L147.26 392.34L147.47 392.25L147.67 392.18L147.87 392.14L148.08 392.12L148.28 392.25L148.48 392.6L148.69 393.16L148.89 393.89L149.09 394.76L149.3 395.71L149.5 396.7L149.7 397.67L149.91 398.57L150.11 399.35L150.32 399.96L150.52 400.37L150.72 400.56L150.93 400.31L151.13 398.97L151.33 396.52L151.54 393.06L151.74 388.68L151.94 383.53L152.15 377.76L152.35 371.56L152.55 365.12L152.76 358.65L152.96 352.34L153.16 346.4L153.37 341L153.57 336.33L153.77 332.53L153.98 329.71L154.18 327.97L154.39 327.36L154.59 327.99L154.79 329.94L155 333.12L155.2 337.39L155.4 342.56L155.61 348.38L155.81 354.6L156.01 360.93L156.22 367.08L156.42 372.77L156.62 377.74L156.83 381.78L157.03 384.69L157.23 386.34L157.44 386.65L157.64 385.4L157.85 382.56L158.05 378.23L158.25 372.56L158.46 365.76L158.66 358.06L158.86 349.73L159.07 341.08L159.27 332.39L159.47 323.99L159.68 316.16L159.88 309.18L160.08 303.3L160.29 298.72L160.49 295.61L160.69 294.08L160.9 294.19L161.1 296.02L161.3 299.52L161.51 304.58L161.71 311.03L161.92 318.66L162.12 327.22L162.32 336.44L162.53 346L162.73 355.61L162.93 364.95L163.14 373.7L163.34 381.6L163.54 388.37L163.75 393.81L163.95 397.72L164.15 399.99L164.36 400.55L164.56 399.78L164.76 397.96L164.97 395.25L165.17 391.94L165.38 388.33L165.58 384.78L165.78 381.65L165.99 379.22L166.19 377.74L166.39 377.35L166.6 378.11L166.8 379.89L167 382.46L167.21 385.46L167.41 388.46L167.61 391.05L167.82 392.86L168.02 393.65L168.22 393.44L168.43 392.51L168.63 390.9L168.83 388.64L169.04 385.79L169.24 382.42L169.45 378.63L169.65 374.5L169.85 370.14L170.06 365.67L170.26 361.18L170.46 356.81L170.67 352.65L170.87 348.82L171.07 345.41L171.28 342.51L171.48 340.19L171.68 338.51L171.89 337.51L172.09 337.21L172.29 337.48L172.5 338.18L172.7 339.32L172.91 340.88L173.11 342.83L173.31 345.15L173.52 347.81L173.72 350.77L173.92 354L174.13 357.44L174.33 361.06L174.53 364.8L174.74 368.61L174.94 372.45L175.14 376.26L175.35 379.99L175.55 383.59L175.75 387.01L175.96 390.21L176.16 393.13L176.36 395.75L176.57 398.03L176.77 399.93L176.98 401.44L177.18 402.53L177.38 403.18L177.59 403.39L177.79 403.17L177.99 402.54L178.2 401.56L178.4 400.28L178.6 398.8L178.81 397.2L179.01 395.62L179.21 394.13L179.42 392.86L179.62 391.89L179.82 391.28L180.03 391.07" fill="none" stroke="#ff0000" stroke-width="1.25" stroke-linejoin="round"/>
<path d="M37.77 404.87L37.98 404.87L38.18 404.88L38.38 404.9L38.59 404.92L38.79 404.94L38.99 404.98L39.2 405.01L39.4 405.05L39.6 405.09L39.81 405.14L40.01 405.18L40.21 405.23L40.42 405.27L40.62 405.31L40.82 405.35L41.03 405.39L41.23 405.42L41.44 405.45L41.64 405.47L41.84 405.49L42.05 405.5L42.25 405.5L42.45 405.49L42.66 405.47L42.86 405.42L43.06 405.36L43.27 405.29L43.47 405.2L43.67 405.11L43.88 405.01L44.08 404.91L44.28 404.82L44.49 404.73L44.69 404.64L44.89 404.57L45.1 404.51L45.3 404.47L45.51 404.45L45.71 404.45L45.91 404.46L46.12 404.49L46.32 404.54L46.52 404.6L46.73 404.68L46.93 404.77L47.13 404.86L47.34 404.96L47.54 405.06L47.74 405.16L47.95 405.25L48.15 405.32L48.35 405.39L48.56 405.44L48.76 405.48L48.97 405.5L49.17 405.5L49.37 405.47L49.58 405.43L49.78 405.37L49.98 405.28L50.19 405.19L50.39 405.08L50.59 404.96L50.8 404.85L51 404.73L51.2 404.61L51.41 404.51L51.61 404.42L51.81 404.34L52.02 404.29L52.22 404.25L52.42 404.23L52.63 404.24L52.83 404.27L53.04 404.32L53.24 404.39L53.44 404.48L53.65 404.58L53.85 404.69L54.05 404.8L54.26 404.92L54.46 405.04L54.66 405.15L54.87 405.25L55.07 405.34L55.27 405.41L55.48 405.46L55.68 405.49L55.88 405.5L56.09 405.47L56.29 405.4L56.5 405.28L56.7 405.13L56.9 404.96L57.11 404.77L57.31 404.57L57.51 404.38L57.72 404.2L57.92 404.05L58.12 403.93L58.33 403.85L58.53 403.81L58.73 403.83L58.94 403.88L59.14 403.98L59.34 404.12L59.55 404.29L59.75 404.47L59.95 404.67L60.16 404.87L60.36 405.05L60.57 405.21L60.77 405.35L60.97 405.44L61.18 405.49L61.38 405.5L61.58 405.47L61.79 405.4L61.99 405.31L62.19 405.19L62.4 405.06L62.6 404.91L62.8 404.76L63.01 404.62L63.21 404.49L63.41 404.38L63.62 404.3L63.82 404.25L64.03 404.23L64.23 404.25L64.43 404.3L64.64 404.39L64.84 404.5L65.04 404.63L65.25 404.77L65.45 404.92L65.65 405.06L65.86 405.2L66.06 405.31L66.26 405.41L66.47 405.47L66.67 405.5L66.87 405.47L67.08 405.3L67.28 405L67.48 404.58L67.69 404.07L67.89 403.49L68.1 402.88L68.3 402.26L68.5 401.68L68.71 401.16L68.91 400.74L69.11 400.43L69.32 400.26L69.52 400.23L69.72 400.32L69.93 400.52L70.13 400.83L70.33 401.21L70.54 401.66L70.74 402.14L70.94 402.64L71.15 403.12L71.35 403.55L71.56 403.92L71.76 404.2L71.96 404.38L72.17 404.44L72.37 404.4L72.57 404.24L72.78 403.98L72.98 403.64L73.18 403.25L73.39 402.83L73.59 402.41L73.79 402.02L74 401.7L74.2 401.45L74.4 401.31L74.61 401.28L74.81 401.33L75.01 401.43L75.22 401.59L75.42 401.81L75.63 402.07L75.83 402.37L76.03 402.7L76.24 403.05L76.44 403.41L76.64 403.77L76.85 404.11L77.05 404.44L77.25 404.74L77.46 404.99L77.66 405.2L77.86 405.36L78.07 405.46L78.27 405.5L78.47 405.5L78.68 405.48L78.88 405.46L79.09 405.43L79.29 405.38L79.49 405.33L79.7 405.28L79.9 405.22L80.1 405.15L80.31 405.09L80.51 405.02L80.71 404.96L80.92 404.9L81.12 404.84L81.32 404.79L81.53 404.74L81.73 404.71L81.93 404.68L82.14 404.66L82.34 404.66L82.54 404.66L82.75 404.68L82.95 404.71L83.16 404.76L83.36 404.82L83.56 404.88L83.77 404.96L83.97 405.04L84.17 405.11L84.38 405.19L84.58 405.27L84.78 405.33L84.99 405.39L85.19 405.44L85.39 405.47L85.6 405.49L85.8 405.5L86 405.47L86.21 405.39L86.41 405.27L86.62 405.12L86.82 404.96L87.02 404.8L87.23 404.65L87.43 404.54L87.63 404.47L87.84 404.45L88.04 404.47L88.24 404.53L88.45 404.62L88.65 404.73L88.85 404.86L89.06 405.01L89.26 405.14L89.46 405.27L89.67 405.38L89.87 405.45L90.07 405.49L90.28 405.48L90.48 405.21L90.69 404.66L90.89 403.88L91.09 402.95L91.3 401.97L91.5 401.01L91.7 400.19L91.91 399.58L92.11 399.23L92.31 399.2L92.52 399.54L92.72 400.22L92.92 401.16L93.13 402.22L93.33 403.25L93.53 404.1L93.74 404.67L93.94 404.87L94.15 404.54L94.35 403.6L94.55 402.13L94.76 400.24L94.96 398.12L95.16 395.93L95.37 393.86L95.57 392.1L95.77 390.78L95.98 390.04L96.18 389.91L96.38 390.27L96.59 391.05L96.79 392.2L96.99 393.66L97.2 395.33L97.4 397.11L97.6 398.89L97.81 400.57L98.01 402.04L98.22 403.22L98.42 404.02L98.62 404.41L98.83 404.3L99.03 403.5L99.23 402.04L99.44 400.04L99.64 397.64L99.84 395.04L100.05 392.42L100.25 389.99L100.45 387.93L100.66 386.39L100.86 385.51L101.06 385.34L101.27 386.15L101.47 387.93L101.68 390.49L101.88 393.54L102.08 396.73L102.29 399.72L102.49 402.17L102.69 403.8L102.9 404.44L103.1 404.15L103.3 403.17L103.51 401.62L103.71 399.66L103.91 397.52L104.12 395.44L104.32 393.64L104.52 392.32L104.73 391.65L104.93 391.68L105.13 392.41L105.34 393.75L105.54 395.57L105.75 397.68L105.95 399.85L106.15 401.87L106.36 403.51L106.56 404.62L106.76 405.07L106.97 403.33L107.17 397.04L107.37 386.73L107.58 373.35L107.78 358.12L107.98 342.43L108.19 327.71L108.39 315.3L108.59 306.35L108.8 301.65L109 301.65L109.21 306.35L109.41 315.3L109.61 327.71L109.82 342.43L110.02 358.12L110.22 373.35L110.43 386.73L110.63 397.04L110.83 403.33L111.04 405.07L111.24 404.62L111.44 403.51L111.65 401.87L111.85 399.85L112.05 397.68L112.26 395.57L112.46 393.75L112.67 392.41L112.87 391.68L113.07 391.65L113.28 392.32L113.48 393.64L113.68 395.44L113.89 397.52L114.09 399.66L114.29 401.62L114.5 403.17L114.7 404.15L114.9 404.44L115.11 403.8L115.31 402.17L115.51 399.72L115.72 396.73L115.92 393.54L116.12 390.49L116.33 387.93L116.53 386.15L116.74 385.34L116.94 385.51L117.14 386.39L117.35 387.93L117.55 389.99L117.75 392.42L117.96 395.04L118.16 397.64L118.36 400.04L118.57 402.04L118.77 403.5L118.97 404.3L119.18 404.41L119.38 404.02L119.58 403.22L119.79 402.04L119.99 400.57L120.2 398.89L120.4 397.11L120.6 395.33L120.81 393.66L121.01 392.2L121.21 391.05L121.42 390.27L121.62 389.91L121.82 390.04L122.03 390.78L122.23 392.1L122.43 393.86L122.64 395.93L122.84 398.12L123.04 400.24L123.25 402.13L123.45 403.6L123.65 404.54L123.86 404.87L124.06 404.67L124.27 404.1L124.47 403.25L124.67 402.22L124.88 401.16L125.08 400.22L125.28 399.54L125.49 399.2L125.69 399.23L125.89 399.58L126.1 400.19L126.3 401.01L126.5 401.97L126.71 402.95L126.91 403.88L127.11 404.66L127.32 405.21L127.52 405.48L127.73 405.49L127.93 405.45L128.13 405.38L128.34 405.27L128.54 405.14L128.74 405.01L128.95 404.86L129.15 404.73L129.35 404.62L129.56 404.53L129.76 404.47L129.96 404.45L130.17 404.47L130.37 404.54L130.57 404.65L130.78 404.8L130.98 404.96L131.18 405.12L131.39 405.27L131.59 405.39L131.8 405.47L132 405.5L132.2 405.49L132.41 405.47L132.61 405.44L132.81 405.39L133.02 405.33L133.22 405.27L133.42 405.19L133.63 405.11L133.83 405.04L134.03 404.96L134.24 404.88L134.44 404.82L134.64 404.76L134.85 404.71L135.05 404.68L135.26 404.66L135.46 404.66L135.66 404.66L135.87 404.68L136.07 404.71L136.27 404.74L136.48 404.79L136.68 404.84L136.88 404.9L137.09 404.96L137.29 405.02L137.49 405.09L137.7 405.15L137.9 405.22L138.1 405.28L138.31 405.33L138.51 405.38L138.71 405.43L138.92 405.46L139.12 405.48L139.33 405.5L139.53 405.5L139.73 405.46L139.94 405.36L140.14 405.2L140.34 404.99L140.55 404.74L140.75 404.44L140.95 404.11L141.16 403.77L141.36 403.41L141.56 403.05L141.77 402.7L141.97 402.37L142.17 402.07L142.38 401.81L142.58 401.59L142.79 401.43L142.99 401.33L143.19 401.28L143.4 401.31L143.6 401.45L143.8 401.7L144.01 402.02L144.21 402.41L144.41 402.83L144.62 403.25L144.82 403.64L145.02 403.98L145.23 404.24L145.43 404.4L145.63 404.44L145.84 404.38L146.04 404.2L146.24 403.92L146.45 403.55L146.65 403.12L146.86 402.64L147.06 402.14L147.26 401.66L147.47 401.21L147.67 400.83L147.87 400.52L148.08 400.32L148.28 400.23L148.48 400.26L148.69 400.43L148.89 400.74L149.09 401.16L149.3 401.68L149.5 402.26L149.7 402.88L149.91 403.49L150.11 404.07L150.32 404.58L150.52 405L150.72 405.3L150.93 405.47L151.13 405.5L151.33 405.47L151.54 405.41L151.74 405.31L151.94 405.2L152.15 405.06L152.35 404.92L152.55 404.77L152.76 404.63L152.96 404.5L153.16 404.39L153.37 404.3L153.57 404.25L153.77 404.23L153.98 404.25L154.18 404.3L154.39 404.38L154.59 404.49L154.79 404.62L155 404.76L155.2 404.91L155.4 405.06L155.61 405.19L155.81 405.31L156.01 405.4L156.22 405.47L156.42 405.5L156.62 405.49L156.83 405.44L157.03 405.35L157.23 405.21L157.44 405.05L157.64 404.87L157.85 404.67L158.05 404.47L158.25 404.29L158.46 404.12L158.66 403.98L158.86 403.88L159.07 403.83L159.27 403.81L159.47 403.85L159.68 403.93L159.88 404.05L160.08 404.2L160.29 404.38L160.49 404.57L160.69 404.77L160.9 404.96L161.1 405.13L161.3 405.28L161.51 405.4L161.71 405.47L161.92 405.5L162.12 405.49L162.32 405.46L162.53 405.41L162.73 405.34L162.93 405.25L163.14 405.15L163.34 405.04L163.54 404.92L163.75 404.8L163.95 404.69L164.15 404.58L164.36 404.48L164.56 404.39L164.76 404.32L164.97 404.27L165.17 404.24L165.38 404.23L165.58 404.25L165.78 404.29L165.99 404.34L166.19 404.42L166.39 404.51L166.6 404.61L166.8 404.73L167 404.85L167.21 404.96L167.41 405.08L167.61 405.19L167.82 405.28L168.02 405.37L168.22 405.43L168.43 405.47L168.63 405.5L168.83 405.5L169.04 405.48L169.24 405.44L169.45 405.39L169.65 405.32L169.85 405.25L170.06 405.16L170.26 405.06L170.46 404.96L170.67 404.86L170.87 404.77L171.07 404.68L171.28 404.6L171.48 404.54L171.68 404.49L171.89 404.46L172.09 404.45L172.29 404.45L172.5 404.47L172.7 404.51L172.91 404.57L173.11 404.64L173.31 404.73L173.52 404.82L173.72 404.91L173.92 405.01L174.13 405.11L174.33 405.2L174.53 405.29L174.74 405.36L174.94 405.42L175.14 405.47L175.35 405.49L175.55 405.5L175.75 405.5L175.96 405.49L176.16 405.47L176.36 405.45L176.57 405.42L176.77 405.39L176.98 405.35L177.18 405.31L177.38 405.27L177.59 405.23L177.79 405.18L177.99 405.14L178.2 405.09L178.4 405.05L178.6 405.01L178.81 404.98L179.01 404.94L179.21 404.92L179.42 404.9L179.62 404.88L179.82 404.87L180.03 404.87" fill="none" stroke="#3db3ec" stroke-width="1.25" stroke-linejoin="round"/>
</g>
<path d="M37.8 406.2H180.2M37.8 296.1H180.2" stroke="#262626" stroke-width="1" fill="none"/>
<path d="M37.8 296.1V406.2" stroke="#ff0000" stroke-width="1"/><path d="M180.2 296.1V406.2" stroke="#3db3ec" stroke-width="1"/>
<path d="M37.8 406.2h1.5M37.8 370.76h1.5M37.8 335.33h1.5M37.8 299.89h1.5" stroke="#ff0000" stroke-width=".8"/>
<path d="M180.2 406.2h-1.5M180.2 384.9h-1.5M180.2 363.6h-1.5M180.2 342.3h-1.5M180.2 321h-1.5M180.2 299.7h-1.5" stroke="#3db3ec" stroke-width=".8"/>
<text x="36.3" y="408.7" font-size="8.8" text-anchor="end" fill="#ff0000" stroke="#ff0000" stroke-width="0.25">0</text>
<text x="36.3" y="373.27" font-size="8.8" text-anchor="end" fill="#ff0000" stroke="#ff0000" stroke-width="0.25">0.05</text>
<text x="36.3" y="337.83" font-size="8.8" text-anchor="end" fill="#ff0000" stroke="#ff0000" stroke-width="0.25">0.1</text>
<text x="36.3" y="302.4" font-size="8.8" text-anchor="end" fill="#ff0000" stroke="#ff0000" stroke-width="0.25">0.15</text>
<text x="183" y="408.2" font-size="8.8" text-anchor="start" fill="#3db3ec" stroke="#3db3ec" stroke-width="0.25">0</text>
<text x="183" y="386.9" font-size="8.8" text-anchor="start" fill="#3db3ec" stroke="#3db3ec" stroke-width="0.25">1</text>
<text x="183" y="365.6" font-size="8.8" text-anchor="start" fill="#3db3ec" stroke="#3db3ec" stroke-width="0.25">2</text>
<text x="183" y="344.3" font-size="8.8" text-anchor="start" fill="#3db3ec" stroke="#3db3ec" stroke-width="0.25">3</text>
<text x="183" y="323" font-size="8.8" text-anchor="start" fill="#3db3ec" stroke="#3db3ec" stroke-width="0.25">4</text>
<text x="183" y="301.7" font-size="8.8" text-anchor="start" fill="#3db3ec" stroke="#3db3ec" stroke-width="0.25">5</text>
<text x="40.2" y="416.5" font-size="8.8" text-anchor="middle" fill="#000" stroke="#000" stroke-width="0.25">-10</text>
<text x="73.5" y="416.5" font-size="8.8" text-anchor="middle" fill="#000" stroke="#000" stroke-width="0.25">-5</text>
<text x="108.9" y="416.5" font-size="8.8" text-anchor="middle" fill="#000" stroke="#000" stroke-width="0.25">0</text>
<text x="142.9" y="416.5" font-size="8.8" text-anchor="middle" fill="#000" stroke="#000" stroke-width="0.25">5</text>
<text x="176.9" y="416.5" font-size="8.8" text-anchor="middle" fill="#000" stroke="#000" stroke-width="0.25">10</text>
<text x="1.8" y="300.19" font-size="11.8" text-anchor="start" fill="#000" stroke="#000" stroke-width="0.28">(g)</text>
<text x="15.86" y="352.6" font-size="12" text-anchor="middle" fill="#ff0000" transform="rotate(-90 15.86 352.6)" stroke="#ff0000" stroke-width="0.28">Normalized Intensity</text>
<text x="198.16" y="351" font-size="12" text-anchor="middle" fill="#3db3ec" transform="rotate(-90 198.16 351)" stroke="#3db3ec" stroke-width="0.28">Normalized Intensity</text>
<text x="109" y="428.89" font-size="11.8" text-anchor="middle" fill="#000" stroke="#000" stroke-width="0.28">x (µm)</text>
<defs><clipPath id="clipH"><rect x="238.6" y="294.1" width="151.8" height="113.5"/></clipPath></defs>
<g clip-path="url(#clipH)">
<path d="M246.2 294.5V331" stroke="#ffd730" stroke-width="2" stroke-dasharray="3 2.9" fill="none"/>
<path d="M246.2 342V407.6" stroke="#111" stroke-width="1.5" stroke-dasharray="1.6 3" fill="none"/>
<path d="M243.4 352L243.4 351.98L243.41 351.9L243.43 351.78L243.46 351.61L243.49 351.39L243.53 351.12L243.58 350.81L243.64 350.46L243.7 350.06L243.77 349.63L243.85 349.17L243.93 348.68L244.03 348.16L244.13 347.64L244.24 347.11L244.35 346.59L244.47 346.1L244.6 345.63L244.74 345.14L244.88 344.65L245.04 344.16L245.2 343.68L245.36 343.22L245.54 342.8L245.72 342.42L245.91 342.11L246.11 341.88L246.31 341.67L246.52 341.47L246.74 341.28L246.97 341.1L247.2 340.93L247.44 340.77L247.69 340.63L247.95 340.49L248.21 340.36L248.48 340.23L248.76 340.11L249.05 339.98L249.34 339.85L249.64 339.73L249.95 339.62L250.26 339.51L250.59 339.4L250.92 339.3L251.25 339.2L251.6 339.1L251.95 339.01L252.31 338.92L252.68 338.83L253.05 338.73L253.44 338.63L253.83 338.52L254.22 338.42L254.63 338.32L255.04 338.21L255.46 338.11L255.89 338.01L256.32 337.92L256.76 337.83L257.21 337.75L257.67 337.68L258.13 337.61L258.6 337.56L259.08 337.53L259.57 337.5L260.06 337.5L260.56 337.53L261.07 337.59L261.59 337.67L262.11 337.77L262.64 337.89L263.18 338.03L263.73 338.17L264.28 338.32L264.84 338.46L265.41 338.6L265.98 338.77L266.57 338.96L267.16 339.16L267.75 339.37L268.36 339.57L268.97 339.75L269.59 339.91L270.22 340.04L270.85 340.16L271.5 340.28L272.15 340.41L272.8 340.52L273.47 340.64L274.14 340.75L274.82 340.86L275.51 340.96L276.2 341.05L276.9 341.13L277.61 341.2L278.33 341.25L279.05 341.28L279.78 341.3L280.52 341.3L281.27 341.29L282.02 341.27L282.78 341.25L283.55 341.22L284.33 341.19L285.11 341.15L285.9 341.11L286.7 341.07L287.5 341.03L288.32 340.98L289.14 340.92L289.96 340.84L290.8 340.75L291.64 340.65L292.49 340.55L293.35 340.45L294.21 340.36L295.09 340.29L295.97 340.23L296.85 340.16L297.75 340.1L298.65 340.03L299.56 339.96L300.48 339.9L301.4 339.84L302.33 339.78L303.27 339.72L304.22 339.67L305.17 339.62L306.13 339.58L307.1 339.55L308.08 339.52L309.06 339.51L310.05 339.5L311.05 339.5L312.06 339.51L313.07 339.53L314.09 339.54L315.12 339.57L316.16 339.59L317.2 339.62L318.25 339.65L319.31 339.68L320.37 339.71L321.45 339.74L322.53 339.77L323.61 339.8L324.71 339.83L325.81 339.85L326.92 339.87L328.04 339.89L329.16 339.9L330.29 339.9L331.43 339.9L332.58 339.9L333.74 339.9L334.9 339.9L336.07 339.9L337.24 339.9L338.43 339.9L339.62 339.9L340.82 339.9L342.02 339.9L343.24 339.9L344.46 339.9L345.69 339.9L346.92 339.9L348.17 339.9L349.42 339.9L350.68 339.9L351.94 339.9L353.22 339.9L354.5 339.9L355.79 339.9L357.08 339.9L358.38 339.9L359.69 339.9L361.01 339.9L362.34 339.9L363.67 339.9L365.01 339.9L366.36 339.9L367.71 339.9L369.07 339.9L370.44 339.9L371.82 339.9L373.21 339.9L374.6 339.9L376 339.9L377.4 339.9L378.82 339.9L380.24 339.9L381.67 339.9L383.11 339.9L384.55 339.9L386 339.9L387.46 339.9L388.93 339.9L390.4 339.9" fill="none" stroke="#ff0000" stroke-width="1.5" stroke-linejoin="round" stroke-dasharray="3.4 2.8"/>
<path d="M243 348L243 347.98L243.01 347.9L243.03 347.78L243.06 347.61L243.09 347.38L243.13 347.12L243.18 346.81L243.24 346.45L243.3 346.05L243.37 345.61L243.45 345.14L243.54 344.63L243.63 344.09L243.73 343.53L243.84 342.95L243.95 342.36L244.08 341.76L244.21 341.17L244.34 340.59L244.49 340.04L244.64 339.5L244.8 338.96L244.97 338.43L245.14 337.9L245.33 337.39L245.52 336.92L245.71 336.49L245.92 336.12L246.13 335.82L246.35 335.52L246.58 335.24L246.81 334.97L247.05 334.7L247.3 334.45L247.56 334.2L247.82 333.97L248.1 333.75L248.37 333.53L248.66 333.33L248.96 333.13L249.26 332.94L249.57 332.75L249.88 332.57L250.21 332.38L250.54 332.2L250.88 332.02L251.22 331.84L251.58 331.66L251.94 331.5L252.31 331.34L252.68 331.2L253.06 331.07L253.46 330.96L253.85 330.87L254.26 330.77L254.67 330.68L255.09 330.59L255.52 330.51L255.96 330.42L256.4 330.34L256.85 330.27L257.31 330.2L257.77 330.14L258.25 330.08L258.73 330.04L259.21 330.02L259.71 330L260.21 330.01L260.72 330.06L261.24 330.15L261.76 330.27L262.3 330.42L262.84 330.59L263.38 330.77L263.94 330.96L264.5 331.15L265.07 331.32L265.65 331.51L266.23 331.71L266.82 331.94L267.42 332.17L268.03 332.4L268.64 332.62L269.26 332.82L269.89 332.98L270.53 333.11L271.17 333.24L271.82 333.37L272.48 333.5L273.15 333.62L273.82 333.73L274.5 333.83L275.19 333.91L275.89 333.96L276.59 333.99L277.3 334L278.02 334L278.75 333.99L279.48 333.98L280.22 333.97L280.97 333.95L281.73 333.94L282.49 333.91L283.26 333.89L284.04 333.86L284.82 333.83L285.61 333.8L286.41 333.73L287.22 333.59L288.04 333.4L288.86 333.19L289.69 332.97L290.53 332.76L291.37 332.59L292.23 332.48L293.08 332.39L293.95 332.3L294.83 332.22L295.71 332.15L296.6 332.09L297.5 332.03L298.4 331.98L299.31 331.93L300.23 331.89L301.16 331.85L302.09 331.82L303.03 331.78L303.98 331.75L304.94 331.72L305.9 331.7L306.88 331.67L307.85 331.65L308.84 331.62L309.83 331.6L310.84 331.58L311.84 331.56L312.86 331.54L313.88 331.52L314.92 331.5L315.95 331.48L317 331.46L318.05 331.44L319.11 331.42L320.18 331.4L321.26 331.39L322.34 331.37L323.43 331.36L324.53 331.34L325.63 331.33L326.75 331.32L327.87 331.31L329 331.3L330.13 331.3L331.27 331.3L332.42 331.29L333.58 331.29L334.75 331.28L335.92 331.28L337.1 331.28L338.29 331.27L339.48 331.27L340.68 331.27L341.89 331.26L343.11 331.26L344.33 331.26L345.57 331.25L346.81 331.25L348.05 331.25L349.31 331.25L350.57 331.24L351.84 331.24L353.12 331.24L354.4 331.23L355.69 331.23L356.99 331.23L358.3 331.23L359.61 331.22L360.93 331.22L362.26 331.22L363.6 331.22L364.94 331.22L366.29 331.22L367.65 331.21L369.02 331.21L370.39 331.21L371.77 331.21L373.16 331.21L374.55 331.21L375.96 331.21L377.37 331.2L378.79 331.2L380.21 331.2L381.65 331.2L383.09 331.2L384.53 331.2L385.99 331.2L387.45 331.2L388.92 331.2L390.4 331.2" fill="none" stroke="#ffcc1e" stroke-width="1.5" stroke-linejoin="round" stroke-dasharray="3.4 2.8"/>
<path d="M239.8 388L239.8 387.93L239.82 387.71L239.83 387.35L239.86 386.85L239.9 386.2L239.94 385.42L239.99 384.51L240.04 383.46L240.11 382.29L240.18 381L240.26 379.61L240.35 378.11L240.44 376.52L240.55 374.86L240.66 373.13L240.77 371.31L240.9 369.41L241.03 367.44L241.17 365.43L241.32 363.42L241.48 361.44L241.64 359.54L241.81 357.64L241.99 355.7L242.18 353.78L242.37 351.89L242.57 350.1L242.78 348.45L243 347.01L243.22 345.74L243.45 344.55L243.69 343.44L243.94 342.41L244.2 341.48L244.46 340.62L244.73 339.84L245.01 339.09L245.29 338.41L245.58 337.79L245.88 337.27L246.19 336.84L246.51 336.44L246.83 336.05L247.16 335.69L247.5 335.34L247.85 335.02L248.2 334.71L248.56 334.42L248.93 334.16L249.31 333.91L249.69 333.67L250.08 333.46L250.48 333.24L250.89 333.04L251.3 332.83L251.73 332.64L252.16 332.45L252.59 332.27L253.04 332.11L253.49 331.96L253.95 331.83L254.42 331.71L254.89 331.62L255.38 331.54L255.87 331.46L256.37 331.39L256.87 331.32L257.38 331.26L257.91 331.2L258.43 331.16L258.97 331.12L259.51 331.1L260.07 331.1L260.62 331.14L261.19 331.22L261.77 331.34L262.35 331.49L262.94 331.66L263.53 331.84L264.14 332.04L264.75 332.23L265.37 332.42L266 332.65L266.63 332.91L267.28 333.19L267.93 333.48L268.58 333.75L269.25 333.99L269.92 334.18L270.6 334.33L271.29 334.49L271.99 334.63L272.69 334.78L273.4 334.91L274.12 335.03L274.85 335.13L275.58 335.21L276.32 335.27L277.07 335.3L277.83 335.3L278.59 335.29L279.37 335.28L280.15 335.26L280.93 335.23L281.73 335.2L282.53 335.17L283.34 335.13L284.16 335.08L284.98 335.04L285.82 334.98L286.66 334.89L287.5 334.75L288.36 334.57L289.22 334.38L290.09 334.17L290.97 333.98L291.86 333.81L292.75 333.68L293.65 333.57L294.56 333.48L295.48 333.38L296.4 333.3L297.33 333.22L298.27 333.14L299.22 333.06L300.18 332.99L301.14 332.9L302.11 332.81L303.08 332.72L304.07 332.63L305.06 332.54L306.06 332.46L307.07 332.4L308.09 332.34L309.11 332.31L310.14 332.3L311.18 332.3L312.22 332.31L313.28 332.32L314.34 332.34L315.41 332.35L316.48 332.37L317.57 332.4L318.66 332.42L319.76 332.44L320.86 332.47L321.98 332.49L323.1 332.52L324.23 332.54L325.37 332.56L326.51 332.58L327.66 332.59L328.82 332.6L329.99 332.6L331.17 332.6L332.35 332.6L333.54 332.6L334.74 332.6L335.94 332.6L337.16 332.6L338.38 332.6L339.6 332.6L340.84 332.6L342.08 332.6L343.33 332.6L344.59 332.6L345.86 332.6L347.13 332.6L348.42 332.6L349.7 332.6L351 332.6L352.31 332.6L353.62 332.6L354.94 332.6L356.26 332.6L357.6 332.6L358.94 332.6L360.29 332.6L361.65 332.6L363.02 332.6L364.39 332.6L365.77 332.6L367.16 332.6L368.55 332.6L369.96 332.6L371.37 332.6L372.78 332.6L374.21 332.6L375.64 332.6L377.09 332.6L378.53 332.6L379.99 332.6L381.46 332.6L382.93 332.6L384.41 332.6L385.89 332.6L387.39 332.6L388.89 332.6L390.4 332.6" fill="none" stroke="#ff0000" stroke-width="1.85" stroke-linejoin="round"/>
<path d="M239.8 390L239.8 389.9L239.82 389.61L239.83 389.13L239.86 388.47L239.9 387.61L239.94 386.58L239.99 385.37L240.04 383.99L240.11 382.46L240.18 380.79L240.26 378.99L240.35 377.09L240.44 375.09L240.55 373.04L240.66 370.96L240.77 368.8L240.9 366.58L241.03 364.32L241.17 362.04L241.32 359.79L241.48 357.6L241.64 355.49L241.81 353.4L241.99 351.29L242.18 349.19L242.37 347.16L242.57 345.24L242.78 343.5L243 342.01L243.22 340.71L243.45 339.5L243.69 338.39L243.94 337.37L244.2 336.45L244.46 335.62L244.73 334.88L245.01 334.21L245.29 333.6L245.58 333.03L245.88 332.5L246.19 331.98L246.51 331.46L246.83 330.94L247.16 330.43L247.5 329.92L247.85 329.43L248.2 328.95L248.56 328.5L248.93 328.06L249.31 327.65L249.69 327.27L250.08 326.93L250.48 326.61L250.89 326.3L251.3 326.01L251.73 325.73L252.16 325.46L252.59 325.2L253.04 324.95L253.49 324.72L253.95 324.49L254.42 324.26L254.89 324.05L255.38 323.83L255.87 323.59L256.37 323.35L256.87 323.12L257.38 322.9L257.91 322.72L258.43 322.58L258.97 322.51L259.51 322.51L260.07 322.57L260.62 322.69L261.19 322.85L261.77 323.05L262.35 323.28L262.94 323.53L263.53 323.8L264.14 324.06L264.75 324.41L265.37 324.85L266 325.37L266.63 325.93L267.28 326.52L267.93 327.09L268.58 327.63L269.25 328.1L269.92 328.47L270.6 328.75L271.29 329.04L271.99 329.31L272.69 329.57L273.4 329.8L274.12 329.99L274.85 330.12L275.58 330.19L276.32 330.2L277.07 330.2L277.83 330.19L278.59 330.18L279.37 330.16L280.15 330.14L280.93 330.12L281.73 330.09L282.53 330.06L283.34 330.02L284.16 329.98L284.98 329.94L285.82 329.88L286.66 329.77L287.5 329.58L288.36 329.34L289.22 329.07L290.09 328.78L290.97 328.49L291.86 328.24L292.75 328L293.65 327.74L294.56 327.47L295.48 327.21L296.4 326.98L297.33 326.8L298.27 326.69L299.22 326.63L300.18 326.57L301.14 326.52L302.11 326.48L303.08 326.45L304.07 326.42L305.06 326.39L306.06 326.36L307.07 326.33L308.09 326.29L309.11 326.25L310.14 326.19L311.18 326.13L312.22 326.07L313.28 326L314.34 325.93L315.41 325.85L316.48 325.75L317.57 325.65L318.66 325.5L319.76 325.27L320.86 325.01L321.98 324.83L323.1 324.8L324.23 324.8L325.37 324.8L326.51 324.8L327.66 324.8L328.82 324.8L329.99 324.8L331.17 324.8L332.35 324.8L333.54 324.8L334.74 324.8L335.94 324.8L337.16 324.8L338.38 324.8L339.6 324.8L340.84 324.8L342.08 324.8L343.33 324.8L344.59 324.8L345.86 324.8L347.13 324.8L348.42 324.8L349.7 324.8L351 324.8L352.31 324.8L353.62 324.8L354.94 324.8L356.26 324.8L357.6 324.8L358.94 324.8L360.29 324.8L361.65 324.8L363.02 324.8L364.39 324.8L365.77 324.8L367.16 324.8L368.55 324.8L369.96 324.8L371.37 324.8L372.78 324.8L374.21 324.8L375.64 324.8L377.09 324.8L378.53 324.8L379.99 324.8L381.46 324.8L382.93 324.8L384.41 324.8L385.89 324.8L387.39 324.8L388.89 324.8L390.4 324.8" fill="none" stroke="#ffcc1e" stroke-width="1.7" stroke-linejoin="round"/>
<path d="M238.6 337.05H390.4" stroke="#3db3ec" stroke-width="1.5" stroke-dasharray="3.4 2.8"/>
<path d="M238.6 326.3H390.4" stroke="#3db3ec" stroke-width="1.4"/>
</g>
<rect x="238.6" y="294.1" width="151.8" height="113.5" fill="none" stroke="#262626" stroke-width="1"/>
<path d="M238.6 319h1.6M390.4 319h-1.6M238.6 344.1h1.6M390.4 344.1h-1.6M238.6 404.7h1.6M390.4 404.7h-1.6M246.19 407.6v-1.6M246.19 294.1v1.6M314.5 407.6v-1.6M314.5 294.1v1.6" stroke="#262626" stroke-width=".8"/>
<text x="236.2" y="300.8" font-size="8.8" text-anchor="end" fill="#000" stroke="#000" stroke-width="0.45">0.55</text>
<text x="236.2" y="322.5" font-size="8.8" text-anchor="end" fill="#000" stroke="#000" stroke-width="0.45">0.45</text>
<text x="236.2" y="347.2" font-size="8.8" text-anchor="end" fill="#000" stroke="#000" stroke-width="0.45">0.35</text>
<text x="236.2" y="407.6" font-size="8.8" text-anchor="end" fill="#000" stroke="#000" stroke-width="0.45">0.1</text>
<text x="238.9" y="416.9" font-size="8.8" text-anchor="middle" fill="#000" stroke="#000" stroke-width="0.25">0</text>
<text x="246.59" y="416.9" font-size="8.8" text-anchor="middle" fill="#000" stroke="#000" stroke-width="0.25">5</text>
<text x="314.9" y="416.9" font-size="8.8" text-anchor="middle" fill="#000" stroke="#000" stroke-width="0.25">50</text>
<text x="389.7" y="416.9" font-size="8.8" text-anchor="middle" fill="#000" stroke="#000" stroke-width="0.25">100</text>
<rect x="329" y="360.2" width="57.4" height="44.4" fill="#fff" stroke="#262626" stroke-width=".9"/>
<path d="M331 365.3h14.6" stroke="#ff0000" stroke-width="1.5" stroke-dasharray="3.3 2.4"/>
<text x="347" y="367.76" font-size="8.2" text-anchor="start" fill="#000" stroke="#000" stroke-width="0.25">FWHM-x</text>
<path d="M331 372.12h14.6" stroke="#ffcc1e" stroke-width="1.5" stroke-dasharray="3.3 2.4"/>
<text x="347" y="374.58" font-size="8.2" text-anchor="start" fill="#000" stroke="#000" stroke-width="0.25">FWHM-y</text>
<path d="M331 378.94h14.6" stroke="#ff0000" stroke-width="1.2"/>
<text x="347" y="381.4" font-size="8.2" text-anchor="start" fill="#000" stroke="#000" stroke-width="0.25">R-x</text>
<path d="M331 385.76h14.6" stroke="#ffcc1e" stroke-width="1.5"/>
<text x="347" y="388.22" font-size="8.2" text-anchor="start" fill="#000" stroke="#000" stroke-width="0.25">R-y</text>
<path d="M331 392.58h14.6" stroke="#3db3ec" stroke-width="1.5" stroke-dasharray="3.3 2.4"/>
<text x="347" y="395.04" font-size="8.2" text-anchor="start" fill="#000" stroke="#000" stroke-width="0.25">FWHM-obj</text>
<path d="M331 399.4h14.6" stroke="#3db3ec" stroke-width="1.2"/>
<text x="347" y="401.86" font-size="8.2" text-anchor="start" fill="#000" stroke="#000" stroke-width="0.25">R-obj</text>
<text x="204.9" y="301.09" font-size="12.2" text-anchor="start" fill="#000" stroke="#000" stroke-width="0.55">(h)</text>
<text x="215.03" y="353.4" font-size="11.6" text-anchor="middle" fill="#000" transform="rotate(-90 215.03 353.4)" stroke="#000" stroke-width="0.6">Value (µm)</text>
<text x="315.5" y="427.52" font-size="12" text-anchor="middle" fill="#000" stroke="#000" stroke-width="0.5">Iteration</text>
<defs><clipPath id="clipI"><rect x="424.5" y="293.8" width="145" height="112.7"/></clipPath></defs>
<g clip-path="url(#clipI)">
<path d="M431.9 402.4L432.77 401.12L433.63 399.87L434.5 398.65L435.36 397.46L436.23 396.3L437.09 395.16L437.96 394.06L438.82 392.97L439.69 391.91L440.55 390.88L441.42 389.85L442.28 388.84L443.15 387.88L444.02 386.98L444.88 386.12L445.75 385.28L446.61 384.5L447.48 383.83L448.34 383.31L449.21 382.87L450.07 382.48L450.94 382.15L451.8 381.86L452.67 381.59L453.54 381.32L454.4 381.09L455.27 380.94L456.13 380.91L457 381.13L457.86 381.47L458.73 381.77L459.59 382.08L460.46 382.29L461.32 382.24L462.19 382.04L463.05 381.78L463.92 381.51L464.79 381.17L465.65 380.78L466.52 380.32L467.38 379.79L468.25 379.21L469.11 378.61L469.98 378.01L470.84 377.4L471.71 376.73L472.57 376.04L473.44 375.34L474.31 374.66L475.17 374.01L476.04 373.41L476.9 372.88L477.77 372.41L478.63 371.96L479.5 371.54L480.36 371.14L481.23 370.75L482.09 370.38L482.96 370.02L483.82 369.66L484.69 369.3L485.56 368.96L486.42 368.63L487.29 368.32L488.15 368.03L489.02 367.77L489.88 367.52L490.75 367.3L491.61 367.08L492.48 366.87L493.34 366.68L494.21 366.49L495.07 366.31L495.94 366.13L496.81 365.96L497.67 365.79L498.54 365.63L499.4 365.47L500.27 365.32L501.13 365.18L502 365.05L502.86 364.92L503.73 364.8L504.59 364.68L505.46 364.56L506.33 364.45L507.19 364.34L508.06 364.25L508.92 364.17L509.79 364.1L510.65 364.04L511.52 363.99L512.38 363.94L513.25 363.9L514.11 363.85L514.98 363.81L515.84 363.77L516.71 363.74L517.58 363.7L518.44 363.67L519.31 363.64L520.17 363.61L521.04 363.58L521.9 363.56L522.77 363.53L523.63 363.5L524.5 363.48L525.36 363.45L526.23 363.43L527.09 363.4L527.96 363.38L528.83 363.36L529.69 363.34L530.56 363.31L531.42 363.29L532.29 363.27L533.15 363.25L534.02 363.24L534.88 363.22L535.75 363.2L536.61 363.18L537.48 363.17L538.35 363.15L539.21 363.13L540.08 363.12L540.94 363.1L541.81 363.09L542.67 363.07L543.54 363.06L544.4 363.04L545.27 363.03L546.13 363.01L547 363L547.86 362.98L548.73 362.97L549.6 362.95L550.46 362.94L551.33 362.93L552.19 362.91L553.06 362.9L553.92 362.89L554.79 362.87L555.65 362.86L556.52 362.85L557.38 362.84L558.25 362.82L559.12 362.81L559.98 362.8L560.85 362.79L561.71 362.78L562.58 362.77L563.44 362.76L564.31 362.75L565.17 362.74L566.04 362.73L566.9 362.72L567.77 362.72L568.63 362.71L569.5 362.7" fill="none" stroke="#ff0000" stroke-width="1.3" stroke-linejoin="round"/>
<path d="M431.2 290L431.9 401.9L432.77 400.27L433.63 398.67L434.5 397.11L435.36 395.59L436.23 394.12L437.09 392.69L437.96 391.3L438.82 389.94L439.69 388.6L440.55 387.24L441.42 385.86L442.28 384.49L443.15 383.18L444.02 381.98L444.88 380.82L445.75 379.68L446.61 378.65L447.48 377.79L448.34 377.18L449.21 376.7L450.07 376.28L450.94 375.94L451.8 375.66L452.67 375.41L453.54 375.17L454.4 374.96L455.27 374.83L456.13 374.81L457 375.03L457.86 375.37L458.73 375.67L459.59 375.98L460.46 376.19L461.32 376.12L462.19 375.82L463.05 375.48L463.92 375.14L464.79 374.73L465.65 374.25L466.52 373.64L467.38 372.92L468.25 372.15L469.11 371.36L469.98 370.62L470.84 369.9L471.71 369.18L472.57 368.46L473.44 367.74L474.31 367.03L475.17 366.34L476.04 365.68L476.9 365.06L477.77 364.46L478.63 363.87L479.5 363.3L480.36 362.75L481.23 362.22L482.09 361.71L482.96 361.22L483.82 360.75L484.69 360.31L485.56 359.88L486.42 359.46L487.29 359.05L488.15 358.65L489.02 358.25L489.88 357.83L490.75 357.41L491.61 356.99L492.48 356.57L493.34 356.17L494.21 355.79L495.07 355.43L495.94 355.11L496.81 354.84L497.67 354.59L498.54 354.36L499.4 354.15L500.27 353.96L501.13 353.77L502 353.6L502.86 353.43L503.73 353.26L504.59 353.1L505.46 352.94L506.33 352.79L507.19 352.65L508.06 352.52L508.92 352.4L509.79 352.3L510.65 352.21L511.52 352.13L512.38 352.05L513.25 351.98L514.11 351.91L514.98 351.84L515.84 351.77L516.71 351.71L517.58 351.65L518.44 351.6L519.31 351.55L520.17 351.49L521.04 351.44L521.9 351.4L522.77 351.35L523.63 351.3L524.5 351.26L525.36 351.21L526.23 351.17L527.09 351.13L527.96 351.09L528.83 351.05L529.69 351.01L530.56 350.97L531.42 350.93L532.29 350.89L533.15 350.86L534.02 350.82L534.88 350.79L535.75 350.76L536.61 350.73L537.48 350.7L538.35 350.67L539.21 350.65L540.08 350.62L540.94 350.6L541.81 350.58L542.67 350.56L543.54 350.54L544.4 350.51L545.27 350.49L546.13 350.47L547 350.45L547.86 350.43L548.73 350.41L549.6 350.39L550.46 350.37L551.33 350.35L552.19 350.33L553.06 350.32L553.92 350.3L554.79 350.28L555.65 350.26L556.52 350.25L557.38 350.23L558.25 350.22L559.12 350.2L559.98 350.19L560.85 350.18L561.71 350.17L562.58 350.16L563.44 350.14L564.31 350.14L565.17 350.13L566.04 350.12L566.9 350.11L567.77 350.11L568.63 350.1L569.5 350.1" fill="none" stroke="#3db3ec" stroke-width="1.3" stroke-linejoin="round"/>
</g>
<rect x="424.5" y="293.8" width="145" height="112.7" fill="none" stroke="#262626" stroke-width="1"/>
<path d="M424.5 350.6h1.6M569.5 350.6h-1.6M432.05 406.5v-1.6M432.05 293.8v1.6M496.4 406.5v-1.6M496.4 293.8v1.6" stroke="#262626" stroke-width=".8"/>
<text x="421.8" y="300.57" font-size="8.4" text-anchor="end" fill="#000" stroke="#000" stroke-width="0.25">0.1</text>
<text x="421.8" y="353.27" font-size="8.4" text-anchor="end" fill="#000" stroke="#000" stroke-width="0.25">0.05</text>
<text x="421.8" y="405.17" font-size="8.4" text-anchor="end" fill="#000" stroke="#000" stroke-width="0.25">0</text>
<text x="426.5" y="416.9" font-size="8.8" text-anchor="middle" fill="#000" stroke="#000" stroke-width="0.25">0</text>
<text x="432.65" y="416.9" font-size="8.8" text-anchor="middle" fill="#000" stroke="#000" stroke-width="0.25">5</text>
<text x="496.4" y="416.9" font-size="8.8" text-anchor="middle" fill="#000" stroke="#000" stroke-width="0.25">50</text>
<text x="567" y="416.9" font-size="8.8" text-anchor="middle" fill="#000" stroke="#000" stroke-width="0.25">100</text>
<rect x="541.3" y="297.5" width="24.5" height="23.6" fill="#fff" stroke="#262626" stroke-width=".9"/>
<path d="M544 303.9h13.2" stroke="#ff0000" stroke-width="1.2"/><path d="M544 314.6h13.2" stroke="#3db3ec" stroke-width="1.2"/>
<text x="558.5" y="306.45" font-size="11.6" text-anchor="start" fill="#000" stroke="#000" stroke-width="0.28">x</text>
<text x="558.5" y="317.26" font-size="11.6" text-anchor="start" fill="#000" stroke="#000" stroke-width="0.28">y</text>
<text x="398.6" y="299.39" font-size="11.8" text-anchor="start" fill="#000" stroke="#000" stroke-width="0.28">(i)</text>
<text x="405.02" y="351.2" font-size="11.2" text-anchor="middle" fill="#000" transform="rotate(-90 405.02 351.2)" stroke="#000" stroke-width="0.28">Focusing Efficiency</text>
<text x="497.9" y="427.3" font-size="11.3" text-anchor="middle" fill="#000" stroke="#000" stroke-width="0.28">Iteration</text>
</svg>
</body></html>
